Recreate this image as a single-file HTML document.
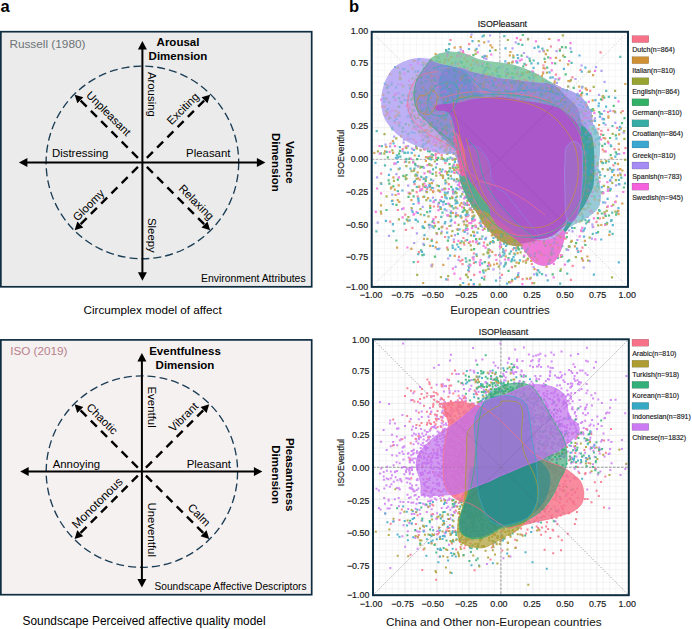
<!DOCTYPE html>
<html><head><meta charset="utf-8"><style>
html,body{margin:0;padding:0;background:#fff;}
svg{display:block;font-family:"Liberation Sans", sans-serif;}
</style></head><body>
<svg width="692" height="629" viewBox="0 0 692 629">
<text x="0.6" y="11.9" font-size="16.5" font-weight="bold">a</text>
<text x="349" y="11.8" font-size="16.5" font-weight="bold">b</text>
<rect x="0.85" y="31.7" width="310.84999999999997" height="255.10000000000002" fill="#eaebea" stroke="#0f2d40" stroke-width="1.7"/>
<circle cx="142.4" cy="162.4" r="96.3" fill="none" stroke="#1b3d55" stroke-width="1.35" stroke-dasharray="8 4"/>
<line x1="142.4" y1="48" x2="142.4" y2="273.8" stroke="#000" stroke-width="2"/>
<line x1="25.9" y1="162.4" x2="258.4" y2="162.4" stroke="#000" stroke-width="2"/>
<polygon points="142.40,41.00 146.90,49.50 137.90,49.50" fill="#000"/>
<polygon points="142.40,280.80 137.90,272.30 146.90,272.30" fill="#000"/>
<polygon points="18.90,162.40 27.40,157.90 27.40,166.90" fill="#000"/>
<polygon points="265.40,162.40 256.90,166.90 256.90,157.90" fill="#000"/>
<line x1="80.66" y1="100.66" x2="140.90" y2="160.90" stroke="#000" stroke-width="2.4" stroke-dasharray="8.5 6"/>
<polygon points="74.66,94.66 83.32,97.31 77.31,103.32" fill="#000"/>
<line x1="204.14" y1="100.66" x2="143.90" y2="160.90" stroke="#000" stroke-width="2.4" stroke-dasharray="8.5 6"/>
<polygon points="210.14,94.66 207.49,103.32 201.48,97.31" fill="#000"/>
<line x1="80.66" y1="224.14" x2="140.90" y2="163.90" stroke="#000" stroke-width="2.4" stroke-dasharray="8.5 6"/>
<polygon points="74.66,230.14 77.31,221.48 83.32,227.49" fill="#000"/>
<line x1="204.14" y1="224.14" x2="143.90" y2="163.90" stroke="#000" stroke-width="2.4" stroke-dasharray="8.5 6"/>
<polygon points="210.14,230.14 201.48,227.49 207.49,221.48" fill="#000"/>
<text x="9.4" y="48.2" font-size="11.8" font-weight="normal" fill="#6e7478" text-anchor="start">Russell (1980)</text>
<text x="178" y="45.6" font-size="11.5" font-weight="bold" fill="#000" text-anchor="middle">Arousal</text>
<text x="178" y="60.0" font-size="11.5" font-weight="bold" fill="#000" text-anchor="middle">Dimension</text>
<text x="286" y="162.3" font-size="11.5" font-weight="bold" fill="#000" text-anchor="middle" transform="rotate(90 286 162.3)">Valence</text>
<text x="272" y="162.3" font-size="11.5" font-weight="bold" fill="#000" text-anchor="middle" transform="rotate(90 272 162.3)">Dimension</text>
<text x="148.2" y="71.9" font-size="11.4" font-weight="normal" fill="#000" text-anchor="start" transform="rotate(90 148.2 71.9)">Arousing</text>
<text x="148.2" y="218" font-size="11.4" font-weight="normal" fill="#000" text-anchor="start" transform="rotate(90 148.2 218)">Sleepy</text>
<text x="52" y="157" font-size="11.4" font-weight="normal" fill="#000" text-anchor="start">Distressing</text>
<text x="186.1" y="157.3" font-size="11.4" font-weight="normal" fill="#000" text-anchor="start">Pleasant</text>
<text x="85.4" y="96" font-size="11.4" font-weight="normal" fill="#000" text-anchor="start" transform="rotate(45 85.4 96)">Unpleasant</text>
<text x="171.6" y="125.4" font-size="11.4" font-weight="normal" fill="#000" text-anchor="start" transform="rotate(-45 171.6 125.4)">Exciting</text>
<text x="77.4" y="221.8" font-size="11.4" font-weight="normal" fill="#000" text-anchor="start" transform="rotate(-45 77.4 221.8)">Gloomy</text>
<text x="178" y="189.3" font-size="11.4" font-weight="normal" fill="#000" text-anchor="start" transform="rotate(45 178 189.3)">Relaxing</text>
<text x="305.6" y="281.8" font-size="10.4" font-weight="normal" fill="#000" text-anchor="end">Environment Attributes</text>
<text x="152.6" y="313.8" font-size="11.7" font-weight="normal" fill="#000" text-anchor="middle">Circumplex model of affect</text>
<rect x="0.85" y="339.9" width="310.84999999999997" height="254.80000000000007" fill="#f6f1f1" stroke="#0f2d40" stroke-width="1.7"/>
<circle cx="141.9" cy="471.6" r="95.7" fill="none" stroke="#1b3d55" stroke-width="1.35" stroke-dasharray="8 4"/>
<line x1="141.9" y1="360.1" x2="141.9" y2="580.5" stroke="#000" stroke-width="2"/>
<line x1="27.2" y1="471.6" x2="255.39999999999998" y2="471.6" stroke="#000" stroke-width="2"/>
<polygon points="141.90,353.10 146.40,361.60 137.40,361.60" fill="#000"/>
<polygon points="141.90,587.50 137.40,579.00 146.40,579.00" fill="#000"/>
<polygon points="20.20,471.60 28.70,467.10 28.70,476.10" fill="#000"/>
<polygon points="262.40,471.60 253.90,476.10 253.90,467.10" fill="#000"/>
<line x1="80.58" y1="410.28" x2="140.40" y2="470.10" stroke="#000" stroke-width="2.4" stroke-dasharray="8.5 6"/>
<polygon points="74.58,404.28 83.25,406.94 77.24,412.95" fill="#000"/>
<line x1="203.22" y1="410.28" x2="143.40" y2="470.10" stroke="#000" stroke-width="2.4" stroke-dasharray="8.5 6"/>
<polygon points="209.22,404.28 206.56,412.95 200.55,406.94" fill="#000"/>
<line x1="80.58" y1="532.92" x2="140.40" y2="473.10" stroke="#000" stroke-width="2.4" stroke-dasharray="8.5 6"/>
<polygon points="74.58,538.92 77.24,530.25 83.25,536.26" fill="#000"/>
<line x1="203.22" y1="532.92" x2="143.40" y2="473.10" stroke="#000" stroke-width="2.4" stroke-dasharray="8.5 6"/>
<polygon points="209.22,538.92 200.55,536.26 206.56,530.25" fill="#000"/>
<text x="10.2" y="355.2" font-size="11.7" font-weight="normal" fill="#b77f8b" text-anchor="start">ISO (2019)</text>
<text x="185" y="355" font-size="11.5" font-weight="bold" fill="#000" text-anchor="middle">Eventfulness</text>
<text x="185" y="368.5" font-size="11.5" font-weight="bold" fill="#000" text-anchor="middle">Dimension</text>
<text x="286" y="474.7" font-size="11.5" font-weight="bold" fill="#000" text-anchor="middle" transform="rotate(90 286 474.7)">Pleasantness</text>
<text x="272" y="474.7" font-size="11.5" font-weight="bold" fill="#000" text-anchor="middle" transform="rotate(90 272 474.7)">Dimension</text>
<text x="147.5" y="386.5" font-size="11.4" font-weight="normal" fill="#000" text-anchor="start" transform="rotate(90 147.5 386.5)">Eventful</text>
<text x="147.5" y="502.5" font-size="11.4" font-weight="normal" fill="#000" text-anchor="start" transform="rotate(90 147.5 502.5)">Uneventful</text>
<text x="52.7" y="467.5" font-size="11.4" font-weight="normal" fill="#000" text-anchor="start">Annoying</text>
<text x="186.7" y="467.7" font-size="11.4" font-weight="normal" fill="#000" text-anchor="start">Pleasant</text>
<text x="85.7" y="408" font-size="11.4" font-weight="normal" fill="#000" text-anchor="start" transform="rotate(45 85.7 408)">Chaotic</text>
<text x="173.6" y="432.4" font-size="11.4" font-weight="normal" fill="#000" text-anchor="start" transform="rotate(-45 173.6 432.4)">Vibrant</text>
<text x="76.8" y="529.2" font-size="12" font-weight="normal" fill="#000" text-anchor="start" transform="rotate(-45 76.8 529.2)">Monotonous</text>
<text x="187" y="508.3" font-size="11.4" font-weight="normal" fill="#000" text-anchor="start" transform="rotate(45 187 508.3)">Calm</text>
<text x="306.6" y="590.4" font-size="10.2" font-weight="normal" fill="#000" text-anchor="end">Soundscape Affective Descriptors</text>
<text x="144.1" y="625.2" font-size="11.9" font-weight="normal" fill="#000" text-anchor="middle">Soundscape Perceived affective quality model</text>
<clipPath id="c1"><rect x="371.7" y="31.8" width="256.3" height="255.09999999999997"/></clipPath>
<rect x="371.7" y="31.8" width="256.3" height="255.09999999999997" fill="#fff"/>
<g><line x1="371.70" y1="31.8" x2="371.70" y2="286.9" stroke="#ececec" stroke-width="0.7"/><line x1="371.7" y1="286.90" x2="628.0" y2="286.90" stroke="#ececec" stroke-width="0.7"/><line x1="378.11" y1="31.8" x2="378.11" y2="286.9" stroke="#f4f4f4" stroke-width="0.7"/><line x1="371.7" y1="280.52" x2="628.0" y2="280.52" stroke="#f4f4f4" stroke-width="0.7"/><line x1="384.51" y1="31.8" x2="384.51" y2="286.9" stroke="#f4f4f4" stroke-width="0.7"/><line x1="371.7" y1="274.14" x2="628.0" y2="274.14" stroke="#f4f4f4" stroke-width="0.7"/><line x1="390.92" y1="31.8" x2="390.92" y2="286.9" stroke="#f4f4f4" stroke-width="0.7"/><line x1="371.7" y1="267.77" x2="628.0" y2="267.77" stroke="#f4f4f4" stroke-width="0.7"/><line x1="397.33" y1="31.8" x2="397.33" y2="286.9" stroke="#f4f4f4" stroke-width="0.7"/><line x1="371.7" y1="261.39" x2="628.0" y2="261.39" stroke="#f4f4f4" stroke-width="0.7"/><line x1="403.74" y1="31.8" x2="403.74" y2="286.9" stroke="#ececec" stroke-width="0.7"/><line x1="371.7" y1="255.01" x2="628.0" y2="255.01" stroke="#ececec" stroke-width="0.7"/><line x1="410.14" y1="31.8" x2="410.14" y2="286.9" stroke="#f4f4f4" stroke-width="0.7"/><line x1="371.7" y1="248.63" x2="628.0" y2="248.63" stroke="#f4f4f4" stroke-width="0.7"/><line x1="416.55" y1="31.8" x2="416.55" y2="286.9" stroke="#f4f4f4" stroke-width="0.7"/><line x1="371.7" y1="242.26" x2="628.0" y2="242.26" stroke="#f4f4f4" stroke-width="0.7"/><line x1="422.96" y1="31.8" x2="422.96" y2="286.9" stroke="#f4f4f4" stroke-width="0.7"/><line x1="371.7" y1="235.88" x2="628.0" y2="235.88" stroke="#f4f4f4" stroke-width="0.7"/><line x1="429.37" y1="31.8" x2="429.37" y2="286.9" stroke="#f4f4f4" stroke-width="0.7"/><line x1="371.7" y1="229.50" x2="628.0" y2="229.50" stroke="#f4f4f4" stroke-width="0.7"/><line x1="435.77" y1="31.8" x2="435.77" y2="286.9" stroke="#ececec" stroke-width="0.7"/><line x1="371.7" y1="223.12" x2="628.0" y2="223.12" stroke="#ececec" stroke-width="0.7"/><line x1="442.18" y1="31.8" x2="442.18" y2="286.9" stroke="#f4f4f4" stroke-width="0.7"/><line x1="371.7" y1="216.75" x2="628.0" y2="216.75" stroke="#f4f4f4" stroke-width="0.7"/><line x1="448.59" y1="31.8" x2="448.59" y2="286.9" stroke="#f4f4f4" stroke-width="0.7"/><line x1="371.7" y1="210.37" x2="628.0" y2="210.37" stroke="#f4f4f4" stroke-width="0.7"/><line x1="455.00" y1="31.8" x2="455.00" y2="286.9" stroke="#f4f4f4" stroke-width="0.7"/><line x1="371.7" y1="203.99" x2="628.0" y2="203.99" stroke="#f4f4f4" stroke-width="0.7"/><line x1="461.40" y1="31.8" x2="461.40" y2="286.9" stroke="#f4f4f4" stroke-width="0.7"/><line x1="371.7" y1="197.61" x2="628.0" y2="197.61" stroke="#f4f4f4" stroke-width="0.7"/><line x1="467.81" y1="31.8" x2="467.81" y2="286.9" stroke="#ececec" stroke-width="0.7"/><line x1="371.7" y1="191.24" x2="628.0" y2="191.24" stroke="#ececec" stroke-width="0.7"/><line x1="474.22" y1="31.8" x2="474.22" y2="286.9" stroke="#f4f4f4" stroke-width="0.7"/><line x1="371.7" y1="184.86" x2="628.0" y2="184.86" stroke="#f4f4f4" stroke-width="0.7"/><line x1="480.63" y1="31.8" x2="480.63" y2="286.9" stroke="#f4f4f4" stroke-width="0.7"/><line x1="371.7" y1="178.48" x2="628.0" y2="178.48" stroke="#f4f4f4" stroke-width="0.7"/><line x1="487.03" y1="31.8" x2="487.03" y2="286.9" stroke="#f4f4f4" stroke-width="0.7"/><line x1="371.7" y1="172.10" x2="628.0" y2="172.10" stroke="#f4f4f4" stroke-width="0.7"/><line x1="493.44" y1="31.8" x2="493.44" y2="286.9" stroke="#f4f4f4" stroke-width="0.7"/><line x1="371.7" y1="165.73" x2="628.0" y2="165.73" stroke="#f4f4f4" stroke-width="0.7"/><line x1="499.85" y1="31.8" x2="499.85" y2="286.9" stroke="#ececec" stroke-width="0.7"/><line x1="371.7" y1="159.35" x2="628.0" y2="159.35" stroke="#ececec" stroke-width="0.7"/><line x1="506.26" y1="31.8" x2="506.26" y2="286.9" stroke="#f4f4f4" stroke-width="0.7"/><line x1="371.7" y1="152.97" x2="628.0" y2="152.97" stroke="#f4f4f4" stroke-width="0.7"/><line x1="512.66" y1="31.8" x2="512.66" y2="286.9" stroke="#f4f4f4" stroke-width="0.7"/><line x1="371.7" y1="146.59" x2="628.0" y2="146.59" stroke="#f4f4f4" stroke-width="0.7"/><line x1="519.07" y1="31.8" x2="519.07" y2="286.9" stroke="#f4f4f4" stroke-width="0.7"/><line x1="371.7" y1="140.22" x2="628.0" y2="140.22" stroke="#f4f4f4" stroke-width="0.7"/><line x1="525.48" y1="31.8" x2="525.48" y2="286.9" stroke="#f4f4f4" stroke-width="0.7"/><line x1="371.7" y1="133.84" x2="628.0" y2="133.84" stroke="#f4f4f4" stroke-width="0.7"/><line x1="531.89" y1="31.8" x2="531.89" y2="286.9" stroke="#ececec" stroke-width="0.7"/><line x1="371.7" y1="127.46" x2="628.0" y2="127.46" stroke="#ececec" stroke-width="0.7"/><line x1="538.30" y1="31.8" x2="538.30" y2="286.9" stroke="#f4f4f4" stroke-width="0.7"/><line x1="371.7" y1="121.08" x2="628.0" y2="121.08" stroke="#f4f4f4" stroke-width="0.7"/><line x1="544.70" y1="31.8" x2="544.70" y2="286.9" stroke="#f4f4f4" stroke-width="0.7"/><line x1="371.7" y1="114.71" x2="628.0" y2="114.71" stroke="#f4f4f4" stroke-width="0.7"/><line x1="551.11" y1="31.8" x2="551.11" y2="286.9" stroke="#f4f4f4" stroke-width="0.7"/><line x1="371.7" y1="108.33" x2="628.0" y2="108.33" stroke="#f4f4f4" stroke-width="0.7"/><line x1="557.52" y1="31.8" x2="557.52" y2="286.9" stroke="#f4f4f4" stroke-width="0.7"/><line x1="371.7" y1="101.95" x2="628.0" y2="101.95" stroke="#f4f4f4" stroke-width="0.7"/><line x1="563.92" y1="31.8" x2="563.92" y2="286.9" stroke="#ececec" stroke-width="0.7"/><line x1="371.7" y1="95.57" x2="628.0" y2="95.57" stroke="#ececec" stroke-width="0.7"/><line x1="570.33" y1="31.8" x2="570.33" y2="286.9" stroke="#f4f4f4" stroke-width="0.7"/><line x1="371.7" y1="89.20" x2="628.0" y2="89.20" stroke="#f4f4f4" stroke-width="0.7"/><line x1="576.74" y1="31.8" x2="576.74" y2="286.9" stroke="#f4f4f4" stroke-width="0.7"/><line x1="371.7" y1="82.82" x2="628.0" y2="82.82" stroke="#f4f4f4" stroke-width="0.7"/><line x1="583.15" y1="31.8" x2="583.15" y2="286.9" stroke="#f4f4f4" stroke-width="0.7"/><line x1="371.7" y1="76.44" x2="628.0" y2="76.44" stroke="#f4f4f4" stroke-width="0.7"/><line x1="589.56" y1="31.8" x2="589.56" y2="286.9" stroke="#f4f4f4" stroke-width="0.7"/><line x1="371.7" y1="70.06" x2="628.0" y2="70.06" stroke="#f4f4f4" stroke-width="0.7"/><line x1="595.96" y1="31.8" x2="595.96" y2="286.9" stroke="#ececec" stroke-width="0.7"/><line x1="371.7" y1="63.69" x2="628.0" y2="63.69" stroke="#ececec" stroke-width="0.7"/><line x1="602.37" y1="31.8" x2="602.37" y2="286.9" stroke="#f4f4f4" stroke-width="0.7"/><line x1="371.7" y1="57.31" x2="628.0" y2="57.31" stroke="#f4f4f4" stroke-width="0.7"/><line x1="608.78" y1="31.8" x2="608.78" y2="286.9" stroke="#f4f4f4" stroke-width="0.7"/><line x1="371.7" y1="50.93" x2="628.0" y2="50.93" stroke="#f4f4f4" stroke-width="0.7"/><line x1="615.19" y1="31.8" x2="615.19" y2="286.9" stroke="#f4f4f4" stroke-width="0.7"/><line x1="371.7" y1="44.55" x2="628.0" y2="44.55" stroke="#f4f4f4" stroke-width="0.7"/><line x1="621.59" y1="31.8" x2="621.59" y2="286.9" stroke="#f4f4f4" stroke-width="0.7"/><line x1="371.7" y1="38.18" x2="628.0" y2="38.18" stroke="#f4f4f4" stroke-width="0.7"/><line x1="628.00" y1="31.8" x2="628.00" y2="286.9" stroke="#ececec" stroke-width="0.7"/><line x1="371.7" y1="31.80" x2="628.0" y2="31.80" stroke="#ececec" stroke-width="0.7"/></g>
<line x1="371.7" y1="31.8" x2="628.0" y2="286.9" stroke="#c2c2c2" stroke-width="0.7" stroke-dasharray="1.2 1.6"/>
<line x1="371.7" y1="286.9" x2="628.0" y2="31.8" stroke="#c2c2c2" stroke-width="0.7" stroke-dasharray="1.2 1.6"/>
<line x1="499.85" y1="31.8" x2="499.85" y2="286.9" stroke="#9a9a9a" stroke-width="0.8" stroke-dasharray="2.5 1.5"/>
<line x1="371.7" y1="159.35" x2="628.0" y2="159.35" stroke="#9a9a9a" stroke-width="0.8" stroke-dasharray="2.5 1.5"/>
<g clip-path="url(#c1)"><g id="dots1" opacity="0.8"><path d="M506.9 122.2h2.2v2.2h-2.2zM486.7 166.2h2.2v2.2h-2.2zM562.5 171.3h2.2v2.2h-2.2zM567.5 179.1h2.2v2.2h-2.2zM561.6 162.2h2.2v2.2h-2.2zM441.1 139.0h2.2v2.2h-2.2zM579.8 250.0h2.2v2.2h-2.2zM445.7 227.4h2.2v2.2h-2.2zM393.7 115.6h2.2v2.2h-2.2zM438.6 76.6h2.2v2.2h-2.2zM537.4 182.0h2.2v2.2h-2.2zM597.3 128.1h2.2v2.2h-2.2zM455.5 118.6h2.2v2.2h-2.2zM482.9 180.3h2.2v2.2h-2.2zM564.7 116.9h2.2v2.2h-2.2zM462.3 236.9h2.2v2.2h-2.2zM579.5 152.1h2.2v2.2h-2.2zM492.5 161.9h2.2v2.2h-2.2zM499.0 219.8h2.2v2.2h-2.2zM585.1 131.1h2.2v2.2h-2.2zM497.9 83.9h2.2v2.2h-2.2zM499.1 218.7h2.2v2.2h-2.2zM578.1 170.8h2.2v2.2h-2.2zM537.3 196.3h2.2v2.2h-2.2zM523.2 78.6h2.2v2.2h-2.2zM460.9 100.3h2.2v2.2h-2.2zM516.3 175.7h2.2v2.2h-2.2zM439.5 86.3h2.2v2.2h-2.2zM490.0 176.1h2.2v2.2h-2.2zM585.0 151.2h2.2v2.2h-2.2zM463.2 118.4h2.2v2.2h-2.2zM542.3 166.5h2.2v2.2h-2.2zM482.9 241.6h2.2v2.2h-2.2zM530.3 93.0h2.2v2.2h-2.2zM558.1 154.8h2.2v2.2h-2.2zM458.0 148.6h2.2v2.2h-2.2zM532.1 75.1h2.2v2.2h-2.2zM537.5 84.4h2.2v2.2h-2.2zM451.6 124.4h2.2v2.2h-2.2zM524.3 104.2h2.2v2.2h-2.2zM565.2 161.4h2.2v2.2h-2.2zM548.5 258.0h2.2v2.2h-2.2zM539.4 250.2h2.2v2.2h-2.2zM465.8 212.8h2.2v2.2h-2.2zM504.6 249.4h2.2v2.2h-2.2zM489.8 75.4h2.2v2.2h-2.2zM621.6 109.9h2.2v2.2h-2.2zM596.5 164.2h2.2v2.2h-2.2zM396.8 208.9h2.2v2.2h-2.2zM477.6 99.6h2.2v2.2h-2.2zM496.1 209.5h2.2v2.2h-2.2zM560.6 213.5h2.2v2.2h-2.2zM601.6 148.5h2.2v2.2h-2.2zM607.1 128.8h2.2v2.2h-2.2zM498.8 224.8h2.2v2.2h-2.2zM476.5 161.5h2.2v2.2h-2.2zM471.0 113.8h2.2v2.2h-2.2zM525.0 63.9h2.2v2.2h-2.2zM538.5 170.8h2.2v2.2h-2.2zM544.2 105.4h2.2v2.2h-2.2zM552.2 161.8h2.2v2.2h-2.2zM405.8 104.6h2.2v2.2h-2.2zM555.2 212.3h2.2v2.2h-2.2zM485.1 192.4h2.2v2.2h-2.2zM562.7 181.4h2.2v2.2h-2.2zM487.4 206.1h2.2v2.2h-2.2zM531.6 180.7h2.2v2.2h-2.2zM502.3 204.8h2.2v2.2h-2.2zM441.3 91.0h2.2v2.2h-2.2zM511.3 205.1h2.2v2.2h-2.2zM432.1 189.9h2.2v2.2h-2.2zM441.7 129.6h2.2v2.2h-2.2zM493.8 175.2h2.2v2.2h-2.2zM494.6 165.2h2.2v2.2h-2.2zM432.8 205.4h2.2v2.2h-2.2zM505.0 155.5h2.2v2.2h-2.2zM552.9 205.3h2.2v2.2h-2.2zM417.8 251.1h2.2v2.2h-2.2zM432.6 102.2h2.2v2.2h-2.2zM450.2 118.9h2.2v2.2h-2.2zM588.3 128.4h2.2v2.2h-2.2zM508.9 105.9h2.2v2.2h-2.2zM536.5 153.4h2.2v2.2h-2.2zM430.7 238.4h2.2v2.2h-2.2zM416.6 74.7h2.2v2.2h-2.2zM447.3 128.4h2.2v2.2h-2.2zM471.6 256.5h2.2v2.2h-2.2zM468.1 43.1h2.2v2.2h-2.2zM380.1 172.5h2.2v2.2h-2.2zM468.5 116.9h2.2v2.2h-2.2zM525.6 128.4h2.2v2.2h-2.2zM490.6 184.0h2.2v2.2h-2.2zM501.3 134.0h2.2v2.2h-2.2zM483.5 76.0h2.2v2.2h-2.2zM485.7 150.6h2.2v2.2h-2.2zM577.2 197.9h2.2v2.2h-2.2zM473.0 166.0h2.2v2.2h-2.2zM510.7 87.3h2.2v2.2h-2.2zM476.6 186.8h2.2v2.2h-2.2zM520.1 169.7h2.2v2.2h-2.2zM535.4 251.1h2.2v2.2h-2.2zM471.3 211.4h2.2v2.2h-2.2zM465.8 181.1h2.2v2.2h-2.2zM473.1 273.7h2.2v2.2h-2.2zM511.8 248.4h2.2v2.2h-2.2zM446.5 139.3h2.2v2.2h-2.2zM509.1 197.7h2.2v2.2h-2.2zM575.7 193.7h2.2v2.2h-2.2zM549.4 177.3h2.2v2.2h-2.2zM514.9 91.4h2.2v2.2h-2.2zM484.9 159.7h2.2v2.2h-2.2zM491.5 232.2h2.2v2.2h-2.2zM560.6 224.3h2.2v2.2h-2.2zM567.0 123.7h2.2v2.2h-2.2zM523.8 145.6h2.2v2.2h-2.2zM580.8 212.7h2.2v2.2h-2.2zM464.4 99.3h2.2v2.2h-2.2zM423.1 116.8h2.2v2.2h-2.2zM612.4 110.1h2.2v2.2h-2.2zM488.2 129.1h2.2v2.2h-2.2zM385.9 112.3h2.2v2.2h-2.2zM511.6 226.6h2.2v2.2h-2.2zM488.8 105.2h2.2v2.2h-2.2zM467.9 270.3h2.2v2.2h-2.2zM497.2 130.4h2.2v2.2h-2.2zM498.0 212.1h2.2v2.2h-2.2zM480.9 162.9h2.2v2.2h-2.2zM529.2 211.8h2.2v2.2h-2.2zM477.8 194.1h2.2v2.2h-2.2zM457.7 169.0h2.2v2.2h-2.2zM485.8 161.1h2.2v2.2h-2.2zM509.1 148.0h2.2v2.2h-2.2zM488.5 129.5h2.2v2.2h-2.2zM446.8 109.8h2.2v2.2h-2.2zM525.7 107.8h2.2v2.2h-2.2zM527.5 200.9h2.2v2.2h-2.2zM557.2 183.3h2.2v2.2h-2.2zM539.7 165.3h2.2v2.2h-2.2zM505.5 203.8h2.2v2.2h-2.2zM547.8 129.0h2.2v2.2h-2.2zM506.4 139.9h2.2v2.2h-2.2zM571.3 76.3h2.2v2.2h-2.2zM595.4 220.8h2.2v2.2h-2.2zM535.7 259.2h2.2v2.2h-2.2zM565.2 147.9h2.2v2.2h-2.2zM517.4 275.7h2.2v2.2h-2.2zM557.3 167.2h2.2v2.2h-2.2zM477.2 111.0h2.2v2.2h-2.2zM470.8 134.2h2.2v2.2h-2.2zM471.5 165.9h2.2v2.2h-2.2zM601.2 98.5h2.2v2.2h-2.2zM471.1 176.3h2.2v2.2h-2.2zM561.5 202.5h2.2v2.2h-2.2zM509.1 83.7h2.2v2.2h-2.2zM415.6 191.0h2.2v2.2h-2.2zM549.1 194.7h2.2v2.2h-2.2zM580.5 230.0h2.2v2.2h-2.2zM579.7 148.5h2.2v2.2h-2.2zM431.4 107.4h2.2v2.2h-2.2zM500.5 192.8h2.2v2.2h-2.2zM576.0 210.8h2.2v2.2h-2.2zM528.4 146.0h2.2v2.2h-2.2zM573.2 185.5h2.2v2.2h-2.2zM508.6 182.4h2.2v2.2h-2.2zM482.8 120.8h2.2v2.2h-2.2zM562.1 134.5h2.2v2.2h-2.2zM542.6 150.7h2.2v2.2h-2.2zM612.3 164.2h2.2v2.2h-2.2zM474.6 114.3h2.2v2.2h-2.2zM518.4 176.0h2.2v2.2h-2.2zM445.7 145.1h2.2v2.2h-2.2zM585.5 88.4h2.2v2.2h-2.2zM459.3 260.1h2.2v2.2h-2.2zM447.8 183.0h2.2v2.2h-2.2zM514.4 234.0h2.2v2.2h-2.2zM470.5 142.1h2.2v2.2h-2.2zM587.6 220.8h2.2v2.2h-2.2zM549.8 128.4h2.2v2.2h-2.2zM569.9 174.3h2.2v2.2h-2.2zM422.9 177.5h2.2v2.2h-2.2zM478.5 222.1h2.2v2.2h-2.2zM411.3 226.7h2.2v2.2h-2.2zM407.1 103.6h2.2v2.2h-2.2zM458.2 173.0h2.2v2.2h-2.2zM530.8 262.9h2.2v2.2h-2.2zM551.5 170.1h2.2v2.2h-2.2zM445.9 246.5h2.2v2.2h-2.2zM557.4 227.2h2.2v2.2h-2.2zM519.0 223.7h2.2v2.2h-2.2zM559.4 192.2h2.2v2.2h-2.2zM404.9 145.5h2.2v2.2h-2.2zM461.3 108.0h2.2v2.2h-2.2zM389.4 142.4h2.2v2.2h-2.2zM469.2 97.4h2.2v2.2h-2.2zM569.8 201.6h2.2v2.2h-2.2zM476.4 114.4h2.2v2.2h-2.2zM434.4 83.1h2.2v2.2h-2.2zM547.7 178.9h2.2v2.2h-2.2zM514.5 96.0h2.2v2.2h-2.2zM518.5 172.1h2.2v2.2h-2.2zM485.1 153.2h2.2v2.2h-2.2zM574.7 140.5h2.2v2.2h-2.2zM462.7 203.4h2.2v2.2h-2.2zM455.0 214.0h2.2v2.2h-2.2zM497.8 107.8h2.2v2.2h-2.2zM478.5 212.5h2.2v2.2h-2.2zM534.8 210.9h2.2v2.2h-2.2zM527.5 91.3h2.2v2.2h-2.2zM480.4 103.2h2.2v2.2h-2.2zM519.3 209.5h2.2v2.2h-2.2zM435.9 158.3h2.2v2.2h-2.2zM467.9 77.4h2.2v2.2h-2.2zM446.6 278.5h2.2v2.2h-2.2zM514.8 246.8h2.2v2.2h-2.2zM563.0 170.0h2.2v2.2h-2.2zM539.2 168.7h2.2v2.2h-2.2zM543.6 194.0h2.2v2.2h-2.2zM453.6 120.4h2.2v2.2h-2.2zM548.1 161.3h2.2v2.2h-2.2zM617.3 210.4h2.2v2.2h-2.2zM521.2 196.2h2.2v2.2h-2.2zM486.9 160.9h2.2v2.2h-2.2zM523.9 239.7h2.2v2.2h-2.2zM571.2 198.1h2.2v2.2h-2.2zM411.1 84.5h2.2v2.2h-2.2zM508.0 98.9h2.2v2.2h-2.2zM418.7 178.6h2.2v2.2h-2.2zM583.0 150.5h2.2v2.2h-2.2zM562.5 98.6h2.2v2.2h-2.2zM551.4 144.6h2.2v2.2h-2.2zM569.8 113.4h2.2v2.2h-2.2zM412.7 138.6h2.2v2.2h-2.2zM593.8 173.3h2.2v2.2h-2.2zM565.4 147.6h2.2v2.2h-2.2zM583.4 142.6h2.2v2.2h-2.2zM473.2 106.4h2.2v2.2h-2.2zM552.1 159.0h2.2v2.2h-2.2zM542.7 159.1h2.2v2.2h-2.2zM550.8 196.2h2.2v2.2h-2.2zM479.2 115.4h2.2v2.2h-2.2zM505.0 150.3h2.2v2.2h-2.2zM494.3 214.7h2.2v2.2h-2.2zM508.7 130.6h2.2v2.2h-2.2zM468.6 144.9h2.2v2.2h-2.2zM473.1 138.9h2.2v2.2h-2.2zM494.5 254.1h2.2v2.2h-2.2zM558.1 129.1h2.2v2.2h-2.2zM563.0 237.0h2.2v2.2h-2.2zM430.8 101.7h2.2v2.2h-2.2zM422.2 96.1h2.2v2.2h-2.2zM508.6 196.2h2.2v2.2h-2.2zM483.5 275.6h2.2v2.2h-2.2zM584.6 194.3h2.2v2.2h-2.2zM469.5 102.2h2.2v2.2h-2.2zM433.8 66.3h2.2v2.2h-2.2zM583.1 166.5h2.2v2.2h-2.2zM456.0 90.2h2.2v2.2h-2.2zM425.1 98.0h2.2v2.2h-2.2zM579.0 188.0h2.2v2.2h-2.2zM559.8 255.8h2.2v2.2h-2.2zM468.5 166.8h2.2v2.2h-2.2zM539.6 201.7h2.2v2.2h-2.2zM586.3 199.0h2.2v2.2h-2.2zM556.6 216.5h2.2v2.2h-2.2zM579.9 188.3h2.2v2.2h-2.2zM533.3 201.3h2.2v2.2h-2.2zM486.6 85.4h2.2v2.2h-2.2zM501.2 105.2h2.2v2.2h-2.2zM593.3 119.6h2.2v2.2h-2.2zM444.1 145.7h2.2v2.2h-2.2zM461.3 258.8h2.2v2.2h-2.2zM560.9 211.6h2.2v2.2h-2.2zM511.8 80.5h2.2v2.2h-2.2zM591.3 190.5h2.2v2.2h-2.2zM491.5 167.0h2.2v2.2h-2.2zM504.5 142.7h2.2v2.2h-2.2zM449.4 38.9h2.2v2.2h-2.2zM484.7 215.3h2.2v2.2h-2.2zM437.0 205.3h2.2v2.2h-2.2zM536.3 73.9h2.2v2.2h-2.2zM541.5 196.5h2.2v2.2h-2.2zM517.4 103.9h2.2v2.2h-2.2zM487.5 124.5h2.2v2.2h-2.2zM602.3 136.9h2.2v2.2h-2.2zM521.5 278.0h2.2v2.2h-2.2zM478.4 164.2h2.2v2.2h-2.2zM576.7 196.0h2.2v2.2h-2.2zM556.0 101.9h2.2v2.2h-2.2zM564.7 161.5h2.2v2.2h-2.2zM558.2 160.4h2.2v2.2h-2.2zM593.5 156.0h2.2v2.2h-2.2zM517.5 238.1h2.2v2.2h-2.2zM434.7 216.0h2.2v2.2h-2.2zM542.3 64.4h2.2v2.2h-2.2zM548.6 213.7h2.2v2.2h-2.2zM482.2 175.1h2.2v2.2h-2.2zM506.8 221.2h2.2v2.2h-2.2zM404.8 228.7h2.2v2.2h-2.2zM401.6 148.0h2.2v2.2h-2.2zM554.6 200.1h2.2v2.2h-2.2zM535.8 176.7h2.2v2.2h-2.2zM416.9 70.8h2.2v2.2h-2.2zM540.7 168.4h2.2v2.2h-2.2zM515.3 152.2h2.2v2.2h-2.2zM552.3 146.9h2.2v2.2h-2.2zM438.1 121.4h2.2v2.2h-2.2zM439.8 116.6h2.2v2.2h-2.2zM452.9 179.3h2.2v2.2h-2.2zM474.2 188.5h2.2v2.2h-2.2zM550.1 155.0h2.2v2.2h-2.2zM505.7 79.0h2.2v2.2h-2.2zM453.4 132.0h2.2v2.2h-2.2zM500.0 167.3h2.2v2.2h-2.2zM461.3 104.5h2.2v2.2h-2.2zM581.2 176.5h2.2v2.2h-2.2zM499.7 212.9h2.2v2.2h-2.2zM465.3 160.6h2.2v2.2h-2.2zM518.8 132.8h2.2v2.2h-2.2zM547.2 91.9h2.2v2.2h-2.2zM500.9 273.7h2.2v2.2h-2.2zM469.2 184.5h2.2v2.2h-2.2zM464.4 239.6h2.2v2.2h-2.2zM526.7 237.3h2.2v2.2h-2.2zM486.5 152.4h2.2v2.2h-2.2zM557.6 210.2h2.2v2.2h-2.2zM486.3 66.0h2.2v2.2h-2.2zM465.6 104.3h2.2v2.2h-2.2zM504.9 166.7h2.2v2.2h-2.2zM507.9 240.7h2.2v2.2h-2.2zM566.4 130.3h2.2v2.2h-2.2zM527.6 146.1h2.2v2.2h-2.2zM624.4 147.0h2.2v2.2h-2.2zM440.8 195.9h2.2v2.2h-2.2zM482.4 70.2h2.2v2.2h-2.2zM551.2 126.0h2.2v2.2h-2.2zM518.4 98.3h2.2v2.2h-2.2zM532.2 154.6h2.2v2.2h-2.2zM467.1 193.0h2.2v2.2h-2.2zM469.5 207.3h2.2v2.2h-2.2zM544.5 112.4h2.2v2.2h-2.2zM486.6 173.3h2.2v2.2h-2.2zM561.3 190.5h2.2v2.2h-2.2zM540.9 180.7h2.2v2.2h-2.2zM404.2 213.5h2.2v2.2h-2.2zM598.8 217.4h2.2v2.2h-2.2zM496.1 170.8h2.2v2.2h-2.2zM532.3 79.8h2.2v2.2h-2.2zM509.7 206.2h2.2v2.2h-2.2zM517.9 187.5h2.2v2.2h-2.2zM453.4 145.6h2.2v2.2h-2.2zM519.0 156.4h2.2v2.2h-2.2zM444.3 162.1h2.2v2.2h-2.2zM425.8 188.1h2.2v2.2h-2.2zM489.2 122.6h2.2v2.2h-2.2zM525.9 177.3h2.2v2.2h-2.2zM580.2 93.1h2.2v2.2h-2.2zM440.5 105.4h2.2v2.2h-2.2zM528.2 134.4h2.2v2.2h-2.2zM526.0 79.8h2.2v2.2h-2.2zM465.3 98.3h2.2v2.2h-2.2zM459.8 95.2h2.2v2.2h-2.2zM581.3 246.6h2.2v2.2h-2.2zM512.7 179.6h2.2v2.2h-2.2zM393.9 94.1h2.2v2.2h-2.2zM437.3 137.8h2.2v2.2h-2.2zM553.1 222.2h2.2v2.2h-2.2zM506.8 62.2h2.2v2.2h-2.2zM455.0 100.9h2.2v2.2h-2.2zM532.6 144.2h2.2v2.2h-2.2zM467.2 189.6h2.2v2.2h-2.2zM515.6 243.0h2.2v2.2h-2.2zM458.3 66.5h2.2v2.2h-2.2zM567.2 108.1h2.2v2.2h-2.2zM483.8 161.0h2.2v2.2h-2.2zM509.9 110.1h2.2v2.2h-2.2zM571.3 159.3h2.2v2.2h-2.2zM498.1 144.6h2.2v2.2h-2.2zM522.4 111.3h2.2v2.2h-2.2zM558.7 141.0h2.2v2.2h-2.2zM530.6 163.7h2.2v2.2h-2.2zM452.8 129.0h2.2v2.2h-2.2zM511.1 101.2h2.2v2.2h-2.2zM475.9 137.1h2.2v2.2h-2.2zM434.6 153.0h2.2v2.2h-2.2zM575.0 220.1h2.2v2.2h-2.2zM490.0 221.1h2.2v2.2h-2.2zM413.5 183.0h2.2v2.2h-2.2zM515.3 201.8h2.2v2.2h-2.2zM455.6 168.1h2.2v2.2h-2.2zM491.8 202.6h2.2v2.2h-2.2zM547.3 164.9h2.2v2.2h-2.2zM519.0 89.8h2.2v2.2h-2.2zM472.8 261.8h2.2v2.2h-2.2zM389.1 220.6h2.2v2.2h-2.2zM526.7 136.3h2.2v2.2h-2.2zM590.2 209.2h2.2v2.2h-2.2zM508.6 145.3h2.2v2.2h-2.2zM516.6 127.3h2.2v2.2h-2.2zM491.2 215.7h2.2v2.2h-2.2zM472.0 59.6h2.2v2.2h-2.2zM594.4 155.3h2.2v2.2h-2.2zM550.8 181.9h2.2v2.2h-2.2zM538.0 117.8h2.2v2.2h-2.2zM552.2 181.3h2.2v2.2h-2.2zM574.6 142.4h2.2v2.2h-2.2zM394.0 121.5h2.2v2.2h-2.2zM410.8 112.3h2.2v2.2h-2.2zM576.8 249.9h2.2v2.2h-2.2zM445.4 148.1h2.2v2.2h-2.2zM444.0 235.9h2.2v2.2h-2.2zM568.1 161.6h2.2v2.2h-2.2zM471.9 130.8h2.2v2.2h-2.2zM532.3 97.9h2.2v2.2h-2.2zM529.7 195.3h2.2v2.2h-2.2zM599.5 51.3h2.2v2.2h-2.2zM500.1 191.3h2.2v2.2h-2.2zM423.7 148.3h2.2v2.2h-2.2zM435.8 109.2h2.2v2.2h-2.2zM463.2 243.5h2.2v2.2h-2.2zM554.8 73.6h2.2v2.2h-2.2zM515.9 194.6h2.2v2.2h-2.2zM501.9 184.9h2.2v2.2h-2.2zM493.4 121.6h2.2v2.2h-2.2zM477.6 121.3h2.2v2.2h-2.2zM397.1 105.7h2.2v2.2h-2.2zM493.0 192.0h2.2v2.2h-2.2zM564.0 192.8h2.2v2.2h-2.2zM493.6 181.0h2.2v2.2h-2.2zM485.1 94.0h2.2v2.2h-2.2zM487.3 148.4h2.2v2.2h-2.2zM497.1 233.6h2.2v2.2h-2.2zM492.4 211.3h2.2v2.2h-2.2zM517.2 160.3h2.2v2.2h-2.2zM568.4 189.4h2.2v2.2h-2.2zM418.3 185.5h2.2v2.2h-2.2zM471.8 240.3h2.2v2.2h-2.2zM464.9 158.3h2.2v2.2h-2.2zM559.6 144.2h2.2v2.2h-2.2zM472.8 252.4h2.2v2.2h-2.2zM573.0 113.9h2.2v2.2h-2.2zM584.9 168.4h2.2v2.2h-2.2zM398.8 76.2h2.2v2.2h-2.2zM549.8 131.5h2.2v2.2h-2.2zM558.9 48.2h2.2v2.2h-2.2zM567.1 158.9h2.2v2.2h-2.2zM568.1 150.3h2.2v2.2h-2.2zM553.0 117.6h2.2v2.2h-2.2zM504.7 262.3h2.2v2.2h-2.2zM422.7 94.7h2.2v2.2h-2.2zM530.9 110.7h2.2v2.2h-2.2zM450.3 210.6h2.2v2.2h-2.2zM616.1 126.7h2.2v2.2h-2.2zM460.9 187.3h2.2v2.2h-2.2zM413.5 59.9h2.2v2.2h-2.2zM563.8 222.9h2.2v2.2h-2.2zM452.1 191.2h2.2v2.2h-2.2zM516.3 154.3h2.2v2.2h-2.2zM461.9 121.2h2.2v2.2h-2.2zM572.9 114.7h2.2v2.2h-2.2zM547.8 85.3h2.2v2.2h-2.2zM428.8 185.7h2.2v2.2h-2.2zM505.1 140.1h2.2v2.2h-2.2zM524.0 250.3h2.2v2.2h-2.2zM531.3 213.2h2.2v2.2h-2.2zM537.5 152.7h2.2v2.2h-2.2zM456.3 54.3h2.2v2.2h-2.2zM535.0 175.8h2.2v2.2h-2.2zM517.8 116.1h2.2v2.2h-2.2zM454.5 132.9h2.2v2.2h-2.2zM491.6 105.7h2.2v2.2h-2.2zM525.0 259.4h2.2v2.2h-2.2zM585.3 103.5h2.2v2.2h-2.2zM552.3 230.4h2.2v2.2h-2.2zM424.9 112.6h2.2v2.2h-2.2zM509.8 169.6h2.2v2.2h-2.2zM497.0 178.9h2.2v2.2h-2.2zM476.5 84.6h2.2v2.2h-2.2zM596.6 181.5h2.2v2.2h-2.2zM531.9 163.4h2.2v2.2h-2.2zM462.1 51.7h2.2v2.2h-2.2zM500.4 85.2h2.2v2.2h-2.2zM546.9 235.1h2.2v2.2h-2.2zM500.1 147.6h2.2v2.2h-2.2zM490.1 129.1h2.2v2.2h-2.2zM464.0 195.6h2.2v2.2h-2.2zM590.6 195.0h2.2v2.2h-2.2zM459.6 99.5h2.2v2.2h-2.2zM519.0 75.6h2.2v2.2h-2.2zM403.9 160.8h2.2v2.2h-2.2zM443.6 130.5h2.2v2.2h-2.2zM466.6 215.0h2.2v2.2h-2.2zM478.9 184.1h2.2v2.2h-2.2zM569.8 278.7h2.2v2.2h-2.2zM475.9 144.3h2.2v2.2h-2.2zM528.4 254.9h2.2v2.2h-2.2zM600.3 129.7h2.2v2.2h-2.2zM492.3 207.9h2.2v2.2h-2.2zM517.4 175.4h2.2v2.2h-2.2zM574.0 167.8h2.2v2.2h-2.2zM542.4 237.2h2.2v2.2h-2.2zM586.1 187.2h2.2v2.2h-2.2zM549.8 164.2h2.2v2.2h-2.2zM459.0 51.4h2.2v2.2h-2.2zM593.9 169.0h2.2v2.2h-2.2zM533.3 180.4h2.2v2.2h-2.2zM473.0 207.9h2.2v2.2h-2.2zM456.4 227.9h2.2v2.2h-2.2zM435.1 104.6h2.2v2.2h-2.2zM503.0 122.2h2.2v2.2h-2.2zM427.0 77.5h2.2v2.2h-2.2zM464.6 141.7h2.2v2.2h-2.2zM487.4 217.5h2.2v2.2h-2.2zM510.8 266.0h2.2v2.2h-2.2zM531.2 282.1h2.2v2.2h-2.2zM552.7 230.5h2.2v2.2h-2.2zM457.0 62.7h2.2v2.2h-2.2zM565.9 108.0h2.2v2.2h-2.2zM549.8 45.4h2.2v2.2h-2.2zM518.3 167.4h2.2v2.2h-2.2zM562.3 125.2h2.2v2.2h-2.2zM518.7 79.4h2.2v2.2h-2.2zM479.9 210.5h2.2v2.2h-2.2zM487.3 148.7h2.2v2.2h-2.2zM490.1 181.5h2.2v2.2h-2.2zM613.4 148.1h2.2v2.2h-2.2zM489.2 249.3h2.2v2.2h-2.2zM434.8 115.6h2.2v2.2h-2.2zM544.5 222.6h2.2v2.2h-2.2zM483.2 222.5h2.2v2.2h-2.2zM518.9 243.6h2.2v2.2h-2.2zM498.9 172.7h2.2v2.2h-2.2zM452.9 240.9h2.2v2.2h-2.2zM535.1 96.1h2.2v2.2h-2.2zM547.8 96.4h2.2v2.2h-2.2zM411.8 148.2h2.2v2.2h-2.2zM508.2 131.3h2.2v2.2h-2.2zM471.7 201.7h2.2v2.2h-2.2zM440.6 154.0h2.2v2.2h-2.2zM494.0 118.1h2.2v2.2h-2.2zM461.5 263.1h2.2v2.2h-2.2zM566.9 209.3h2.2v2.2h-2.2zM381.4 105.5h2.2v2.2h-2.2zM527.2 177.7h2.2v2.2h-2.2zM485.8 124.2h2.2v2.2h-2.2zM552.6 91.8h2.2v2.2h-2.2zM544.0 67.4h2.2v2.2h-2.2zM455.3 199.4h2.2v2.2h-2.2zM494.2 190.6h2.2v2.2h-2.2zM406.8 137.8h2.2v2.2h-2.2zM525.1 140.4h2.2v2.2h-2.2zM506.5 136.8h2.2v2.2h-2.2zM584.8 116.5h2.2v2.2h-2.2zM580.9 165.8h2.2v2.2h-2.2zM475.5 201.8h2.2v2.2h-2.2zM501.2 194.6h2.2v2.2h-2.2zM514.2 170.5h2.2v2.2h-2.2zM452.9 131.2h2.2v2.2h-2.2zM460.4 126.5h2.2v2.2h-2.2zM578.6 108.0h2.2v2.2h-2.2zM579.4 68.9h2.2v2.2h-2.2zM509.7 91.9h2.2v2.2h-2.2zM548.2 229.0h2.2v2.2h-2.2zM548.5 139.8h2.2v2.2h-2.2zM583.5 159.8h2.2v2.2h-2.2zM589.1 89.8h2.2v2.2h-2.2zM580.4 153.8h2.2v2.2h-2.2zM518.0 100.1h2.2v2.2h-2.2zM570.3 185.5h2.2v2.2h-2.2zM571.2 200.4h2.2v2.2h-2.2zM564.4 237.5h2.2v2.2h-2.2zM398.0 121.4h2.2v2.2h-2.2zM586.4 177.2h2.2v2.2h-2.2zM486.4 122.0h2.2v2.2h-2.2zM493.6 162.0h2.2v2.2h-2.2zM606.9 111.0h2.2v2.2h-2.2zM535.2 105.5h2.2v2.2h-2.2zM436.0 116.2h2.2v2.2h-2.2zM497.6 102.0h2.2v2.2h-2.2zM453.7 108.9h2.2v2.2h-2.2zM458.5 152.4h2.2v2.2h-2.2zM561.2 191.6h2.2v2.2h-2.2zM524.6 177.3h2.2v2.2h-2.2zM518.5 88.7h2.2v2.2h-2.2zM423.9 123.9h2.2v2.2h-2.2zM539.6 146.4h2.2v2.2h-2.2zM437.4 152.0h2.2v2.2h-2.2zM507.9 103.6h2.2v2.2h-2.2zM470.8 202.5h2.2v2.2h-2.2zM453.4 98.2h2.2v2.2h-2.2zM477.0 63.3h2.2v2.2h-2.2zM490.5 174.0h2.2v2.2h-2.2zM512.1 179.4h2.2v2.2h-2.2zM534.2 114.5h2.2v2.2h-2.2zM515.1 130.8h2.2v2.2h-2.2zM542.1 71.2h2.2v2.2h-2.2zM530.3 191.5h2.2v2.2h-2.2zM539.6 189.5h2.2v2.2h-2.2zM456.0 163.8h2.2v2.2h-2.2zM531.3 227.6h2.2v2.2h-2.2zM495.5 205.8h2.2v2.2h-2.2zM522.1 218.3h2.2v2.2h-2.2zM536.9 112.7h2.2v2.2h-2.2zM422.7 120.3h2.2v2.2h-2.2zM440.2 116.2h2.2v2.2h-2.2zM510.4 187.8h2.2v2.2h-2.2zM451.0 195.8h2.2v2.2h-2.2zM458.0 255.8h2.2v2.2h-2.2zM498.8 152.7h2.2v2.2h-2.2zM521.6 112.3h2.2v2.2h-2.2zM519.5 38.7h2.2v2.2h-2.2zM529.5 203.2h2.2v2.2h-2.2zM592.1 225.8h2.2v2.2h-2.2zM468.1 176.3h2.2v2.2h-2.2zM476.4 172.8h2.2v2.2h-2.2zM553.3 230.9h2.2v2.2h-2.2zM473.8 168.6h2.2v2.2h-2.2zM444.4 118.0h2.2v2.2h-2.2zM511.8 60.5h2.2v2.2h-2.2zM460.4 150.6h2.2v2.2h-2.2zM499.1 235.3h2.2v2.2h-2.2zM555.4 117.3h2.2v2.2h-2.2zM562.5 223.0h2.2v2.2h-2.2zM435.1 156.8h2.2v2.2h-2.2zM599.9 133.3h2.2v2.2h-2.2zM550.3 179.4h2.2v2.2h-2.2zM560.4 158.9h2.2v2.2h-2.2zM504.5 153.2h2.2v2.2h-2.2zM578.6 128.9h2.2v2.2h-2.2zM474.6 77.9h2.2v2.2h-2.2zM544.6 235.4h2.2v2.2h-2.2zM409.3 192.4h2.2v2.2h-2.2zM541.8 107.9h2.2v2.2h-2.2zM571.6 209.5h2.2v2.2h-2.2zM547.7 223.4h2.2v2.2h-2.2zM441.4 225.6h2.2v2.2h-2.2zM416.6 195.2h2.2v2.2h-2.2zM416.9 260.7h2.2v2.2h-2.2zM594.2 143.6h2.2v2.2h-2.2zM495.7 192.5h2.2v2.2h-2.2zM504.2 179.8h2.2v2.2h-2.2zM558.7 122.5h2.2v2.2h-2.2zM482.4 85.9h2.2v2.2h-2.2zM536.2 269.0h2.2v2.2h-2.2zM454.5 169.4h2.2v2.2h-2.2zM442.3 113.1h2.2v2.2h-2.2zM411.6 127.2h2.2v2.2h-2.2zM478.1 117.8h2.2v2.2h-2.2zM494.6 147.3h2.2v2.2h-2.2zM462.8 180.4h2.2v2.2h-2.2zM565.6 231.9h2.2v2.2h-2.2zM496.4 221.3h2.2v2.2h-2.2zM452.3 104.3h2.2v2.2h-2.2zM498.5 145.3h2.2v2.2h-2.2zM422.2 185.3h2.2v2.2h-2.2zM526.6 162.1h2.2v2.2h-2.2zM597.6 171.2h2.2v2.2h-2.2zM468.4 54.6h2.2v2.2h-2.2zM468.7 186.9h2.2v2.2h-2.2zM467.8 203.9h2.2v2.2h-2.2zM531.9 154.2h2.2v2.2h-2.2zM461.8 151.9h2.2v2.2h-2.2zM574.8 120.2h2.2v2.2h-2.2zM408.7 106.6h2.2v2.2h-2.2zM568.0 206.8h2.2v2.2h-2.2zM571.6 264.8h2.2v2.2h-2.2zM524.5 90.9h2.2v2.2h-2.2zM423.3 68.2h2.2v2.2h-2.2zM494.9 217.4h2.2v2.2h-2.2zM511.0 187.8h2.2v2.2h-2.2zM499.1 241.6h2.2v2.2h-2.2zM555.2 193.0h2.2v2.2h-2.2zM465.1 215.3h2.2v2.2h-2.2zM533.8 192.3h2.2v2.2h-2.2zM451.7 146.7h2.2v2.2h-2.2z" fill="#f77189"/><path d="M516.9 217.4h2.2v2.2h-2.2zM520.1 99.3h2.2v2.2h-2.2zM601.2 144.8h2.2v2.2h-2.2zM558.3 194.4h2.2v2.2h-2.2zM453.9 75.3h2.2v2.2h-2.2zM464.4 73.7h2.2v2.2h-2.2zM401.5 130.5h2.2v2.2h-2.2zM410.7 92.2h2.2v2.2h-2.2zM511.3 72.4h2.2v2.2h-2.2zM514.4 111.2h2.2v2.2h-2.2zM557.5 223.2h2.2v2.2h-2.2zM544.5 119.8h2.2v2.2h-2.2zM438.5 132.5h2.2v2.2h-2.2zM532.5 241.1h2.2v2.2h-2.2zM483.7 131.6h2.2v2.2h-2.2zM469.4 111.2h2.2v2.2h-2.2zM521.6 82.1h2.2v2.2h-2.2zM498.0 192.3h2.2v2.2h-2.2zM455.5 200.6h2.2v2.2h-2.2zM500.2 200.3h2.2v2.2h-2.2zM529.6 191.6h2.2v2.2h-2.2zM562.9 218.1h2.2v2.2h-2.2zM389.0 116.9h2.2v2.2h-2.2zM526.2 139.9h2.2v2.2h-2.2zM507.4 198.0h2.2v2.2h-2.2zM476.7 143.3h2.2v2.2h-2.2zM463.8 114.9h2.2v2.2h-2.2zM609.0 136.9h2.2v2.2h-2.2zM515.3 184.5h2.2v2.2h-2.2zM444.5 118.0h2.2v2.2h-2.2zM439.8 131.6h2.2v2.2h-2.2zM518.0 170.6h2.2v2.2h-2.2zM503.6 240.3h2.2v2.2h-2.2zM558.8 49.6h2.2v2.2h-2.2zM501.0 166.4h2.2v2.2h-2.2zM545.0 151.2h2.2v2.2h-2.2zM511.4 135.6h2.2v2.2h-2.2zM522.7 255.6h2.2v2.2h-2.2zM525.0 217.4h2.2v2.2h-2.2zM489.3 120.2h2.2v2.2h-2.2zM416.2 158.0h2.2v2.2h-2.2zM563.9 100.9h2.2v2.2h-2.2zM496.8 238.9h2.2v2.2h-2.2zM508.2 182.8h2.2v2.2h-2.2zM477.1 187.9h2.2v2.2h-2.2zM553.1 116.4h2.2v2.2h-2.2zM538.2 149.0h2.2v2.2h-2.2zM564.7 46.2h2.2v2.2h-2.2zM484.4 151.5h2.2v2.2h-2.2zM409.7 98.6h2.2v2.2h-2.2zM507.8 92.4h2.2v2.2h-2.2zM494.7 234.2h2.2v2.2h-2.2zM507.4 269.8h2.2v2.2h-2.2zM549.2 122.9h2.2v2.2h-2.2zM501.2 97.2h2.2v2.2h-2.2zM516.0 118.1h2.2v2.2h-2.2zM479.4 149.5h2.2v2.2h-2.2zM494.4 211.0h2.2v2.2h-2.2zM520.6 231.2h2.2v2.2h-2.2zM460.8 61.6h2.2v2.2h-2.2zM492.4 134.7h2.2v2.2h-2.2zM542.8 131.9h2.2v2.2h-2.2zM473.9 73.2h2.2v2.2h-2.2zM398.1 97.1h2.2v2.2h-2.2zM547.5 241.5h2.2v2.2h-2.2zM506.4 129.1h2.2v2.2h-2.2zM513.4 238.5h2.2v2.2h-2.2zM464.9 79.1h2.2v2.2h-2.2zM552.0 232.1h2.2v2.2h-2.2zM477.0 162.8h2.2v2.2h-2.2zM477.0 141.0h2.2v2.2h-2.2zM532.0 188.9h2.2v2.2h-2.2zM473.6 196.6h2.2v2.2h-2.2zM557.4 100.1h2.2v2.2h-2.2zM511.1 130.0h2.2v2.2h-2.2zM501.1 167.4h2.2v2.2h-2.2zM547.1 56.3h2.2v2.2h-2.2zM385.9 86.8h2.2v2.2h-2.2zM500.2 216.4h2.2v2.2h-2.2zM473.4 150.8h2.2v2.2h-2.2zM451.4 123.5h2.2v2.2h-2.2zM493.7 103.2h2.2v2.2h-2.2zM573.6 173.1h2.2v2.2h-2.2zM511.0 178.1h2.2v2.2h-2.2zM523.7 155.6h2.2v2.2h-2.2zM429.2 206.8h2.2v2.2h-2.2zM513.1 205.6h2.2v2.2h-2.2zM539.7 126.9h2.2v2.2h-2.2zM386.7 156.2h2.2v2.2h-2.2zM531.9 82.7h2.2v2.2h-2.2zM513.7 104.5h2.2v2.2h-2.2zM525.2 186.7h2.2v2.2h-2.2zM520.7 126.7h2.2v2.2h-2.2zM533.6 255.4h2.2v2.2h-2.2zM405.7 218.6h2.2v2.2h-2.2zM394.5 98.7h2.2v2.2h-2.2zM525.8 213.5h2.2v2.2h-2.2zM506.0 190.0h2.2v2.2h-2.2zM558.0 193.4h2.2v2.2h-2.2zM527.8 96.1h2.2v2.2h-2.2zM495.8 126.9h2.2v2.2h-2.2zM556.2 123.7h2.2v2.2h-2.2zM490.4 129.8h2.2v2.2h-2.2zM515.4 146.9h2.2v2.2h-2.2zM598.0 209.0h2.2v2.2h-2.2zM550.2 213.0h2.2v2.2h-2.2zM422.4 117.7h2.2v2.2h-2.2zM451.9 144.2h2.2v2.2h-2.2zM590.0 108.9h2.2v2.2h-2.2zM575.0 143.0h2.2v2.2h-2.2zM610.0 145.1h2.2v2.2h-2.2zM444.9 127.1h2.2v2.2h-2.2zM508.5 252.5h2.2v2.2h-2.2zM424.6 179.8h2.2v2.2h-2.2zM546.8 161.3h2.2v2.2h-2.2zM591.6 163.4h2.2v2.2h-2.2zM518.7 208.6h2.2v2.2h-2.2zM521.7 33.9h2.2v2.2h-2.2zM556.9 154.2h2.2v2.2h-2.2zM540.0 133.6h2.2v2.2h-2.2zM545.8 132.0h2.2v2.2h-2.2zM542.8 157.1h2.2v2.2h-2.2zM494.6 182.7h2.2v2.2h-2.2zM512.1 93.7h2.2v2.2h-2.2zM577.6 174.3h2.2v2.2h-2.2zM487.0 184.8h2.2v2.2h-2.2zM420.6 81.9h2.2v2.2h-2.2zM466.2 141.6h2.2v2.2h-2.2zM402.2 174.8h2.2v2.2h-2.2zM509.2 229.7h2.2v2.2h-2.2zM581.0 91.8h2.2v2.2h-2.2zM537.0 45.5h2.2v2.2h-2.2zM515.1 183.2h2.2v2.2h-2.2zM510.6 149.9h2.2v2.2h-2.2zM468.3 173.0h2.2v2.2h-2.2zM524.3 216.5h2.2v2.2h-2.2zM584.2 243.9h2.2v2.2h-2.2zM433.9 255.5h2.2v2.2h-2.2zM534.9 198.8h2.2v2.2h-2.2zM521.8 217.3h2.2v2.2h-2.2zM607.9 214.4h2.2v2.2h-2.2zM548.7 216.3h2.2v2.2h-2.2zM515.9 205.1h2.2v2.2h-2.2zM484.1 138.9h2.2v2.2h-2.2zM564.6 142.0h2.2v2.2h-2.2zM424.8 89.4h2.2v2.2h-2.2zM509.8 186.2h2.2v2.2h-2.2zM598.1 110.9h2.2v2.2h-2.2zM494.3 161.7h2.2v2.2h-2.2zM479.3 82.8h2.2v2.2h-2.2zM523.6 164.7h2.2v2.2h-2.2zM579.1 202.8h2.2v2.2h-2.2zM446.6 143.3h2.2v2.2h-2.2zM423.0 243.8h2.2v2.2h-2.2zM488.4 67.4h2.2v2.2h-2.2zM407.0 94.8h2.2v2.2h-2.2zM558.8 148.3h2.2v2.2h-2.2zM509.7 139.3h2.2v2.2h-2.2zM555.3 140.0h2.2v2.2h-2.2zM498.3 109.4h2.2v2.2h-2.2zM440.5 139.0h2.2v2.2h-2.2zM422.1 63.7h2.2v2.2h-2.2zM544.8 112.8h2.2v2.2h-2.2zM595.5 178.8h2.2v2.2h-2.2zM459.1 151.5h2.2v2.2h-2.2zM517.3 93.8h2.2v2.2h-2.2zM486.4 251.3h2.2v2.2h-2.2zM549.6 161.9h2.2v2.2h-2.2zM575.2 150.5h2.2v2.2h-2.2zM452.5 133.9h2.2v2.2h-2.2zM540.0 92.5h2.2v2.2h-2.2zM522.1 207.2h2.2v2.2h-2.2zM483.1 278.2h2.2v2.2h-2.2zM415.1 145.3h2.2v2.2h-2.2zM491.9 84.3h2.2v2.2h-2.2zM449.1 197.2h2.2v2.2h-2.2zM524.8 250.5h2.2v2.2h-2.2zM600.7 212.4h2.2v2.2h-2.2zM473.9 179.9h2.2v2.2h-2.2zM448.4 203.4h2.2v2.2h-2.2zM508.3 170.6h2.2v2.2h-2.2zM474.1 203.2h2.2v2.2h-2.2zM560.8 211.5h2.2v2.2h-2.2zM589.1 203.1h2.2v2.2h-2.2zM407.4 195.8h2.2v2.2h-2.2zM451.0 110.8h2.2v2.2h-2.2zM520.8 99.6h2.2v2.2h-2.2zM424.3 135.5h2.2v2.2h-2.2zM445.0 49.1h2.2v2.2h-2.2zM564.5 207.9h2.2v2.2h-2.2zM520.7 163.8h2.2v2.2h-2.2zM548.3 194.9h2.2v2.2h-2.2zM483.7 261.0h2.2v2.2h-2.2zM428.5 163.6h2.2v2.2h-2.2zM442.3 158.0h2.2v2.2h-2.2zM583.6 129.9h2.2v2.2h-2.2zM490.7 200.1h2.2v2.2h-2.2zM465.3 136.1h2.2v2.2h-2.2zM518.8 166.9h2.2v2.2h-2.2zM528.8 71.0h2.2v2.2h-2.2zM431.9 154.0h2.2v2.2h-2.2zM435.9 99.0h2.2v2.2h-2.2zM484.5 194.2h2.2v2.2h-2.2zM411.7 97.2h2.2v2.2h-2.2zM550.8 104.4h2.2v2.2h-2.2zM493.7 179.4h2.2v2.2h-2.2zM437.9 201.7h2.2v2.2h-2.2zM515.4 229.3h2.2v2.2h-2.2zM419.9 249.3h2.2v2.2h-2.2zM573.7 198.0h2.2v2.2h-2.2zM506.2 163.4h2.2v2.2h-2.2zM499.0 158.4h2.2v2.2h-2.2zM538.9 109.3h2.2v2.2h-2.2zM561.0 255.2h2.2v2.2h-2.2zM521.5 71.9h2.2v2.2h-2.2zM500.7 101.6h2.2v2.2h-2.2zM498.1 149.0h2.2v2.2h-2.2zM430.5 124.7h2.2v2.2h-2.2zM492.8 200.2h2.2v2.2h-2.2zM580.9 179.7h2.2v2.2h-2.2zM507.3 256.9h2.2v2.2h-2.2zM529.2 147.5h2.2v2.2h-2.2zM405.4 173.9h2.2v2.2h-2.2zM569.1 201.4h2.2v2.2h-2.2zM600.8 191.3h2.2v2.2h-2.2zM425.5 112.1h2.2v2.2h-2.2zM487.4 141.2h2.2v2.2h-2.2zM535.0 192.5h2.2v2.2h-2.2zM487.2 202.2h2.2v2.2h-2.2zM435.9 158.9h2.2v2.2h-2.2zM516.3 208.2h2.2v2.2h-2.2zM449.0 148.2h2.2v2.2h-2.2zM542.3 224.0h2.2v2.2h-2.2zM488.4 177.8h2.2v2.2h-2.2zM493.5 156.1h2.2v2.2h-2.2zM479.1 176.4h2.2v2.2h-2.2zM556.4 116.8h2.2v2.2h-2.2zM454.6 215.5h2.2v2.2h-2.2zM509.8 200.6h2.2v2.2h-2.2zM509.1 209.5h2.2v2.2h-2.2zM450.2 185.7h2.2v2.2h-2.2zM502.6 228.5h2.2v2.2h-2.2zM498.9 75.3h2.2v2.2h-2.2zM560.9 223.1h2.2v2.2h-2.2zM512.3 160.9h2.2v2.2h-2.2zM439.6 116.4h2.2v2.2h-2.2zM559.6 187.2h2.2v2.2h-2.2zM484.4 68.7h2.2v2.2h-2.2zM434.0 109.0h2.2v2.2h-2.2zM516.7 246.1h2.2v2.2h-2.2zM525.0 108.3h2.2v2.2h-2.2zM520.4 172.7h2.2v2.2h-2.2zM564.6 73.2h2.2v2.2h-2.2zM475.0 238.0h2.2v2.2h-2.2zM520.0 171.2h2.2v2.2h-2.2zM524.2 144.0h2.2v2.2h-2.2zM501.2 186.8h2.2v2.2h-2.2zM412.2 160.6h2.2v2.2h-2.2zM556.9 256.9h2.2v2.2h-2.2zM487.7 112.1h2.2v2.2h-2.2zM463.1 65.7h2.2v2.2h-2.2zM548.8 175.6h2.2v2.2h-2.2zM407.3 132.8h2.2v2.2h-2.2zM446.8 239.5h2.2v2.2h-2.2zM398.1 105.5h2.2v2.2h-2.2zM533.6 222.3h2.2v2.2h-2.2zM542.4 151.1h2.2v2.2h-2.2zM495.6 157.1h2.2v2.2h-2.2zM535.7 203.7h2.2v2.2h-2.2zM468.6 259.3h2.2v2.2h-2.2zM477.7 123.2h2.2v2.2h-2.2zM447.2 151.5h2.2v2.2h-2.2zM510.1 81.3h2.2v2.2h-2.2zM463.9 155.8h2.2v2.2h-2.2zM577.8 183.8h2.2v2.2h-2.2zM523.3 226.4h2.2v2.2h-2.2zM488.3 162.1h2.2v2.2h-2.2zM566.6 179.0h2.2v2.2h-2.2zM548.8 258.7h2.2v2.2h-2.2zM430.6 239.7h2.2v2.2h-2.2zM559.3 269.9h2.2v2.2h-2.2zM561.9 124.9h2.2v2.2h-2.2zM603.2 96.5h2.2v2.2h-2.2zM522.2 218.3h2.2v2.2h-2.2zM544.3 182.7h2.2v2.2h-2.2zM460.7 116.0h2.2v2.2h-2.2zM546.6 182.3h2.2v2.2h-2.2zM604.7 214.7h2.2v2.2h-2.2zM471.2 137.5h2.2v2.2h-2.2zM521.2 210.4h2.2v2.2h-2.2zM477.9 146.0h2.2v2.2h-2.2zM446.3 83.5h2.2v2.2h-2.2zM612.6 104.8h2.2v2.2h-2.2zM446.1 85.9h2.2v2.2h-2.2zM564.3 210.7h2.2v2.2h-2.2zM451.8 98.3h2.2v2.2h-2.2zM572.3 161.1h2.2v2.2h-2.2zM431.4 220.8h2.2v2.2h-2.2zM468.5 94.5h2.2v2.2h-2.2zM510.9 259.1h2.2v2.2h-2.2zM493.9 112.4h2.2v2.2h-2.2zM530.8 132.0h2.2v2.2h-2.2zM596.8 217.1h2.2v2.2h-2.2zM495.5 138.1h2.2v2.2h-2.2zM501.2 169.8h2.2v2.2h-2.2zM565.7 236.1h2.2v2.2h-2.2zM478.3 109.4h2.2v2.2h-2.2zM412.5 195.3h2.2v2.2h-2.2zM469.8 110.0h2.2v2.2h-2.2zM465.8 225.1h2.2v2.2h-2.2zM552.9 121.5h2.2v2.2h-2.2zM482.8 34.4h2.2v2.2h-2.2zM449.5 215.3h2.2v2.2h-2.2zM529.8 133.6h2.2v2.2h-2.2zM448.4 137.8h2.2v2.2h-2.2zM570.0 199.3h2.2v2.2h-2.2zM583.1 158.5h2.2v2.2h-2.2zM473.0 248.1h2.2v2.2h-2.2zM475.0 199.2h2.2v2.2h-2.2zM485.9 130.3h2.2v2.2h-2.2zM551.6 137.4h2.2v2.2h-2.2zM473.7 117.4h2.2v2.2h-2.2zM421.3 254.0h2.2v2.2h-2.2zM549.6 87.8h2.2v2.2h-2.2zM478.3 195.0h2.2v2.2h-2.2zM543.0 224.0h2.2v2.2h-2.2zM509.4 177.9h2.2v2.2h-2.2zM581.0 219.2h2.2v2.2h-2.2zM572.7 86.8h2.2v2.2h-2.2zM398.7 71.3h2.2v2.2h-2.2zM448.4 163.1h2.2v2.2h-2.2zM486.9 90.9h2.2v2.2h-2.2zM507.0 120.4h2.2v2.2h-2.2zM586.5 220.6h2.2v2.2h-2.2zM486.6 184.3h2.2v2.2h-2.2zM557.3 181.0h2.2v2.2h-2.2zM533.2 150.1h2.2v2.2h-2.2zM379.9 152.3h2.2v2.2h-2.2zM480.9 138.1h2.2v2.2h-2.2zM571.1 155.4h2.2v2.2h-2.2zM428.7 150.4h2.2v2.2h-2.2zM466.6 213.4h2.2v2.2h-2.2zM565.7 200.1h2.2v2.2h-2.2zM525.9 225.7h2.2v2.2h-2.2zM573.4 226.9h2.2v2.2h-2.2zM511.0 278.7h2.2v2.2h-2.2zM427.0 98.4h2.2v2.2h-2.2zM453.5 69.2h2.2v2.2h-2.2zM524.3 169.4h2.2v2.2h-2.2zM466.8 199.4h2.2v2.2h-2.2zM460.0 138.3h2.2v2.2h-2.2zM506.2 90.4h2.2v2.2h-2.2zM483.4 155.1h2.2v2.2h-2.2zM486.4 182.8h2.2v2.2h-2.2zM573.6 179.4h2.2v2.2h-2.2zM514.1 204.9h2.2v2.2h-2.2zM452.0 166.9h2.2v2.2h-2.2zM530.5 213.8h2.2v2.2h-2.2zM492.3 153.0h2.2v2.2h-2.2zM476.9 117.0h2.2v2.2h-2.2zM433.1 67.4h2.2v2.2h-2.2zM522.8 166.6h2.2v2.2h-2.2zM596.5 162.6h2.2v2.2h-2.2zM448.2 87.5h2.2v2.2h-2.2zM557.6 78.2h2.2v2.2h-2.2zM577.7 123.7h2.2v2.2h-2.2zM569.3 165.5h2.2v2.2h-2.2zM565.5 248.2h2.2v2.2h-2.2zM516.3 99.6h2.2v2.2h-2.2zM441.1 137.1h2.2v2.2h-2.2zM585.6 135.7h2.2v2.2h-2.2zM576.0 93.6h2.2v2.2h-2.2zM548.1 98.2h2.2v2.2h-2.2zM600.8 161.2h2.2v2.2h-2.2zM434.2 84.5h2.2v2.2h-2.2zM622.8 186.4h2.2v2.2h-2.2zM512.3 56.4h2.2v2.2h-2.2zM452.1 120.6h2.2v2.2h-2.2zM522.5 209.7h2.2v2.2h-2.2zM540.5 120.8h2.2v2.2h-2.2zM408.4 157.6h2.2v2.2h-2.2zM493.1 138.1h2.2v2.2h-2.2zM413.3 125.4h2.2v2.2h-2.2zM479.6 159.6h2.2v2.2h-2.2zM563.6 210.1h2.2v2.2h-2.2zM495.6 213.2h2.2v2.2h-2.2zM494.7 98.3h2.2v2.2h-2.2zM560.7 119.8h2.2v2.2h-2.2zM591.7 108.1h2.2v2.2h-2.2zM425.2 141.8h2.2v2.2h-2.2zM475.7 175.0h2.2v2.2h-2.2zM525.8 224.2h2.2v2.2h-2.2zM465.1 224.3h2.2v2.2h-2.2zM487.3 164.2h2.2v2.2h-2.2zM528.8 59.8h2.2v2.2h-2.2zM568.0 259.3h2.2v2.2h-2.2zM508.3 179.7h2.2v2.2h-2.2zM549.7 251.5h2.2v2.2h-2.2zM491.6 116.8h2.2v2.2h-2.2zM486.4 63.0h2.2v2.2h-2.2zM530.5 155.9h2.2v2.2h-2.2zM420.0 165.8h2.2v2.2h-2.2zM385.4 208.9h2.2v2.2h-2.2zM465.1 75.1h2.2v2.2h-2.2zM448.0 170.2h2.2v2.2h-2.2zM480.0 114.6h2.2v2.2h-2.2zM597.0 182.4h2.2v2.2h-2.2zM423.1 195.6h2.2v2.2h-2.2zM498.9 101.1h2.2v2.2h-2.2zM548.1 194.3h2.2v2.2h-2.2zM444.3 179.2h2.2v2.2h-2.2zM529.7 210.2h2.2v2.2h-2.2zM400.7 101.7h2.2v2.2h-2.2zM522.2 65.3h2.2v2.2h-2.2zM450.1 113.4h2.2v2.2h-2.2zM430.7 129.5h2.2v2.2h-2.2zM414.6 90.3h2.2v2.2h-2.2zM496.6 159.9h2.2v2.2h-2.2zM395.4 203.8h2.2v2.2h-2.2zM413.9 162.7h2.2v2.2h-2.2zM557.0 150.4h2.2v2.2h-2.2zM614.7 134.2h2.2v2.2h-2.2zM486.9 144.4h2.2v2.2h-2.2zM538.8 142.3h2.2v2.2h-2.2zM563.6 55.9h2.2v2.2h-2.2zM555.5 195.6h2.2v2.2h-2.2zM548.1 155.9h2.2v2.2h-2.2zM505.0 109.3h2.2v2.2h-2.2zM517.9 211.4h2.2v2.2h-2.2zM504.3 142.7h2.2v2.2h-2.2zM513.7 126.4h2.2v2.2h-2.2zM398.0 152.6h2.2v2.2h-2.2zM509.7 171.7h2.2v2.2h-2.2zM530.0 175.5h2.2v2.2h-2.2zM471.8 141.8h2.2v2.2h-2.2zM623.4 117.1h2.2v2.2h-2.2zM430.6 153.4h2.2v2.2h-2.2zM420.3 188.7h2.2v2.2h-2.2zM475.2 199.7h2.2v2.2h-2.2zM525.8 128.3h2.2v2.2h-2.2zM427.6 94.2h2.2v2.2h-2.2zM540.9 94.4h2.2v2.2h-2.2zM431.5 172.8h2.2v2.2h-2.2zM559.3 138.3h2.2v2.2h-2.2zM504.8 164.1h2.2v2.2h-2.2zM550.3 253.7h2.2v2.2h-2.2zM503.8 127.9h2.2v2.2h-2.2zM494.8 220.8h2.2v2.2h-2.2zM469.0 146.8h2.2v2.2h-2.2zM583.5 170.9h2.2v2.2h-2.2zM532.7 96.1h2.2v2.2h-2.2zM482.3 152.7h2.2v2.2h-2.2zM396.8 178.6h2.2v2.2h-2.2zM553.4 127.5h2.2v2.2h-2.2zM451.5 138.5h2.2v2.2h-2.2zM497.5 130.9h2.2v2.2h-2.2zM575.0 180.9h2.2v2.2h-2.2zM556.5 154.9h2.2v2.2h-2.2zM537.2 212.6h2.2v2.2h-2.2zM580.6 196.7h2.2v2.2h-2.2zM473.1 137.1h2.2v2.2h-2.2zM437.8 227.7h2.2v2.2h-2.2zM581.2 191.4h2.2v2.2h-2.2zM551.6 273.3h2.2v2.2h-2.2zM452.1 189.4h2.2v2.2h-2.2zM521.7 73.5h2.2v2.2h-2.2zM452.0 192.1h2.2v2.2h-2.2zM536.7 150.9h2.2v2.2h-2.2zM468.7 180.5h2.2v2.2h-2.2zM581.8 129.3h2.2v2.2h-2.2zM554.1 62.3h2.2v2.2h-2.2zM412.6 91.2h2.2v2.2h-2.2zM387.3 91.4h2.2v2.2h-2.2zM591.5 127.2h2.2v2.2h-2.2zM395.3 239.4h2.2v2.2h-2.2zM487.3 229.5h2.2v2.2h-2.2zM539.2 220.6h2.2v2.2h-2.2zM507.4 127.9h2.2v2.2h-2.2zM550.8 158.9h2.2v2.2h-2.2zM555.1 149.8h2.2v2.2h-2.2zM587.6 155.9h2.2v2.2h-2.2zM435.3 126.2h2.2v2.2h-2.2zM471.9 169.8h2.2v2.2h-2.2zM485.6 135.5h2.2v2.2h-2.2zM556.1 92.2h2.2v2.2h-2.2zM589.9 140.4h2.2v2.2h-2.2zM561.3 137.7h2.2v2.2h-2.2zM411.9 121.6h2.2v2.2h-2.2zM447.4 177.2h2.2v2.2h-2.2zM495.5 164.8h2.2v2.2h-2.2zM446.2 124.2h2.2v2.2h-2.2zM552.6 227.4h2.2v2.2h-2.2zM515.6 119.0h2.2v2.2h-2.2zM521.7 171.2h2.2v2.2h-2.2zM398.8 149.8h2.2v2.2h-2.2zM513.8 184.9h2.2v2.2h-2.2zM491.7 240.0h2.2v2.2h-2.2zM466.9 162.5h2.2v2.2h-2.2zM519.4 131.2h2.2v2.2h-2.2zM454.4 190.7h2.2v2.2h-2.2zM522.9 174.8h2.2v2.2h-2.2zM466.7 114.0h2.2v2.2h-2.2zM519.3 178.7h2.2v2.2h-2.2zM392.2 185.3h2.2v2.2h-2.2zM483.9 152.7h2.2v2.2h-2.2zM544.6 244.8h2.2v2.2h-2.2zM565.8 89.3h2.2v2.2h-2.2zM482.0 269.6h2.2v2.2h-2.2zM575.0 242.0h2.2v2.2h-2.2zM423.1 226.8h2.2v2.2h-2.2zM490.7 163.5h2.2v2.2h-2.2zM479.9 132.8h2.2v2.2h-2.2zM460.1 114.7h2.2v2.2h-2.2zM424.1 122.9h2.2v2.2h-2.2zM552.9 184.0h2.2v2.2h-2.2zM540.3 180.2h2.2v2.2h-2.2zM531.8 217.5h2.2v2.2h-2.2zM568.6 196.1h2.2v2.2h-2.2zM469.7 138.3h2.2v2.2h-2.2zM454.6 166.6h2.2v2.2h-2.2zM525.7 176.9h2.2v2.2h-2.2zM506.1 117.5h2.2v2.2h-2.2zM474.2 186.6h2.2v2.2h-2.2zM513.2 155.5h2.2v2.2h-2.2zM594.7 189.2h2.2v2.2h-2.2zM412.9 169.6h2.2v2.2h-2.2zM488.4 136.8h2.2v2.2h-2.2zM443.7 102.5h2.2v2.2h-2.2zM554.4 101.0h2.2v2.2h-2.2zM540.0 216.5h2.2v2.2h-2.2zM597.0 231.1h2.2v2.2h-2.2zM404.8 122.9h2.2v2.2h-2.2zM513.0 237.4h2.2v2.2h-2.2zM518.1 188.2h2.2v2.2h-2.2zM568.9 109.3h2.2v2.2h-2.2zM524.7 95.2h2.2v2.2h-2.2zM441.5 144.8h2.2v2.2h-2.2zM593.3 195.5h2.2v2.2h-2.2zM438.7 60.7h2.2v2.2h-2.2zM415.3 78.1h2.2v2.2h-2.2zM473.7 155.4h2.2v2.2h-2.2zM447.6 144.7h2.2v2.2h-2.2zM514.3 158.7h2.2v2.2h-2.2zM577.6 118.5h2.2v2.2h-2.2zM387.5 179.2h2.2v2.2h-2.2zM497.3 74.8h2.2v2.2h-2.2zM519.2 83.3h2.2v2.2h-2.2zM463.7 209.1h2.2v2.2h-2.2zM585.4 167.7h2.2v2.2h-2.2zM501.9 251.0h2.2v2.2h-2.2zM537.1 144.5h2.2v2.2h-2.2zM548.2 220.6h2.2v2.2h-2.2zM476.3 109.6h2.2v2.2h-2.2zM481.2 75.1h2.2v2.2h-2.2zM524.1 202.1h2.2v2.2h-2.2zM492.0 94.4h2.2v2.2h-2.2zM420.0 76.3h2.2v2.2h-2.2zM543.5 57.8h2.2v2.2h-2.2zM441.1 128.7h2.2v2.2h-2.2zM452.6 163.5h2.2v2.2h-2.2zM469.8 114.7h2.2v2.2h-2.2zM465.7 203.8h2.2v2.2h-2.2zM506.9 161.4h2.2v2.2h-2.2zM478.9 181.9h2.2v2.2h-2.2zM533.1 155.8h2.2v2.2h-2.2zM466.8 106.0h2.2v2.2h-2.2zM546.9 218.8h2.2v2.2h-2.2zM472.3 54.0h2.2v2.2h-2.2zM564.9 123.8h2.2v2.2h-2.2zM489.0 150.1h2.2v2.2h-2.2zM554.7 121.3h2.2v2.2h-2.2zM575.8 176.6h2.2v2.2h-2.2zM421.6 130.9h2.2v2.2h-2.2zM519.7 241.7h2.2v2.2h-2.2zM503.6 107.0h2.2v2.2h-2.2zM488.0 215.0h2.2v2.2h-2.2zM505.3 171.9h2.2v2.2h-2.2zM517.7 173.5h2.2v2.2h-2.2zM388.2 182.6h2.2v2.2h-2.2zM557.5 112.1h2.2v2.2h-2.2zM422.8 67.0h2.2v2.2h-2.2zM528.5 126.3h2.2v2.2h-2.2zM463.9 202.5h2.2v2.2h-2.2zM556.2 107.3h2.2v2.2h-2.2zM471.5 225.0h2.2v2.2h-2.2zM401.8 126.7h2.2v2.2h-2.2zM428.5 123.7h2.2v2.2h-2.2zM533.6 204.3h2.2v2.2h-2.2zM508.2 137.7h2.2v2.2h-2.2zM517.0 247.2h2.2v2.2h-2.2zM553.2 115.8h2.2v2.2h-2.2zM509.2 116.7h2.2v2.2h-2.2zM551.9 194.1h2.2v2.2h-2.2zM562.9 170.0h2.2v2.2h-2.2zM426.1 211.1h2.2v2.2h-2.2zM483.7 197.1h2.2v2.2h-2.2zM493.8 117.6h2.2v2.2h-2.2zM520.5 54.6h2.2v2.2h-2.2zM528.8 215.7h2.2v2.2h-2.2zM542.0 206.7h2.2v2.2h-2.2zM583.5 164.1h2.2v2.2h-2.2zM519.9 90.7h2.2v2.2h-2.2zM434.4 79.5h2.2v2.2h-2.2zM407.0 70.3h2.2v2.2h-2.2zM409.7 157.8h2.2v2.2h-2.2zM506.5 236.8h2.2v2.2h-2.2zM525.9 124.0h2.2v2.2h-2.2zM483.3 195.2h2.2v2.2h-2.2zM534.9 178.9h2.2v2.2h-2.2zM512.9 125.4h2.2v2.2h-2.2zM514.6 177.0h2.2v2.2h-2.2zM536.2 135.9h2.2v2.2h-2.2zM620.9 122.0h2.2v2.2h-2.2zM546.1 66.6h2.2v2.2h-2.2zM494.5 107.4h2.2v2.2h-2.2zM485.5 162.0h2.2v2.2h-2.2zM587.2 170.9h2.2v2.2h-2.2zM596.4 184.9h2.2v2.2h-2.2zM428.0 71.5h2.2v2.2h-2.2zM458.7 135.4h2.2v2.2h-2.2zM560.9 46.1h2.2v2.2h-2.2zM488.2 202.6h2.2v2.2h-2.2zM455.8 148.6h2.2v2.2h-2.2zM529.9 166.7h2.2v2.2h-2.2zM500.6 235.2h2.2v2.2h-2.2zM507.2 140.6h2.2v2.2h-2.2zM420.3 109.9h2.2v2.2h-2.2zM441.9 174.7h2.2v2.2h-2.2zM557.5 113.2h2.2v2.2h-2.2zM582.5 114.2h2.2v2.2h-2.2zM500.2 189.1h2.2v2.2h-2.2zM521.0 186.9h2.2v2.2h-2.2zM592.3 156.3h2.2v2.2h-2.2zM453.1 192.0h2.2v2.2h-2.2zM561.4 114.7h2.2v2.2h-2.2zM512.1 193.8h2.2v2.2h-2.2zM468.0 119.0h2.2v2.2h-2.2zM418.1 130.5h2.2v2.2h-2.2zM461.6 210.9h2.2v2.2h-2.2zM502.2 139.2h2.2v2.2h-2.2zM615.0 213.5h2.2v2.2h-2.2zM609.6 154.1h2.2v2.2h-2.2zM532.3 125.9h2.2v2.2h-2.2zM487.9 80.6h2.2v2.2h-2.2zM609.0 189.4h2.2v2.2h-2.2zM421.9 166.1h2.2v2.2h-2.2zM489.7 150.1h2.2v2.2h-2.2zM529.6 172.8h2.2v2.2h-2.2zM599.9 98.2h2.2v2.2h-2.2zM545.7 86.9h2.2v2.2h-2.2zM456.3 155.2h2.2v2.2h-2.2zM427.9 139.9h2.2v2.2h-2.2zM465.2 74.2h2.2v2.2h-2.2zM423.8 185.7h2.2v2.2h-2.2zM494.0 211.8h2.2v2.2h-2.2zM453.7 158.5h2.2v2.2h-2.2zM489.8 164.9h2.2v2.2h-2.2zM614.8 151.3h2.2v2.2h-2.2zM504.3 212.5h2.2v2.2h-2.2zM536.3 215.4h2.2v2.2h-2.2zM557.6 171.2h2.2v2.2h-2.2zM467.6 191.2h2.2v2.2h-2.2zM550.3 88.7h2.2v2.2h-2.2zM559.0 172.4h2.2v2.2h-2.2zM518.0 248.3h2.2v2.2h-2.2zM492.1 177.5h2.2v2.2h-2.2zM507.5 211.1h2.2v2.2h-2.2zM515.9 72.4h2.2v2.2h-2.2zM483.1 139.9h2.2v2.2h-2.2zM581.2 85.8h2.2v2.2h-2.2zM501.0 235.5h2.2v2.2h-2.2zM556.2 233.6h2.2v2.2h-2.2zM599.2 112.5h2.2v2.2h-2.2zM602.1 133.9h2.2v2.2h-2.2zM514.5 131.1h2.2v2.2h-2.2zM522.1 206.4h2.2v2.2h-2.2zM441.7 127.6h2.2v2.2h-2.2zM526.9 170.1h2.2v2.2h-2.2zM574.3 129.8h2.2v2.2h-2.2zM437.1 156.7h2.2v2.2h-2.2zM456.5 139.4h2.2v2.2h-2.2zM475.5 196.0h2.2v2.2h-2.2zM388.1 101.3h2.2v2.2h-2.2zM468.5 263.4h2.2v2.2h-2.2zM451.5 132.7h2.2v2.2h-2.2zM445.7 130.9h2.2v2.2h-2.2zM473.1 195.6h2.2v2.2h-2.2z" fill="#32b166"/><path d="M532.4 148.2h2.2v2.2h-2.2zM468.7 125.5h2.2v2.2h-2.2zM578.1 85.5h2.2v2.2h-2.2zM559.1 147.2h2.2v2.2h-2.2zM501.2 95.9h2.2v2.2h-2.2zM448.2 214.7h2.2v2.2h-2.2zM510.6 181.8h2.2v2.2h-2.2zM530.2 223.5h2.2v2.2h-2.2zM457.1 106.8h2.2v2.2h-2.2zM560.9 148.8h2.2v2.2h-2.2zM566.8 116.2h2.2v2.2h-2.2zM471.2 121.8h2.2v2.2h-2.2zM618.1 133.3h2.2v2.2h-2.2zM477.0 170.5h2.2v2.2h-2.2zM572.9 102.0h2.2v2.2h-2.2zM482.4 159.0h2.2v2.2h-2.2zM426.9 197.1h2.2v2.2h-2.2zM507.2 167.9h2.2v2.2h-2.2zM530.3 157.1h2.2v2.2h-2.2zM503.1 210.3h2.2v2.2h-2.2zM524.2 84.6h2.2v2.2h-2.2zM474.7 107.6h2.2v2.2h-2.2zM541.4 104.8h2.2v2.2h-2.2zM563.9 105.6h2.2v2.2h-2.2zM521.2 222.1h2.2v2.2h-2.2zM534.3 191.0h2.2v2.2h-2.2zM503.6 172.4h2.2v2.2h-2.2zM581.3 119.8h2.2v2.2h-2.2zM597.8 199.2h2.2v2.2h-2.2zM537.9 112.5h2.2v2.2h-2.2zM518.1 144.9h2.2v2.2h-2.2zM447.5 67.0h2.2v2.2h-2.2zM509.7 122.6h2.2v2.2h-2.2zM463.9 155.5h2.2v2.2h-2.2zM438.8 93.4h2.2v2.2h-2.2zM568.3 209.5h2.2v2.2h-2.2zM497.5 208.0h2.2v2.2h-2.2zM513.3 151.7h2.2v2.2h-2.2zM532.8 133.3h2.2v2.2h-2.2zM459.2 186.0h2.2v2.2h-2.2zM503.9 207.9h2.2v2.2h-2.2zM452.8 142.7h2.2v2.2h-2.2zM535.6 167.0h2.2v2.2h-2.2zM391.8 140.0h2.2v2.2h-2.2zM515.0 239.9h2.2v2.2h-2.2zM484.9 91.7h2.2v2.2h-2.2zM511.1 100.8h2.2v2.2h-2.2zM568.9 178.0h2.2v2.2h-2.2zM606.9 140.7h2.2v2.2h-2.2zM541.4 211.1h2.2v2.2h-2.2zM572.7 189.2h2.2v2.2h-2.2zM451.7 166.7h2.2v2.2h-2.2zM491.5 148.1h2.2v2.2h-2.2zM498.5 167.1h2.2v2.2h-2.2zM462.6 141.2h2.2v2.2h-2.2zM586.4 190.4h2.2v2.2h-2.2zM565.9 170.9h2.2v2.2h-2.2zM411.5 67.2h2.2v2.2h-2.2zM468.0 143.3h2.2v2.2h-2.2zM506.1 154.0h2.2v2.2h-2.2zM473.0 79.5h2.2v2.2h-2.2zM426.6 134.7h2.2v2.2h-2.2zM554.1 175.1h2.2v2.2h-2.2zM486.7 161.7h2.2v2.2h-2.2zM564.5 175.6h2.2v2.2h-2.2zM582.1 145.1h2.2v2.2h-2.2zM569.4 165.5h2.2v2.2h-2.2zM542.8 50.2h2.2v2.2h-2.2zM530.1 259.7h2.2v2.2h-2.2zM573.9 154.0h2.2v2.2h-2.2zM570.6 190.5h2.2v2.2h-2.2zM607.3 116.6h2.2v2.2h-2.2zM496.9 231.1h2.2v2.2h-2.2zM533.4 268.0h2.2v2.2h-2.2zM467.8 241.9h2.2v2.2h-2.2zM502.9 220.6h2.2v2.2h-2.2zM480.7 193.2h2.2v2.2h-2.2zM389.0 72.9h2.2v2.2h-2.2zM445.6 82.1h2.2v2.2h-2.2zM568.4 170.8h2.2v2.2h-2.2zM500.8 106.5h2.2v2.2h-2.2zM557.2 246.8h2.2v2.2h-2.2zM483.3 177.1h2.2v2.2h-2.2zM487.8 219.6h2.2v2.2h-2.2zM379.9 204.3h2.2v2.2h-2.2zM442.5 98.3h2.2v2.2h-2.2zM586.3 255.4h2.2v2.2h-2.2zM466.3 224.5h2.2v2.2h-2.2zM490.8 234.4h2.2v2.2h-2.2zM451.1 145.9h2.2v2.2h-2.2zM544.3 100.4h2.2v2.2h-2.2zM616.8 209.8h2.2v2.2h-2.2zM379.7 181.9h2.2v2.2h-2.2zM491.8 74.4h2.2v2.2h-2.2zM466.4 188.3h2.2v2.2h-2.2zM483.0 122.8h2.2v2.2h-2.2zM499.1 198.4h2.2v2.2h-2.2zM561.4 175.1h2.2v2.2h-2.2zM502.8 84.7h2.2v2.2h-2.2zM616.9 174.3h2.2v2.2h-2.2zM492.5 241.4h2.2v2.2h-2.2zM394.6 115.0h2.2v2.2h-2.2zM502.9 113.0h2.2v2.2h-2.2zM522.6 105.2h2.2v2.2h-2.2zM509.3 236.2h2.2v2.2h-2.2zM422.9 147.8h2.2v2.2h-2.2zM601.4 192.2h2.2v2.2h-2.2zM430.9 182.1h2.2v2.2h-2.2zM396.6 199.1h2.2v2.2h-2.2zM487.4 221.4h2.2v2.2h-2.2zM539.9 113.0h2.2v2.2h-2.2zM569.1 197.5h2.2v2.2h-2.2zM483.8 123.9h2.2v2.2h-2.2zM529.5 155.0h2.2v2.2h-2.2zM516.2 104.8h2.2v2.2h-2.2zM428.8 125.7h2.2v2.2h-2.2zM486.3 66.0h2.2v2.2h-2.2zM488.7 136.6h2.2v2.2h-2.2zM450.8 129.9h2.2v2.2h-2.2zM485.8 151.2h2.2v2.2h-2.2zM547.5 113.2h2.2v2.2h-2.2zM487.0 106.3h2.2v2.2h-2.2zM429.1 244.8h2.2v2.2h-2.2zM547.8 113.6h2.2v2.2h-2.2zM541.2 87.0h2.2v2.2h-2.2zM537.6 172.9h2.2v2.2h-2.2zM598.0 123.9h2.2v2.2h-2.2zM516.5 252.0h2.2v2.2h-2.2zM553.4 82.5h2.2v2.2h-2.2zM525.6 121.9h2.2v2.2h-2.2zM488.4 135.4h2.2v2.2h-2.2zM512.2 54.5h2.2v2.2h-2.2zM523.4 211.6h2.2v2.2h-2.2zM557.0 254.4h2.2v2.2h-2.2zM512.4 125.3h2.2v2.2h-2.2zM424.8 159.9h2.2v2.2h-2.2zM526.9 141.2h2.2v2.2h-2.2zM430.7 265.3h2.2v2.2h-2.2zM390.4 186.3h2.2v2.2h-2.2zM488.6 263.5h2.2v2.2h-2.2zM502.2 171.9h2.2v2.2h-2.2zM412.8 96.7h2.2v2.2h-2.2zM540.7 134.6h2.2v2.2h-2.2zM552.0 156.4h2.2v2.2h-2.2zM481.7 126.9h2.2v2.2h-2.2zM464.9 177.2h2.2v2.2h-2.2zM588.7 70.4h2.2v2.2h-2.2zM484.4 156.6h2.2v2.2h-2.2zM584.2 122.4h2.2v2.2h-2.2zM522.2 87.5h2.2v2.2h-2.2zM391.5 199.6h2.2v2.2h-2.2zM617.7 142.7h2.2v2.2h-2.2zM397.7 168.0h2.2v2.2h-2.2zM489.5 44.2h2.2v2.2h-2.2zM564.8 149.8h2.2v2.2h-2.2zM522.6 210.4h2.2v2.2h-2.2zM525.5 71.2h2.2v2.2h-2.2zM498.6 89.4h2.2v2.2h-2.2zM420.9 94.7h2.2v2.2h-2.2zM461.9 133.5h2.2v2.2h-2.2zM520.6 196.2h2.2v2.2h-2.2zM551.9 206.2h2.2v2.2h-2.2zM588.6 137.5h2.2v2.2h-2.2zM513.7 112.1h2.2v2.2h-2.2zM563.6 173.1h2.2v2.2h-2.2zM572.4 138.7h2.2v2.2h-2.2zM446.1 144.5h2.2v2.2h-2.2zM518.9 172.1h2.2v2.2h-2.2zM537.4 237.6h2.2v2.2h-2.2zM511.0 85.6h2.2v2.2h-2.2zM458.7 87.1h2.2v2.2h-2.2zM546.8 83.2h2.2v2.2h-2.2zM495.4 222.6h2.2v2.2h-2.2zM488.7 220.2h2.2v2.2h-2.2zM528.7 193.2h2.2v2.2h-2.2zM453.5 46.5h2.2v2.2h-2.2zM486.1 156.6h2.2v2.2h-2.2zM542.1 208.8h2.2v2.2h-2.2zM596.4 131.8h2.2v2.2h-2.2zM606.1 205.9h2.2v2.2h-2.2zM522.2 260.3h2.2v2.2h-2.2zM442.2 263.8h2.2v2.2h-2.2zM560.9 173.4h2.2v2.2h-2.2zM550.2 162.2h2.2v2.2h-2.2zM478.6 206.4h2.2v2.2h-2.2zM570.4 218.3h2.2v2.2h-2.2zM578.3 213.5h2.2v2.2h-2.2zM604.0 137.2h2.2v2.2h-2.2zM475.7 165.4h2.2v2.2h-2.2zM539.0 100.2h2.2v2.2h-2.2zM535.1 125.2h2.2v2.2h-2.2zM516.7 116.5h2.2v2.2h-2.2zM424.4 62.6h2.2v2.2h-2.2zM471.3 147.8h2.2v2.2h-2.2zM429.0 155.7h2.2v2.2h-2.2zM438.7 129.0h2.2v2.2h-2.2zM500.0 246.1h2.2v2.2h-2.2zM569.5 200.1h2.2v2.2h-2.2zM601.6 95.8h2.2v2.2h-2.2zM524.1 163.9h2.2v2.2h-2.2zM504.1 180.5h2.2v2.2h-2.2zM547.3 158.9h2.2v2.2h-2.2zM499.6 84.1h2.2v2.2h-2.2zM428.5 130.4h2.2v2.2h-2.2zM500.0 171.5h2.2v2.2h-2.2zM573.9 195.8h2.2v2.2h-2.2zM527.8 140.3h2.2v2.2h-2.2zM465.0 116.1h2.2v2.2h-2.2zM487.5 251.5h2.2v2.2h-2.2zM555.8 145.2h2.2v2.2h-2.2zM495.8 227.1h2.2v2.2h-2.2zM473.4 171.7h2.2v2.2h-2.2zM515.6 212.2h2.2v2.2h-2.2zM507.7 192.2h2.2v2.2h-2.2zM506.7 193.2h2.2v2.2h-2.2zM554.8 56.7h2.2v2.2h-2.2zM473.9 87.4h2.2v2.2h-2.2zM478.8 152.4h2.2v2.2h-2.2zM502.7 112.5h2.2v2.2h-2.2zM519.9 114.4h2.2v2.2h-2.2zM520.9 160.3h2.2v2.2h-2.2zM383.5 105.5h2.2v2.2h-2.2zM551.4 246.1h2.2v2.2h-2.2zM555.2 178.7h2.2v2.2h-2.2zM445.3 132.4h2.2v2.2h-2.2zM591.6 99.3h2.2v2.2h-2.2zM548.9 88.3h2.2v2.2h-2.2zM616.9 162.8h2.2v2.2h-2.2zM429.6 126.2h2.2v2.2h-2.2zM517.3 235.4h2.2v2.2h-2.2zM560.0 154.0h2.2v2.2h-2.2zM456.8 214.3h2.2v2.2h-2.2zM525.8 277.5h2.2v2.2h-2.2zM533.5 225.0h2.2v2.2h-2.2zM603.2 150.3h2.2v2.2h-2.2zM515.5 261.5h2.2v2.2h-2.2zM489.2 180.8h2.2v2.2h-2.2zM619.2 167.9h2.2v2.2h-2.2zM572.2 168.9h2.2v2.2h-2.2zM533.7 236.6h2.2v2.2h-2.2zM513.1 252.4h2.2v2.2h-2.2zM540.8 75.0h2.2v2.2h-2.2zM435.0 171.4h2.2v2.2h-2.2zM619.8 127.2h2.2v2.2h-2.2zM568.2 162.1h2.2v2.2h-2.2zM510.4 153.3h2.2v2.2h-2.2zM510.9 280.0h2.2v2.2h-2.2zM535.8 125.5h2.2v2.2h-2.2zM506.5 143.6h2.2v2.2h-2.2zM567.0 63.2h2.2v2.2h-2.2zM528.9 161.4h2.2v2.2h-2.2zM496.9 159.0h2.2v2.2h-2.2zM473.8 186.0h2.2v2.2h-2.2zM470.5 209.1h2.2v2.2h-2.2zM422.9 237.8h2.2v2.2h-2.2zM617.5 213.0h2.2v2.2h-2.2zM511.1 191.3h2.2v2.2h-2.2zM554.3 185.0h2.2v2.2h-2.2zM570.7 239.7h2.2v2.2h-2.2zM486.1 205.6h2.2v2.2h-2.2zM592.0 74.0h2.2v2.2h-2.2zM475.9 165.4h2.2v2.2h-2.2zM503.6 187.4h2.2v2.2h-2.2zM504.6 108.1h2.2v2.2h-2.2zM457.8 80.2h2.2v2.2h-2.2zM499.0 205.8h2.2v2.2h-2.2zM450.4 234.8h2.2v2.2h-2.2zM578.3 199.1h2.2v2.2h-2.2zM431.3 263.5h2.2v2.2h-2.2zM490.5 140.5h2.2v2.2h-2.2zM540.4 253.7h2.2v2.2h-2.2zM512.6 157.3h2.2v2.2h-2.2zM539.4 219.0h2.2v2.2h-2.2zM486.3 203.6h2.2v2.2h-2.2zM570.9 191.6h2.2v2.2h-2.2zM539.5 129.3h2.2v2.2h-2.2zM510.0 94.4h2.2v2.2h-2.2zM473.9 114.0h2.2v2.2h-2.2zM465.9 220.1h2.2v2.2h-2.2zM469.8 95.7h2.2v2.2h-2.2zM450.1 55.9h2.2v2.2h-2.2zM517.5 169.8h2.2v2.2h-2.2zM560.7 128.6h2.2v2.2h-2.2zM541.7 79.5h2.2v2.2h-2.2zM489.5 240.9h2.2v2.2h-2.2zM474.3 224.4h2.2v2.2h-2.2zM584.4 208.1h2.2v2.2h-2.2zM409.8 116.1h2.2v2.2h-2.2zM398.2 200.8h2.2v2.2h-2.2zM552.2 117.2h2.2v2.2h-2.2zM521.0 95.4h2.2v2.2h-2.2zM441.9 176.8h2.2v2.2h-2.2zM524.3 161.7h2.2v2.2h-2.2zM504.6 188.5h2.2v2.2h-2.2zM490.7 116.9h2.2v2.2h-2.2zM462.3 181.9h2.2v2.2h-2.2zM482.1 207.3h2.2v2.2h-2.2zM510.8 123.2h2.2v2.2h-2.2zM445.5 130.9h2.2v2.2h-2.2zM502.2 118.4h2.2v2.2h-2.2zM567.7 245.2h2.2v2.2h-2.2zM461.9 144.0h2.2v2.2h-2.2zM410.3 199.0h2.2v2.2h-2.2zM491.1 250.8h2.2v2.2h-2.2zM619.9 111.4h2.2v2.2h-2.2zM558.8 59.4h2.2v2.2h-2.2zM412.9 169.0h2.2v2.2h-2.2zM584.6 87.3h2.2v2.2h-2.2zM394.5 110.1h2.2v2.2h-2.2zM520.5 152.7h2.2v2.2h-2.2zM425.7 128.7h2.2v2.2h-2.2zM569.4 105.0h2.2v2.2h-2.2zM460.1 76.2h2.2v2.2h-2.2zM506.8 110.9h2.2v2.2h-2.2zM526.1 136.7h2.2v2.2h-2.2zM596.7 212.3h2.2v2.2h-2.2zM538.0 239.2h2.2v2.2h-2.2zM621.2 202.4h2.2v2.2h-2.2zM621.3 169.4h2.2v2.2h-2.2zM492.8 201.0h2.2v2.2h-2.2zM495.0 90.5h2.2v2.2h-2.2zM428.5 182.5h2.2v2.2h-2.2zM444.6 118.4h2.2v2.2h-2.2zM478.7 176.7h2.2v2.2h-2.2zM486.8 152.8h2.2v2.2h-2.2zM542.7 170.5h2.2v2.2h-2.2zM476.9 205.0h2.2v2.2h-2.2zM413.1 95.4h2.2v2.2h-2.2zM600.2 223.9h2.2v2.2h-2.2zM510.7 207.2h2.2v2.2h-2.2zM499.1 115.7h2.2v2.2h-2.2zM538.6 122.9h2.2v2.2h-2.2zM476.2 85.5h2.2v2.2h-2.2zM384.0 150.3h2.2v2.2h-2.2zM477.0 242.8h2.2v2.2h-2.2zM568.7 80.0h2.2v2.2h-2.2zM581.6 160.2h2.2v2.2h-2.2zM451.5 158.5h2.2v2.2h-2.2zM429.2 121.4h2.2v2.2h-2.2zM410.3 247.7h2.2v2.2h-2.2zM452.4 152.7h2.2v2.2h-2.2zM533.7 118.0h2.2v2.2h-2.2zM430.4 164.2h2.2v2.2h-2.2zM509.6 215.7h2.2v2.2h-2.2zM477.8 193.0h2.2v2.2h-2.2zM610.4 157.1h2.2v2.2h-2.2zM513.7 96.4h2.2v2.2h-2.2zM496.0 262.5h2.2v2.2h-2.2zM417.1 177.3h2.2v2.2h-2.2zM462.6 95.7h2.2v2.2h-2.2zM429.8 96.7h2.2v2.2h-2.2zM547.1 169.6h2.2v2.2h-2.2zM445.3 181.4h2.2v2.2h-2.2zM469.9 35.7h2.2v2.2h-2.2zM585.7 88.9h2.2v2.2h-2.2zM486.2 73.2h2.2v2.2h-2.2zM613.0 174.1h2.2v2.2h-2.2zM624.2 82.9h2.2v2.2h-2.2zM459.1 155.7h2.2v2.2h-2.2zM539.8 181.4h2.2v2.2h-2.2zM502.7 209.6h2.2v2.2h-2.2zM483.8 189.5h2.2v2.2h-2.2zM423.6 111.7h2.2v2.2h-2.2zM483.1 41.3h2.2v2.2h-2.2zM576.4 137.5h2.2v2.2h-2.2zM473.3 160.6h2.2v2.2h-2.2zM475.4 130.0h2.2v2.2h-2.2zM541.1 204.9h2.2v2.2h-2.2zM421.5 144.0h2.2v2.2h-2.2zM501.6 92.8h2.2v2.2h-2.2zM525.6 121.0h2.2v2.2h-2.2zM479.1 208.3h2.2v2.2h-2.2zM526.9 229.9h2.2v2.2h-2.2zM386.4 111.7h2.2v2.2h-2.2zM590.6 176.7h2.2v2.2h-2.2zM514.4 94.5h2.2v2.2h-2.2zM578.7 175.6h2.2v2.2h-2.2zM528.0 207.8h2.2v2.2h-2.2zM499.8 205.2h2.2v2.2h-2.2zM557.3 136.3h2.2v2.2h-2.2zM584.6 188.3h2.2v2.2h-2.2zM475.5 60.7h2.2v2.2h-2.2zM585.6 105.0h2.2v2.2h-2.2zM486.3 76.9h2.2v2.2h-2.2zM392.3 176.2h2.2v2.2h-2.2zM503.3 144.7h2.2v2.2h-2.2zM535.7 166.4h2.2v2.2h-2.2zM545.5 265.6h2.2v2.2h-2.2zM586.1 195.2h2.2v2.2h-2.2zM500.7 230.5h2.2v2.2h-2.2zM435.6 241.2h2.2v2.2h-2.2zM429.1 204.8h2.2v2.2h-2.2zM496.1 218.9h2.2v2.2h-2.2zM503.1 223.8h2.2v2.2h-2.2zM424.6 101.9h2.2v2.2h-2.2zM400.0 135.0h2.2v2.2h-2.2zM510.6 188.7h2.2v2.2h-2.2zM593.7 186.6h2.2v2.2h-2.2zM491.6 158.7h2.2v2.2h-2.2zM510.1 88.7h2.2v2.2h-2.2zM530.9 168.1h2.2v2.2h-2.2zM556.1 86.9h2.2v2.2h-2.2zM578.2 94.4h2.2v2.2h-2.2zM446.4 140.1h2.2v2.2h-2.2zM530.0 256.8h2.2v2.2h-2.2zM483.6 72.7h2.2v2.2h-2.2zM471.4 215.2h2.2v2.2h-2.2zM563.4 138.9h2.2v2.2h-2.2zM397.6 111.5h2.2v2.2h-2.2zM534.9 115.3h2.2v2.2h-2.2zM462.3 229.6h2.2v2.2h-2.2zM591.6 163.9h2.2v2.2h-2.2zM528.2 113.0h2.2v2.2h-2.2zM492.8 108.8h2.2v2.2h-2.2zM596.0 190.4h2.2v2.2h-2.2zM477.4 173.0h2.2v2.2h-2.2zM429.7 188.5h2.2v2.2h-2.2zM617.7 148.4h2.2v2.2h-2.2zM416.6 171.4h2.2v2.2h-2.2zM509.2 164.0h2.2v2.2h-2.2zM549.4 232.3h2.2v2.2h-2.2zM521.0 72.7h2.2v2.2h-2.2zM544.1 134.4h2.2v2.2h-2.2zM541.8 72.5h2.2v2.2h-2.2zM487.7 261.7h2.2v2.2h-2.2zM494.0 78.5h2.2v2.2h-2.2zM533.2 116.8h2.2v2.2h-2.2zM477.6 168.7h2.2v2.2h-2.2zM430.5 124.4h2.2v2.2h-2.2zM522.5 161.4h2.2v2.2h-2.2zM441.6 174.4h2.2v2.2h-2.2zM589.6 175.4h2.2v2.2h-2.2zM460.8 84.7h2.2v2.2h-2.2zM536.8 170.2h2.2v2.2h-2.2zM498.1 144.9h2.2v2.2h-2.2zM489.2 264.5h2.2v2.2h-2.2zM456.6 164.2h2.2v2.2h-2.2zM561.7 108.1h2.2v2.2h-2.2zM518.9 148.8h2.2v2.2h-2.2zM515.8 276.0h2.2v2.2h-2.2zM430.7 85.3h2.2v2.2h-2.2zM473.0 83.4h2.2v2.2h-2.2zM538.1 164.0h2.2v2.2h-2.2zM384.6 114.3h2.2v2.2h-2.2zM487.4 119.7h2.2v2.2h-2.2zM422.1 281.9h2.2v2.2h-2.2zM463.2 223.4h2.2v2.2h-2.2zM473.7 126.4h2.2v2.2h-2.2zM439.8 207.2h2.2v2.2h-2.2zM494.0 131.9h2.2v2.2h-2.2zM478.7 174.1h2.2v2.2h-2.2zM599.9 160.4h2.2v2.2h-2.2zM543.9 60.9h2.2v2.2h-2.2zM516.4 185.5h2.2v2.2h-2.2zM593.8 198.6h2.2v2.2h-2.2zM480.2 168.7h2.2v2.2h-2.2zM421.7 86.5h2.2v2.2h-2.2zM547.4 151.0h2.2v2.2h-2.2zM555.6 123.8h2.2v2.2h-2.2zM485.5 143.6h2.2v2.2h-2.2zM394.5 193.9h2.2v2.2h-2.2zM417.1 165.1h2.2v2.2h-2.2zM437.1 189.2h2.2v2.2h-2.2zM498.5 158.8h2.2v2.2h-2.2zM493.0 263.4h2.2v2.2h-2.2zM491.2 127.2h2.2v2.2h-2.2zM459.4 45.9h2.2v2.2h-2.2zM437.3 221.0h2.2v2.2h-2.2zM482.3 82.2h2.2v2.2h-2.2zM576.3 189.2h2.2v2.2h-2.2zM497.9 210.7h2.2v2.2h-2.2zM526.4 258.5h2.2v2.2h-2.2zM492.3 121.3h2.2v2.2h-2.2zM437.5 96.2h2.2v2.2h-2.2zM454.4 113.2h2.2v2.2h-2.2zM518.8 193.7h2.2v2.2h-2.2zM488.4 179.7h2.2v2.2h-2.2zM487.2 188.2h2.2v2.2h-2.2zM466.8 188.2h2.2v2.2h-2.2zM506.8 223.9h2.2v2.2h-2.2zM542.8 174.5h2.2v2.2h-2.2zM495.8 95.2h2.2v2.2h-2.2zM483.7 153.6h2.2v2.2h-2.2zM512.0 166.1h2.2v2.2h-2.2zM458.0 96.2h2.2v2.2h-2.2zM544.8 53.0h2.2v2.2h-2.2zM470.4 102.3h2.2v2.2h-2.2zM417.4 185.8h2.2v2.2h-2.2zM548.2 37.9h2.2v2.2h-2.2zM533.5 133.5h2.2v2.2h-2.2zM584.9 187.1h2.2v2.2h-2.2zM618.4 168.3h2.2v2.2h-2.2zM433.5 75.7h2.2v2.2h-2.2zM393.7 188.6h2.2v2.2h-2.2zM491.1 46.4h2.2v2.2h-2.2zM439.9 145.4h2.2v2.2h-2.2zM512.1 113.3h2.2v2.2h-2.2zM423.9 129.6h2.2v2.2h-2.2zM508.5 176.5h2.2v2.2h-2.2zM397.9 122.5h2.2v2.2h-2.2zM418.9 101.9h2.2v2.2h-2.2zM451.9 211.9h2.2v2.2h-2.2zM373.2 151.7h2.2v2.2h-2.2zM592.3 128.4h2.2v2.2h-2.2zM406.9 219.7h2.2v2.2h-2.2zM434.5 246.3h2.2v2.2h-2.2zM491.1 161.9h2.2v2.2h-2.2zM563.3 224.3h2.2v2.2h-2.2zM486.9 173.3h2.2v2.2h-2.2zM608.3 233.7h2.2v2.2h-2.2zM513.9 123.5h2.2v2.2h-2.2zM460.5 216.6h2.2v2.2h-2.2zM485.2 118.9h2.2v2.2h-2.2zM511.5 110.4h2.2v2.2h-2.2zM556.6 200.1h2.2v2.2h-2.2zM442.4 118.4h2.2v2.2h-2.2zM560.1 254.0h2.2v2.2h-2.2zM523.2 218.8h2.2v2.2h-2.2zM434.4 144.1h2.2v2.2h-2.2zM382.2 93.7h2.2v2.2h-2.2zM453.6 254.8h2.2v2.2h-2.2zM480.0 174.4h2.2v2.2h-2.2zM551.1 216.0h2.2v2.2h-2.2zM432.1 191.0h2.2v2.2h-2.2zM473.9 189.1h2.2v2.2h-2.2zM581.9 259.6h2.2v2.2h-2.2zM498.6 215.2h2.2v2.2h-2.2zM525.7 172.9h2.2v2.2h-2.2zM396.0 246.6h2.2v2.2h-2.2zM467.8 283.3h2.2v2.2h-2.2zM532.6 228.5h2.2v2.2h-2.2zM512.7 143.0h2.2v2.2h-2.2zM556.2 123.2h2.2v2.2h-2.2zM563.1 158.1h2.2v2.2h-2.2zM491.1 125.3h2.2v2.2h-2.2zM602.3 216.8h2.2v2.2h-2.2zM424.8 156.0h2.2v2.2h-2.2zM434.5 52.9h2.2v2.2h-2.2zM481.7 86.7h2.2v2.2h-2.2zM540.3 215.9h2.2v2.2h-2.2zM555.1 136.8h2.2v2.2h-2.2zM504.6 255.3h2.2v2.2h-2.2zM512.6 209.1h2.2v2.2h-2.2zM508.8 110.0h2.2v2.2h-2.2zM459.6 78.7h2.2v2.2h-2.2zM492.8 87.4h2.2v2.2h-2.2zM471.5 180.2h2.2v2.2h-2.2zM483.1 131.7h2.2v2.2h-2.2zM568.9 169.5h2.2v2.2h-2.2zM413.6 154.4h2.2v2.2h-2.2zM380.1 212.6h2.2v2.2h-2.2zM510.8 189.7h2.2v2.2h-2.2zM567.3 79.9h2.2v2.2h-2.2zM468.1 171.6h2.2v2.2h-2.2zM580.1 94.6h2.2v2.2h-2.2zM435.0 118.3h2.2v2.2h-2.2zM449.3 205.1h2.2v2.2h-2.2zM520.8 166.6h2.2v2.2h-2.2zM546.8 237.0h2.2v2.2h-2.2zM420.0 120.7h2.2v2.2h-2.2zM466.3 170.9h2.2v2.2h-2.2zM549.7 138.8h2.2v2.2h-2.2zM573.8 245.2h2.2v2.2h-2.2zM392.0 151.8h2.2v2.2h-2.2zM540.6 197.2h2.2v2.2h-2.2zM399.0 76.3h2.2v2.2h-2.2zM547.1 254.8h2.2v2.2h-2.2zM496.1 229.0h2.2v2.2h-2.2zM543.8 211.6h2.2v2.2h-2.2zM463.7 57.4h2.2v2.2h-2.2zM493.1 192.4h2.2v2.2h-2.2zM546.0 174.9h2.2v2.2h-2.2zM509.3 50.9h2.2v2.2h-2.2zM529.0 96.2h2.2v2.2h-2.2zM458.9 204.3h2.2v2.2h-2.2zM508.7 54.3h2.2v2.2h-2.2zM412.9 59.8h2.2v2.2h-2.2zM486.6 128.2h2.2v2.2h-2.2zM463.7 183.5h2.2v2.2h-2.2zM443.3 61.6h2.2v2.2h-2.2zM396.5 113.8h2.2v2.2h-2.2zM496.9 190.1h2.2v2.2h-2.2zM457.7 70.7h2.2v2.2h-2.2zM491.1 147.9h2.2v2.2h-2.2zM529.1 129.2h2.2v2.2h-2.2zM536.4 170.9h2.2v2.2h-2.2zM420.9 123.7h2.2v2.2h-2.2zM496.2 197.2h2.2v2.2h-2.2zM502.2 204.2h2.2v2.2h-2.2zM446.3 99.7h2.2v2.2h-2.2zM614.5 200.5h2.2v2.2h-2.2zM460.8 151.7h2.2v2.2h-2.2zM458.0 90.9h2.2v2.2h-2.2zM508.4 187.2h2.2v2.2h-2.2zM565.7 148.6h2.2v2.2h-2.2zM520.1 238.0h2.2v2.2h-2.2zM536.6 177.5h2.2v2.2h-2.2zM426.7 147.4h2.2v2.2h-2.2zM459.4 129.3h2.2v2.2h-2.2zM476.7 120.0h2.2v2.2h-2.2zM542.4 193.6h2.2v2.2h-2.2zM468.4 176.2h2.2v2.2h-2.2zM473.0 231.2h2.2v2.2h-2.2zM494.5 158.7h2.2v2.2h-2.2zM550.2 110.3h2.2v2.2h-2.2zM528.2 222.0h2.2v2.2h-2.2zM490.0 179.9h2.2v2.2h-2.2zM457.2 143.7h2.2v2.2h-2.2zM485.5 55.3h2.2v2.2h-2.2zM481.5 221.9h2.2v2.2h-2.2zM503.8 193.7h2.2v2.2h-2.2zM494.3 163.4h2.2v2.2h-2.2zM458.2 136.2h2.2v2.2h-2.2zM510.3 163.6h2.2v2.2h-2.2zM530.3 166.0h2.2v2.2h-2.2zM512.2 211.0h2.2v2.2h-2.2zM434.3 116.2h2.2v2.2h-2.2zM583.8 239.7h2.2v2.2h-2.2zM532.6 183.9h2.2v2.2h-2.2zM532.8 118.9h2.2v2.2h-2.2zM521.0 171.0h2.2v2.2h-2.2zM385.2 145.8h2.2v2.2h-2.2zM592.2 172.7h2.2v2.2h-2.2zM507.8 137.9h2.2v2.2h-2.2zM563.9 196.4h2.2v2.2h-2.2zM482.0 133.6h2.2v2.2h-2.2zM459.3 242.0h2.2v2.2h-2.2zM574.0 152.0h2.2v2.2h-2.2zM507.0 237.6h2.2v2.2h-2.2zM560.2 204.7h2.2v2.2h-2.2zM397.6 184.3h2.2v2.2h-2.2zM389.8 187.3h2.2v2.2h-2.2zM453.5 171.8h2.2v2.2h-2.2zM386.0 84.1h2.2v2.2h-2.2zM466.3 169.1h2.2v2.2h-2.2zM513.7 237.3h2.2v2.2h-2.2zM587.6 182.3h2.2v2.2h-2.2zM545.7 161.7h2.2v2.2h-2.2zM482.5 111.2h2.2v2.2h-2.2zM429.9 74.8h2.2v2.2h-2.2zM446.1 173.1h2.2v2.2h-2.2zM572.2 150.4h2.2v2.2h-2.2zM582.9 112.8h2.2v2.2h-2.2zM607.3 115.2h2.2v2.2h-2.2zM521.3 201.4h2.2v2.2h-2.2zM556.9 208.4h2.2v2.2h-2.2zM509.5 106.9h2.2v2.2h-2.2zM570.5 167.3h2.2v2.2h-2.2zM401.4 94.5h2.2v2.2h-2.2zM490.9 200.0h2.2v2.2h-2.2zM530.9 132.8h2.2v2.2h-2.2zM553.6 80.2h2.2v2.2h-2.2zM540.9 201.5h2.2v2.2h-2.2zM493.4 229.8h2.2v2.2h-2.2zM422.2 195.9h2.2v2.2h-2.2zM486.0 155.0h2.2v2.2h-2.2zM477.3 102.1h2.2v2.2h-2.2zM526.9 70.8h2.2v2.2h-2.2zM519.1 171.5h2.2v2.2h-2.2zM508.6 217.1h2.2v2.2h-2.2zM560.8 117.3h2.2v2.2h-2.2zM424.0 220.7h2.2v2.2h-2.2zM470.0 63.8h2.2v2.2h-2.2zM579.9 136.2h2.2v2.2h-2.2zM523.4 193.6h2.2v2.2h-2.2zM505.0 139.8h2.2v2.2h-2.2zM542.4 67.1h2.2v2.2h-2.2zM539.6 126.6h2.2v2.2h-2.2zM472.3 192.1h2.2v2.2h-2.2zM564.3 201.1h2.2v2.2h-2.2zM447.6 58.8h2.2v2.2h-2.2zM534.7 153.7h2.2v2.2h-2.2zM520.9 179.0h2.2v2.2h-2.2zM533.1 148.6h2.2v2.2h-2.2zM580.0 111.0h2.2v2.2h-2.2zM483.6 131.4h2.2v2.2h-2.2zM460.4 202.0h2.2v2.2h-2.2zM513.9 137.0h2.2v2.2h-2.2z" fill="#ce9032"/><path d="M467.7 163.0h2.2v2.2h-2.2zM527.2 246.2h2.2v2.2h-2.2zM616.7 168.5h2.2v2.2h-2.2zM595.9 190.2h2.2v2.2h-2.2zM528.8 128.6h2.2v2.2h-2.2zM580.2 121.5h2.2v2.2h-2.2zM570.0 139.7h2.2v2.2h-2.2zM524.0 127.6h2.2v2.2h-2.2zM471.6 218.3h2.2v2.2h-2.2zM566.0 147.9h2.2v2.2h-2.2zM410.7 209.0h2.2v2.2h-2.2zM434.3 119.4h2.2v2.2h-2.2zM481.1 198.4h2.2v2.2h-2.2zM475.2 197.5h2.2v2.2h-2.2zM503.2 137.1h2.2v2.2h-2.2zM593.8 117.3h2.2v2.2h-2.2zM485.7 191.1h2.2v2.2h-2.2zM615.7 195.1h2.2v2.2h-2.2zM614.2 121.8h2.2v2.2h-2.2zM566.1 248.7h2.2v2.2h-2.2zM474.7 84.5h2.2v2.2h-2.2zM500.0 207.5h2.2v2.2h-2.2zM509.7 163.0h2.2v2.2h-2.2zM546.8 255.3h2.2v2.2h-2.2zM549.3 158.3h2.2v2.2h-2.2zM522.1 199.9h2.2v2.2h-2.2zM395.0 162.2h2.2v2.2h-2.2zM490.9 110.8h2.2v2.2h-2.2zM598.3 194.9h2.2v2.2h-2.2zM489.5 212.4h2.2v2.2h-2.2zM484.9 236.7h2.2v2.2h-2.2zM376.0 176.3h2.2v2.2h-2.2zM542.1 199.7h2.2v2.2h-2.2zM538.3 211.7h2.2v2.2h-2.2zM534.8 167.5h2.2v2.2h-2.2zM430.4 264.3h2.2v2.2h-2.2zM527.1 214.0h2.2v2.2h-2.2zM563.2 189.9h2.2v2.2h-2.2zM473.7 63.3h2.2v2.2h-2.2zM499.6 104.3h2.2v2.2h-2.2zM448.2 115.8h2.2v2.2h-2.2zM407.0 145.1h2.2v2.2h-2.2zM404.6 130.4h2.2v2.2h-2.2zM402.5 141.5h2.2v2.2h-2.2zM478.9 120.3h2.2v2.2h-2.2zM467.4 214.1h2.2v2.2h-2.2zM430.8 155.3h2.2v2.2h-2.2zM423.0 166.8h2.2v2.2h-2.2zM514.8 135.0h2.2v2.2h-2.2zM483.5 148.0h2.2v2.2h-2.2zM584.3 123.0h2.2v2.2h-2.2zM505.7 118.8h2.2v2.2h-2.2zM515.5 204.3h2.2v2.2h-2.2zM430.5 145.2h2.2v2.2h-2.2zM562.5 187.5h2.2v2.2h-2.2zM574.8 163.3h2.2v2.2h-2.2zM408.5 138.0h2.2v2.2h-2.2zM550.3 203.9h2.2v2.2h-2.2zM487.7 256.3h2.2v2.2h-2.2zM511.4 47.3h2.2v2.2h-2.2zM471.7 109.3h2.2v2.2h-2.2zM570.4 109.5h2.2v2.2h-2.2zM432.2 187.0h2.2v2.2h-2.2zM547.8 179.8h2.2v2.2h-2.2zM553.9 114.7h2.2v2.2h-2.2zM435.9 162.9h2.2v2.2h-2.2zM603.2 109.9h2.2v2.2h-2.2zM489.7 216.1h2.2v2.2h-2.2zM552.2 154.2h2.2v2.2h-2.2zM411.3 114.1h2.2v2.2h-2.2zM454.5 265.7h2.2v2.2h-2.2zM431.9 196.5h2.2v2.2h-2.2zM541.1 222.9h2.2v2.2h-2.2zM476.6 131.3h2.2v2.2h-2.2zM534.7 139.3h2.2v2.2h-2.2zM567.7 229.4h2.2v2.2h-2.2zM567.1 85.4h2.2v2.2h-2.2zM491.5 87.2h2.2v2.2h-2.2zM544.8 109.1h2.2v2.2h-2.2zM582.1 230.0h2.2v2.2h-2.2zM456.8 172.1h2.2v2.2h-2.2zM531.8 101.2h2.2v2.2h-2.2zM446.4 214.3h2.2v2.2h-2.2zM535.5 243.1h2.2v2.2h-2.2zM576.3 238.9h2.2v2.2h-2.2zM529.7 227.7h2.2v2.2h-2.2zM569.4 47.3h2.2v2.2h-2.2zM393.5 162.5h2.2v2.2h-2.2zM460.6 68.9h2.2v2.2h-2.2zM477.9 44.4h2.2v2.2h-2.2zM424.5 143.6h2.2v2.2h-2.2zM533.1 273.3h2.2v2.2h-2.2zM558.0 112.9h2.2v2.2h-2.2zM567.2 186.0h2.2v2.2h-2.2zM555.1 209.3h2.2v2.2h-2.2zM567.0 155.2h2.2v2.2h-2.2zM529.0 194.5h2.2v2.2h-2.2zM582.9 150.9h2.2v2.2h-2.2zM545.1 90.1h2.2v2.2h-2.2zM451.4 157.3h2.2v2.2h-2.2zM520.2 200.5h2.2v2.2h-2.2zM533.5 177.7h2.2v2.2h-2.2zM490.9 183.3h2.2v2.2h-2.2zM397.4 92.0h2.2v2.2h-2.2zM581.1 138.7h2.2v2.2h-2.2zM446.8 105.6h2.2v2.2h-2.2zM416.6 60.1h2.2v2.2h-2.2zM532.5 266.1h2.2v2.2h-2.2zM519.5 152.3h2.2v2.2h-2.2zM429.3 119.1h2.2v2.2h-2.2zM505.9 140.4h2.2v2.2h-2.2zM525.0 212.9h2.2v2.2h-2.2zM464.5 155.3h2.2v2.2h-2.2zM527.7 214.7h2.2v2.2h-2.2zM550.7 220.6h2.2v2.2h-2.2zM501.6 201.0h2.2v2.2h-2.2zM465.3 134.4h2.2v2.2h-2.2zM520.8 129.5h2.2v2.2h-2.2zM564.2 113.9h2.2v2.2h-2.2zM421.6 205.8h2.2v2.2h-2.2zM477.0 131.5h2.2v2.2h-2.2zM558.1 141.6h2.2v2.2h-2.2zM606.7 188.2h2.2v2.2h-2.2zM459.6 214.8h2.2v2.2h-2.2zM428.3 226.4h2.2v2.2h-2.2zM553.6 185.9h2.2v2.2h-2.2zM401.3 150.1h2.2v2.2h-2.2zM521.7 210.8h2.2v2.2h-2.2zM507.4 151.4h2.2v2.2h-2.2zM545.1 191.1h2.2v2.2h-2.2zM523.2 125.3h2.2v2.2h-2.2zM538.4 144.0h2.2v2.2h-2.2zM622.5 131.6h2.2v2.2h-2.2zM594.4 139.6h2.2v2.2h-2.2zM470.8 83.1h2.2v2.2h-2.2zM470.0 139.7h2.2v2.2h-2.2zM576.2 151.2h2.2v2.2h-2.2zM447.0 257.4h2.2v2.2h-2.2zM534.9 211.5h2.2v2.2h-2.2zM429.2 171.5h2.2v2.2h-2.2zM539.8 84.5h2.2v2.2h-2.2zM422.3 242.7h2.2v2.2h-2.2zM494.7 158.9h2.2v2.2h-2.2zM504.4 70.1h2.2v2.2h-2.2zM492.0 170.3h2.2v2.2h-2.2zM513.3 108.0h2.2v2.2h-2.2zM568.9 182.7h2.2v2.2h-2.2zM527.3 134.3h2.2v2.2h-2.2zM483.4 120.3h2.2v2.2h-2.2zM492.5 200.6h2.2v2.2h-2.2zM558.4 185.4h2.2v2.2h-2.2zM615.0 184.2h2.2v2.2h-2.2zM554.6 193.0h2.2v2.2h-2.2zM506.3 169.4h2.2v2.2h-2.2zM584.4 113.2h2.2v2.2h-2.2zM501.1 201.8h2.2v2.2h-2.2zM571.6 158.7h2.2v2.2h-2.2zM455.2 180.5h2.2v2.2h-2.2zM484.8 116.9h2.2v2.2h-2.2zM547.3 111.4h2.2v2.2h-2.2zM545.4 188.0h2.2v2.2h-2.2zM480.7 164.2h2.2v2.2h-2.2zM527.6 169.2h2.2v2.2h-2.2zM526.3 184.2h2.2v2.2h-2.2zM517.3 271.9h2.2v2.2h-2.2zM440.6 230.6h2.2v2.2h-2.2zM591.6 226.0h2.2v2.2h-2.2zM588.6 260.1h2.2v2.2h-2.2zM492.3 204.2h2.2v2.2h-2.2zM462.2 190.7h2.2v2.2h-2.2zM458.6 85.1h2.2v2.2h-2.2zM457.6 148.4h2.2v2.2h-2.2zM558.0 158.3h2.2v2.2h-2.2zM547.6 242.0h2.2v2.2h-2.2zM511.2 162.0h2.2v2.2h-2.2zM521.1 219.0h2.2v2.2h-2.2zM614.2 111.3h2.2v2.2h-2.2zM519.1 157.8h2.2v2.2h-2.2zM593.5 140.4h2.2v2.2h-2.2zM465.8 146.8h2.2v2.2h-2.2zM391.2 193.5h2.2v2.2h-2.2zM607.1 168.7h2.2v2.2h-2.2zM432.1 179.6h2.2v2.2h-2.2zM481.4 133.7h2.2v2.2h-2.2zM561.0 155.4h2.2v2.2h-2.2zM515.7 60.5h2.2v2.2h-2.2zM573.5 118.4h2.2v2.2h-2.2zM389.1 111.1h2.2v2.2h-2.2zM457.4 188.3h2.2v2.2h-2.2zM510.4 194.2h2.2v2.2h-2.2zM489.0 34.4h2.2v2.2h-2.2zM519.4 112.6h2.2v2.2h-2.2zM547.0 262.1h2.2v2.2h-2.2zM533.3 186.5h2.2v2.2h-2.2zM384.5 143.5h2.2v2.2h-2.2zM463.2 67.9h2.2v2.2h-2.2zM515.2 145.8h2.2v2.2h-2.2zM500.6 110.9h2.2v2.2h-2.2zM579.5 180.8h2.2v2.2h-2.2zM570.0 141.4h2.2v2.2h-2.2zM482.8 154.6h2.2v2.2h-2.2zM551.6 183.0h2.2v2.2h-2.2zM584.5 208.5h2.2v2.2h-2.2zM556.4 95.9h2.2v2.2h-2.2zM581.0 86.5h2.2v2.2h-2.2zM442.2 203.5h2.2v2.2h-2.2zM460.1 176.8h2.2v2.2h-2.2zM472.7 112.3h2.2v2.2h-2.2zM539.5 231.7h2.2v2.2h-2.2zM510.9 167.6h2.2v2.2h-2.2zM479.4 121.7h2.2v2.2h-2.2zM496.3 142.3h2.2v2.2h-2.2zM504.8 149.3h2.2v2.2h-2.2zM484.3 187.1h2.2v2.2h-2.2zM591.3 223.5h2.2v2.2h-2.2zM555.9 154.7h2.2v2.2h-2.2zM571.1 181.4h2.2v2.2h-2.2zM472.0 75.7h2.2v2.2h-2.2zM546.1 160.5h2.2v2.2h-2.2zM505.4 126.9h2.2v2.2h-2.2zM567.5 220.7h2.2v2.2h-2.2zM545.6 128.5h2.2v2.2h-2.2zM593.5 160.6h2.2v2.2h-2.2zM523.8 179.4h2.2v2.2h-2.2zM557.2 243.5h2.2v2.2h-2.2zM472.0 88.2h2.2v2.2h-2.2zM563.9 232.0h2.2v2.2h-2.2zM500.1 243.6h2.2v2.2h-2.2zM451.2 129.4h2.2v2.2h-2.2zM480.5 237.9h2.2v2.2h-2.2zM490.6 226.1h2.2v2.2h-2.2zM555.2 173.3h2.2v2.2h-2.2zM559.7 103.5h2.2v2.2h-2.2zM583.0 188.1h2.2v2.2h-2.2zM520.3 170.6h2.2v2.2h-2.2zM486.7 137.6h2.2v2.2h-2.2zM536.3 206.9h2.2v2.2h-2.2zM438.0 115.5h2.2v2.2h-2.2zM483.0 57.1h2.2v2.2h-2.2zM553.3 237.0h2.2v2.2h-2.2zM499.1 276.7h2.2v2.2h-2.2zM599.0 115.9h2.2v2.2h-2.2zM583.0 171.6h2.2v2.2h-2.2zM516.4 151.7h2.2v2.2h-2.2zM464.0 107.3h2.2v2.2h-2.2zM525.5 181.2h2.2v2.2h-2.2zM483.4 95.4h2.2v2.2h-2.2zM484.7 126.9h2.2v2.2h-2.2zM452.7 238.6h2.2v2.2h-2.2zM550.0 174.4h2.2v2.2h-2.2zM503.0 143.3h2.2v2.2h-2.2zM475.7 173.4h2.2v2.2h-2.2zM455.0 211.7h2.2v2.2h-2.2zM601.3 117.7h2.2v2.2h-2.2zM504.2 181.1h2.2v2.2h-2.2zM518.8 117.3h2.2v2.2h-2.2zM498.4 168.6h2.2v2.2h-2.2zM491.4 214.8h2.2v2.2h-2.2zM464.4 203.9h2.2v2.2h-2.2zM480.0 112.7h2.2v2.2h-2.2zM484.2 148.5h2.2v2.2h-2.2zM579.6 168.2h2.2v2.2h-2.2zM588.7 140.1h2.2v2.2h-2.2zM529.8 168.9h2.2v2.2h-2.2zM545.2 206.1h2.2v2.2h-2.2zM454.4 144.1h2.2v2.2h-2.2zM487.3 175.9h2.2v2.2h-2.2zM532.7 138.6h2.2v2.2h-2.2zM399.1 121.5h2.2v2.2h-2.2zM570.7 140.2h2.2v2.2h-2.2zM487.5 40.4h2.2v2.2h-2.2zM533.5 232.5h2.2v2.2h-2.2zM514.6 41.2h2.2v2.2h-2.2zM502.1 150.7h2.2v2.2h-2.2zM579.1 107.7h2.2v2.2h-2.2zM494.7 129.6h2.2v2.2h-2.2zM546.7 134.1h2.2v2.2h-2.2zM520.4 134.9h2.2v2.2h-2.2zM459.6 48.3h2.2v2.2h-2.2zM542.3 82.8h2.2v2.2h-2.2zM425.0 190.3h2.2v2.2h-2.2zM505.3 203.1h2.2v2.2h-2.2zM552.7 153.7h2.2v2.2h-2.2zM604.2 201.6h2.2v2.2h-2.2zM445.2 59.0h2.2v2.2h-2.2zM410.8 147.5h2.2v2.2h-2.2zM462.5 133.4h2.2v2.2h-2.2zM440.9 188.5h2.2v2.2h-2.2zM457.6 161.0h2.2v2.2h-2.2zM492.4 268.3h2.2v2.2h-2.2zM459.0 68.5h2.2v2.2h-2.2zM469.4 206.9h2.2v2.2h-2.2zM456.2 117.3h2.2v2.2h-2.2zM571.4 230.3h2.2v2.2h-2.2zM479.7 223.7h2.2v2.2h-2.2zM389.0 145.2h2.2v2.2h-2.2zM514.2 113.8h2.2v2.2h-2.2zM533.2 215.8h2.2v2.2h-2.2zM574.4 77.9h2.2v2.2h-2.2zM516.2 226.5h2.2v2.2h-2.2zM542.7 216.1h2.2v2.2h-2.2zM582.0 108.9h2.2v2.2h-2.2zM477.0 64.3h2.2v2.2h-2.2zM578.5 172.4h2.2v2.2h-2.2zM490.7 139.4h2.2v2.2h-2.2zM420.5 63.9h2.2v2.2h-2.2zM532.8 166.1h2.2v2.2h-2.2zM495.0 221.3h2.2v2.2h-2.2zM480.1 91.4h2.2v2.2h-2.2zM476.0 209.9h2.2v2.2h-2.2zM586.1 140.9h2.2v2.2h-2.2zM561.4 95.5h2.2v2.2h-2.2zM527.0 37.7h2.2v2.2h-2.2zM531.2 202.4h2.2v2.2h-2.2zM527.0 141.9h2.2v2.2h-2.2zM526.1 55.7h2.2v2.2h-2.2zM406.3 115.6h2.2v2.2h-2.2zM484.2 213.6h2.2v2.2h-2.2zM460.0 106.7h2.2v2.2h-2.2zM590.8 237.6h2.2v2.2h-2.2zM499.1 204.2h2.2v2.2h-2.2zM594.9 66.1h2.2v2.2h-2.2zM502.3 203.7h2.2v2.2h-2.2zM467.9 196.0h2.2v2.2h-2.2zM465.6 141.1h2.2v2.2h-2.2zM484.4 163.3h2.2v2.2h-2.2zM504.5 173.3h2.2v2.2h-2.2zM565.6 106.6h2.2v2.2h-2.2zM409.6 137.8h2.2v2.2h-2.2zM548.6 163.3h2.2v2.2h-2.2zM570.9 156.0h2.2v2.2h-2.2zM512.4 226.9h2.2v2.2h-2.2zM496.3 184.5h2.2v2.2h-2.2zM548.3 185.1h2.2v2.2h-2.2zM401.0 207.9h2.2v2.2h-2.2zM450.1 99.5h2.2v2.2h-2.2zM433.6 116.8h2.2v2.2h-2.2zM459.3 120.3h2.2v2.2h-2.2zM415.8 232.3h2.2v2.2h-2.2zM585.6 159.8h2.2v2.2h-2.2zM406.6 134.4h2.2v2.2h-2.2zM424.2 107.4h2.2v2.2h-2.2zM595.0 167.9h2.2v2.2h-2.2zM590.1 169.6h2.2v2.2h-2.2zM464.2 108.0h2.2v2.2h-2.2zM417.0 165.4h2.2v2.2h-2.2zM584.5 133.0h2.2v2.2h-2.2zM455.7 127.6h2.2v2.2h-2.2zM576.6 139.4h2.2v2.2h-2.2zM501.7 78.2h2.2v2.2h-2.2zM497.1 86.8h2.2v2.2h-2.2zM545.6 150.5h2.2v2.2h-2.2zM472.5 255.9h2.2v2.2h-2.2zM476.2 142.9h2.2v2.2h-2.2zM454.3 63.8h2.2v2.2h-2.2zM444.7 66.1h2.2v2.2h-2.2zM486.2 108.7h2.2v2.2h-2.2zM560.9 216.1h2.2v2.2h-2.2zM618.3 183.3h2.2v2.2h-2.2zM552.1 101.5h2.2v2.2h-2.2zM529.6 175.7h2.2v2.2h-2.2zM521.4 177.9h2.2v2.2h-2.2zM490.4 107.6h2.2v2.2h-2.2zM569.4 97.8h2.2v2.2h-2.2zM500.2 167.9h2.2v2.2h-2.2zM542.3 144.3h2.2v2.2h-2.2zM481.0 225.6h2.2v2.2h-2.2zM528.8 187.7h2.2v2.2h-2.2zM446.8 191.1h2.2v2.2h-2.2zM419.7 87.2h2.2v2.2h-2.2zM554.4 78.0h2.2v2.2h-2.2zM462.4 104.9h2.2v2.2h-2.2zM424.9 83.5h2.2v2.2h-2.2zM416.1 174.6h2.2v2.2h-2.2zM511.9 108.9h2.2v2.2h-2.2zM475.0 99.7h2.2v2.2h-2.2zM582.1 174.4h2.2v2.2h-2.2zM524.3 204.7h2.2v2.2h-2.2zM457.2 143.6h2.2v2.2h-2.2zM458.8 60.3h2.2v2.2h-2.2zM469.6 93.7h2.2v2.2h-2.2zM574.2 100.1h2.2v2.2h-2.2zM537.6 234.6h2.2v2.2h-2.2zM578.0 154.5h2.2v2.2h-2.2zM437.3 202.7h2.2v2.2h-2.2zM424.2 135.4h2.2v2.2h-2.2zM543.7 96.7h2.2v2.2h-2.2zM430.8 114.7h2.2v2.2h-2.2zM486.5 219.1h2.2v2.2h-2.2zM584.9 125.2h2.2v2.2h-2.2zM521.4 215.2h2.2v2.2h-2.2zM560.9 187.9h2.2v2.2h-2.2zM489.6 64.5h2.2v2.2h-2.2zM500.3 90.0h2.2v2.2h-2.2zM479.0 161.7h2.2v2.2h-2.2zM467.4 264.9h2.2v2.2h-2.2zM509.3 196.6h2.2v2.2h-2.2zM498.0 140.2h2.2v2.2h-2.2zM485.3 57.9h2.2v2.2h-2.2zM447.2 116.7h2.2v2.2h-2.2zM478.1 138.3h2.2v2.2h-2.2zM517.3 196.3h2.2v2.2h-2.2zM604.4 123.5h2.2v2.2h-2.2zM560.5 176.6h2.2v2.2h-2.2zM517.7 75.3h2.2v2.2h-2.2zM439.3 207.5h2.2v2.2h-2.2zM554.1 207.7h2.2v2.2h-2.2zM482.0 99.7h2.2v2.2h-2.2zM571.5 98.1h2.2v2.2h-2.2zM543.7 220.7h2.2v2.2h-2.2zM423.3 79.3h2.2v2.2h-2.2zM549.8 161.8h2.2v2.2h-2.2zM513.2 209.3h2.2v2.2h-2.2zM474.8 128.9h2.2v2.2h-2.2zM576.0 170.4h2.2v2.2h-2.2zM469.7 102.8h2.2v2.2h-2.2zM580.2 182.0h2.2v2.2h-2.2zM529.2 80.2h2.2v2.2h-2.2zM539.3 151.1h2.2v2.2h-2.2zM518.8 143.0h2.2v2.2h-2.2zM460.4 117.2h2.2v2.2h-2.2zM494.4 196.5h2.2v2.2h-2.2zM530.7 79.6h2.2v2.2h-2.2zM548.5 220.0h2.2v2.2h-2.2zM551.4 123.4h2.2v2.2h-2.2zM567.7 181.4h2.2v2.2h-2.2zM576.5 92.8h2.2v2.2h-2.2zM393.1 135.5h2.2v2.2h-2.2zM484.7 84.1h2.2v2.2h-2.2zM492.7 227.5h2.2v2.2h-2.2zM522.3 140.2h2.2v2.2h-2.2zM530.9 198.6h2.2v2.2h-2.2zM447.7 102.9h2.2v2.2h-2.2zM519.0 168.7h2.2v2.2h-2.2zM435.3 115.7h2.2v2.2h-2.2zM520.1 198.9h2.2v2.2h-2.2zM482.8 133.7h2.2v2.2h-2.2zM559.2 188.9h2.2v2.2h-2.2zM494.2 140.4h2.2v2.2h-2.2zM443.0 144.2h2.2v2.2h-2.2zM520.5 176.9h2.2v2.2h-2.2zM496.4 204.6h2.2v2.2h-2.2zM438.4 124.6h2.2v2.2h-2.2zM552.7 157.5h2.2v2.2h-2.2zM474.9 226.0h2.2v2.2h-2.2zM527.3 141.5h2.2v2.2h-2.2zM461.3 122.9h2.2v2.2h-2.2zM499.7 262.3h2.2v2.2h-2.2zM500.4 183.6h2.2v2.2h-2.2zM492.0 223.8h2.2v2.2h-2.2zM532.6 202.9h2.2v2.2h-2.2zM500.1 174.3h2.2v2.2h-2.2zM520.4 178.5h2.2v2.2h-2.2zM561.8 93.7h2.2v2.2h-2.2zM484.0 217.9h2.2v2.2h-2.2zM505.7 124.1h2.2v2.2h-2.2zM554.4 213.7h2.2v2.2h-2.2zM452.5 192.4h2.2v2.2h-2.2zM466.0 228.9h2.2v2.2h-2.2zM522.6 234.5h2.2v2.2h-2.2zM562.8 162.3h2.2v2.2h-2.2zM420.9 250.8h2.2v2.2h-2.2zM582.6 266.4h2.2v2.2h-2.2zM433.2 139.3h2.2v2.2h-2.2zM408.8 107.8h2.2v2.2h-2.2zM524.9 143.3h2.2v2.2h-2.2zM450.6 107.1h2.2v2.2h-2.2zM470.8 144.6h2.2v2.2h-2.2zM588.5 182.5h2.2v2.2h-2.2zM486.1 94.8h2.2v2.2h-2.2zM395.3 173.0h2.2v2.2h-2.2zM584.5 153.1h2.2v2.2h-2.2zM397.1 83.3h2.2v2.2h-2.2zM541.1 208.6h2.2v2.2h-2.2zM538.5 50.4h2.2v2.2h-2.2zM603.5 80.8h2.2v2.2h-2.2zM460.0 186.3h2.2v2.2h-2.2zM567.1 248.9h2.2v2.2h-2.2zM557.5 122.1h2.2v2.2h-2.2zM513.9 178.6h2.2v2.2h-2.2zM479.5 168.1h2.2v2.2h-2.2zM548.9 152.0h2.2v2.2h-2.2zM513.1 168.3h2.2v2.2h-2.2zM407.1 184.5h2.2v2.2h-2.2zM486.4 134.4h2.2v2.2h-2.2zM403.0 138.6h2.2v2.2h-2.2zM528.2 207.3h2.2v2.2h-2.2zM570.1 210.5h2.2v2.2h-2.2zM525.5 138.7h2.2v2.2h-2.2zM416.8 82.8h2.2v2.2h-2.2zM538.8 185.3h2.2v2.2h-2.2zM514.9 199.1h2.2v2.2h-2.2zM511.7 216.8h2.2v2.2h-2.2zM530.8 195.2h2.2v2.2h-2.2zM555.4 50.0h2.2v2.2h-2.2zM580.4 64.4h2.2v2.2h-2.2zM539.4 95.2h2.2v2.2h-2.2zM487.1 216.6h2.2v2.2h-2.2zM549.9 246.3h2.2v2.2h-2.2zM486.2 97.7h2.2v2.2h-2.2zM519.3 238.0h2.2v2.2h-2.2zM548.5 105.9h2.2v2.2h-2.2zM445.3 209.2h2.2v2.2h-2.2zM477.1 204.8h2.2v2.2h-2.2zM609.1 109.8h2.2v2.2h-2.2zM487.8 267.8h2.2v2.2h-2.2zM416.0 82.5h2.2v2.2h-2.2zM497.7 112.1h2.2v2.2h-2.2zM535.9 195.7h2.2v2.2h-2.2zM512.2 223.4h2.2v2.2h-2.2zM527.2 138.7h2.2v2.2h-2.2zM470.4 33.4h2.2v2.2h-2.2zM572.3 162.8h2.2v2.2h-2.2zM534.0 142.9h2.2v2.2h-2.2zM428.1 184.5h2.2v2.2h-2.2zM490.8 190.1h2.2v2.2h-2.2zM588.4 135.9h2.2v2.2h-2.2zM487.5 178.6h2.2v2.2h-2.2zM434.2 82.7h2.2v2.2h-2.2zM421.7 133.5h2.2v2.2h-2.2zM468.6 166.7h2.2v2.2h-2.2zM457.6 104.9h2.2v2.2h-2.2zM511.7 243.0h2.2v2.2h-2.2zM498.0 185.6h2.2v2.2h-2.2zM493.4 226.9h2.2v2.2h-2.2zM426.6 84.5h2.2v2.2h-2.2zM554.2 148.6h2.2v2.2h-2.2zM535.0 206.7h2.2v2.2h-2.2zM563.8 154.0h2.2v2.2h-2.2zM492.3 165.0h2.2v2.2h-2.2zM498.4 178.8h2.2v2.2h-2.2zM432.3 70.1h2.2v2.2h-2.2zM445.6 91.8h2.2v2.2h-2.2zM385.7 97.1h2.2v2.2h-2.2zM512.7 88.9h2.2v2.2h-2.2zM453.9 234.1h2.2v2.2h-2.2zM487.2 189.5h2.2v2.2h-2.2zM427.1 86.8h2.2v2.2h-2.2zM450.5 151.0h2.2v2.2h-2.2zM619.0 172.5h2.2v2.2h-2.2zM540.6 189.2h2.2v2.2h-2.2zM406.9 109.2h2.2v2.2h-2.2zM516.8 155.1h2.2v2.2h-2.2zM477.2 144.6h2.2v2.2h-2.2zM598.0 93.8h2.2v2.2h-2.2zM457.0 99.0h2.2v2.2h-2.2zM485.6 119.2h2.2v2.2h-2.2zM504.6 145.9h2.2v2.2h-2.2zM537.5 231.7h2.2v2.2h-2.2zM432.0 98.7h2.2v2.2h-2.2zM472.0 117.9h2.2v2.2h-2.2zM528.6 235.9h2.2v2.2h-2.2zM462.2 220.4h2.2v2.2h-2.2zM549.4 157.5h2.2v2.2h-2.2zM540.9 167.5h2.2v2.2h-2.2zM564.3 184.9h2.2v2.2h-2.2zM390.5 80.9h2.2v2.2h-2.2zM501.4 65.4h2.2v2.2h-2.2zM545.0 274.3h2.2v2.2h-2.2zM515.6 242.6h2.2v2.2h-2.2zM465.9 145.1h2.2v2.2h-2.2zM568.5 138.7h2.2v2.2h-2.2zM454.7 134.4h2.2v2.2h-2.2zM497.0 70.7h2.2v2.2h-2.2zM558.8 142.9h2.2v2.2h-2.2zM492.6 74.8h2.2v2.2h-2.2zM458.1 188.2h2.2v2.2h-2.2zM520.4 225.1h2.2v2.2h-2.2zM450.0 224.5h2.2v2.2h-2.2zM531.4 189.2h2.2v2.2h-2.2zM558.7 182.5h2.2v2.2h-2.2zM438.4 247.4h2.2v2.2h-2.2zM376.6 221.5h2.2v2.2h-2.2zM481.3 121.2h2.2v2.2h-2.2zM436.0 247.9h2.2v2.2h-2.2zM555.9 81.7h2.2v2.2h-2.2zM456.8 183.8h2.2v2.2h-2.2zM555.8 166.4h2.2v2.2h-2.2zM490.0 78.0h2.2v2.2h-2.2zM505.0 72.5h2.2v2.2h-2.2zM522.8 131.9h2.2v2.2h-2.2zM449.6 210.4h2.2v2.2h-2.2zM387.9 234.8h2.2v2.2h-2.2zM497.2 216.2h2.2v2.2h-2.2zM547.4 202.8h2.2v2.2h-2.2zM579.2 150.2h2.2v2.2h-2.2zM551.8 243.1h2.2v2.2h-2.2zM522.8 51.9h2.2v2.2h-2.2zM576.9 183.4h2.2v2.2h-2.2zM444.2 187.7h2.2v2.2h-2.2zM506.5 182.1h2.2v2.2h-2.2zM499.4 136.9h2.2v2.2h-2.2zM521.4 101.9h2.2v2.2h-2.2zM523.9 133.1h2.2v2.2h-2.2zM600.4 69.7h2.2v2.2h-2.2zM532.0 107.0h2.2v2.2h-2.2zM539.2 168.6h2.2v2.2h-2.2zM487.0 78.5h2.2v2.2h-2.2zM523.0 240.0h2.2v2.2h-2.2zM504.7 167.0h2.2v2.2h-2.2zM413.0 241.9h2.2v2.2h-2.2zM459.0 104.9h2.2v2.2h-2.2zM567.0 124.1h2.2v2.2h-2.2zM457.4 258.8h2.2v2.2h-2.2zM517.4 67.5h2.2v2.2h-2.2zM593.0 167.7h2.2v2.2h-2.2zM446.5 134.7h2.2v2.2h-2.2zM501.0 110.9h2.2v2.2h-2.2zM517.1 228.9h2.2v2.2h-2.2zM495.0 236.1h2.2v2.2h-2.2zM475.5 239.9h2.2v2.2h-2.2zM540.3 167.8h2.2v2.2h-2.2zM532.2 169.7h2.2v2.2h-2.2zM563.8 210.3h2.2v2.2h-2.2zM586.5 215.9h2.2v2.2h-2.2zM462.8 201.6h2.2v2.2h-2.2zM550.8 197.1h2.2v2.2h-2.2zM454.2 128.6h2.2v2.2h-2.2zM618.0 152.9h2.2v2.2h-2.2zM432.4 201.0h2.2v2.2h-2.2zM556.1 98.7h2.2v2.2h-2.2zM484.8 167.1h2.2v2.2h-2.2zM561.0 233.0h2.2v2.2h-2.2zM459.1 137.7h2.2v2.2h-2.2zM477.2 181.0h2.2v2.2h-2.2zM546.1 209.5h2.2v2.2h-2.2zM418.2 111.9h2.2v2.2h-2.2zM466.5 232.4h2.2v2.2h-2.2zM542.0 49.4h2.2v2.2h-2.2zM494.5 222.9h2.2v2.2h-2.2zM524.6 142.8h2.2v2.2h-2.2z" fill="#a48cf4"/><path d="M548.1 124.8h2.2v2.2h-2.2zM412.3 93.4h2.2v2.2h-2.2zM523.7 154.3h2.2v2.2h-2.2zM582.3 138.2h2.2v2.2h-2.2zM403.4 222.6h2.2v2.2h-2.2zM549.6 200.7h2.2v2.2h-2.2zM431.6 91.9h2.2v2.2h-2.2zM428.0 116.5h2.2v2.2h-2.2zM454.2 84.3h2.2v2.2h-2.2zM545.1 212.6h2.2v2.2h-2.2zM502.6 82.0h2.2v2.2h-2.2zM473.8 172.4h2.2v2.2h-2.2zM511.4 92.1h2.2v2.2h-2.2zM500.4 154.7h2.2v2.2h-2.2zM558.4 148.2h2.2v2.2h-2.2zM530.1 115.2h2.2v2.2h-2.2zM519.2 191.2h2.2v2.2h-2.2zM514.6 172.5h2.2v2.2h-2.2zM402.1 94.1h2.2v2.2h-2.2zM465.8 211.9h2.2v2.2h-2.2zM498.3 175.2h2.2v2.2h-2.2zM449.1 133.8h2.2v2.2h-2.2zM579.4 123.4h2.2v2.2h-2.2zM545.8 149.6h2.2v2.2h-2.2zM411.6 189.3h2.2v2.2h-2.2zM559.9 169.9h2.2v2.2h-2.2zM532.0 71.2h2.2v2.2h-2.2zM539.2 95.1h2.2v2.2h-2.2zM610.0 219.7h2.2v2.2h-2.2zM516.5 217.7h2.2v2.2h-2.2zM520.4 116.8h2.2v2.2h-2.2zM519.6 215.7h2.2v2.2h-2.2zM447.1 173.9h2.2v2.2h-2.2zM593.7 169.5h2.2v2.2h-2.2zM461.8 79.6h2.2v2.2h-2.2zM562.1 171.1h2.2v2.2h-2.2zM567.7 160.2h2.2v2.2h-2.2zM516.3 152.3h2.2v2.2h-2.2zM562.5 208.2h2.2v2.2h-2.2zM472.4 216.3h2.2v2.2h-2.2zM467.0 79.4h2.2v2.2h-2.2zM498.7 174.9h2.2v2.2h-2.2zM531.1 135.2h2.2v2.2h-2.2zM430.0 178.5h2.2v2.2h-2.2zM491.4 72.5h2.2v2.2h-2.2zM512.6 180.7h2.2v2.2h-2.2zM527.8 240.4h2.2v2.2h-2.2zM415.7 185.9h2.2v2.2h-2.2zM566.1 122.6h2.2v2.2h-2.2zM488.4 74.6h2.2v2.2h-2.2zM431.1 186.7h2.2v2.2h-2.2zM481.0 214.9h2.2v2.2h-2.2zM558.4 164.6h2.2v2.2h-2.2zM503.1 170.0h2.2v2.2h-2.2zM504.8 163.7h2.2v2.2h-2.2zM529.3 229.4h2.2v2.2h-2.2zM536.2 109.3h2.2v2.2h-2.2zM468.0 266.6h2.2v2.2h-2.2zM602.9 117.9h2.2v2.2h-2.2zM549.1 90.3h2.2v2.2h-2.2zM465.5 135.5h2.2v2.2h-2.2zM498.5 79.2h2.2v2.2h-2.2zM441.4 211.6h2.2v2.2h-2.2zM508.2 218.0h2.2v2.2h-2.2zM556.2 178.9h2.2v2.2h-2.2zM453.2 178.5h2.2v2.2h-2.2zM445.7 111.5h2.2v2.2h-2.2zM486.7 264.9h2.2v2.2h-2.2zM470.8 120.7h2.2v2.2h-2.2zM541.3 47.6h2.2v2.2h-2.2zM623.9 182.2h2.2v2.2h-2.2zM570.5 61.7h2.2v2.2h-2.2zM563.3 220.5h2.2v2.2h-2.2zM446.2 192.0h2.2v2.2h-2.2zM448.4 125.2h2.2v2.2h-2.2zM445.3 50.1h2.2v2.2h-2.2zM519.2 198.5h2.2v2.2h-2.2zM421.9 144.5h2.2v2.2h-2.2zM588.4 119.7h2.2v2.2h-2.2zM574.5 192.7h2.2v2.2h-2.2zM390.4 83.2h2.2v2.2h-2.2zM513.4 210.8h2.2v2.2h-2.2zM451.2 125.6h2.2v2.2h-2.2zM498.7 127.5h2.2v2.2h-2.2zM532.6 59.4h2.2v2.2h-2.2zM452.5 207.3h2.2v2.2h-2.2zM586.4 172.1h2.2v2.2h-2.2zM603.7 175.1h2.2v2.2h-2.2zM526.5 248.2h2.2v2.2h-2.2zM550.7 166.7h2.2v2.2h-2.2zM591.7 232.8h2.2v2.2h-2.2zM558.3 163.4h2.2v2.2h-2.2zM534.0 154.2h2.2v2.2h-2.2zM515.6 127.1h2.2v2.2h-2.2zM565.5 145.2h2.2v2.2h-2.2zM529.8 202.5h2.2v2.2h-2.2zM551.9 97.2h2.2v2.2h-2.2zM467.8 174.2h2.2v2.2h-2.2zM508.7 200.0h2.2v2.2h-2.2zM545.3 199.0h2.2v2.2h-2.2zM493.5 170.3h2.2v2.2h-2.2zM593.8 132.5h2.2v2.2h-2.2zM459.3 130.3h2.2v2.2h-2.2zM555.9 255.7h2.2v2.2h-2.2zM471.6 157.3h2.2v2.2h-2.2zM445.7 159.6h2.2v2.2h-2.2zM396.7 189.9h2.2v2.2h-2.2zM593.6 146.0h2.2v2.2h-2.2zM481.3 65.0h2.2v2.2h-2.2zM498.2 253.9h2.2v2.2h-2.2zM511.4 146.2h2.2v2.2h-2.2zM489.0 90.9h2.2v2.2h-2.2zM440.5 69.1h2.2v2.2h-2.2zM541.0 135.0h2.2v2.2h-2.2zM487.9 124.5h2.2v2.2h-2.2zM521.9 207.3h2.2v2.2h-2.2zM510.9 76.5h2.2v2.2h-2.2zM414.4 117.1h2.2v2.2h-2.2zM493.8 161.5h2.2v2.2h-2.2zM586.7 138.5h2.2v2.2h-2.2zM569.5 152.8h2.2v2.2h-2.2zM463.8 170.7h2.2v2.2h-2.2zM542.3 145.9h2.2v2.2h-2.2zM493.9 177.6h2.2v2.2h-2.2zM511.7 150.7h2.2v2.2h-2.2zM576.7 142.7h2.2v2.2h-2.2zM462.3 163.9h2.2v2.2h-2.2zM603.8 142.7h2.2v2.2h-2.2zM452.2 119.5h2.2v2.2h-2.2zM485.9 194.5h2.2v2.2h-2.2zM490.9 190.7h2.2v2.2h-2.2zM405.1 160.4h2.2v2.2h-2.2zM458.5 122.2h2.2v2.2h-2.2zM551.8 104.0h2.2v2.2h-2.2zM496.0 127.5h2.2v2.2h-2.2zM439.4 122.4h2.2v2.2h-2.2zM483.1 215.6h2.2v2.2h-2.2zM506.0 243.2h2.2v2.2h-2.2zM390.9 126.6h2.2v2.2h-2.2zM611.1 211.5h2.2v2.2h-2.2zM524.3 203.6h2.2v2.2h-2.2zM456.0 187.7h2.2v2.2h-2.2zM513.1 81.8h2.2v2.2h-2.2zM586.5 149.9h2.2v2.2h-2.2zM485.2 176.9h2.2v2.2h-2.2zM504.9 158.5h2.2v2.2h-2.2zM404.2 151.8h2.2v2.2h-2.2zM475.3 121.8h2.2v2.2h-2.2zM404.8 178.0h2.2v2.2h-2.2zM544.0 126.2h2.2v2.2h-2.2zM551.3 173.7h2.2v2.2h-2.2zM548.0 144.2h2.2v2.2h-2.2zM538.1 209.7h2.2v2.2h-2.2zM607.7 95.8h2.2v2.2h-2.2zM486.0 66.7h2.2v2.2h-2.2zM513.6 231.1h2.2v2.2h-2.2zM414.7 173.6h2.2v2.2h-2.2zM456.2 94.8h2.2v2.2h-2.2zM474.0 129.1h2.2v2.2h-2.2zM566.9 153.3h2.2v2.2h-2.2zM437.6 56.6h2.2v2.2h-2.2zM597.0 185.7h2.2v2.2h-2.2zM463.5 74.6h2.2v2.2h-2.2zM549.9 149.4h2.2v2.2h-2.2zM531.9 154.1h2.2v2.2h-2.2zM429.0 185.0h2.2v2.2h-2.2zM476.0 174.1h2.2v2.2h-2.2zM440.6 123.6h2.2v2.2h-2.2zM519.4 214.8h2.2v2.2h-2.2zM488.9 242.2h2.2v2.2h-2.2zM584.7 155.9h2.2v2.2h-2.2zM489.9 162.1h2.2v2.2h-2.2zM531.0 124.5h2.2v2.2h-2.2zM536.3 160.2h2.2v2.2h-2.2zM481.3 235.4h2.2v2.2h-2.2zM567.2 202.1h2.2v2.2h-2.2zM449.3 156.5h2.2v2.2h-2.2zM488.5 217.6h2.2v2.2h-2.2zM444.9 116.1h2.2v2.2h-2.2zM523.3 89.9h2.2v2.2h-2.2zM604.5 222.9h2.2v2.2h-2.2zM453.5 109.6h2.2v2.2h-2.2zM468.7 81.1h2.2v2.2h-2.2zM456.8 232.8h2.2v2.2h-2.2zM570.2 50.7h2.2v2.2h-2.2zM496.1 105.3h2.2v2.2h-2.2zM459.4 248.0h2.2v2.2h-2.2zM464.3 82.3h2.2v2.2h-2.2zM468.9 79.1h2.2v2.2h-2.2zM480.2 104.2h2.2v2.2h-2.2zM499.8 123.2h2.2v2.2h-2.2zM456.1 243.4h2.2v2.2h-2.2zM479.7 224.8h2.2v2.2h-2.2zM469.1 150.2h2.2v2.2h-2.2zM577.6 142.0h2.2v2.2h-2.2zM484.9 102.2h2.2v2.2h-2.2zM507.4 95.7h2.2v2.2h-2.2zM492.3 208.6h2.2v2.2h-2.2zM497.1 139.8h2.2v2.2h-2.2zM570.5 115.9h2.2v2.2h-2.2zM480.2 148.6h2.2v2.2h-2.2zM579.5 206.5h2.2v2.2h-2.2zM466.1 117.9h2.2v2.2h-2.2zM479.3 215.3h2.2v2.2h-2.2zM500.0 156.0h2.2v2.2h-2.2zM537.1 137.0h2.2v2.2h-2.2zM414.6 164.3h2.2v2.2h-2.2zM429.9 158.4h2.2v2.2h-2.2zM492.0 168.1h2.2v2.2h-2.2zM491.3 229.3h2.2v2.2h-2.2zM512.5 80.1h2.2v2.2h-2.2zM499.8 109.1h2.2v2.2h-2.2zM414.3 70.6h2.2v2.2h-2.2zM526.5 177.1h2.2v2.2h-2.2zM465.3 227.5h2.2v2.2h-2.2zM565.4 192.7h2.2v2.2h-2.2zM482.4 165.3h2.2v2.2h-2.2zM423.5 122.4h2.2v2.2h-2.2zM515.0 171.9h2.2v2.2h-2.2zM573.7 140.8h2.2v2.2h-2.2zM560.8 137.1h2.2v2.2h-2.2zM459.7 60.9h2.2v2.2h-2.2zM561.2 99.0h2.2v2.2h-2.2zM573.7 119.3h2.2v2.2h-2.2zM500.3 117.7h2.2v2.2h-2.2zM432.6 226.6h2.2v2.2h-2.2zM598.2 143.0h2.2v2.2h-2.2zM435.2 59.7h2.2v2.2h-2.2zM412.6 261.0h2.2v2.2h-2.2zM561.8 147.6h2.2v2.2h-2.2zM552.5 200.1h2.2v2.2h-2.2zM544.3 134.5h2.2v2.2h-2.2zM482.1 152.2h2.2v2.2h-2.2zM513.0 92.1h2.2v2.2h-2.2zM561.5 199.2h2.2v2.2h-2.2zM536.7 194.4h2.2v2.2h-2.2zM383.9 164.2h2.2v2.2h-2.2zM546.5 101.3h2.2v2.2h-2.2zM458.5 153.2h2.2v2.2h-2.2zM471.7 174.8h2.2v2.2h-2.2zM503.5 252.4h2.2v2.2h-2.2zM477.0 195.3h2.2v2.2h-2.2zM440.2 215.7h2.2v2.2h-2.2zM451.4 244.6h2.2v2.2h-2.2zM598.5 209.9h2.2v2.2h-2.2zM444.0 106.9h2.2v2.2h-2.2zM510.6 106.8h2.2v2.2h-2.2zM399.2 100.4h2.2v2.2h-2.2zM425.0 69.4h2.2v2.2h-2.2zM524.1 145.7h2.2v2.2h-2.2zM542.2 183.8h2.2v2.2h-2.2zM525.0 177.3h2.2v2.2h-2.2zM543.0 239.8h2.2v2.2h-2.2zM606.0 221.8h2.2v2.2h-2.2zM556.1 141.2h2.2v2.2h-2.2zM514.8 232.3h2.2v2.2h-2.2zM459.6 195.3h2.2v2.2h-2.2zM554.9 197.3h2.2v2.2h-2.2zM478.5 181.7h2.2v2.2h-2.2zM523.3 220.4h2.2v2.2h-2.2zM480.5 106.5h2.2v2.2h-2.2zM488.4 254.8h2.2v2.2h-2.2zM462.5 209.4h2.2v2.2h-2.2zM584.3 219.1h2.2v2.2h-2.2zM551.3 132.0h2.2v2.2h-2.2zM449.2 167.6h2.2v2.2h-2.2zM481.3 144.4h2.2v2.2h-2.2zM533.8 252.5h2.2v2.2h-2.2zM587.7 178.5h2.2v2.2h-2.2zM426.9 150.0h2.2v2.2h-2.2zM466.3 180.8h2.2v2.2h-2.2zM492.4 100.6h2.2v2.2h-2.2zM607.6 160.4h2.2v2.2h-2.2zM563.7 213.3h2.2v2.2h-2.2zM450.3 90.6h2.2v2.2h-2.2zM474.6 261.1h2.2v2.2h-2.2zM449.8 212.1h2.2v2.2h-2.2zM478.6 96.2h2.2v2.2h-2.2zM550.2 121.9h2.2v2.2h-2.2zM505.6 192.8h2.2v2.2h-2.2zM403.5 68.0h2.2v2.2h-2.2zM586.1 147.7h2.2v2.2h-2.2zM562.3 186.6h2.2v2.2h-2.2zM421.6 225.2h2.2v2.2h-2.2zM495.8 70.7h2.2v2.2h-2.2zM550.2 206.7h2.2v2.2h-2.2zM590.3 152.7h2.2v2.2h-2.2zM519.4 176.3h2.2v2.2h-2.2zM550.8 235.6h2.2v2.2h-2.2zM568.2 245.5h2.2v2.2h-2.2zM575.5 175.4h2.2v2.2h-2.2zM500.2 84.5h2.2v2.2h-2.2zM534.4 148.7h2.2v2.2h-2.2zM403.2 151.6h2.2v2.2h-2.2zM464.6 257.3h2.2v2.2h-2.2zM513.9 239.5h2.2v2.2h-2.2zM516.6 135.6h2.2v2.2h-2.2zM526.9 194.4h2.2v2.2h-2.2zM496.5 183.1h2.2v2.2h-2.2zM534.2 180.3h2.2v2.2h-2.2zM532.1 197.0h2.2v2.2h-2.2zM538.5 271.3h2.2v2.2h-2.2zM488.9 49.8h2.2v2.2h-2.2zM564.6 228.4h2.2v2.2h-2.2zM561.1 245.1h2.2v2.2h-2.2zM585.0 128.5h2.2v2.2h-2.2zM413.4 167.4h2.2v2.2h-2.2zM495.1 208.0h2.2v2.2h-2.2zM598.5 171.1h2.2v2.2h-2.2zM524.8 91.1h2.2v2.2h-2.2zM471.0 121.6h2.2v2.2h-2.2zM426.6 136.5h2.2v2.2h-2.2zM469.3 89.5h2.2v2.2h-2.2zM456.6 146.5h2.2v2.2h-2.2zM541.0 273.0h2.2v2.2h-2.2zM504.4 149.0h2.2v2.2h-2.2zM566.1 272.6h2.2v2.2h-2.2zM457.6 119.3h2.2v2.2h-2.2zM476.8 208.0h2.2v2.2h-2.2zM502.2 233.2h2.2v2.2h-2.2zM603.6 213.2h2.2v2.2h-2.2zM456.0 171.3h2.2v2.2h-2.2zM490.7 123.0h2.2v2.2h-2.2zM485.1 185.8h2.2v2.2h-2.2zM481.3 138.4h2.2v2.2h-2.2zM514.6 66.8h2.2v2.2h-2.2zM513.4 259.3h2.2v2.2h-2.2zM540.0 156.3h2.2v2.2h-2.2zM434.8 166.4h2.2v2.2h-2.2zM429.8 102.1h2.2v2.2h-2.2zM494.9 130.8h2.2v2.2h-2.2zM563.2 179.5h2.2v2.2h-2.2zM509.2 117.6h2.2v2.2h-2.2zM562.5 179.1h2.2v2.2h-2.2zM447.0 65.4h2.2v2.2h-2.2zM445.4 115.1h2.2v2.2h-2.2zM406.5 99.3h2.2v2.2h-2.2zM487.5 248.2h2.2v2.2h-2.2zM461.0 128.9h2.2v2.2h-2.2zM488.5 97.3h2.2v2.2h-2.2zM464.8 227.5h2.2v2.2h-2.2zM478.1 176.4h2.2v2.2h-2.2zM466.2 210.7h2.2v2.2h-2.2zM440.4 170.4h2.2v2.2h-2.2zM435.2 149.7h2.2v2.2h-2.2zM450.8 205.1h2.2v2.2h-2.2zM393.3 119.7h2.2v2.2h-2.2zM585.8 164.8h2.2v2.2h-2.2zM542.3 195.6h2.2v2.2h-2.2zM478.4 190.1h2.2v2.2h-2.2zM559.1 282.5h2.2v2.2h-2.2zM479.6 217.3h2.2v2.2h-2.2zM512.7 152.7h2.2v2.2h-2.2zM547.5 178.5h2.2v2.2h-2.2zM493.8 162.9h2.2v2.2h-2.2zM525.7 169.1h2.2v2.2h-2.2zM578.8 168.1h2.2v2.2h-2.2zM423.2 214.0h2.2v2.2h-2.2zM446.5 109.9h2.2v2.2h-2.2zM459.7 169.2h2.2v2.2h-2.2zM482.8 117.0h2.2v2.2h-2.2zM557.5 208.7h2.2v2.2h-2.2zM568.7 120.9h2.2v2.2h-2.2zM580.5 100.7h2.2v2.2h-2.2zM585.1 222.3h2.2v2.2h-2.2zM537.0 193.9h2.2v2.2h-2.2zM617.8 178.9h2.2v2.2h-2.2zM538.4 251.3h2.2v2.2h-2.2zM421.5 145.7h2.2v2.2h-2.2zM490.8 205.0h2.2v2.2h-2.2zM556.4 165.0h2.2v2.2h-2.2zM482.0 183.6h2.2v2.2h-2.2zM533.2 110.0h2.2v2.2h-2.2zM524.0 239.8h2.2v2.2h-2.2zM588.4 152.6h2.2v2.2h-2.2zM495.4 155.3h2.2v2.2h-2.2zM519.9 87.9h2.2v2.2h-2.2zM552.3 252.2h2.2v2.2h-2.2zM464.7 137.7h2.2v2.2h-2.2zM538.6 172.4h2.2v2.2h-2.2zM506.0 168.7h2.2v2.2h-2.2zM571.1 215.7h2.2v2.2h-2.2zM536.3 202.8h2.2v2.2h-2.2zM461.5 131.6h2.2v2.2h-2.2zM460.5 240.2h2.2v2.2h-2.2zM451.8 165.5h2.2v2.2h-2.2zM480.0 212.5h2.2v2.2h-2.2zM574.9 183.8h2.2v2.2h-2.2zM513.7 231.4h2.2v2.2h-2.2zM611.5 232.8h2.2v2.2h-2.2zM415.5 173.9h2.2v2.2h-2.2zM499.3 126.5h2.2v2.2h-2.2zM559.1 176.8h2.2v2.2h-2.2zM583.7 142.2h2.2v2.2h-2.2zM469.8 278.9h2.2v2.2h-2.2zM566.9 189.4h2.2v2.2h-2.2zM535.9 135.8h2.2v2.2h-2.2zM574.0 124.4h2.2v2.2h-2.2zM521.1 164.1h2.2v2.2h-2.2zM392.4 96.0h2.2v2.2h-2.2zM491.1 189.9h2.2v2.2h-2.2zM483.6 187.7h2.2v2.2h-2.2zM515.6 161.9h2.2v2.2h-2.2zM498.0 176.2h2.2v2.2h-2.2zM506.9 155.1h2.2v2.2h-2.2zM446.5 157.4h2.2v2.2h-2.2zM488.5 136.8h2.2v2.2h-2.2zM515.1 249.3h2.2v2.2h-2.2zM545.1 156.4h2.2v2.2h-2.2zM472.7 127.2h2.2v2.2h-2.2zM575.9 141.6h2.2v2.2h-2.2zM447.1 71.2h2.2v2.2h-2.2zM444.4 194.6h2.2v2.2h-2.2zM512.5 95.0h2.2v2.2h-2.2zM608.7 230.5h2.2v2.2h-2.2zM553.3 117.9h2.2v2.2h-2.2zM500.2 255.5h2.2v2.2h-2.2zM473.4 93.3h2.2v2.2h-2.2zM486.5 202.7h2.2v2.2h-2.2zM498.6 114.4h2.2v2.2h-2.2zM571.3 124.7h2.2v2.2h-2.2zM585.9 162.5h2.2v2.2h-2.2zM474.0 181.2h2.2v2.2h-2.2zM392.4 230.1h2.2v2.2h-2.2zM530.3 140.7h2.2v2.2h-2.2zM454.2 199.3h2.2v2.2h-2.2zM444.9 202.9h2.2v2.2h-2.2zM615.7 153.0h2.2v2.2h-2.2zM581.8 124.7h2.2v2.2h-2.2zM503.4 120.9h2.2v2.2h-2.2zM525.8 223.0h2.2v2.2h-2.2zM504.9 244.9h2.2v2.2h-2.2zM476.2 107.8h2.2v2.2h-2.2zM536.6 160.7h2.2v2.2h-2.2zM575.2 146.3h2.2v2.2h-2.2zM522.3 93.6h2.2v2.2h-2.2zM506.7 152.0h2.2v2.2h-2.2zM466.0 238.9h2.2v2.2h-2.2zM548.6 147.4h2.2v2.2h-2.2zM448.3 43.0h2.2v2.2h-2.2zM455.6 70.9h2.2v2.2h-2.2zM535.6 272.4h2.2v2.2h-2.2zM436.7 120.1h2.2v2.2h-2.2zM577.8 94.8h2.2v2.2h-2.2zM512.1 138.5h2.2v2.2h-2.2zM432.1 101.6h2.2v2.2h-2.2zM426.9 76.2h2.2v2.2h-2.2zM510.8 164.9h2.2v2.2h-2.2zM598.6 136.3h2.2v2.2h-2.2zM542.7 213.1h2.2v2.2h-2.2zM556.6 140.0h2.2v2.2h-2.2zM458.5 112.7h2.2v2.2h-2.2zM488.0 120.5h2.2v2.2h-2.2zM539.3 131.9h2.2v2.2h-2.2zM488.9 158.9h2.2v2.2h-2.2zM615.6 211.6h2.2v2.2h-2.2zM408.9 87.2h2.2v2.2h-2.2zM535.2 141.5h2.2v2.2h-2.2zM527.7 113.7h2.2v2.2h-2.2zM420.3 102.3h2.2v2.2h-2.2zM556.0 186.2h2.2v2.2h-2.2zM417.2 198.0h2.2v2.2h-2.2zM420.2 175.7h2.2v2.2h-2.2zM456.1 171.4h2.2v2.2h-2.2zM521.9 139.0h2.2v2.2h-2.2zM505.8 154.8h2.2v2.2h-2.2zM510.2 260.2h2.2v2.2h-2.2zM568.8 122.0h2.2v2.2h-2.2zM581.0 123.3h2.2v2.2h-2.2zM550.1 137.7h2.2v2.2h-2.2zM395.8 154.2h2.2v2.2h-2.2zM509.1 201.9h2.2v2.2h-2.2zM520.1 166.4h2.2v2.2h-2.2zM601.8 191.6h2.2v2.2h-2.2zM453.1 123.1h2.2v2.2h-2.2zM486.8 123.0h2.2v2.2h-2.2zM398.2 114.7h2.2v2.2h-2.2zM491.7 199.2h2.2v2.2h-2.2zM461.1 74.1h2.2v2.2h-2.2zM505.5 234.0h2.2v2.2h-2.2zM527.7 75.9h2.2v2.2h-2.2zM466.3 111.7h2.2v2.2h-2.2zM533.6 184.1h2.2v2.2h-2.2zM589.7 153.1h2.2v2.2h-2.2zM546.0 209.8h2.2v2.2h-2.2zM474.9 199.3h2.2v2.2h-2.2zM531.6 91.1h2.2v2.2h-2.2zM495.6 107.0h2.2v2.2h-2.2zM566.3 155.4h2.2v2.2h-2.2zM563.4 150.3h2.2v2.2h-2.2zM432.1 219.4h2.2v2.2h-2.2zM450.1 87.3h2.2v2.2h-2.2zM423.5 94.4h2.2v2.2h-2.2zM581.7 179.6h2.2v2.2h-2.2zM483.9 186.5h2.2v2.2h-2.2zM471.4 67.3h2.2v2.2h-2.2zM583.6 122.0h2.2v2.2h-2.2zM457.4 179.7h2.2v2.2h-2.2zM431.0 121.7h2.2v2.2h-2.2zM503.2 35.0h2.2v2.2h-2.2zM475.6 190.5h2.2v2.2h-2.2zM577.5 128.6h2.2v2.2h-2.2zM511.0 230.9h2.2v2.2h-2.2zM487.6 134.2h2.2v2.2h-2.2zM524.5 179.0h2.2v2.2h-2.2zM584.2 193.5h2.2v2.2h-2.2zM497.0 156.7h2.2v2.2h-2.2zM535.2 204.4h2.2v2.2h-2.2zM583.2 142.1h2.2v2.2h-2.2zM519.0 119.3h2.2v2.2h-2.2zM509.5 230.2h2.2v2.2h-2.2zM538.4 217.3h2.2v2.2h-2.2zM500.2 192.4h2.2v2.2h-2.2zM481.5 55.7h2.2v2.2h-2.2zM479.0 168.7h2.2v2.2h-2.2zM515.1 95.0h2.2v2.2h-2.2zM543.3 253.9h2.2v2.2h-2.2zM507.3 232.7h2.2v2.2h-2.2zM571.0 144.7h2.2v2.2h-2.2zM528.8 77.4h2.2v2.2h-2.2zM589.9 190.7h2.2v2.2h-2.2zM620.2 176.6h2.2v2.2h-2.2zM581.7 216.9h2.2v2.2h-2.2zM501.8 198.0h2.2v2.2h-2.2zM534.1 116.3h2.2v2.2h-2.2zM486.0 168.0h2.2v2.2h-2.2zM528.4 57.5h2.2v2.2h-2.2zM504.1 263.6h2.2v2.2h-2.2zM375.6 130.1h2.2v2.2h-2.2zM495.7 67.7h2.2v2.2h-2.2zM539.8 86.3h2.2v2.2h-2.2zM551.1 248.6h2.2v2.2h-2.2zM459.4 215.2h2.2v2.2h-2.2zM583.3 144.3h2.2v2.2h-2.2zM605.1 89.8h2.2v2.2h-2.2zM552.9 146.4h2.2v2.2h-2.2zM497.2 198.4h2.2v2.2h-2.2zM604.7 161.5h2.2v2.2h-2.2zM443.4 149.7h2.2v2.2h-2.2zM491.4 107.2h2.2v2.2h-2.2zM563.6 184.4h2.2v2.2h-2.2zM446.2 94.1h2.2v2.2h-2.2zM560.9 205.4h2.2v2.2h-2.2zM391.5 128.4h2.2v2.2h-2.2zM517.4 42.7h2.2v2.2h-2.2zM465.2 260.5h2.2v2.2h-2.2zM508.8 137.3h2.2v2.2h-2.2zM587.9 173.9h2.2v2.2h-2.2zM563.2 133.1h2.2v2.2h-2.2zM493.5 142.4h2.2v2.2h-2.2zM611.4 124.9h2.2v2.2h-2.2zM422.0 139.1h2.2v2.2h-2.2zM535.8 165.4h2.2v2.2h-2.2zM375.3 230.2h2.2v2.2h-2.2zM557.1 104.9h2.2v2.2h-2.2zM560.9 208.3h2.2v2.2h-2.2zM501.4 229.2h2.2v2.2h-2.2zM555.7 147.0h2.2v2.2h-2.2zM601.8 162.0h2.2v2.2h-2.2zM399.3 155.5h2.2v2.2h-2.2zM455.7 86.1h2.2v2.2h-2.2zM520.8 247.0h2.2v2.2h-2.2zM504.8 179.9h2.2v2.2h-2.2zM556.4 183.3h2.2v2.2h-2.2zM424.7 80.2h2.2v2.2h-2.2zM531.2 153.7h2.2v2.2h-2.2zM567.1 138.4h2.2v2.2h-2.2zM533.6 167.6h2.2v2.2h-2.2zM521.2 43.7h2.2v2.2h-2.2zM619.2 55.8h2.2v2.2h-2.2zM498.2 150.5h2.2v2.2h-2.2zM440.7 74.6h2.2v2.2h-2.2zM516.9 201.8h2.2v2.2h-2.2zM483.2 172.2h2.2v2.2h-2.2zM513.8 67.2h2.2v2.2h-2.2zM442.8 200.5h2.2v2.2h-2.2zM437.8 185.0h2.2v2.2h-2.2zM559.6 206.4h2.2v2.2h-2.2zM485.3 88.0h2.2v2.2h-2.2zM517.0 274.0h2.2v2.2h-2.2zM535.5 237.7h2.2v2.2h-2.2zM488.6 131.8h2.2v2.2h-2.2zM417.2 253.1h2.2v2.2h-2.2zM521.9 136.3h2.2v2.2h-2.2zM586.0 202.4h2.2v2.2h-2.2zM439.6 94.1h2.2v2.2h-2.2zM567.9 205.1h2.2v2.2h-2.2zM546.6 109.2h2.2v2.2h-2.2zM614.0 162.1h2.2v2.2h-2.2zM398.3 124.6h2.2v2.2h-2.2zM493.0 220.6h2.2v2.2h-2.2zM469.6 138.9h2.2v2.2h-2.2zM405.3 157.8h2.2v2.2h-2.2zM553.5 146.8h2.2v2.2h-2.2zM474.9 171.0h2.2v2.2h-2.2zM498.6 100.9h2.2v2.2h-2.2zM448.4 144.9h2.2v2.2h-2.2zM494.3 168.8h2.2v2.2h-2.2zM579.4 143.8h2.2v2.2h-2.2zM530.5 157.6h2.2v2.2h-2.2zM589.2 160.7h2.2v2.2h-2.2zM572.7 138.1h2.2v2.2h-2.2zM533.5 211.7h2.2v2.2h-2.2zM504.6 261.7h2.2v2.2h-2.2zM566.7 198.5h2.2v2.2h-2.2zM470.4 117.1h2.2v2.2h-2.2zM380.7 145.1h2.2v2.2h-2.2zM541.4 118.5h2.2v2.2h-2.2zM409.6 113.5h2.2v2.2h-2.2zM508.4 195.8h2.2v2.2h-2.2zM519.8 95.7h2.2v2.2h-2.2zM513.9 253.4h2.2v2.2h-2.2zM431.9 168.3h2.2v2.2h-2.2zM596.1 185.6h2.2v2.2h-2.2zM502.0 248.3h2.2v2.2h-2.2zM523.4 62.8h2.2v2.2h-2.2zM515.1 130.3h2.2v2.2h-2.2zM499.5 166.3h2.2v2.2h-2.2zM421.9 124.6h2.2v2.2h-2.2zM416.8 220.4h2.2v2.2h-2.2zM524.0 192.6h2.2v2.2h-2.2zM556.1 195.2h2.2v2.2h-2.2zM545.7 149.8h2.2v2.2h-2.2zM584.4 178.4h2.2v2.2h-2.2zM561.6 162.8h2.2v2.2h-2.2zM573.3 203.7h2.2v2.2h-2.2zM464.3 134.2h2.2v2.2h-2.2zM584.5 101.5h2.2v2.2h-2.2zM491.0 181.2h2.2v2.2h-2.2zM422.7 253.6h2.2v2.2h-2.2zM505.1 75.0h2.2v2.2h-2.2zM385.6 150.7h2.2v2.2h-2.2z" fill="#36ada4"/><path d="M485.2 199.1h2.2v2.2h-2.2zM406.3 246.4h2.2v2.2h-2.2zM521.4 192.4h2.2v2.2h-2.2zM481.9 84.3h2.2v2.2h-2.2zM484.9 145.4h2.2v2.2h-2.2zM498.5 201.3h2.2v2.2h-2.2zM429.2 224.1h2.2v2.2h-2.2zM471.0 175.6h2.2v2.2h-2.2zM583.4 113.1h2.2v2.2h-2.2zM520.3 94.9h2.2v2.2h-2.2zM522.7 229.1h2.2v2.2h-2.2zM515.8 37.1h2.2v2.2h-2.2zM459.1 180.7h2.2v2.2h-2.2zM572.7 206.6h2.2v2.2h-2.2zM438.7 129.1h2.2v2.2h-2.2zM557.6 39.1h2.2v2.2h-2.2zM438.6 139.0h2.2v2.2h-2.2zM551.3 173.3h2.2v2.2h-2.2zM565.8 206.0h2.2v2.2h-2.2zM552.7 262.7h2.2v2.2h-2.2zM544.5 180.3h2.2v2.2h-2.2zM401.5 216.3h2.2v2.2h-2.2zM423.5 148.4h2.2v2.2h-2.2zM558.6 201.4h2.2v2.2h-2.2zM554.4 211.1h2.2v2.2h-2.2zM421.1 188.0h2.2v2.2h-2.2zM559.7 108.1h2.2v2.2h-2.2zM419.6 126.1h2.2v2.2h-2.2zM430.8 76.4h2.2v2.2h-2.2zM459.3 157.7h2.2v2.2h-2.2zM542.1 196.7h2.2v2.2h-2.2zM555.6 216.7h2.2v2.2h-2.2zM560.7 153.3h2.2v2.2h-2.2zM432.9 200.3h2.2v2.2h-2.2zM439.2 199.0h2.2v2.2h-2.2zM404.6 146.2h2.2v2.2h-2.2zM573.1 150.1h2.2v2.2h-2.2zM444.8 129.9h2.2v2.2h-2.2zM494.8 233.8h2.2v2.2h-2.2zM426.4 164.0h2.2v2.2h-2.2zM437.4 209.1h2.2v2.2h-2.2zM499.5 144.8h2.2v2.2h-2.2zM410.7 93.3h2.2v2.2h-2.2zM472.5 283.5h2.2v2.2h-2.2zM528.4 236.3h2.2v2.2h-2.2zM569.7 179.4h2.2v2.2h-2.2zM488.0 171.2h2.2v2.2h-2.2zM484.2 111.6h2.2v2.2h-2.2zM578.1 179.7h2.2v2.2h-2.2zM432.3 218.0h2.2v2.2h-2.2zM554.8 143.8h2.2v2.2h-2.2zM609.4 179.6h2.2v2.2h-2.2zM525.1 158.0h2.2v2.2h-2.2zM536.4 184.0h2.2v2.2h-2.2zM546.5 214.3h2.2v2.2h-2.2zM536.5 190.2h2.2v2.2h-2.2zM468.8 240.7h2.2v2.2h-2.2zM421.8 107.7h2.2v2.2h-2.2zM470.0 155.9h2.2v2.2h-2.2zM453.9 221.6h2.2v2.2h-2.2zM500.6 190.9h2.2v2.2h-2.2zM478.5 146.4h2.2v2.2h-2.2zM589.9 110.6h2.2v2.2h-2.2zM521.6 152.1h2.2v2.2h-2.2zM549.5 181.3h2.2v2.2h-2.2zM526.3 192.1h2.2v2.2h-2.2zM544.4 144.7h2.2v2.2h-2.2zM510.7 234.0h2.2v2.2h-2.2zM574.3 205.4h2.2v2.2h-2.2zM376.0 187.4h2.2v2.2h-2.2zM499.0 164.6h2.2v2.2h-2.2zM523.4 195.2h2.2v2.2h-2.2zM464.0 229.5h2.2v2.2h-2.2zM551.1 62.1h2.2v2.2h-2.2zM506.3 73.2h2.2v2.2h-2.2zM518.8 59.4h2.2v2.2h-2.2zM449.6 103.4h2.2v2.2h-2.2zM520.8 158.3h2.2v2.2h-2.2zM552.1 168.8h2.2v2.2h-2.2zM575.9 188.8h2.2v2.2h-2.2zM587.7 100.8h2.2v2.2h-2.2zM521.6 179.0h2.2v2.2h-2.2zM511.4 129.8h2.2v2.2h-2.2zM490.1 53.4h2.2v2.2h-2.2zM530.8 97.1h2.2v2.2h-2.2zM502.6 148.8h2.2v2.2h-2.2zM509.7 197.2h2.2v2.2h-2.2zM588.7 210.6h2.2v2.2h-2.2zM469.0 120.2h2.2v2.2h-2.2zM465.1 110.4h2.2v2.2h-2.2zM425.7 110.2h2.2v2.2h-2.2zM460.9 174.2h2.2v2.2h-2.2zM529.2 187.9h2.2v2.2h-2.2zM577.3 174.9h2.2v2.2h-2.2zM451.8 267.6h2.2v2.2h-2.2zM554.3 129.8h2.2v2.2h-2.2zM493.2 147.6h2.2v2.2h-2.2zM515.0 125.5h2.2v2.2h-2.2zM458.1 140.6h2.2v2.2h-2.2zM582.7 117.1h2.2v2.2h-2.2zM514.0 180.6h2.2v2.2h-2.2zM424.8 184.7h2.2v2.2h-2.2zM483.1 144.8h2.2v2.2h-2.2zM508.5 139.2h2.2v2.2h-2.2zM415.5 211.0h2.2v2.2h-2.2zM550.2 170.4h2.2v2.2h-2.2zM474.2 202.1h2.2v2.2h-2.2zM563.8 263.5h2.2v2.2h-2.2zM481.4 162.6h2.2v2.2h-2.2zM482.1 148.6h2.2v2.2h-2.2zM393.9 145.0h2.2v2.2h-2.2zM546.2 206.9h2.2v2.2h-2.2zM470.9 226.7h2.2v2.2h-2.2zM506.7 237.0h2.2v2.2h-2.2zM549.3 228.3h2.2v2.2h-2.2zM488.2 218.5h2.2v2.2h-2.2zM433.9 82.4h2.2v2.2h-2.2zM417.0 113.8h2.2v2.2h-2.2zM579.1 144.7h2.2v2.2h-2.2zM558.0 133.7h2.2v2.2h-2.2zM503.0 223.7h2.2v2.2h-2.2zM433.5 111.6h2.2v2.2h-2.2zM593.9 69.7h2.2v2.2h-2.2zM456.8 124.2h2.2v2.2h-2.2zM586.9 200.3h2.2v2.2h-2.2zM493.8 176.4h2.2v2.2h-2.2zM560.2 253.9h2.2v2.2h-2.2zM502.9 250.6h2.2v2.2h-2.2zM446.2 52.3h2.2v2.2h-2.2zM518.2 140.2h2.2v2.2h-2.2zM550.6 69.3h2.2v2.2h-2.2zM388.0 114.2h2.2v2.2h-2.2zM461.3 186.7h2.2v2.2h-2.2zM509.4 76.3h2.2v2.2h-2.2zM516.7 98.3h2.2v2.2h-2.2zM528.8 277.9h2.2v2.2h-2.2zM545.1 144.6h2.2v2.2h-2.2zM402.4 207.2h2.2v2.2h-2.2zM409.6 64.1h2.2v2.2h-2.2zM506.6 210.9h2.2v2.2h-2.2zM482.0 159.9h2.2v2.2h-2.2zM445.4 72.3h2.2v2.2h-2.2zM531.9 112.6h2.2v2.2h-2.2zM511.3 172.9h2.2v2.2h-2.2zM472.7 150.9h2.2v2.2h-2.2zM469.3 264.3h2.2v2.2h-2.2zM432.4 90.8h2.2v2.2h-2.2zM500.2 224.8h2.2v2.2h-2.2zM545.7 209.2h2.2v2.2h-2.2zM538.0 213.9h2.2v2.2h-2.2zM488.0 174.1h2.2v2.2h-2.2zM475.9 210.6h2.2v2.2h-2.2zM509.3 187.1h2.2v2.2h-2.2zM509.8 107.7h2.2v2.2h-2.2zM591.6 190.9h2.2v2.2h-2.2zM599.8 138.4h2.2v2.2h-2.2zM531.4 138.9h2.2v2.2h-2.2zM493.0 158.4h2.2v2.2h-2.2zM501.4 199.8h2.2v2.2h-2.2zM464.7 86.2h2.2v2.2h-2.2zM495.0 185.4h2.2v2.2h-2.2zM478.6 261.6h2.2v2.2h-2.2zM526.6 225.3h2.2v2.2h-2.2zM497.8 172.1h2.2v2.2h-2.2zM576.9 131.4h2.2v2.2h-2.2zM487.2 143.2h2.2v2.2h-2.2zM604.7 150.3h2.2v2.2h-2.2zM419.9 139.4h2.2v2.2h-2.2zM447.8 187.9h2.2v2.2h-2.2zM532.7 107.9h2.2v2.2h-2.2zM473.8 112.1h2.2v2.2h-2.2zM493.9 140.9h2.2v2.2h-2.2zM568.0 59.9h2.2v2.2h-2.2zM486.5 185.5h2.2v2.2h-2.2zM418.6 97.6h2.2v2.2h-2.2zM497.0 183.9h2.2v2.2h-2.2zM468.9 182.6h2.2v2.2h-2.2zM481.8 228.8h2.2v2.2h-2.2zM528.4 224.2h2.2v2.2h-2.2zM470.6 182.1h2.2v2.2h-2.2zM503.8 258.4h2.2v2.2h-2.2zM560.9 170.7h2.2v2.2h-2.2zM553.3 193.4h2.2v2.2h-2.2zM547.0 81.9h2.2v2.2h-2.2zM446.4 214.1h2.2v2.2h-2.2zM463.3 135.6h2.2v2.2h-2.2zM614.1 201.0h2.2v2.2h-2.2zM469.1 194.8h2.2v2.2h-2.2zM450.5 64.2h2.2v2.2h-2.2zM463.7 155.3h2.2v2.2h-2.2zM594.2 165.2h2.2v2.2h-2.2zM538.5 173.4h2.2v2.2h-2.2zM521.3 283.1h2.2v2.2h-2.2zM446.1 54.7h2.2v2.2h-2.2zM536.0 205.5h2.2v2.2h-2.2zM456.3 207.4h2.2v2.2h-2.2zM583.0 112.2h2.2v2.2h-2.2zM569.2 197.7h2.2v2.2h-2.2zM500.3 186.0h2.2v2.2h-2.2zM436.2 85.7h2.2v2.2h-2.2zM525.0 134.6h2.2v2.2h-2.2zM405.1 104.9h2.2v2.2h-2.2zM431.7 109.8h2.2v2.2h-2.2zM543.0 253.1h2.2v2.2h-2.2zM518.3 226.3h2.2v2.2h-2.2zM519.4 128.7h2.2v2.2h-2.2zM432.9 221.7h2.2v2.2h-2.2zM579.4 165.4h2.2v2.2h-2.2zM440.9 91.0h2.2v2.2h-2.2zM463.9 163.3h2.2v2.2h-2.2zM541.3 139.4h2.2v2.2h-2.2zM508.1 223.0h2.2v2.2h-2.2zM514.4 123.7h2.2v2.2h-2.2zM520.9 143.0h2.2v2.2h-2.2zM413.1 213.0h2.2v2.2h-2.2zM560.7 224.0h2.2v2.2h-2.2zM533.1 98.1h2.2v2.2h-2.2zM498.9 254.6h2.2v2.2h-2.2zM427.4 141.8h2.2v2.2h-2.2zM460.8 152.6h2.2v2.2h-2.2zM494.7 172.1h2.2v2.2h-2.2zM606.7 205.2h2.2v2.2h-2.2zM581.3 136.1h2.2v2.2h-2.2zM509.2 127.1h2.2v2.2h-2.2zM437.2 75.8h2.2v2.2h-2.2zM472.4 258.3h2.2v2.2h-2.2zM466.1 188.1h2.2v2.2h-2.2zM602.3 191.7h2.2v2.2h-2.2zM473.6 234.6h2.2v2.2h-2.2zM558.4 214.1h2.2v2.2h-2.2zM461.9 158.6h2.2v2.2h-2.2zM457.9 84.4h2.2v2.2h-2.2zM466.1 202.0h2.2v2.2h-2.2zM566.2 129.1h2.2v2.2h-2.2zM453.1 164.2h2.2v2.2h-2.2zM495.3 258.7h2.2v2.2h-2.2zM566.6 200.1h2.2v2.2h-2.2zM504.2 234.5h2.2v2.2h-2.2zM518.5 122.0h2.2v2.2h-2.2zM501.2 146.5h2.2v2.2h-2.2zM515.8 210.6h2.2v2.2h-2.2zM581.2 258.0h2.2v2.2h-2.2zM403.6 98.4h2.2v2.2h-2.2zM558.3 77.2h2.2v2.2h-2.2zM409.4 84.1h2.2v2.2h-2.2zM570.7 186.6h2.2v2.2h-2.2zM407.6 191.7h2.2v2.2h-2.2zM452.9 171.4h2.2v2.2h-2.2zM569.8 183.1h2.2v2.2h-2.2zM484.5 246.5h2.2v2.2h-2.2zM481.1 168.4h2.2v2.2h-2.2zM509.9 88.4h2.2v2.2h-2.2zM479.5 259.1h2.2v2.2h-2.2zM578.6 235.3h2.2v2.2h-2.2zM459.7 68.9h2.2v2.2h-2.2zM568.9 116.1h2.2v2.2h-2.2zM559.0 193.0h2.2v2.2h-2.2zM521.8 109.7h2.2v2.2h-2.2zM588.4 184.1h2.2v2.2h-2.2zM536.3 249.3h2.2v2.2h-2.2zM520.8 176.5h2.2v2.2h-2.2zM525.2 199.4h2.2v2.2h-2.2zM394.9 92.7h2.2v2.2h-2.2zM520.9 142.5h2.2v2.2h-2.2zM485.3 188.0h2.2v2.2h-2.2zM428.6 170.3h2.2v2.2h-2.2zM528.0 138.3h2.2v2.2h-2.2zM421.6 103.9h2.2v2.2h-2.2zM565.1 93.7h2.2v2.2h-2.2zM538.2 144.3h2.2v2.2h-2.2zM505.6 129.1h2.2v2.2h-2.2zM623.8 174.1h2.2v2.2h-2.2zM426.6 156.1h2.2v2.2h-2.2zM528.8 191.8h2.2v2.2h-2.2zM530.9 70.5h2.2v2.2h-2.2zM543.8 102.4h2.2v2.2h-2.2zM502.1 185.5h2.2v2.2h-2.2zM499.6 207.9h2.2v2.2h-2.2zM522.9 201.6h2.2v2.2h-2.2zM468.1 222.0h2.2v2.2h-2.2zM569.7 190.2h2.2v2.2h-2.2zM511.3 169.7h2.2v2.2h-2.2zM388.5 150.8h2.2v2.2h-2.2zM534.9 87.5h2.2v2.2h-2.2zM505.6 86.5h2.2v2.2h-2.2zM489.6 139.7h2.2v2.2h-2.2zM461.8 49.9h2.2v2.2h-2.2zM592.8 217.3h2.2v2.2h-2.2zM509.2 281.3h2.2v2.2h-2.2zM532.9 142.7h2.2v2.2h-2.2zM571.7 204.4h2.2v2.2h-2.2zM487.0 194.1h2.2v2.2h-2.2zM471.5 110.1h2.2v2.2h-2.2zM575.7 109.6h2.2v2.2h-2.2zM451.7 148.3h2.2v2.2h-2.2zM471.2 164.8h2.2v2.2h-2.2zM470.7 116.8h2.2v2.2h-2.2zM408.0 79.5h2.2v2.2h-2.2zM581.6 124.2h2.2v2.2h-2.2zM541.0 207.1h2.2v2.2h-2.2zM567.5 194.7h2.2v2.2h-2.2zM594.2 238.2h2.2v2.2h-2.2zM483.5 54.7h2.2v2.2h-2.2zM475.1 82.6h2.2v2.2h-2.2zM469.4 108.8h2.2v2.2h-2.2zM549.2 187.8h2.2v2.2h-2.2zM500.9 170.1h2.2v2.2h-2.2zM491.4 185.9h2.2v2.2h-2.2zM489.1 80.2h2.2v2.2h-2.2zM481.0 166.3h2.2v2.2h-2.2zM559.1 120.2h2.2v2.2h-2.2zM409.8 157.8h2.2v2.2h-2.2zM466.9 161.4h2.2v2.2h-2.2zM610.5 204.9h2.2v2.2h-2.2zM537.4 226.3h2.2v2.2h-2.2zM457.3 125.4h2.2v2.2h-2.2zM415.0 141.1h2.2v2.2h-2.2zM474.4 225.2h2.2v2.2h-2.2zM487.1 100.7h2.2v2.2h-2.2zM473.8 159.9h2.2v2.2h-2.2zM498.2 79.0h2.2v2.2h-2.2zM578.8 130.3h2.2v2.2h-2.2zM598.4 180.5h2.2v2.2h-2.2zM457.4 170.8h2.2v2.2h-2.2zM514.5 117.9h2.2v2.2h-2.2zM459.2 277.6h2.2v2.2h-2.2zM509.7 192.5h2.2v2.2h-2.2zM557.4 102.3h2.2v2.2h-2.2zM484.7 186.0h2.2v2.2h-2.2zM473.3 198.5h2.2v2.2h-2.2zM515.7 164.3h2.2v2.2h-2.2zM468.1 193.9h2.2v2.2h-2.2zM548.5 152.6h2.2v2.2h-2.2zM530.5 138.3h2.2v2.2h-2.2zM508.3 159.3h2.2v2.2h-2.2zM472.9 219.5h2.2v2.2h-2.2zM492.0 193.9h2.2v2.2h-2.2zM443.3 131.1h2.2v2.2h-2.2zM562.4 189.1h2.2v2.2h-2.2zM419.5 188.3h2.2v2.2h-2.2zM531.7 70.4h2.2v2.2h-2.2zM530.0 156.9h2.2v2.2h-2.2zM378.4 144.9h2.2v2.2h-2.2zM536.9 136.6h2.2v2.2h-2.2zM519.7 151.9h2.2v2.2h-2.2zM430.7 103.1h2.2v2.2h-2.2zM438.3 129.9h2.2v2.2h-2.2zM487.6 134.4h2.2v2.2h-2.2zM515.9 183.5h2.2v2.2h-2.2zM622.2 190.9h2.2v2.2h-2.2zM586.0 168.7h2.2v2.2h-2.2zM471.5 86.8h2.2v2.2h-2.2zM424.1 67.9h2.2v2.2h-2.2zM403.4 72.5h2.2v2.2h-2.2zM458.4 182.1h2.2v2.2h-2.2zM541.4 105.5h2.2v2.2h-2.2zM474.1 129.0h2.2v2.2h-2.2zM432.6 148.8h2.2v2.2h-2.2zM508.6 156.5h2.2v2.2h-2.2zM540.6 124.8h2.2v2.2h-2.2zM474.9 125.2h2.2v2.2h-2.2zM419.6 119.0h2.2v2.2h-2.2zM558.8 231.7h2.2v2.2h-2.2zM581.2 226.7h2.2v2.2h-2.2zM515.6 114.6h2.2v2.2h-2.2zM479.0 264.0h2.2v2.2h-2.2zM518.6 167.2h2.2v2.2h-2.2zM506.4 195.2h2.2v2.2h-2.2zM549.3 57.0h2.2v2.2h-2.2zM531.0 181.3h2.2v2.2h-2.2zM623.0 152.0h2.2v2.2h-2.2zM503.3 176.9h2.2v2.2h-2.2zM500.5 83.5h2.2v2.2h-2.2zM515.7 212.6h2.2v2.2h-2.2zM508.6 205.7h2.2v2.2h-2.2zM508.9 143.5h2.2v2.2h-2.2zM549.9 245.9h2.2v2.2h-2.2zM494.4 164.4h2.2v2.2h-2.2zM429.0 135.0h2.2v2.2h-2.2zM516.2 71.2h2.2v2.2h-2.2zM466.7 67.5h2.2v2.2h-2.2zM540.1 211.4h2.2v2.2h-2.2zM549.1 207.1h2.2v2.2h-2.2zM442.9 188.3h2.2v2.2h-2.2zM497.1 226.4h2.2v2.2h-2.2zM529.8 131.0h2.2v2.2h-2.2zM456.0 178.1h2.2v2.2h-2.2zM521.7 92.4h2.2v2.2h-2.2zM448.3 111.0h2.2v2.2h-2.2zM419.0 189.5h2.2v2.2h-2.2zM562.2 99.0h2.2v2.2h-2.2zM519.9 219.7h2.2v2.2h-2.2zM548.1 84.8h2.2v2.2h-2.2zM508.5 128.1h2.2v2.2h-2.2zM563.3 97.5h2.2v2.2h-2.2zM490.1 136.5h2.2v2.2h-2.2zM494.5 82.4h2.2v2.2h-2.2zM500.9 184.6h2.2v2.2h-2.2zM587.4 111.6h2.2v2.2h-2.2zM520.5 58.5h2.2v2.2h-2.2zM478.2 126.0h2.2v2.2h-2.2zM529.4 178.0h2.2v2.2h-2.2zM560.9 116.2h2.2v2.2h-2.2zM480.5 161.6h2.2v2.2h-2.2zM473.0 199.8h2.2v2.2h-2.2zM459.6 55.1h2.2v2.2h-2.2zM492.3 227.1h2.2v2.2h-2.2zM523.8 209.0h2.2v2.2h-2.2zM529.5 110.6h2.2v2.2h-2.2zM606.9 189.9h2.2v2.2h-2.2zM434.0 101.3h2.2v2.2h-2.2zM529.3 166.1h2.2v2.2h-2.2zM519.8 90.8h2.2v2.2h-2.2zM505.3 179.6h2.2v2.2h-2.2zM538.8 203.4h2.2v2.2h-2.2zM595.5 173.2h2.2v2.2h-2.2zM380.0 192.2h2.2v2.2h-2.2zM536.7 185.3h2.2v2.2h-2.2zM464.7 218.6h2.2v2.2h-2.2zM498.9 135.6h2.2v2.2h-2.2zM557.1 205.9h2.2v2.2h-2.2zM527.5 154.8h2.2v2.2h-2.2zM494.9 88.9h2.2v2.2h-2.2zM519.8 101.4h2.2v2.2h-2.2zM506.2 184.7h2.2v2.2h-2.2zM505.6 194.5h2.2v2.2h-2.2zM540.2 151.5h2.2v2.2h-2.2zM520.0 190.2h2.2v2.2h-2.2zM548.1 116.0h2.2v2.2h-2.2zM539.6 234.2h2.2v2.2h-2.2zM515.2 201.1h2.2v2.2h-2.2zM534.5 162.2h2.2v2.2h-2.2zM469.2 208.4h2.2v2.2h-2.2zM559.2 134.2h2.2v2.2h-2.2zM466.6 228.1h2.2v2.2h-2.2zM447.3 202.5h2.2v2.2h-2.2zM465.6 54.6h2.2v2.2h-2.2zM574.6 181.6h2.2v2.2h-2.2zM541.4 111.7h2.2v2.2h-2.2zM515.0 181.6h2.2v2.2h-2.2zM524.9 197.4h2.2v2.2h-2.2zM552.8 208.2h2.2v2.2h-2.2zM568.2 130.0h2.2v2.2h-2.2zM617.4 100.2h2.2v2.2h-2.2zM559.0 86.7h2.2v2.2h-2.2zM509.2 148.7h2.2v2.2h-2.2zM483.1 91.2h2.2v2.2h-2.2zM504.7 173.9h2.2v2.2h-2.2zM580.1 160.9h2.2v2.2h-2.2zM593.3 111.7h2.2v2.2h-2.2zM414.9 146.7h2.2v2.2h-2.2zM453.6 107.3h2.2v2.2h-2.2zM603.9 212.6h2.2v2.2h-2.2zM540.0 121.9h2.2v2.2h-2.2zM477.2 120.8h2.2v2.2h-2.2zM557.9 169.1h2.2v2.2h-2.2zM416.9 62.3h2.2v2.2h-2.2zM515.9 121.5h2.2v2.2h-2.2zM527.4 209.8h2.2v2.2h-2.2zM493.6 203.7h2.2v2.2h-2.2zM545.0 159.2h2.2v2.2h-2.2zM556.2 96.8h2.2v2.2h-2.2zM397.8 176.2h2.2v2.2h-2.2zM488.4 212.6h2.2v2.2h-2.2zM562.4 149.0h2.2v2.2h-2.2zM502.2 171.2h2.2v2.2h-2.2zM419.3 148.8h2.2v2.2h-2.2zM432.8 140.5h2.2v2.2h-2.2zM481.5 62.7h2.2v2.2h-2.2zM412.4 213.5h2.2v2.2h-2.2zM521.1 175.8h2.2v2.2h-2.2zM572.3 193.0h2.2v2.2h-2.2zM577.2 140.5h2.2v2.2h-2.2zM565.1 145.5h2.2v2.2h-2.2zM483.6 221.0h2.2v2.2h-2.2zM470.2 222.0h2.2v2.2h-2.2zM533.5 192.1h2.2v2.2h-2.2zM488.3 90.7h2.2v2.2h-2.2zM458.7 79.5h2.2v2.2h-2.2zM493.9 136.1h2.2v2.2h-2.2zM503.1 200.5h2.2v2.2h-2.2zM394.3 99.1h2.2v2.2h-2.2zM517.5 124.9h2.2v2.2h-2.2zM575.7 118.1h2.2v2.2h-2.2zM440.1 73.8h2.2v2.2h-2.2zM578.8 89.8h2.2v2.2h-2.2zM479.4 211.4h2.2v2.2h-2.2zM552.6 276.2h2.2v2.2h-2.2zM508.8 167.7h2.2v2.2h-2.2zM400.4 83.6h2.2v2.2h-2.2zM569.4 42.0h2.2v2.2h-2.2zM423.4 172.3h2.2v2.2h-2.2zM542.6 166.5h2.2v2.2h-2.2zM476.5 51.3h2.2v2.2h-2.2zM506.6 123.5h2.2v2.2h-2.2zM397.4 192.7h2.2v2.2h-2.2zM477.4 205.9h2.2v2.2h-2.2zM499.5 95.0h2.2v2.2h-2.2zM521.7 152.0h2.2v2.2h-2.2zM485.6 199.6h2.2v2.2h-2.2zM380.1 98.5h2.2v2.2h-2.2zM478.8 271.0h2.2v2.2h-2.2zM394.8 117.8h2.2v2.2h-2.2zM590.6 194.7h2.2v2.2h-2.2zM423.4 182.4h2.2v2.2h-2.2zM434.4 154.4h2.2v2.2h-2.2zM607.4 142.1h2.2v2.2h-2.2zM452.9 121.8h2.2v2.2h-2.2zM474.0 218.8h2.2v2.2h-2.2zM461.3 114.4h2.2v2.2h-2.2zM465.1 180.8h2.2v2.2h-2.2zM536.8 209.6h2.2v2.2h-2.2zM590.4 170.8h2.2v2.2h-2.2zM438.9 190.7h2.2v2.2h-2.2zM475.1 241.3h2.2v2.2h-2.2zM483.9 225.5h2.2v2.2h-2.2zM481.3 104.4h2.2v2.2h-2.2zM462.9 197.4h2.2v2.2h-2.2zM461.0 206.1h2.2v2.2h-2.2zM457.9 184.3h2.2v2.2h-2.2zM523.2 254.6h2.2v2.2h-2.2zM560.5 224.0h2.2v2.2h-2.2zM482.7 184.1h2.2v2.2h-2.2zM439.3 112.0h2.2v2.2h-2.2zM550.0 169.7h2.2v2.2h-2.2zM530.9 118.6h2.2v2.2h-2.2zM608.6 187.7h2.2v2.2h-2.2zM577.8 143.4h2.2v2.2h-2.2zM487.8 263.7h2.2v2.2h-2.2zM480.9 180.0h2.2v2.2h-2.2zM481.6 103.4h2.2v2.2h-2.2zM378.7 152.5h2.2v2.2h-2.2zM498.8 245.6h2.2v2.2h-2.2zM523.1 153.2h2.2v2.2h-2.2zM489.5 227.2h2.2v2.2h-2.2zM570.8 112.7h2.2v2.2h-2.2zM542.3 169.3h2.2v2.2h-2.2zM507.4 258.5h2.2v2.2h-2.2zM507.3 190.3h2.2v2.2h-2.2zM488.1 123.2h2.2v2.2h-2.2zM444.3 170.2h2.2v2.2h-2.2zM580.0 229.2h2.2v2.2h-2.2zM464.2 196.2h2.2v2.2h-2.2zM512.2 102.7h2.2v2.2h-2.2zM591.2 211.3h2.2v2.2h-2.2zM525.7 203.3h2.2v2.2h-2.2zM451.9 190.3h2.2v2.2h-2.2zM555.2 179.3h2.2v2.2h-2.2zM437.1 84.9h2.2v2.2h-2.2zM484.5 154.4h2.2v2.2h-2.2zM438.6 171.8h2.2v2.2h-2.2zM547.5 240.7h2.2v2.2h-2.2zM485.6 90.5h2.2v2.2h-2.2zM549.0 101.1h2.2v2.2h-2.2zM517.7 220.3h2.2v2.2h-2.2zM484.8 189.6h2.2v2.2h-2.2zM456.8 114.0h2.2v2.2h-2.2zM522.1 217.6h2.2v2.2h-2.2zM516.7 118.7h2.2v2.2h-2.2zM502.2 93.1h2.2v2.2h-2.2zM435.5 141.5h2.2v2.2h-2.2zM556.3 255.5h2.2v2.2h-2.2zM426.5 105.1h2.2v2.2h-2.2zM524.4 146.5h2.2v2.2h-2.2zM545.1 101.1h2.2v2.2h-2.2zM527.4 140.3h2.2v2.2h-2.2zM497.5 142.6h2.2v2.2h-2.2zM513.5 232.5h2.2v2.2h-2.2zM391.0 109.4h2.2v2.2h-2.2zM537.9 242.0h2.2v2.2h-2.2zM571.1 178.8h2.2v2.2h-2.2zM459.4 120.3h2.2v2.2h-2.2zM475.7 190.6h2.2v2.2h-2.2zM589.7 132.3h2.2v2.2h-2.2zM519.6 165.6h2.2v2.2h-2.2zM534.8 40.3h2.2v2.2h-2.2zM528.4 190.5h2.2v2.2h-2.2zM464.4 110.9h2.2v2.2h-2.2zM462.1 166.5h2.2v2.2h-2.2zM532.9 210.1h2.2v2.2h-2.2zM393.3 162.6h2.2v2.2h-2.2zM564.8 216.1h2.2v2.2h-2.2zM489.0 196.1h2.2v2.2h-2.2zM544.8 160.6h2.2v2.2h-2.2zM534.5 136.9h2.2v2.2h-2.2zM604.1 223.9h2.2v2.2h-2.2zM435.9 232.9h2.2v2.2h-2.2zM457.2 135.3h2.2v2.2h-2.2zM522.7 131.2h2.2v2.2h-2.2zM456.1 55.3h2.2v2.2h-2.2zM442.6 144.4h2.2v2.2h-2.2zM517.0 192.2h2.2v2.2h-2.2zM476.3 100.2h2.2v2.2h-2.2zM574.4 135.0h2.2v2.2h-2.2zM527.4 184.3h2.2v2.2h-2.2zM491.0 165.8h2.2v2.2h-2.2zM526.0 110.3h2.2v2.2h-2.2zM574.9 212.4h2.2v2.2h-2.2zM475.7 130.0h2.2v2.2h-2.2zM546.9 161.5h2.2v2.2h-2.2zM412.0 161.2h2.2v2.2h-2.2zM444.3 90.1h2.2v2.2h-2.2zM374.7 210.8h2.2v2.2h-2.2zM542.5 166.2h2.2v2.2h-2.2zM471.9 185.5h2.2v2.2h-2.2zM482.5 244.7h2.2v2.2h-2.2zM525.9 132.5h2.2v2.2h-2.2zM483.0 191.3h2.2v2.2h-2.2zM554.0 233.9h2.2v2.2h-2.2zM587.4 117.0h2.2v2.2h-2.2zM519.5 105.3h2.2v2.2h-2.2zM504.1 158.4h2.2v2.2h-2.2zM471.1 219.9h2.2v2.2h-2.2zM511.8 156.2h2.2v2.2h-2.2zM587.9 189.3h2.2v2.2h-2.2zM480.5 157.3h2.2v2.2h-2.2zM532.2 92.0h2.2v2.2h-2.2zM549.3 99.6h2.2v2.2h-2.2zM515.1 60.2h2.2v2.2h-2.2zM457.3 239.8h2.2v2.2h-2.2zM511.8 142.6h2.2v2.2h-2.2zM414.4 127.8h2.2v2.2h-2.2zM417.6 202.0h2.2v2.2h-2.2zM453.3 272.5h2.2v2.2h-2.2zM606.3 181.1h2.2v2.2h-2.2zM448.7 85.9h2.2v2.2h-2.2z" fill="#f561dd"/><path d="M507.4 225.6h2.2v2.2h-2.2zM545.8 71.5h2.2v2.2h-2.2zM574.0 151.8h2.2v2.2h-2.2zM561.1 149.0h2.2v2.2h-2.2zM558.5 192.5h2.2v2.2h-2.2zM568.5 141.3h2.2v2.2h-2.2zM561.9 206.3h2.2v2.2h-2.2zM484.2 80.8h2.2v2.2h-2.2zM419.5 149.3h2.2v2.2h-2.2zM560.7 156.4h2.2v2.2h-2.2zM561.3 183.8h2.2v2.2h-2.2zM544.3 110.4h2.2v2.2h-2.2zM495.3 182.8h2.2v2.2h-2.2zM421.9 183.2h2.2v2.2h-2.2zM476.2 129.4h2.2v2.2h-2.2zM546.3 128.1h2.2v2.2h-2.2zM440.5 226.3h2.2v2.2h-2.2zM572.6 197.8h2.2v2.2h-2.2zM562.8 213.6h2.2v2.2h-2.2zM576.4 127.8h2.2v2.2h-2.2zM519.7 146.4h2.2v2.2h-2.2zM529.5 232.6h2.2v2.2h-2.2zM557.1 87.4h2.2v2.2h-2.2zM538.8 157.8h2.2v2.2h-2.2zM613.8 110.6h2.2v2.2h-2.2zM465.8 92.3h2.2v2.2h-2.2zM562.0 54.6h2.2v2.2h-2.2zM610.7 169.1h2.2v2.2h-2.2zM405.3 165.0h2.2v2.2h-2.2zM530.3 143.8h2.2v2.2h-2.2zM450.8 62.0h2.2v2.2h-2.2zM607.1 186.0h2.2v2.2h-2.2zM522.4 206.9h2.2v2.2h-2.2zM532.1 106.5h2.2v2.2h-2.2zM557.2 163.7h2.2v2.2h-2.2zM450.5 92.8h2.2v2.2h-2.2zM435.5 232.0h2.2v2.2h-2.2zM525.6 181.5h2.2v2.2h-2.2zM533.7 91.2h2.2v2.2h-2.2zM614.0 89.7h2.2v2.2h-2.2zM520.8 154.2h2.2v2.2h-2.2zM563.9 122.0h2.2v2.2h-2.2zM478.2 101.4h2.2v2.2h-2.2zM563.3 132.5h2.2v2.2h-2.2zM542.8 200.9h2.2v2.2h-2.2zM581.9 173.2h2.2v2.2h-2.2zM521.5 141.7h2.2v2.2h-2.2zM537.0 220.6h2.2v2.2h-2.2zM497.7 265.5h2.2v2.2h-2.2zM551.5 196.0h2.2v2.2h-2.2zM501.2 177.8h2.2v2.2h-2.2zM486.4 243.8h2.2v2.2h-2.2zM544.1 144.6h2.2v2.2h-2.2zM466.0 196.4h2.2v2.2h-2.2zM471.9 210.9h2.2v2.2h-2.2zM476.5 194.4h2.2v2.2h-2.2zM474.5 118.0h2.2v2.2h-2.2zM597.1 224.2h2.2v2.2h-2.2zM430.5 79.4h2.2v2.2h-2.2zM501.4 179.1h2.2v2.2h-2.2zM454.3 157.8h2.2v2.2h-2.2zM611.6 132.7h2.2v2.2h-2.2zM518.9 81.1h2.2v2.2h-2.2zM483.0 190.7h2.2v2.2h-2.2zM528.7 200.6h2.2v2.2h-2.2zM513.0 201.6h2.2v2.2h-2.2zM527.8 199.1h2.2v2.2h-2.2zM614.3 210.5h2.2v2.2h-2.2zM449.7 174.8h2.2v2.2h-2.2zM549.3 196.7h2.2v2.2h-2.2zM499.3 213.6h2.2v2.2h-2.2zM530.8 161.7h2.2v2.2h-2.2zM538.9 228.1h2.2v2.2h-2.2zM557.1 131.3h2.2v2.2h-2.2zM530.3 187.1h2.2v2.2h-2.2zM513.9 141.7h2.2v2.2h-2.2zM581.0 208.0h2.2v2.2h-2.2zM538.9 192.6h2.2v2.2h-2.2zM507.4 167.4h2.2v2.2h-2.2zM433.9 224.7h2.2v2.2h-2.2zM555.3 188.9h2.2v2.2h-2.2zM537.6 221.0h2.2v2.2h-2.2zM546.4 186.0h2.2v2.2h-2.2zM383.4 133.0h2.2v2.2h-2.2zM534.3 74.6h2.2v2.2h-2.2zM517.0 154.5h2.2v2.2h-2.2zM513.8 135.1h2.2v2.2h-2.2zM589.1 179.4h2.2v2.2h-2.2zM494.1 171.0h2.2v2.2h-2.2zM384.9 109.8h2.2v2.2h-2.2zM505.4 167.7h2.2v2.2h-2.2zM547.9 153.1h2.2v2.2h-2.2zM486.8 252.0h2.2v2.2h-2.2zM560.1 229.1h2.2v2.2h-2.2zM445.9 170.9h2.2v2.2h-2.2zM558.1 234.9h2.2v2.2h-2.2zM500.1 231.0h2.2v2.2h-2.2zM518.6 112.0h2.2v2.2h-2.2zM424.8 92.1h2.2v2.2h-2.2zM439.8 207.9h2.2v2.2h-2.2zM506.1 162.8h2.2v2.2h-2.2zM570.9 133.4h2.2v2.2h-2.2zM408.5 84.4h2.2v2.2h-2.2zM398.9 78.0h2.2v2.2h-2.2zM546.4 109.5h2.2v2.2h-2.2zM481.1 192.4h2.2v2.2h-2.2zM571.1 118.2h2.2v2.2h-2.2zM465.0 103.4h2.2v2.2h-2.2zM469.7 177.1h2.2v2.2h-2.2zM464.1 96.3h2.2v2.2h-2.2zM463.0 220.4h2.2v2.2h-2.2zM545.4 122.7h2.2v2.2h-2.2zM440.1 232.3h2.2v2.2h-2.2zM524.7 179.5h2.2v2.2h-2.2zM559.5 180.8h2.2v2.2h-2.2zM514.8 123.3h2.2v2.2h-2.2zM442.0 114.8h2.2v2.2h-2.2zM591.7 142.0h2.2v2.2h-2.2zM476.0 205.5h2.2v2.2h-2.2zM454.6 206.6h2.2v2.2h-2.2zM623.1 130.0h2.2v2.2h-2.2zM551.5 120.2h2.2v2.2h-2.2zM487.2 267.8h2.2v2.2h-2.2zM447.1 275.0h2.2v2.2h-2.2zM503.9 158.6h2.2v2.2h-2.2zM463.9 164.8h2.2v2.2h-2.2zM523.1 175.0h2.2v2.2h-2.2zM559.7 268.3h2.2v2.2h-2.2zM425.6 109.8h2.2v2.2h-2.2zM528.0 144.9h2.2v2.2h-2.2zM483.0 98.9h2.2v2.2h-2.2zM483.3 227.9h2.2v2.2h-2.2zM548.2 221.4h2.2v2.2h-2.2zM399.0 72.8h2.2v2.2h-2.2zM579.0 171.4h2.2v2.2h-2.2zM527.3 253.0h2.2v2.2h-2.2zM415.4 177.8h2.2v2.2h-2.2zM462.9 206.8h2.2v2.2h-2.2zM535.8 128.5h2.2v2.2h-2.2zM580.3 110.4h2.2v2.2h-2.2zM596.1 162.1h2.2v2.2h-2.2zM500.8 128.2h2.2v2.2h-2.2zM515.5 228.6h2.2v2.2h-2.2zM430.8 110.5h2.2v2.2h-2.2zM528.1 193.4h2.2v2.2h-2.2zM514.2 265.1h2.2v2.2h-2.2zM565.9 181.3h2.2v2.2h-2.2zM535.6 139.2h2.2v2.2h-2.2zM474.8 117.4h2.2v2.2h-2.2zM606.5 168.6h2.2v2.2h-2.2zM427.6 224.0h2.2v2.2h-2.2zM562.3 141.5h2.2v2.2h-2.2zM500.7 119.3h2.2v2.2h-2.2zM466.9 118.0h2.2v2.2h-2.2zM517.9 211.3h2.2v2.2h-2.2zM570.2 124.5h2.2v2.2h-2.2zM569.1 130.7h2.2v2.2h-2.2zM502.1 225.9h2.2v2.2h-2.2zM501.1 120.1h2.2v2.2h-2.2zM508.0 281.1h2.2v2.2h-2.2zM402.1 85.3h2.2v2.2h-2.2zM467.8 142.4h2.2v2.2h-2.2zM491.9 104.6h2.2v2.2h-2.2zM592.6 85.8h2.2v2.2h-2.2zM543.1 145.6h2.2v2.2h-2.2zM410.5 206.9h2.2v2.2h-2.2zM524.9 236.9h2.2v2.2h-2.2zM587.3 206.2h2.2v2.2h-2.2zM493.4 230.8h2.2v2.2h-2.2zM485.9 215.1h2.2v2.2h-2.2zM474.4 49.3h2.2v2.2h-2.2zM561.2 119.4h2.2v2.2h-2.2zM546.4 49.2h2.2v2.2h-2.2zM589.2 176.0h2.2v2.2h-2.2zM497.8 216.9h2.2v2.2h-2.2zM468.6 106.5h2.2v2.2h-2.2zM605.1 159.9h2.2v2.2h-2.2zM546.9 223.4h2.2v2.2h-2.2zM558.5 177.1h2.2v2.2h-2.2zM509.9 105.0h2.2v2.2h-2.2zM455.9 195.4h2.2v2.2h-2.2zM559.3 100.1h2.2v2.2h-2.2zM477.5 115.6h2.2v2.2h-2.2zM476.0 130.7h2.2v2.2h-2.2zM522.0 208.3h2.2v2.2h-2.2zM497.2 210.8h2.2v2.2h-2.2zM587.8 202.7h2.2v2.2h-2.2zM551.1 219.2h2.2v2.2h-2.2zM603.4 211.3h2.2v2.2h-2.2zM574.7 256.1h2.2v2.2h-2.2zM458.9 130.6h2.2v2.2h-2.2zM523.2 146.3h2.2v2.2h-2.2zM471.7 149.5h2.2v2.2h-2.2zM443.9 137.2h2.2v2.2h-2.2zM508.0 203.3h2.2v2.2h-2.2zM552.5 180.1h2.2v2.2h-2.2zM468.2 105.9h2.2v2.2h-2.2zM448.5 224.9h2.2v2.2h-2.2zM492.3 121.4h2.2v2.2h-2.2zM573.6 155.5h2.2v2.2h-2.2zM471.2 218.4h2.2v2.2h-2.2zM552.7 175.9h2.2v2.2h-2.2zM410.5 170.1h2.2v2.2h-2.2zM465.7 210.3h2.2v2.2h-2.2zM490.3 176.5h2.2v2.2h-2.2zM570.8 208.2h2.2v2.2h-2.2zM577.1 137.8h2.2v2.2h-2.2zM486.1 212.1h2.2v2.2h-2.2zM465.0 118.8h2.2v2.2h-2.2zM567.3 224.0h2.2v2.2h-2.2zM449.7 142.7h2.2v2.2h-2.2zM466.4 199.7h2.2v2.2h-2.2zM435.4 56.0h2.2v2.2h-2.2zM521.9 227.8h2.2v2.2h-2.2zM439.8 276.0h2.2v2.2h-2.2zM548.8 220.3h2.2v2.2h-2.2zM491.8 96.5h2.2v2.2h-2.2zM416.9 116.9h2.2v2.2h-2.2zM465.4 273.6h2.2v2.2h-2.2zM516.7 145.3h2.2v2.2h-2.2zM528.8 130.9h2.2v2.2h-2.2zM584.6 109.7h2.2v2.2h-2.2zM415.5 74.4h2.2v2.2h-2.2zM466.7 276.0h2.2v2.2h-2.2zM454.0 148.5h2.2v2.2h-2.2zM494.5 49.0h2.2v2.2h-2.2zM554.8 233.5h2.2v2.2h-2.2zM498.2 92.6h2.2v2.2h-2.2zM456.4 130.6h2.2v2.2h-2.2zM464.4 128.4h2.2v2.2h-2.2zM432.5 89.3h2.2v2.2h-2.2zM500.1 100.9h2.2v2.2h-2.2zM475.8 163.0h2.2v2.2h-2.2zM499.3 122.7h2.2v2.2h-2.2zM520.1 216.3h2.2v2.2h-2.2zM551.1 164.5h2.2v2.2h-2.2zM555.6 241.8h2.2v2.2h-2.2zM553.6 179.2h2.2v2.2h-2.2zM581.6 137.0h2.2v2.2h-2.2zM479.3 148.6h2.2v2.2h-2.2zM485.4 186.6h2.2v2.2h-2.2zM430.2 59.1h2.2v2.2h-2.2zM517.4 123.3h2.2v2.2h-2.2zM426.9 156.7h2.2v2.2h-2.2zM597.9 187.4h2.2v2.2h-2.2zM504.2 80.6h2.2v2.2h-2.2zM478.8 187.2h2.2v2.2h-2.2zM459.8 179.0h2.2v2.2h-2.2zM549.3 148.3h2.2v2.2h-2.2zM440.6 133.2h2.2v2.2h-2.2zM543.0 220.7h2.2v2.2h-2.2zM385.0 97.9h2.2v2.2h-2.2zM548.5 209.4h2.2v2.2h-2.2zM448.7 166.9h2.2v2.2h-2.2zM455.7 80.3h2.2v2.2h-2.2zM419.0 130.6h2.2v2.2h-2.2zM535.7 148.4h2.2v2.2h-2.2zM569.7 122.4h2.2v2.2h-2.2zM418.4 94.3h2.2v2.2h-2.2zM546.2 100.6h2.2v2.2h-2.2zM559.7 236.0h2.2v2.2h-2.2zM525.8 181.7h2.2v2.2h-2.2zM492.2 222.7h2.2v2.2h-2.2zM408.0 124.1h2.2v2.2h-2.2zM549.3 183.7h2.2v2.2h-2.2zM623.3 137.8h2.2v2.2h-2.2zM542.8 215.8h2.2v2.2h-2.2zM567.7 109.8h2.2v2.2h-2.2zM439.6 174.1h2.2v2.2h-2.2zM425.3 199.0h2.2v2.2h-2.2zM539.4 218.1h2.2v2.2h-2.2zM504.7 128.1h2.2v2.2h-2.2zM585.6 180.9h2.2v2.2h-2.2zM592.6 109.4h2.2v2.2h-2.2zM544.7 92.2h2.2v2.2h-2.2zM511.0 61.4h2.2v2.2h-2.2zM427.8 140.3h2.2v2.2h-2.2zM488.5 168.3h2.2v2.2h-2.2zM564.5 138.6h2.2v2.2h-2.2zM519.9 225.4h2.2v2.2h-2.2zM546.3 185.0h2.2v2.2h-2.2zM436.2 184.4h2.2v2.2h-2.2zM477.2 227.4h2.2v2.2h-2.2zM543.3 98.3h2.2v2.2h-2.2zM472.0 230.7h2.2v2.2h-2.2zM510.8 186.8h2.2v2.2h-2.2zM579.0 220.3h2.2v2.2h-2.2zM397.8 218.2h2.2v2.2h-2.2zM464.9 186.5h2.2v2.2h-2.2zM457.5 223.7h2.2v2.2h-2.2zM556.7 115.7h2.2v2.2h-2.2zM495.1 223.9h2.2v2.2h-2.2zM523.0 98.1h2.2v2.2h-2.2zM569.9 240.8h2.2v2.2h-2.2zM532.4 122.8h2.2v2.2h-2.2zM440.6 156.5h2.2v2.2h-2.2zM487.5 248.7h2.2v2.2h-2.2zM461.5 74.6h2.2v2.2h-2.2zM528.8 210.8h2.2v2.2h-2.2zM583.3 144.6h2.2v2.2h-2.2zM383.2 152.6h2.2v2.2h-2.2zM482.5 201.6h2.2v2.2h-2.2zM518.9 180.3h2.2v2.2h-2.2zM376.8 150.2h2.2v2.2h-2.2zM564.3 182.2h2.2v2.2h-2.2zM456.7 100.5h2.2v2.2h-2.2zM507.7 194.9h2.2v2.2h-2.2zM462.7 241.6h2.2v2.2h-2.2zM471.2 218.1h2.2v2.2h-2.2zM522.0 129.6h2.2v2.2h-2.2zM506.8 38.9h2.2v2.2h-2.2zM478.6 283.5h2.2v2.2h-2.2zM482.4 253.2h2.2v2.2h-2.2zM526.9 257.4h2.2v2.2h-2.2zM507.0 195.0h2.2v2.2h-2.2zM497.8 172.6h2.2v2.2h-2.2zM522.3 223.6h2.2v2.2h-2.2zM539.7 128.6h2.2v2.2h-2.2zM547.6 260.4h2.2v2.2h-2.2zM588.5 236.6h2.2v2.2h-2.2zM569.8 79.1h2.2v2.2h-2.2zM538.3 136.5h2.2v2.2h-2.2zM461.1 193.0h2.2v2.2h-2.2zM508.9 154.3h2.2v2.2h-2.2zM500.5 112.8h2.2v2.2h-2.2zM517.8 262.0h2.2v2.2h-2.2zM479.2 199.3h2.2v2.2h-2.2zM426.3 237.7h2.2v2.2h-2.2zM503.4 149.0h2.2v2.2h-2.2zM416.8 97.4h2.2v2.2h-2.2zM540.7 114.2h2.2v2.2h-2.2zM554.9 128.0h2.2v2.2h-2.2zM387.9 117.5h2.2v2.2h-2.2zM587.0 259.4h2.2v2.2h-2.2zM469.6 244.3h2.2v2.2h-2.2zM524.7 196.8h2.2v2.2h-2.2zM475.2 136.4h2.2v2.2h-2.2zM552.1 231.8h2.2v2.2h-2.2zM456.3 142.1h2.2v2.2h-2.2zM531.7 157.9h2.2v2.2h-2.2zM560.3 198.6h2.2v2.2h-2.2zM515.1 80.0h2.2v2.2h-2.2zM508.1 143.3h2.2v2.2h-2.2zM544.3 181.8h2.2v2.2h-2.2zM590.6 119.7h2.2v2.2h-2.2zM561.0 147.3h2.2v2.2h-2.2zM511.0 173.0h2.2v2.2h-2.2zM459.4 169.8h2.2v2.2h-2.2zM531.5 234.7h2.2v2.2h-2.2zM601.6 168.1h2.2v2.2h-2.2zM502.7 129.4h2.2v2.2h-2.2zM487.2 199.0h2.2v2.2h-2.2zM438.5 60.7h2.2v2.2h-2.2zM478.3 206.9h2.2v2.2h-2.2zM468.4 208.4h2.2v2.2h-2.2zM454.9 128.6h2.2v2.2h-2.2zM472.9 170.8h2.2v2.2h-2.2zM451.6 111.1h2.2v2.2h-2.2zM480.9 119.3h2.2v2.2h-2.2zM583.0 173.5h2.2v2.2h-2.2zM557.5 140.9h2.2v2.2h-2.2zM582.9 207.7h2.2v2.2h-2.2zM488.2 163.2h2.2v2.2h-2.2zM519.0 137.3h2.2v2.2h-2.2zM408.5 192.5h2.2v2.2h-2.2zM535.6 115.1h2.2v2.2h-2.2zM567.0 136.0h2.2v2.2h-2.2zM558.2 88.7h2.2v2.2h-2.2zM486.4 131.9h2.2v2.2h-2.2zM510.9 228.9h2.2v2.2h-2.2zM484.5 269.3h2.2v2.2h-2.2zM590.9 144.2h2.2v2.2h-2.2zM469.8 164.8h2.2v2.2h-2.2zM552.6 189.8h2.2v2.2h-2.2zM455.4 192.1h2.2v2.2h-2.2zM483.4 227.6h2.2v2.2h-2.2zM417.9 113.7h2.2v2.2h-2.2zM419.6 213.4h2.2v2.2h-2.2zM422.1 61.6h2.2v2.2h-2.2zM535.8 258.7h2.2v2.2h-2.2zM574.3 142.4h2.2v2.2h-2.2zM466.0 183.5h2.2v2.2h-2.2zM614.8 179.1h2.2v2.2h-2.2zM500.0 187.7h2.2v2.2h-2.2zM564.7 166.9h2.2v2.2h-2.2zM490.1 125.0h2.2v2.2h-2.2zM561.0 172.0h2.2v2.2h-2.2zM524.3 130.1h2.2v2.2h-2.2zM591.7 144.8h2.2v2.2h-2.2zM462.7 168.1h2.2v2.2h-2.2zM469.1 115.4h2.2v2.2h-2.2zM470.3 248.8h2.2v2.2h-2.2zM561.7 34.3h2.2v2.2h-2.2zM477.6 40.1h2.2v2.2h-2.2zM428.1 163.2h2.2v2.2h-2.2zM522.7 193.5h2.2v2.2h-2.2zM445.6 147.7h2.2v2.2h-2.2zM443.6 187.5h2.2v2.2h-2.2zM521.1 114.0h2.2v2.2h-2.2zM505.7 71.8h2.2v2.2h-2.2zM553.5 223.3h2.2v2.2h-2.2zM518.1 85.4h2.2v2.2h-2.2zM413.4 104.3h2.2v2.2h-2.2zM516.8 135.1h2.2v2.2h-2.2zM509.5 180.7h2.2v2.2h-2.2zM405.3 146.8h2.2v2.2h-2.2zM548.9 222.0h2.2v2.2h-2.2zM575.8 135.6h2.2v2.2h-2.2zM478.7 163.9h2.2v2.2h-2.2zM560.9 98.3h2.2v2.2h-2.2zM526.9 38.4h2.2v2.2h-2.2zM487.2 158.2h2.2v2.2h-2.2zM419.3 166.6h2.2v2.2h-2.2zM519.6 251.2h2.2v2.2h-2.2zM548.3 193.1h2.2v2.2h-2.2zM549.0 156.6h2.2v2.2h-2.2zM435.9 135.3h2.2v2.2h-2.2zM530.7 159.0h2.2v2.2h-2.2zM470.5 91.2h2.2v2.2h-2.2zM505.6 177.9h2.2v2.2h-2.2zM556.2 141.1h2.2v2.2h-2.2zM605.7 223.1h2.2v2.2h-2.2zM407.3 216.1h2.2v2.2h-2.2zM481.0 144.0h2.2v2.2h-2.2zM541.9 163.7h2.2v2.2h-2.2zM469.9 234.2h2.2v2.2h-2.2zM446.2 152.7h2.2v2.2h-2.2zM459.8 126.6h2.2v2.2h-2.2zM456.6 228.9h2.2v2.2h-2.2zM584.7 167.2h2.2v2.2h-2.2zM469.7 69.5h2.2v2.2h-2.2zM540.7 173.9h2.2v2.2h-2.2zM610.9 276.3h2.2v2.2h-2.2zM451.3 230.0h2.2v2.2h-2.2zM435.2 174.6h2.2v2.2h-2.2zM447.2 97.5h2.2v2.2h-2.2zM396.8 66.8h2.2v2.2h-2.2zM576.2 97.7h2.2v2.2h-2.2zM391.3 149.2h2.2v2.2h-2.2zM502.5 193.7h2.2v2.2h-2.2zM540.0 179.3h2.2v2.2h-2.2zM529.4 145.2h2.2v2.2h-2.2zM484.1 177.1h2.2v2.2h-2.2zM492.4 240.9h2.2v2.2h-2.2zM489.3 178.5h2.2v2.2h-2.2zM579.8 168.0h2.2v2.2h-2.2zM473.2 166.4h2.2v2.2h-2.2zM480.4 101.6h2.2v2.2h-2.2zM521.5 193.9h2.2v2.2h-2.2zM455.8 109.3h2.2v2.2h-2.2zM565.1 203.0h2.2v2.2h-2.2zM379.8 210.5h2.2v2.2h-2.2zM575.9 189.6h2.2v2.2h-2.2zM535.6 168.5h2.2v2.2h-2.2zM441.5 157.6h2.2v2.2h-2.2zM466.6 155.2h2.2v2.2h-2.2zM624.1 158.8h2.2v2.2h-2.2zM495.7 86.3h2.2v2.2h-2.2zM489.5 158.8h2.2v2.2h-2.2zM444.9 129.3h2.2v2.2h-2.2zM534.1 200.6h2.2v2.2h-2.2zM525.5 229.1h2.2v2.2h-2.2zM605.6 209.8h2.2v2.2h-2.2zM439.2 141.5h2.2v2.2h-2.2zM494.8 224.8h2.2v2.2h-2.2zM471.2 205.3h2.2v2.2h-2.2zM598.4 176.6h2.2v2.2h-2.2zM419.3 207.9h2.2v2.2h-2.2zM475.7 102.8h2.2v2.2h-2.2zM480.9 203.7h2.2v2.2h-2.2zM525.1 137.7h2.2v2.2h-2.2zM612.1 203.7h2.2v2.2h-2.2zM473.1 214.6h2.2v2.2h-2.2zM552.1 90.8h2.2v2.2h-2.2zM526.5 124.8h2.2v2.2h-2.2zM543.5 112.4h2.2v2.2h-2.2zM467.3 182.1h2.2v2.2h-2.2zM446.7 248.5h2.2v2.2h-2.2zM573.4 124.6h2.2v2.2h-2.2zM532.1 217.0h2.2v2.2h-2.2zM474.9 177.7h2.2v2.2h-2.2zM566.9 160.9h2.2v2.2h-2.2zM601.9 94.9h2.2v2.2h-2.2zM444.1 125.8h2.2v2.2h-2.2zM500.5 106.4h2.2v2.2h-2.2zM507.4 163.4h2.2v2.2h-2.2zM525.5 222.3h2.2v2.2h-2.2zM478.7 167.1h2.2v2.2h-2.2zM456.0 178.1h2.2v2.2h-2.2zM536.4 220.5h2.2v2.2h-2.2zM497.1 187.2h2.2v2.2h-2.2zM469.4 95.3h2.2v2.2h-2.2zM528.5 229.8h2.2v2.2h-2.2zM587.7 70.8h2.2v2.2h-2.2zM538.0 211.9h2.2v2.2h-2.2zM486.5 153.5h2.2v2.2h-2.2zM444.3 58.5h2.2v2.2h-2.2zM429.8 122.6h2.2v2.2h-2.2zM507.1 72.9h2.2v2.2h-2.2zM405.4 177.5h2.2v2.2h-2.2zM529.7 176.5h2.2v2.2h-2.2zM427.4 215.2h2.2v2.2h-2.2zM518.9 201.4h2.2v2.2h-2.2zM425.7 107.6h2.2v2.2h-2.2zM429.4 87.5h2.2v2.2h-2.2zM564.4 172.2h2.2v2.2h-2.2zM502.7 172.8h2.2v2.2h-2.2zM518.6 89.6h2.2v2.2h-2.2zM411.6 189.4h2.2v2.2h-2.2zM411.4 109.3h2.2v2.2h-2.2zM482.7 124.5h2.2v2.2h-2.2zM593.9 172.3h2.2v2.2h-2.2zM414.2 174.6h2.2v2.2h-2.2zM453.0 168.7h2.2v2.2h-2.2zM438.9 168.2h2.2v2.2h-2.2zM479.2 198.2h2.2v2.2h-2.2zM539.1 102.9h2.2v2.2h-2.2zM506.4 198.2h2.2v2.2h-2.2zM563.2 96.1h2.2v2.2h-2.2zM433.0 105.5h2.2v2.2h-2.2zM567.0 85.4h2.2v2.2h-2.2zM547.7 192.7h2.2v2.2h-2.2zM533.0 282.0h2.2v2.2h-2.2zM494.1 190.6h2.2v2.2h-2.2zM524.3 221.7h2.2v2.2h-2.2zM511.8 217.4h2.2v2.2h-2.2zM542.9 242.1h2.2v2.2h-2.2zM602.8 184.8h2.2v2.2h-2.2zM495.1 69.5h2.2v2.2h-2.2zM534.2 182.7h2.2v2.2h-2.2zM524.1 94.9h2.2v2.2h-2.2zM527.3 134.1h2.2v2.2h-2.2zM590.7 137.8h2.2v2.2h-2.2zM461.0 77.3h2.2v2.2h-2.2zM487.7 185.7h2.2v2.2h-2.2zM470.6 173.4h2.2v2.2h-2.2zM557.7 162.0h2.2v2.2h-2.2zM466.2 60.3h2.2v2.2h-2.2zM541.5 112.7h2.2v2.2h-2.2zM524.9 140.8h2.2v2.2h-2.2zM508.0 61.9h2.2v2.2h-2.2zM553.9 130.9h2.2v2.2h-2.2zM524.9 261.6h2.2v2.2h-2.2zM411.4 77.2h2.2v2.2h-2.2zM531.3 169.8h2.2v2.2h-2.2zM474.5 52.7h2.2v2.2h-2.2zM538.7 113.4h2.2v2.2h-2.2zM416.1 273.8h2.2v2.2h-2.2zM469.7 195.5h2.2v2.2h-2.2zM413.4 115.1h2.2v2.2h-2.2zM459.2 284.0h2.2v2.2h-2.2zM408.2 161.2h2.2v2.2h-2.2zM546.7 208.3h2.2v2.2h-2.2zM529.5 276.7h2.2v2.2h-2.2zM561.8 114.9h2.2v2.2h-2.2zM590.7 115.0h2.2v2.2h-2.2zM577.6 167.7h2.2v2.2h-2.2zM471.8 94.5h2.2v2.2h-2.2zM511.9 182.8h2.2v2.2h-2.2zM497.2 111.8h2.2v2.2h-2.2zM444.4 150.1h2.2v2.2h-2.2zM499.1 224.6h2.2v2.2h-2.2zM496.9 114.7h2.2v2.2h-2.2zM507.6 183.3h2.2v2.2h-2.2zM595.2 189.6h2.2v2.2h-2.2zM484.4 134.3h2.2v2.2h-2.2zM568.0 214.2h2.2v2.2h-2.2zM482.7 110.0h2.2v2.2h-2.2zM426.9 170.4h2.2v2.2h-2.2zM461.0 94.3h2.2v2.2h-2.2zM547.9 132.2h2.2v2.2h-2.2zM619.6 173.7h2.2v2.2h-2.2zM438.4 189.7h2.2v2.2h-2.2zM509.8 131.2h2.2v2.2h-2.2zM580.7 212.2h2.2v2.2h-2.2zM467.2 112.4h2.2v2.2h-2.2zM488.4 210.3h2.2v2.2h-2.2zM527.4 163.1h2.2v2.2h-2.2zM528.5 138.3h2.2v2.2h-2.2zM493.1 197.2h2.2v2.2h-2.2zM476.4 181.2h2.2v2.2h-2.2zM499.5 215.9h2.2v2.2h-2.2zM473.5 189.6h2.2v2.2h-2.2zM490.7 151.2h2.2v2.2h-2.2zM471.9 128.0h2.2v2.2h-2.2zM524.6 225.0h2.2v2.2h-2.2zM433.7 160.4h2.2v2.2h-2.2zM431.0 156.4h2.2v2.2h-2.2zM457.0 166.2h2.2v2.2h-2.2zM450.7 110.9h2.2v2.2h-2.2zM528.8 243.3h2.2v2.2h-2.2zM575.4 181.1h2.2v2.2h-2.2zM489.9 175.1h2.2v2.2h-2.2zM425.8 191.0h2.2v2.2h-2.2zM464.9 273.8h2.2v2.2h-2.2zM567.1 169.8h2.2v2.2h-2.2zM538.9 122.0h2.2v2.2h-2.2zM491.9 215.1h2.2v2.2h-2.2zM520.9 169.8h2.2v2.2h-2.2zM505.3 100.4h2.2v2.2h-2.2zM462.3 161.5h2.2v2.2h-2.2zM395.1 137.2h2.2v2.2h-2.2zM468.0 187.5h2.2v2.2h-2.2zM560.2 133.4h2.2v2.2h-2.2zM443.8 193.7h2.2v2.2h-2.2zM455.0 152.0h2.2v2.2h-2.2zM483.5 142.7h2.2v2.2h-2.2zM451.4 197.1h2.2v2.2h-2.2zM424.6 177.8h2.2v2.2h-2.2zM445.2 126.7h2.2v2.2h-2.2zM536.7 123.7h2.2v2.2h-2.2zM591.6 109.3h2.2v2.2h-2.2zM459.0 118.1h2.2v2.2h-2.2zM472.2 132.4h2.2v2.2h-2.2zM515.4 73.4h2.2v2.2h-2.2zM577.2 181.3h2.2v2.2h-2.2zM478.5 237.8h2.2v2.2h-2.2zM512.8 214.8h2.2v2.2h-2.2zM392.8 179.7h2.2v2.2h-2.2zM549.2 100.2h2.2v2.2h-2.2zM475.7 254.9h2.2v2.2h-2.2zM480.3 167.6h2.2v2.2h-2.2zM504.0 89.4h2.2v2.2h-2.2zM527.5 146.0h2.2v2.2h-2.2zM501.2 197.8h2.2v2.2h-2.2zM464.5 101.8h2.2v2.2h-2.2zM482.4 84.3h2.2v2.2h-2.2zM549.3 243.7h2.2v2.2h-2.2zM580.8 257.2h2.2v2.2h-2.2zM481.8 194.4h2.2v2.2h-2.2zM466.1 211.1h2.2v2.2h-2.2zM611.2 181.8h2.2v2.2h-2.2zM404.2 175.5h2.2v2.2h-2.2zM544.2 125.1h2.2v2.2h-2.2zM496.2 99.8h2.2v2.2h-2.2zM385.5 195.3h2.2v2.2h-2.2zM588.3 146.0h2.2v2.2h-2.2zM558.3 122.1h2.2v2.2h-2.2zM579.7 199.2h2.2v2.2h-2.2zM568.2 245.6h2.2v2.2h-2.2zM493.5 166.9h2.2v2.2h-2.2zM484.3 212.8h2.2v2.2h-2.2zM465.0 129.1h2.2v2.2h-2.2zM521.8 130.7h2.2v2.2h-2.2zM507.9 156.5h2.2v2.2h-2.2zM575.9 183.1h2.2v2.2h-2.2zM459.1 179.4h2.2v2.2h-2.2zM465.9 132.4h2.2v2.2h-2.2zM462.7 149.3h2.2v2.2h-2.2zM511.9 144.5h2.2v2.2h-2.2zM530.5 193.2h2.2v2.2h-2.2zM399.7 77.4h2.2v2.2h-2.2zM415.8 147.3h2.2v2.2h-2.2zM554.2 167.2h2.2v2.2h-2.2zM558.6 180.2h2.2v2.2h-2.2zM472.1 122.7h2.2v2.2h-2.2z" fill="#97a431"/><path d="M452.1 145.6h2.2v2.2h-2.2zM534.9 160.5h2.2v2.2h-2.2zM458.4 228.3h2.2v2.2h-2.2zM547.0 122.4h2.2v2.2h-2.2zM536.9 62.3h2.2v2.2h-2.2zM467.7 173.3h2.2v2.2h-2.2zM551.3 247.5h2.2v2.2h-2.2zM428.3 223.8h2.2v2.2h-2.2zM476.2 142.6h2.2v2.2h-2.2zM439.8 77.2h2.2v2.2h-2.2zM582.6 229.2h2.2v2.2h-2.2zM555.2 161.5h2.2v2.2h-2.2zM450.1 145.9h2.2v2.2h-2.2zM475.3 253.2h2.2v2.2h-2.2zM578.8 178.1h2.2v2.2h-2.2zM477.4 187.4h2.2v2.2h-2.2zM437.1 68.5h2.2v2.2h-2.2zM540.3 198.5h2.2v2.2h-2.2zM600.6 112.9h2.2v2.2h-2.2zM562.6 116.8h2.2v2.2h-2.2zM559.7 192.9h2.2v2.2h-2.2zM443.6 159.5h2.2v2.2h-2.2zM595.4 231.9h2.2v2.2h-2.2zM516.4 53.9h2.2v2.2h-2.2zM434.4 198.9h2.2v2.2h-2.2zM520.1 171.8h2.2v2.2h-2.2zM431.8 244.9h2.2v2.2h-2.2zM517.8 195.8h2.2v2.2h-2.2zM617.4 207.0h2.2v2.2h-2.2zM489.1 121.9h2.2v2.2h-2.2zM561.2 183.9h2.2v2.2h-2.2zM556.0 113.8h2.2v2.2h-2.2zM464.7 122.9h2.2v2.2h-2.2zM527.0 240.0h2.2v2.2h-2.2zM480.1 100.2h2.2v2.2h-2.2zM408.5 219.2h2.2v2.2h-2.2zM442.7 117.2h2.2v2.2h-2.2zM486.2 152.8h2.2v2.2h-2.2zM602.5 118.3h2.2v2.2h-2.2zM387.1 85.6h2.2v2.2h-2.2zM558.8 158.2h2.2v2.2h-2.2zM583.7 227.2h2.2v2.2h-2.2zM470.0 197.9h2.2v2.2h-2.2zM609.7 144.3h2.2v2.2h-2.2zM505.7 181.3h2.2v2.2h-2.2zM539.9 157.7h2.2v2.2h-2.2zM599.2 173.8h2.2v2.2h-2.2zM492.7 158.4h2.2v2.2h-2.2zM481.1 262.3h2.2v2.2h-2.2zM394.0 66.1h2.2v2.2h-2.2zM508.3 215.6h2.2v2.2h-2.2zM466.9 95.2h2.2v2.2h-2.2zM570.0 155.7h2.2v2.2h-2.2zM581.9 105.7h2.2v2.2h-2.2zM566.6 126.0h2.2v2.2h-2.2zM562.6 97.0h2.2v2.2h-2.2zM481.1 181.0h2.2v2.2h-2.2zM592.8 273.6h2.2v2.2h-2.2zM547.2 142.0h2.2v2.2h-2.2zM584.3 187.6h2.2v2.2h-2.2zM411.5 210.7h2.2v2.2h-2.2zM455.3 187.3h2.2v2.2h-2.2zM510.6 216.2h2.2v2.2h-2.2zM467.5 177.8h2.2v2.2h-2.2zM454.5 61.3h2.2v2.2h-2.2zM466.2 180.6h2.2v2.2h-2.2zM472.8 282.9h2.2v2.2h-2.2zM481.3 113.1h2.2v2.2h-2.2zM463.0 179.9h2.2v2.2h-2.2zM514.1 277.6h2.2v2.2h-2.2zM480.9 276.8h2.2v2.2h-2.2zM548.4 71.3h2.2v2.2h-2.2zM541.5 112.0h2.2v2.2h-2.2zM527.4 219.2h2.2v2.2h-2.2zM501.1 138.3h2.2v2.2h-2.2zM439.4 75.5h2.2v2.2h-2.2zM476.2 146.2h2.2v2.2h-2.2zM548.9 207.0h2.2v2.2h-2.2zM467.3 169.2h2.2v2.2h-2.2zM504.4 240.9h2.2v2.2h-2.2zM414.3 218.4h2.2v2.2h-2.2zM374.4 161.7h2.2v2.2h-2.2zM542.8 161.6h2.2v2.2h-2.2zM519.3 84.5h2.2v2.2h-2.2zM456.3 201.8h2.2v2.2h-2.2zM541.8 111.0h2.2v2.2h-2.2zM515.5 224.7h2.2v2.2h-2.2zM449.0 254.5h2.2v2.2h-2.2zM443.8 191.6h2.2v2.2h-2.2zM515.6 156.9h2.2v2.2h-2.2zM420.1 120.6h2.2v2.2h-2.2zM415.0 218.7h2.2v2.2h-2.2zM529.1 209.4h2.2v2.2h-2.2zM488.8 118.9h2.2v2.2h-2.2zM514.7 201.0h2.2v2.2h-2.2zM438.9 109.3h2.2v2.2h-2.2zM394.7 156.7h2.2v2.2h-2.2zM430.0 103.5h2.2v2.2h-2.2zM524.4 139.1h2.2v2.2h-2.2zM586.8 145.4h2.2v2.2h-2.2zM477.8 168.7h2.2v2.2h-2.2zM530.5 103.2h2.2v2.2h-2.2zM542.7 161.2h2.2v2.2h-2.2zM433.3 77.0h2.2v2.2h-2.2zM561.9 88.5h2.2v2.2h-2.2zM466.7 127.6h2.2v2.2h-2.2zM502.8 131.4h2.2v2.2h-2.2zM511.4 173.2h2.2v2.2h-2.2zM403.4 99.1h2.2v2.2h-2.2zM578.4 54.4h2.2v2.2h-2.2zM459.7 178.8h2.2v2.2h-2.2zM457.5 51.4h2.2v2.2h-2.2zM477.5 112.2h2.2v2.2h-2.2zM542.5 190.0h2.2v2.2h-2.2zM507.8 94.3h2.2v2.2h-2.2zM496.5 154.0h2.2v2.2h-2.2zM523.5 143.6h2.2v2.2h-2.2zM542.6 169.3h2.2v2.2h-2.2zM448.7 135.7h2.2v2.2h-2.2zM564.2 170.8h2.2v2.2h-2.2zM537.4 174.3h2.2v2.2h-2.2zM542.5 223.9h2.2v2.2h-2.2zM567.5 214.5h2.2v2.2h-2.2zM544.8 199.6h2.2v2.2h-2.2zM502.8 215.0h2.2v2.2h-2.2zM480.4 142.5h2.2v2.2h-2.2zM497.2 227.7h2.2v2.2h-2.2zM462.6 166.6h2.2v2.2h-2.2zM578.9 156.8h2.2v2.2h-2.2zM504.7 170.1h2.2v2.2h-2.2zM391.8 223.0h2.2v2.2h-2.2zM564.6 188.5h2.2v2.2h-2.2zM518.8 259.3h2.2v2.2h-2.2zM477.7 185.6h2.2v2.2h-2.2zM507.3 163.8h2.2v2.2h-2.2zM525.3 249.8h2.2v2.2h-2.2zM389.7 168.4h2.2v2.2h-2.2zM492.1 241.1h2.2v2.2h-2.2zM490.9 80.1h2.2v2.2h-2.2zM456.5 109.8h2.2v2.2h-2.2zM442.5 137.5h2.2v2.2h-2.2zM574.9 178.4h2.2v2.2h-2.2zM530.3 134.4h2.2v2.2h-2.2zM598.7 115.4h2.2v2.2h-2.2zM528.1 197.1h2.2v2.2h-2.2zM540.9 143.1h2.2v2.2h-2.2zM507.4 71.4h2.2v2.2h-2.2zM512.4 256.0h2.2v2.2h-2.2zM501.4 129.4h2.2v2.2h-2.2zM510.8 102.8h2.2v2.2h-2.2zM406.9 151.5h2.2v2.2h-2.2zM420.9 250.7h2.2v2.2h-2.2zM536.6 194.6h2.2v2.2h-2.2zM429.3 199.5h2.2v2.2h-2.2zM531.7 226.7h2.2v2.2h-2.2zM547.3 209.0h2.2v2.2h-2.2zM441.6 200.9h2.2v2.2h-2.2zM475.5 47.8h2.2v2.2h-2.2zM497.9 193.0h2.2v2.2h-2.2zM524.4 108.4h2.2v2.2h-2.2zM518.0 107.4h2.2v2.2h-2.2zM513.3 201.3h2.2v2.2h-2.2zM494.7 133.9h2.2v2.2h-2.2zM562.1 155.7h2.2v2.2h-2.2zM530.4 182.4h2.2v2.2h-2.2zM476.2 191.0h2.2v2.2h-2.2zM547.7 227.2h2.2v2.2h-2.2zM588.0 219.3h2.2v2.2h-2.2zM429.0 210.2h2.2v2.2h-2.2zM513.5 105.5h2.2v2.2h-2.2zM519.8 200.4h2.2v2.2h-2.2zM553.0 241.1h2.2v2.2h-2.2zM527.7 110.0h2.2v2.2h-2.2zM428.4 184.3h2.2v2.2h-2.2zM595.4 137.9h2.2v2.2h-2.2zM586.8 168.7h2.2v2.2h-2.2zM554.9 146.0h2.2v2.2h-2.2zM453.5 141.6h2.2v2.2h-2.2zM529.7 126.8h2.2v2.2h-2.2zM558.5 198.1h2.2v2.2h-2.2zM424.1 131.4h2.2v2.2h-2.2zM395.5 117.7h2.2v2.2h-2.2zM535.3 182.0h2.2v2.2h-2.2zM433.1 109.6h2.2v2.2h-2.2zM538.5 198.1h2.2v2.2h-2.2zM618.9 125.8h2.2v2.2h-2.2zM387.8 173.7h2.2v2.2h-2.2zM463.5 230.9h2.2v2.2h-2.2zM493.7 159.9h2.2v2.2h-2.2zM475.4 130.1h2.2v2.2h-2.2zM417.8 154.7h2.2v2.2h-2.2zM585.8 93.1h2.2v2.2h-2.2zM464.6 214.1h2.2v2.2h-2.2zM479.0 168.2h2.2v2.2h-2.2zM548.9 122.8h2.2v2.2h-2.2zM488.8 174.6h2.2v2.2h-2.2zM617.7 261.2h2.2v2.2h-2.2zM577.2 250.8h2.2v2.2h-2.2zM524.4 164.4h2.2v2.2h-2.2zM481.5 180.8h2.2v2.2h-2.2zM590.7 109.9h2.2v2.2h-2.2zM458.0 141.9h2.2v2.2h-2.2zM593.8 119.7h2.2v2.2h-2.2zM398.7 146.0h2.2v2.2h-2.2zM426.9 76.6h2.2v2.2h-2.2zM531.5 152.5h2.2v2.2h-2.2zM480.2 182.4h2.2v2.2h-2.2zM582.9 235.5h2.2v2.2h-2.2zM410.6 151.7h2.2v2.2h-2.2zM533.4 46.8h2.2v2.2h-2.2zM502.5 254.3h2.2v2.2h-2.2zM472.7 91.2h2.2v2.2h-2.2zM475.5 178.0h2.2v2.2h-2.2zM413.4 131.9h2.2v2.2h-2.2zM570.6 214.3h2.2v2.2h-2.2zM480.9 110.1h2.2v2.2h-2.2zM535.8 207.8h2.2v2.2h-2.2zM468.5 128.8h2.2v2.2h-2.2zM464.7 196.4h2.2v2.2h-2.2zM417.0 197.2h2.2v2.2h-2.2zM451.7 246.8h2.2v2.2h-2.2zM525.7 213.6h2.2v2.2h-2.2zM522.1 96.0h2.2v2.2h-2.2zM575.6 147.0h2.2v2.2h-2.2zM556.6 186.4h2.2v2.2h-2.2zM554.1 132.4h2.2v2.2h-2.2zM503.3 179.3h2.2v2.2h-2.2zM502.9 265.2h2.2v2.2h-2.2zM587.1 172.1h2.2v2.2h-2.2zM571.9 147.1h2.2v2.2h-2.2zM473.9 74.8h2.2v2.2h-2.2zM487.0 228.1h2.2v2.2h-2.2zM524.6 100.1h2.2v2.2h-2.2zM529.3 146.5h2.2v2.2h-2.2zM397.3 155.5h2.2v2.2h-2.2zM478.9 120.4h2.2v2.2h-2.2zM594.9 131.3h2.2v2.2h-2.2zM443.7 222.4h2.2v2.2h-2.2zM615.3 137.4h2.2v2.2h-2.2zM544.6 124.2h2.2v2.2h-2.2zM536.4 117.9h2.2v2.2h-2.2zM444.2 196.4h2.2v2.2h-2.2zM538.9 238.0h2.2v2.2h-2.2zM555.1 185.4h2.2v2.2h-2.2zM383.0 97.3h2.2v2.2h-2.2zM610.5 219.1h2.2v2.2h-2.2zM560.1 196.2h2.2v2.2h-2.2zM457.8 160.4h2.2v2.2h-2.2zM575.7 193.4h2.2v2.2h-2.2zM532.5 66.8h2.2v2.2h-2.2zM454.3 248.4h2.2v2.2h-2.2zM524.1 161.1h2.2v2.2h-2.2zM481.6 208.1h2.2v2.2h-2.2zM499.9 233.2h2.2v2.2h-2.2zM580.1 146.4h2.2v2.2h-2.2zM529.5 254.3h2.2v2.2h-2.2zM592.7 125.2h2.2v2.2h-2.2zM441.4 87.3h2.2v2.2h-2.2zM537.7 153.6h2.2v2.2h-2.2zM450.6 170.5h2.2v2.2h-2.2zM610.7 176.3h2.2v2.2h-2.2zM531.6 215.0h2.2v2.2h-2.2zM574.9 180.4h2.2v2.2h-2.2zM454.5 136.1h2.2v2.2h-2.2zM572.4 182.5h2.2v2.2h-2.2zM409.7 116.0h2.2v2.2h-2.2zM584.3 66.6h2.2v2.2h-2.2zM480.9 131.9h2.2v2.2h-2.2zM562.4 165.5h2.2v2.2h-2.2zM497.8 107.6h2.2v2.2h-2.2zM441.6 105.9h2.2v2.2h-2.2zM459.1 174.3h2.2v2.2h-2.2zM578.4 103.9h2.2v2.2h-2.2zM518.7 203.3h2.2v2.2h-2.2zM545.7 177.3h2.2v2.2h-2.2zM553.5 237.5h2.2v2.2h-2.2zM506.3 209.3h2.2v2.2h-2.2zM531.7 74.3h2.2v2.2h-2.2zM482.5 271.5h2.2v2.2h-2.2zM498.7 216.6h2.2v2.2h-2.2zM538.6 109.3h2.2v2.2h-2.2zM517.4 89.1h2.2v2.2h-2.2zM560.6 103.8h2.2v2.2h-2.2zM497.2 133.7h2.2v2.2h-2.2zM614.2 96.8h2.2v2.2h-2.2zM586.5 151.4h2.2v2.2h-2.2zM537.1 269.3h2.2v2.2h-2.2zM588.3 184.6h2.2v2.2h-2.2zM546.6 279.2h2.2v2.2h-2.2zM480.5 137.0h2.2v2.2h-2.2zM482.4 197.4h2.2v2.2h-2.2zM479.6 183.5h2.2v2.2h-2.2zM424.6 106.9h2.2v2.2h-2.2zM474.1 117.7h2.2v2.2h-2.2zM490.1 165.1h2.2v2.2h-2.2zM497.5 150.7h2.2v2.2h-2.2zM554.0 183.7h2.2v2.2h-2.2zM401.3 189.4h2.2v2.2h-2.2zM487.8 203.6h2.2v2.2h-2.2zM551.6 232.5h2.2v2.2h-2.2zM447.5 236.2h2.2v2.2h-2.2zM473.7 103.4h2.2v2.2h-2.2zM441.4 168.4h2.2v2.2h-2.2zM457.1 80.2h2.2v2.2h-2.2zM536.3 150.2h2.2v2.2h-2.2zM512.0 170.1h2.2v2.2h-2.2zM594.3 99.0h2.2v2.2h-2.2zM549.2 76.5h2.2v2.2h-2.2zM467.9 47.9h2.2v2.2h-2.2zM445.7 142.3h2.2v2.2h-2.2zM538.8 153.8h2.2v2.2h-2.2zM386.8 108.1h2.2v2.2h-2.2zM454.6 202.4h2.2v2.2h-2.2zM530.1 210.1h2.2v2.2h-2.2zM396.8 156.6h2.2v2.2h-2.2zM492.3 132.3h2.2v2.2h-2.2zM585.2 175.0h2.2v2.2h-2.2zM523.2 138.5h2.2v2.2h-2.2zM492.6 82.7h2.2v2.2h-2.2zM550.9 86.3h2.2v2.2h-2.2zM609.6 187.8h2.2v2.2h-2.2zM484.5 66.7h2.2v2.2h-2.2zM510.9 258.3h2.2v2.2h-2.2zM509.3 110.4h2.2v2.2h-2.2zM614.2 155.5h2.2v2.2h-2.2zM443.6 208.3h2.2v2.2h-2.2zM537.2 87.0h2.2v2.2h-2.2zM530.3 62.2h2.2v2.2h-2.2zM384.8 219.8h2.2v2.2h-2.2zM512.4 76.2h2.2v2.2h-2.2zM557.3 162.6h2.2v2.2h-2.2zM464.9 214.0h2.2v2.2h-2.2zM413.0 109.5h2.2v2.2h-2.2zM577.9 151.0h2.2v2.2h-2.2zM548.1 231.4h2.2v2.2h-2.2zM495.5 198.6h2.2v2.2h-2.2zM391.7 203.0h2.2v2.2h-2.2zM605.0 105.5h2.2v2.2h-2.2zM587.5 171.1h2.2v2.2h-2.2zM566.8 169.9h2.2v2.2h-2.2zM465.2 126.3h2.2v2.2h-2.2zM572.5 191.2h2.2v2.2h-2.2zM485.1 79.0h2.2v2.2h-2.2zM511.1 164.6h2.2v2.2h-2.2zM497.3 128.5h2.2v2.2h-2.2zM505.2 165.4h2.2v2.2h-2.2zM517.4 104.5h2.2v2.2h-2.2zM525.7 86.3h2.2v2.2h-2.2zM445.7 197.3h2.2v2.2h-2.2zM597.8 137.2h2.2v2.2h-2.2zM439.8 199.9h2.2v2.2h-2.2zM422.6 177.8h2.2v2.2h-2.2zM555.1 194.0h2.2v2.2h-2.2zM518.6 174.7h2.2v2.2h-2.2zM380.2 182.7h2.2v2.2h-2.2zM413.0 148.9h2.2v2.2h-2.2zM473.2 112.3h2.2v2.2h-2.2zM431.3 225.3h2.2v2.2h-2.2zM454.9 124.2h2.2v2.2h-2.2zM547.9 262.2h2.2v2.2h-2.2zM531.8 225.0h2.2v2.2h-2.2zM444.3 182.2h2.2v2.2h-2.2zM489.2 152.5h2.2v2.2h-2.2zM562.2 210.1h2.2v2.2h-2.2zM422.6 142.9h2.2v2.2h-2.2zM500.9 130.6h2.2v2.2h-2.2zM555.1 151.7h2.2v2.2h-2.2zM561.5 93.7h2.2v2.2h-2.2zM494.2 158.9h2.2v2.2h-2.2zM503.9 154.1h2.2v2.2h-2.2zM501.5 184.0h2.2v2.2h-2.2zM490.3 198.3h2.2v2.2h-2.2zM530.7 204.6h2.2v2.2h-2.2zM597.2 169.3h2.2v2.2h-2.2zM528.3 203.2h2.2v2.2h-2.2zM466.3 123.7h2.2v2.2h-2.2zM566.7 185.3h2.2v2.2h-2.2zM484.6 164.2h2.2v2.2h-2.2zM506.7 114.9h2.2v2.2h-2.2zM496.3 151.4h2.2v2.2h-2.2zM537.3 183.4h2.2v2.2h-2.2zM472.2 138.5h2.2v2.2h-2.2zM573.2 151.6h2.2v2.2h-2.2zM566.3 209.8h2.2v2.2h-2.2zM451.6 188.2h2.2v2.2h-2.2zM487.1 126.4h2.2v2.2h-2.2zM423.4 234.0h2.2v2.2h-2.2zM609.0 167.2h2.2v2.2h-2.2zM534.6 197.6h2.2v2.2h-2.2zM486.5 186.9h2.2v2.2h-2.2zM525.6 219.3h2.2v2.2h-2.2zM611.7 224.0h2.2v2.2h-2.2zM454.8 196.4h2.2v2.2h-2.2zM412.6 95.0h2.2v2.2h-2.2zM506.0 282.5h2.2v2.2h-2.2zM498.0 66.5h2.2v2.2h-2.2zM544.0 102.7h2.2v2.2h-2.2zM523.2 104.9h2.2v2.2h-2.2zM494.9 279.5h2.2v2.2h-2.2zM557.4 217.7h2.2v2.2h-2.2zM528.9 155.1h2.2v2.2h-2.2zM571.0 226.8h2.2v2.2h-2.2zM524.3 159.7h2.2v2.2h-2.2zM450.4 218.8h2.2v2.2h-2.2zM481.8 183.3h2.2v2.2h-2.2zM584.9 185.6h2.2v2.2h-2.2zM517.3 157.6h2.2v2.2h-2.2zM520.6 92.8h2.2v2.2h-2.2zM411.3 103.2h2.2v2.2h-2.2zM568.8 171.8h2.2v2.2h-2.2zM563.9 187.3h2.2v2.2h-2.2zM562.1 215.4h2.2v2.2h-2.2zM483.5 174.1h2.2v2.2h-2.2zM552.9 124.0h2.2v2.2h-2.2zM535.9 131.3h2.2v2.2h-2.2zM530.8 229.2h2.2v2.2h-2.2zM413.8 180.1h2.2v2.2h-2.2zM563.7 123.3h2.2v2.2h-2.2zM492.8 161.5h2.2v2.2h-2.2zM551.6 138.5h2.2v2.2h-2.2zM444.1 221.0h2.2v2.2h-2.2zM454.1 147.1h2.2v2.2h-2.2zM396.8 160.9h2.2v2.2h-2.2zM522.8 182.5h2.2v2.2h-2.2zM546.5 184.4h2.2v2.2h-2.2zM453.8 160.9h2.2v2.2h-2.2zM580.7 70.6h2.2v2.2h-2.2zM513.0 247.0h2.2v2.2h-2.2zM528.5 219.4h2.2v2.2h-2.2zM434.0 126.7h2.2v2.2h-2.2zM383.3 100.3h2.2v2.2h-2.2zM446.5 129.0h2.2v2.2h-2.2zM494.5 194.9h2.2v2.2h-2.2zM528.8 76.8h2.2v2.2h-2.2zM492.4 236.9h2.2v2.2h-2.2zM529.6 102.0h2.2v2.2h-2.2zM503.2 212.3h2.2v2.2h-2.2zM516.1 185.5h2.2v2.2h-2.2zM508.8 185.6h2.2v2.2h-2.2zM390.9 199.9h2.2v2.2h-2.2zM473.1 190.4h2.2v2.2h-2.2zM509.9 250.2h2.2v2.2h-2.2zM611.2 170.8h2.2v2.2h-2.2zM540.9 138.9h2.2v2.2h-2.2zM500.1 101.2h2.2v2.2h-2.2zM551.6 76.2h2.2v2.2h-2.2zM559.8 112.4h2.2v2.2h-2.2zM580.5 200.2h2.2v2.2h-2.2zM467.2 269.0h2.2v2.2h-2.2zM383.8 82.7h2.2v2.2h-2.2zM460.4 111.8h2.2v2.2h-2.2zM532.2 76.9h2.2v2.2h-2.2zM472.3 128.6h2.2v2.2h-2.2zM483.9 55.1h2.2v2.2h-2.2zM418.8 99.6h2.2v2.2h-2.2zM544.9 80.6h2.2v2.2h-2.2zM419.8 88.5h2.2v2.2h-2.2zM528.1 229.9h2.2v2.2h-2.2zM520.0 73.8h2.2v2.2h-2.2zM560.7 143.8h2.2v2.2h-2.2zM496.8 118.9h2.2v2.2h-2.2zM398.7 167.3h2.2v2.2h-2.2zM498.8 202.5h2.2v2.2h-2.2zM506.7 115.2h2.2v2.2h-2.2zM395.0 86.4h2.2v2.2h-2.2zM545.8 212.8h2.2v2.2h-2.2zM557.4 100.0h2.2v2.2h-2.2zM546.3 108.8h2.2v2.2h-2.2zM540.0 168.2h2.2v2.2h-2.2zM445.1 278.3h2.2v2.2h-2.2zM567.6 185.9h2.2v2.2h-2.2zM421.7 226.2h2.2v2.2h-2.2zM452.5 152.0h2.2v2.2h-2.2zM463.4 184.6h2.2v2.2h-2.2zM439.3 206.1h2.2v2.2h-2.2zM485.0 106.0h2.2v2.2h-2.2zM538.2 138.8h2.2v2.2h-2.2zM483.8 127.4h2.2v2.2h-2.2zM407.0 115.4h2.2v2.2h-2.2zM597.8 102.4h2.2v2.2h-2.2zM496.5 101.6h2.2v2.2h-2.2zM494.3 175.3h2.2v2.2h-2.2zM516.9 57.1h2.2v2.2h-2.2zM458.8 155.6h2.2v2.2h-2.2zM477.1 143.4h2.2v2.2h-2.2zM562.8 67.8h2.2v2.2h-2.2zM465.8 186.8h2.2v2.2h-2.2zM491.8 125.2h2.2v2.2h-2.2zM447.8 48.1h2.2v2.2h-2.2zM494.8 91.8h2.2v2.2h-2.2zM554.4 138.4h2.2v2.2h-2.2zM504.2 60.3h2.2v2.2h-2.2zM505.6 218.8h2.2v2.2h-2.2zM503.0 242.5h2.2v2.2h-2.2zM471.2 217.7h2.2v2.2h-2.2zM531.9 128.1h2.2v2.2h-2.2zM470.4 120.9h2.2v2.2h-2.2zM489.3 117.4h2.2v2.2h-2.2zM567.3 129.8h2.2v2.2h-2.2zM494.6 86.9h2.2v2.2h-2.2zM536.1 274.0h2.2v2.2h-2.2zM496.2 74.2h2.2v2.2h-2.2zM471.3 161.2h2.2v2.2h-2.2zM514.2 117.0h2.2v2.2h-2.2zM565.3 138.0h2.2v2.2h-2.2zM479.7 125.7h2.2v2.2h-2.2zM555.8 207.8h2.2v2.2h-2.2zM478.6 98.7h2.2v2.2h-2.2zM524.6 209.5h2.2v2.2h-2.2zM409.4 167.5h2.2v2.2h-2.2zM545.9 170.5h2.2v2.2h-2.2zM593.7 129.3h2.2v2.2h-2.2zM455.2 100.5h2.2v2.2h-2.2zM540.6 179.5h2.2v2.2h-2.2zM469.8 136.2h2.2v2.2h-2.2zM466.6 161.2h2.2v2.2h-2.2zM438.2 114.9h2.2v2.2h-2.2zM561.5 119.5h2.2v2.2h-2.2zM449.7 220.1h2.2v2.2h-2.2zM526.0 224.8h2.2v2.2h-2.2zM401.6 67.9h2.2v2.2h-2.2zM565.8 204.7h2.2v2.2h-2.2zM491.4 123.0h2.2v2.2h-2.2zM542.9 167.4h2.2v2.2h-2.2zM506.6 160.5h2.2v2.2h-2.2zM478.9 150.8h2.2v2.2h-2.2zM416.6 125.4h2.2v2.2h-2.2zM500.3 235.8h2.2v2.2h-2.2zM617.9 183.0h2.2v2.2h-2.2zM478.7 104.3h2.2v2.2h-2.2zM439.1 147.3h2.2v2.2h-2.2zM482.5 72.3h2.2v2.2h-2.2zM462.1 281.9h2.2v2.2h-2.2zM489.4 184.1h2.2v2.2h-2.2zM501.3 221.1h2.2v2.2h-2.2zM457.0 134.1h2.2v2.2h-2.2zM509.4 171.9h2.2v2.2h-2.2zM416.7 211.9h2.2v2.2h-2.2zM528.9 175.2h2.2v2.2h-2.2zM487.3 168.7h2.2v2.2h-2.2zM483.3 69.7h2.2v2.2h-2.2zM559.8 144.6h2.2v2.2h-2.2zM471.4 40.0h2.2v2.2h-2.2zM481.9 184.0h2.2v2.2h-2.2zM548.4 133.2h2.2v2.2h-2.2zM429.0 157.2h2.2v2.2h-2.2zM444.4 104.2h2.2v2.2h-2.2zM502.6 250.5h2.2v2.2h-2.2zM602.2 201.2h2.2v2.2h-2.2zM426.4 186.4h2.2v2.2h-2.2zM581.3 166.0h2.2v2.2h-2.2zM527.3 181.5h2.2v2.2h-2.2zM496.8 191.0h2.2v2.2h-2.2zM589.8 155.3h2.2v2.2h-2.2zM476.4 100.0h2.2v2.2h-2.2zM532.4 165.1h2.2v2.2h-2.2zM447.1 89.3h2.2v2.2h-2.2zM520.1 84.9h2.2v2.2h-2.2zM489.8 223.6h2.2v2.2h-2.2zM457.4 245.9h2.2v2.2h-2.2zM478.2 242.2h2.2v2.2h-2.2zM494.4 144.3h2.2v2.2h-2.2zM421.7 108.4h2.2v2.2h-2.2zM484.3 238.0h2.2v2.2h-2.2zM412.9 181.1h2.2v2.2h-2.2zM501.7 170.0h2.2v2.2h-2.2zM528.8 218.2h2.2v2.2h-2.2zM537.3 46.1h2.2v2.2h-2.2zM464.8 139.3h2.2v2.2h-2.2zM470.5 78.4h2.2v2.2h-2.2zM504.4 47.3h2.2v2.2h-2.2zM581.7 214.7h2.2v2.2h-2.2zM456.1 154.8h2.2v2.2h-2.2zM532.9 123.2h2.2v2.2h-2.2zM518.7 95.2h2.2v2.2h-2.2zM534.6 160.9h2.2v2.2h-2.2zM544.6 173.2h2.2v2.2h-2.2zM530.2 216.4h2.2v2.2h-2.2zM597.5 105.1h2.2v2.2h-2.2zM576.0 94.1h2.2v2.2h-2.2zM618.2 128.7h2.2v2.2h-2.2zM526.2 135.4h2.2v2.2h-2.2zM527.2 222.4h2.2v2.2h-2.2zM391.8 223.3h2.2v2.2h-2.2zM540.6 180.9h2.2v2.2h-2.2zM612.4 168.7h2.2v2.2h-2.2zM566.7 260.3h2.2v2.2h-2.2zM600.7 186.0h2.2v2.2h-2.2zM492.2 91.7h2.2v2.2h-2.2zM579.3 111.4h2.2v2.2h-2.2zM495.9 143.7h2.2v2.2h-2.2zM550.6 154.1h2.2v2.2h-2.2zM546.1 131.5h2.2v2.2h-2.2zM534.1 215.9h2.2v2.2h-2.2zM502.8 146.8h2.2v2.2h-2.2zM567.7 199.9h2.2v2.2h-2.2zM460.3 144.2h2.2v2.2h-2.2zM475.5 136.3h2.2v2.2h-2.2zM512.1 171.9h2.2v2.2h-2.2zM472.9 234.7h2.2v2.2h-2.2zM410.6 131.0h2.2v2.2h-2.2zM562.2 150.9h2.2v2.2h-2.2zM417.4 200.1h2.2v2.2h-2.2zM459.7 144.0h2.2v2.2h-2.2zM484.6 180.1h2.2v2.2h-2.2zM453.7 148.9h2.2v2.2h-2.2zM588.8 165.7h2.2v2.2h-2.2zM446.0 231.6h2.2v2.2h-2.2zM515.8 237.4h2.2v2.2h-2.2zM392.5 142.3h2.2v2.2h-2.2zM519.6 195.5h2.2v2.2h-2.2zM567.8 174.5h2.2v2.2h-2.2zM509.0 122.5h2.2v2.2h-2.2zM570.2 178.0h2.2v2.2h-2.2zM476.3 231.5h2.2v2.2h-2.2zM447.3 51.1h2.2v2.2h-2.2zM479.6 220.2h2.2v2.2h-2.2zM602.5 122.0h2.2v2.2h-2.2zM517.4 87.0h2.2v2.2h-2.2zM503.8 120.3h2.2v2.2h-2.2zM418.1 58.1h2.2v2.2h-2.2zM606.5 197.7h2.2v2.2h-2.2zM530.7 182.4h2.2v2.2h-2.2zM493.0 202.7h2.2v2.2h-2.2zM553.4 135.7h2.2v2.2h-2.2zM526.3 164.8h2.2v2.2h-2.2zM557.9 173.8h2.2v2.2h-2.2zM609.0 179.3h2.2v2.2h-2.2zM500.1 235.1h2.2v2.2h-2.2zM556.9 195.3h2.2v2.2h-2.2zM468.5 192.1h2.2v2.2h-2.2zM577.7 180.3h2.2v2.2h-2.2zM530.9 150.2h2.2v2.2h-2.2zM425.2 176.0h2.2v2.2h-2.2zM481.5 35.3h2.2v2.2h-2.2zM600.1 238.4h2.2v2.2h-2.2zM523.7 175.5h2.2v2.2h-2.2zM443.7 137.7h2.2v2.2h-2.2zM516.2 61.6h2.2v2.2h-2.2zM554.2 206.1h2.2v2.2h-2.2zM503.8 81.5h2.2v2.2h-2.2zM526.6 191.5h2.2v2.2h-2.2zM517.4 233.3h2.2v2.2h-2.2zM537.1 198.0h2.2v2.2h-2.2zM576.0 247.6h2.2v2.2h-2.2zM450.5 177.6h2.2v2.2h-2.2zM410.7 120.1h2.2v2.2h-2.2zM571.6 164.7h2.2v2.2h-2.2zM585.9 149.5h2.2v2.2h-2.2zM586.8 106.5h2.2v2.2h-2.2zM450.4 117.7h2.2v2.2h-2.2zM560.2 131.1h2.2v2.2h-2.2zM412.4 202.9h2.2v2.2h-2.2zM437.3 248.0h2.2v2.2h-2.2zM547.8 181.9h2.2v2.2h-2.2zM417.0 70.1h2.2v2.2h-2.2zM505.9 170.1h2.2v2.2h-2.2zM547.7 82.0h2.2v2.2h-2.2zM478.3 190.3h2.2v2.2h-2.2zM506.2 68.1h2.2v2.2h-2.2zM448.7 151.5h2.2v2.2h-2.2z" fill="#39a7d0"/></g><path d="M431.0,58.5 C434.0,57.9 434.3,55.5 437.0,54.4 C439.7,53.3 443.6,52.4 447.3,52.0 C451.1,51.6 455.8,51.7 459.5,52.3 C463.2,52.9 466.3,54.2 469.7,55.4 C473.1,56.6 476.5,58.5 479.9,59.5 C483.3,60.5 486.6,61.0 490.0,61.5 C493.4,62.0 496.3,62.0 500.0,62.5 C503.7,63.0 508.1,63.6 512.2,64.6 C516.3,65.6 520.3,67.1 524.4,68.6 C528.5,70.1 532.9,71.8 536.6,73.7 C540.3,75.6 543.7,77.9 546.8,79.8 C549.9,81.7 552.3,83.5 555.0,84.9 C557.7,86.4 560.3,87.5 563.0,88.5 C565.7,89.5 568.1,89.6 571.2,91.0 C574.3,92.4 578.7,94.7 581.4,97.1 C584.1,99.5 585.8,102.6 587.5,105.3 C589.2,108.0 590.8,110.7 591.6,113.4 C592.5,116.1 592.1,119.3 592.6,121.5 C593.1,123.7 593.6,124.8 594.5,126.5 C595.4,128.2 596.8,129.1 597.7,131.7 C598.6,134.3 599.4,138.2 599.7,141.9 C600.0,145.6 599.9,150.2 599.7,154.1 C599.5,157.9 598.8,161.5 598.5,165.0 C598.2,168.5 598.0,171.8 598.2,175.0 C598.4,178.2 599.3,181.1 599.7,184.4 C600.1,187.7 600.7,191.2 600.7,194.6 C600.7,198.0 600.6,202.1 599.7,204.8 C598.9,207.5 597.3,209.0 595.6,210.9 C593.9,212.8 591.9,214.3 589.5,216.0 C587.1,217.7 584.1,219.5 581.4,221.0 C578.7,222.5 575.7,223.7 573.3,225.1 C570.9,226.5 568.7,227.7 567.2,229.2 C565.7,230.7 565.2,231.6 564.5,234.0 C563.8,236.4 563.8,240.6 563.2,243.4 C562.6,246.2 561.8,248.4 560.7,251.0 C559.7,253.6 558.4,256.6 556.9,258.7 C555.4,260.8 553.7,262.6 551.8,263.8 C549.9,265.0 547.5,265.5 545.4,265.7 C543.3,265.9 541.2,265.8 539.1,265.0 C537.0,264.2 534.6,262.9 532.7,261.2 C530.8,259.5 529.1,256.8 527.6,254.9 C526.1,253.0 525.1,251.4 523.8,249.8 C522.5,248.2 521.9,246.3 520.0,245.5 C518.1,244.7 514.9,245.5 512.2,245.0 C509.6,244.5 506.4,243.6 504.1,242.5 C501.8,241.4 500.2,239.9 498.2,238.3 C496.1,236.8 493.7,235.1 491.8,233.2 C489.9,231.3 488.4,229.2 486.7,226.9 C485.0,224.6 483.1,221.9 481.6,219.3 C480.1,216.8 479.3,213.9 477.8,211.6 C476.3,209.3 474.4,207.6 472.7,205.3 C471.0,203.0 468.9,200.2 467.6,197.6 C466.3,195.0 465.8,192.3 465.0,190.0 C464.2,187.7 463.6,186.2 462.9,183.6 C462.2,181.0 461.6,177.7 461.0,174.7 C460.4,171.7 459.9,168.6 459.1,165.8 C458.4,163.1 457.6,160.2 456.5,158.2 C455.4,156.2 454.6,154.4 452.7,153.7 C450.8,153.0 448.6,154.4 445.3,154.1 C442.0,153.8 437.4,153.2 433.0,152.0 C428.6,150.8 423.5,149.0 418.8,147.0 C414.1,145.0 408.7,142.5 404.6,139.9 C400.5,137.3 397.5,134.8 394.4,131.7 C391.3,128.6 388.2,124.9 386.2,121.5 C384.2,118.1 383.0,115.1 382.2,111.4 C381.4,107.7 381.0,103.3 381.2,99.2 C381.4,95.1 382.0,91.1 383.2,87.0 C384.4,82.9 386.1,78.3 388.3,74.7 C390.5,71.1 393.3,68.0 396.4,65.6 C399.4,63.2 402.9,61.8 406.6,60.5 C410.3,59.2 414.7,58.3 418.8,58.0 C422.9,57.7 428.0,59.1 431.0,58.5 Z" fill="#bdb0f5"/><path d="M443.0,71.0 C437.7,70.1 440.7,71.3 438.2,71.6 C435.7,71.9 431.2,72.1 428.0,72.9 C424.8,73.8 421.7,74.8 419.1,76.7 C416.6,78.6 414.4,81.3 412.7,84.3 C411.0,87.3 409.8,91.1 408.9,94.5 C408.0,97.9 407.6,101.3 407.6,104.7 C407.6,108.1 408.1,111.6 409.0,115.0 C409.9,118.4 411.2,121.8 412.7,125.0 C414.2,128.2 415.8,131.2 418.0,134.0 C420.2,136.8 422.5,139.6 426.0,142.0 C429.5,144.4 434.8,146.8 439.0,148.5 C443.2,150.2 448.1,150.9 451.0,152.5 C453.9,154.1 455.1,155.4 456.5,158.0 C457.9,160.6 458.6,164.3 459.5,168.0 C460.4,171.7 460.9,176.0 462.0,180.0 C463.1,184.0 464.3,188.3 466.0,192.0 C467.7,195.7 469.7,198.7 472.0,202.0 C474.3,205.3 476.7,208.7 480.0,212.0 C483.3,215.3 487.8,219.0 492.0,222.0 C496.2,225.0 500.3,228.0 505.0,230.0 C509.7,232.0 514.2,233.7 520.0,234.0 C525.8,234.3 533.3,234.0 540.0,232.0 C546.7,230.0 554.2,227.3 560.0,222.0 C565.8,216.7 571.7,210.3 575.0,200.0 C578.3,189.7 580.0,173.3 580.0,160.0 C580.0,146.7 578.3,130.0 575.0,120.0 C571.7,110.0 567.5,105.0 560.0,100.0 C552.5,95.0 540.0,92.5 530.0,90.0 C520.0,87.5 510.0,87.2 500.0,85.0 C490.0,82.8 479.5,79.3 470.0,77.0 C460.5,74.7 448.3,71.9 443.0,71.0 Z" fill="#c2a6e6"/><path d="M431.0,59.5 C432.3,58.6 431.2,60.2 433.0,61.0 C434.8,61.8 438.6,63.1 442.0,64.0 C445.4,64.9 449.8,65.8 453.4,66.5 C457.0,67.2 460.6,67.6 463.6,68.4 C466.6,69.2 468.5,70.8 471.2,71.6 C473.9,72.4 475.2,72.4 480.0,73.5 C484.8,74.6 493.9,77.0 500.0,78.0 C506.1,79.0 510.9,79.1 516.3,79.8 C521.7,80.5 527.5,81.4 532.6,81.9 C537.7,82.4 542.7,82.3 546.8,82.9 C550.9,83.5 553.6,83.6 557.0,85.3 C560.4,87.0 563.7,89.7 567.0,93.0 C570.3,96.3 573.9,100.9 577.0,105.0 C580.1,109.1 583.2,113.7 585.5,117.5 C587.8,121.3 589.2,124.2 590.6,127.6 C592.0,131.0 593.0,132.4 593.6,137.8 C594.2,143.2 594.1,151.3 594.0,160.0 C593.9,168.7 594.5,181.7 593.0,190.0 C591.5,198.3 588.8,204.7 585.0,210.0 C581.2,215.3 575.0,218.3 570.0,222.0 C565.0,225.7 561.7,229.7 555.0,232.0 C548.3,234.3 538.3,236.0 530.0,236.0 C521.7,236.0 511.7,234.3 505.0,232.0 C498.3,229.7 494.5,226.5 490.0,222.0 C485.5,217.5 481.3,210.7 478.0,205.0 C474.7,199.3 472.3,194.2 470.0,188.0 C467.7,181.8 466.0,174.0 464.0,168.0 C462.0,162.0 460.8,156.3 458.0,152.0 C455.2,147.7 451.2,146.0 447.0,142.0 C442.8,138.0 436.6,131.7 433.0,128.0 C429.4,124.3 427.7,122.4 425.4,120.0 C423.1,117.6 420.8,116.1 419.1,113.6 C417.4,111.0 416.2,107.9 415.3,104.7 C414.4,101.5 414.0,97.9 414.0,94.5 C414.0,91.1 414.4,87.5 415.3,84.3 C416.2,81.1 417.4,78.4 419.1,75.4 C420.8,72.4 423.4,69.2 425.4,66.5 C427.4,63.9 429.7,60.4 431.0,59.5 Z" fill="#8e8ed0"/><path d="M431.0,58.5 C431.5,57.3 434.3,55.5 437.0,54.4 C439.7,53.3 443.6,52.4 447.3,52.0 C451.1,51.6 455.8,51.7 459.5,52.3 C463.2,52.9 466.3,54.2 469.7,55.4 C473.1,56.6 476.5,58.5 479.9,59.5 C483.3,60.5 486.6,61.0 490.0,61.5 C493.4,62.0 496.3,62.0 500.0,62.5 C503.7,63.0 508.1,63.6 512.2,64.6 C516.3,65.6 520.3,67.1 524.4,68.6 C528.5,70.1 532.9,71.8 536.6,73.7 C540.3,75.6 543.6,77.9 546.8,79.8 C550.0,81.7 556.0,84.5 556.0,85.0 C556.0,85.5 550.7,83.4 546.8,82.9 C542.9,82.4 537.7,82.4 532.6,81.9 C527.5,81.4 521.7,80.5 516.3,79.8 C510.9,79.1 506.1,79.0 500.0,78.0 C493.9,77.0 484.8,74.6 480.0,73.5 C475.2,72.4 473.9,72.4 471.2,71.6 C468.5,70.8 466.6,69.2 463.6,68.4 C460.6,67.6 457.0,67.2 453.4,66.5 C449.8,65.8 445.2,64.8 442.0,64.0 C438.8,63.2 435.8,62.4 434.0,61.5 C432.2,60.6 430.5,59.7 431.0,58.5 Z" fill="#8acca8"/><path d="M552.0,83.6 C551.3,82.8 554.2,84.1 556.0,84.9 C557.8,85.7 560.5,87.5 563.0,88.5 C565.5,89.5 568.1,89.6 571.2,91.0 C574.3,92.4 578.7,94.7 581.4,97.1 C584.1,99.5 585.8,102.6 587.5,105.3 C589.2,108.0 590.8,110.7 591.6,113.4 C592.5,116.1 592.3,118.7 592.6,121.5 C592.9,124.3 594.3,128.1 593.5,130.0 C592.7,131.9 589.9,134.0 588.0,133.0 C586.1,132.0 583.8,128.2 582.0,124.0 C580.2,119.8 580.0,112.5 577.5,108.0 C575.0,103.5 570.0,100.0 567.1,97.0 C564.2,94.0 562.5,92.2 560.0,90.0 C557.5,87.8 552.7,84.4 552.0,83.6 Z" fill="#aea6ec"/><path d="M439.3,77.1 C440.2,74.1 441.9,70.8 444.5,69.3 C447.1,67.8 451.6,67.6 454.9,68.0 C458.1,68.4 461.2,69.7 464.0,71.9 C466.8,74.1 469.4,77.8 471.8,81.0 C474.2,84.2 476.4,88.8 478.3,91.4 C480.2,94.0 484.9,95.3 483.5,96.6 C482.1,97.9 474.8,98.1 470.0,99.0 C465.2,99.9 459.2,101.1 455.0,102.0 C450.8,102.9 446.9,105.1 444.5,104.4 C442.1,103.7 441.5,100.7 440.6,97.9 C439.7,95.1 439.5,91.0 439.3,87.5 C439.1,84.0 438.4,80.1 439.3,77.1 Z" fill="#7a8ad0"/><path d="M589.0,127.0 C589.2,124.8 593.0,125.7 594.5,126.5 C596.0,127.3 596.8,129.1 597.7,131.7 C598.6,134.3 599.4,138.2 599.7,141.9 C600.0,145.6 599.9,150.2 599.7,154.1 C599.5,157.9 598.8,161.5 598.5,165.0 C598.2,168.5 598.0,171.8 598.2,175.0 C598.4,178.2 599.3,181.1 599.7,184.4 C600.1,187.7 600.7,191.2 600.7,194.6 C600.7,198.0 600.6,202.1 599.7,204.8 C598.9,207.5 597.3,209.0 595.6,210.9 C593.9,212.8 591.9,214.3 589.5,216.0 C587.1,217.7 584.1,219.5 581.4,221.0 C578.7,222.5 575.7,223.7 573.3,225.1 C570.9,226.5 568.4,229.0 567.2,229.2 C566.0,229.3 564.0,228.7 566.0,226.0 C568.0,223.3 575.2,218.2 579.0,213.0 C582.8,207.8 586.8,203.0 589.0,195.0 C591.2,187.0 591.3,174.2 592.0,165.0 C592.7,155.8 593.5,146.3 593.0,140.0 C592.5,133.7 588.8,129.2 589.0,127.0 Z" fill="#98cad8"/><path d="M581.0,126.0 C582.2,122.8 586.2,129.0 588.0,131.0 C589.8,133.0 591.0,134.8 592.0,138.0 C593.0,141.2 593.6,144.7 594.0,150.0 C594.4,155.3 594.5,164.1 594.4,170.0 C594.3,175.9 594.3,181.2 593.4,185.5 C592.5,189.8 590.8,192.4 589.2,195.8 C587.6,199.2 586.0,202.7 584.0,206.1 C582.0,209.5 579.1,213.4 576.9,216.5 C574.7,219.6 572.6,222.1 570.7,224.7 C568.8,227.3 566.8,231.1 565.5,232.0 C564.2,232.9 562.8,231.2 563.0,230.0 C563.2,228.8 565.2,227.8 566.5,224.7 C567.8,221.6 569.2,216.1 570.7,211.3 C572.2,206.5 574.4,202.7 575.8,195.8 C577.2,188.9 578.1,177.6 579.0,170.0 C579.9,162.4 580.7,157.3 581.0,150.0 C581.3,142.7 579.8,129.2 581.0,126.0 Z" fill="#42a0a2"/><path d="M498.0,219.0 C498.3,218.7 503.3,223.8 506.0,226.0 C508.7,228.2 511.3,230.3 514.0,232.0 C516.7,233.7 519.3,235.0 522.0,236.0 C524.7,237.0 529.7,237.0 530.0,238.0 C530.3,239.0 526.0,241.4 524.0,242.0 C522.0,242.6 520.2,242.7 518.0,241.5 C515.8,240.3 513.3,237.2 511.0,235.0 C508.7,232.8 506.2,230.7 504.0,228.0 C501.8,225.3 497.7,219.3 498.0,219.0 Z" fill="#d96aa6"/><path d="M516.0,238.5 C516.8,237.8 520.8,239.8 524.0,240.0 C527.2,240.2 531.0,240.1 535.0,240.0 C539.0,239.9 544.3,240.2 548.0,239.5 C551.7,238.8 554.4,237.6 557.0,236.0 C559.6,234.4 562.2,230.0 563.5,230.0 C564.8,230.0 565.0,233.8 565.0,236.0 C565.0,238.2 563.9,240.9 563.2,243.4 C562.5,245.9 561.8,248.4 560.7,251.0 C559.7,253.6 558.4,256.6 556.9,258.7 C555.4,260.8 553.7,262.6 551.8,263.8 C549.9,265.0 547.5,265.5 545.4,265.7 C543.3,265.9 541.2,265.8 539.1,265.0 C537.0,264.2 534.6,262.9 532.7,261.2 C530.8,259.5 529.1,256.8 527.6,254.9 C526.1,253.0 525.1,251.5 523.8,249.8 C522.4,248.1 520.8,246.4 519.5,244.5 C518.2,242.6 515.2,239.2 516.0,238.5 Z" fill="#ee7ad8"/><path d="M434.3,107.6 C434.4,106.6 435.4,105.4 438.2,104.7 C441.0,104.0 447.1,103.8 450.9,103.4 C454.7,103.0 457.6,102.7 461.0,102.1 C464.4,101.5 468.0,100.2 471.2,99.6 C474.4,99.0 475.2,98.7 480.0,98.3 C484.8,97.9 493.3,96.8 500.0,97.1 C506.7,97.4 513.6,99.2 520.4,100.2 C527.2,101.2 534.6,102.0 540.7,103.2 C546.8,104.4 552.6,105.6 557.0,107.3 C561.4,109.0 564.2,111.0 567.2,113.4 C570.2,115.8 573.1,118.5 575.3,121.5 C577.5,124.5 579.3,127.8 580.4,131.7 C581.5,135.6 581.6,140.3 581.8,145.0 C582.0,149.7 581.8,155.0 581.5,160.0 C581.2,165.0 580.8,170.0 580.0,175.0 C579.2,180.0 578.3,185.0 577.0,190.0 C575.7,195.0 573.7,200.3 572.0,205.0 C570.3,209.7 569.0,213.8 567.0,218.0 C565.0,222.2 563.2,226.8 560.0,230.0 C556.8,233.2 552.2,236.0 548.0,237.5 C543.8,239.0 539.3,239.2 535.0,239.0 C530.7,238.8 526.2,237.7 522.0,236.0 C517.8,234.3 513.8,231.7 510.0,229.0 C506.2,226.3 502.7,223.2 499.0,220.0 C495.3,216.8 491.5,213.7 488.0,210.0 C484.5,206.3 481.0,202.3 478.0,198.0 C475.0,193.7 472.2,189.0 470.0,184.0 C467.8,179.0 466.5,173.7 465.0,168.0 C463.5,162.3 462.5,155.5 461.0,150.0 C459.5,144.5 457.3,139.7 456.0,135.0 C454.7,130.3 454.1,125.5 453.0,122.0 C451.9,118.5 451.0,115.8 449.6,114.0 C448.2,112.2 446.5,111.6 444.5,111.0 C442.5,110.4 439.2,111.1 437.5,110.5 C435.8,109.9 434.2,108.6 434.3,107.6 Z" fill="#a957c9"/><path d="M490.0,205.0 C491.2,204.6 494.5,209.7 497.0,212.0 C499.5,214.3 502.3,216.7 505.0,219.0 C507.7,221.3 510.2,223.7 513.0,226.0 C515.8,228.3 518.8,230.9 522.0,233.0 C525.2,235.1 529.3,237.3 532.0,238.5 C534.7,239.7 538.7,239.3 538.0,240.0 C537.3,240.7 531.0,241.9 528.0,242.5 C525.0,243.1 522.4,244.0 520.3,243.4 C518.1,242.8 517.0,240.4 515.1,239.0 C513.2,237.6 511.0,236.3 509.0,234.7 C507.0,233.1 505.0,231.1 503.0,229.5 C501.0,227.9 498.5,226.8 496.9,225.2 C495.3,223.6 494.5,221.8 493.4,220.0 C492.2,218.2 490.6,217.2 490.0,214.7 C489.4,212.2 488.8,205.4 490.0,205.0 Z" fill="#c460b4"/><path d="M464.5,150.5 C464.9,148.2 464.4,147.4 466.2,147.0 C467.9,146.6 472.1,146.7 475.0,147.9 C477.9,149.1 481.4,150.9 483.7,154.0 C486.0,157.1 487.8,161.8 489.0,166.2 C490.2,170.6 490.1,175.8 490.7,180.2 C491.3,184.6 491.3,188.6 492.4,192.4 C493.4,196.2 494.9,199.7 497.0,203.0 C499.1,206.3 502.0,208.8 505.0,212.0 C508.0,215.2 511.7,219.0 515.0,222.0 C518.3,225.0 521.8,227.5 525.0,230.0 C528.2,232.5 534.8,236.0 534.0,237.0 C533.2,238.0 524.6,237.8 520.0,236.0 C515.4,234.2 510.1,228.7 506.4,226.0 C502.7,223.3 500.6,221.8 497.7,220.0 C494.8,218.2 491.9,217.2 489.0,215.2 C486.1,213.2 482.8,211.1 480.2,208.2 C477.6,205.3 475.2,201.2 473.2,197.7 C471.2,194.2 469.4,191.0 468.0,187.2 C466.6,183.4 465.2,179.4 464.5,175.0 C463.8,170.6 463.6,165.1 463.6,161.0 C463.6,156.9 464.1,152.8 464.5,150.5 Z" fill="#ac62c0"/><path d="M566.0,148.0 C567.2,145.0 570.0,142.8 572.0,142.0 C574.0,141.2 576.3,141.7 578.0,143.0 C579.7,144.3 581.2,146.3 582.0,150.0 C582.8,153.7 582.5,159.2 582.5,165.0 C582.5,170.8 582.4,178.3 582.0,185.0 C581.6,191.7 581.0,199.5 580.0,205.0 C579.0,210.5 577.7,215.2 576.0,218.0 C574.3,220.8 571.7,222.5 570.0,222.0 C568.3,221.5 566.8,219.5 566.0,215.0 C565.2,210.5 565.2,201.7 565.0,195.0 C564.8,188.3 564.5,180.8 564.5,175.0 C564.5,169.2 564.8,164.5 565.0,160.0 C565.2,155.5 564.8,151.0 566.0,148.0 Z" fill="#a26ac6"/><path d="M453.0,140.0 C453.0,143.0 455.2,146.7 456.0,150.0 C456.8,153.3 457.3,156.3 458.0,160.0 C458.7,163.7 459.3,168.3 460.0,172.0 C460.7,175.7 461.3,179.0 462.0,182.0 C462.7,185.0 462.8,188.3 464.0,190.0 C465.2,191.7 468.5,193.7 469.0,192.0 C469.5,190.3 467.5,184.5 467.0,180.0 C466.5,175.5 466.3,169.7 466.0,165.0 C465.7,160.3 465.8,156.2 465.0,152.0 C464.2,147.8 462.5,143.3 461.0,140.0 C459.5,136.7 457.3,132.0 456.0,132.0 C454.7,132.0 453.0,137.0 453.0,140.0 Z" fill="#e264aa"/><path d="M459.5,176.0 C458.8,177.3 460.8,182.6 461.5,185.0 C462.2,187.4 462.3,187.8 463.5,190.5 C464.7,193.2 466.6,197.7 468.5,201.0 C470.4,204.3 473.4,209.0 475.0,210.5 C476.6,212.0 476.5,209.8 478.0,210.0 C479.5,210.2 482.0,210.8 484.0,211.5 C486.0,212.2 489.2,215.1 490.0,214.5 C490.8,213.9 490.0,210.4 489.0,208.0 C488.0,205.6 485.8,202.7 484.0,200.0 C482.2,197.3 480.0,194.7 478.0,192.0 C476.0,189.3 474.0,186.5 472.0,184.0 C470.0,181.5 468.1,178.3 466.0,177.0 C463.9,175.7 460.2,174.7 459.5,176.0 Z" fill="#5ba88c"/><path d="M474.0,206.0 C474.2,205.7 475.4,208.1 477.0,209.0 C478.6,209.9 481.7,210.4 483.9,211.3 C486.1,212.2 488.4,213.2 490.0,214.7 C491.6,216.1 492.2,218.2 493.4,220.0 C494.5,221.8 495.3,223.6 496.9,225.2 C498.5,226.8 501.0,227.9 503.0,229.5 C505.0,231.1 507.0,233.1 509.0,234.7 C511.0,236.3 513.2,237.6 515.1,239.0 C517.0,240.4 518.9,242.2 520.3,243.4 C521.7,244.6 524.2,245.5 523.5,246.0 C522.8,246.5 518.4,246.4 516.0,246.2 C513.6,246.0 511.2,245.6 509.0,244.9 C506.8,244.2 504.7,243.5 502.5,242.3 C500.3,241.2 498.1,239.7 496.0,238.0 C493.9,236.3 491.9,234.1 490.0,232.0 C488.1,229.9 486.2,227.8 484.5,225.5 C482.8,223.2 481.5,220.9 480.0,218.5 C478.5,216.1 476.5,213.1 475.5,211.0 C474.5,208.9 473.8,206.3 474.0,206.0 Z" fill="#ac9f50"/><mask id="env1" maskUnits="userSpaceOnUse" x="0" y="0" width="692" height="629"><path d="M431.0,58.5 C434.0,57.9 434.3,55.5 437.0,54.4 C439.7,53.3 443.6,52.4 447.3,52.0 C451.1,51.6 455.8,51.7 459.5,52.3 C463.2,52.9 466.3,54.2 469.7,55.4 C473.1,56.6 476.5,58.5 479.9,59.5 C483.3,60.5 486.6,61.0 490.0,61.5 C493.4,62.0 496.3,62.0 500.0,62.5 C503.7,63.0 508.1,63.6 512.2,64.6 C516.3,65.6 520.3,67.1 524.4,68.6 C528.5,70.1 532.9,71.8 536.6,73.7 C540.3,75.6 543.7,77.9 546.8,79.8 C549.9,81.7 552.3,83.5 555.0,84.9 C557.7,86.4 560.3,87.5 563.0,88.5 C565.7,89.5 568.1,89.6 571.2,91.0 C574.3,92.4 578.7,94.7 581.4,97.1 C584.1,99.5 585.8,102.6 587.5,105.3 C589.2,108.0 590.8,110.7 591.6,113.4 C592.5,116.1 592.1,119.3 592.6,121.5 C593.1,123.7 593.6,124.8 594.5,126.5 C595.4,128.2 596.8,129.1 597.7,131.7 C598.6,134.3 599.4,138.2 599.7,141.9 C600.0,145.6 599.9,150.2 599.7,154.1 C599.5,157.9 598.8,161.5 598.5,165.0 C598.2,168.5 598.0,171.8 598.2,175.0 C598.4,178.2 599.3,181.1 599.7,184.4 C600.1,187.7 600.7,191.2 600.7,194.6 C600.7,198.0 600.6,202.1 599.7,204.8 C598.9,207.5 597.3,209.0 595.6,210.9 C593.9,212.8 591.9,214.3 589.5,216.0 C587.1,217.7 584.1,219.5 581.4,221.0 C578.7,222.5 575.7,223.7 573.3,225.1 C570.9,226.5 568.7,227.7 567.2,229.2 C565.7,230.7 565.2,231.6 564.5,234.0 C563.8,236.4 563.8,240.6 563.2,243.4 C562.6,246.2 561.8,248.4 560.7,251.0 C559.7,253.6 558.4,256.6 556.9,258.7 C555.4,260.8 553.7,262.6 551.8,263.8 C549.9,265.0 547.5,265.5 545.4,265.7 C543.3,265.9 541.2,265.8 539.1,265.0 C537.0,264.2 534.6,262.9 532.7,261.2 C530.8,259.5 529.1,256.8 527.6,254.9 C526.1,253.0 525.1,251.4 523.8,249.8 C522.5,248.2 521.9,246.3 520.0,245.5 C518.1,244.7 514.9,245.5 512.2,245.0 C509.6,244.5 506.4,243.6 504.1,242.5 C501.8,241.4 500.2,239.9 498.2,238.3 C496.1,236.8 493.7,235.1 491.8,233.2 C489.9,231.3 488.4,229.2 486.7,226.9 C485.0,224.6 483.1,221.9 481.6,219.3 C480.1,216.8 479.3,213.9 477.8,211.6 C476.3,209.3 474.4,207.6 472.7,205.3 C471.0,203.0 468.9,200.2 467.6,197.6 C466.3,195.0 465.8,192.3 465.0,190.0 C464.2,187.7 463.6,186.2 462.9,183.6 C462.2,181.0 461.6,177.7 461.0,174.7 C460.4,171.7 459.9,168.6 459.1,165.8 C458.4,163.1 457.6,160.2 456.5,158.2 C455.4,156.2 454.6,154.4 452.7,153.7 C450.8,153.0 448.6,154.4 445.3,154.1 C442.0,153.8 437.4,153.2 433.0,152.0 C428.6,150.8 423.5,149.0 418.8,147.0 C414.1,145.0 408.7,142.5 404.6,139.9 C400.5,137.3 397.5,134.8 394.4,131.7 C391.3,128.6 388.2,124.9 386.2,121.5 C384.2,118.1 383.0,115.1 382.2,111.4 C381.4,107.7 381.0,103.3 381.2,99.2 C381.4,95.1 382.0,91.1 383.2,87.0 C384.4,82.9 386.1,78.3 388.3,74.7 C390.5,71.1 393.3,68.0 396.4,65.6 C399.4,63.2 402.9,61.8 406.6,60.5 C410.3,59.2 414.7,58.3 418.8,58.0 C422.9,57.7 428.0,59.1 431.0,58.5 Z" fill="#fff"/><path d="M434.3,107.6 C434.4,106.6 435.4,105.4 438.2,104.7 C441.0,104.0 447.1,103.8 450.9,103.4 C454.7,103.0 457.6,102.7 461.0,102.1 C464.4,101.5 468.0,100.2 471.2,99.6 C474.4,99.0 475.2,98.7 480.0,98.3 C484.8,97.9 493.3,96.8 500.0,97.1 C506.7,97.4 513.6,99.2 520.4,100.2 C527.2,101.2 534.6,102.0 540.7,103.2 C546.8,104.4 552.6,105.6 557.0,107.3 C561.4,109.0 564.2,111.0 567.2,113.4 C570.2,115.8 573.1,118.5 575.3,121.5 C577.5,124.5 579.3,127.8 580.4,131.7 C581.5,135.6 581.6,140.3 581.8,145.0 C582.0,149.7 581.8,155.0 581.5,160.0 C581.2,165.0 580.8,170.0 580.0,175.0 C579.2,180.0 578.3,185.0 577.0,190.0 C575.7,195.0 573.7,200.3 572.0,205.0 C570.3,209.7 569.0,213.8 567.0,218.0 C565.0,222.2 563.2,226.8 560.0,230.0 C556.8,233.2 552.2,236.0 548.0,237.5 C543.8,239.0 539.3,239.2 535.0,239.0 C530.7,238.8 526.2,237.7 522.0,236.0 C517.8,234.3 513.8,231.7 510.0,229.0 C506.2,226.3 502.7,223.2 499.0,220.0 C495.3,216.8 491.5,213.7 488.0,210.0 C484.5,206.3 481.0,202.3 478.0,198.0 C475.0,193.7 472.2,189.0 470.0,184.0 C467.8,179.0 466.5,173.7 465.0,168.0 C463.5,162.3 462.5,155.5 461.0,150.0 C459.5,144.5 457.3,139.7 456.0,135.0 C454.7,130.3 454.1,125.5 453.0,122.0 C451.9,118.5 451.0,115.8 449.6,114.0 C448.2,112.2 446.5,111.6 444.5,111.0 C442.5,110.4 439.2,111.1 437.5,110.5 C435.8,109.9 434.2,108.6 434.3,107.6 Z" fill="#000"/><path d="M490.0,205.0 C491.2,204.6 494.5,209.7 497.0,212.0 C499.5,214.3 502.3,216.7 505.0,219.0 C507.7,221.3 510.2,223.7 513.0,226.0 C515.8,228.3 518.8,230.9 522.0,233.0 C525.2,235.1 529.3,237.3 532.0,238.5 C534.7,239.7 538.7,239.3 538.0,240.0 C537.3,240.7 531.0,241.9 528.0,242.5 C525.0,243.1 522.4,244.0 520.3,243.4 C518.1,242.8 517.0,240.4 515.1,239.0 C513.2,237.6 511.0,236.3 509.0,234.7 C507.0,233.1 505.0,231.1 503.0,229.5 C501.0,227.9 498.5,226.8 496.9,225.2 C495.3,223.6 494.5,221.8 493.4,220.0 C492.2,218.2 490.6,217.2 490.0,214.7 C489.4,212.2 488.8,205.4 490.0,205.0 Z" fill="#000"/><path d="M464.5,150.5 C464.9,148.2 464.4,147.4 466.2,147.0 C467.9,146.6 472.1,146.7 475.0,147.9 C477.9,149.1 481.4,150.9 483.7,154.0 C486.0,157.1 487.8,161.8 489.0,166.2 C490.2,170.6 490.1,175.8 490.7,180.2 C491.3,184.6 491.3,188.6 492.4,192.4 C493.4,196.2 494.9,199.7 497.0,203.0 C499.1,206.3 502.0,208.8 505.0,212.0 C508.0,215.2 511.7,219.0 515.0,222.0 C518.3,225.0 521.8,227.5 525.0,230.0 C528.2,232.5 534.8,236.0 534.0,237.0 C533.2,238.0 524.6,237.8 520.0,236.0 C515.4,234.2 510.1,228.7 506.4,226.0 C502.7,223.3 500.6,221.8 497.7,220.0 C494.8,218.2 491.9,217.2 489.0,215.2 C486.1,213.2 482.8,211.1 480.2,208.2 C477.6,205.3 475.2,201.2 473.2,197.7 C471.2,194.2 469.4,191.0 468.0,187.2 C466.6,183.4 465.2,179.4 464.5,175.0 C463.8,170.6 463.6,165.1 463.6,161.0 C463.6,156.9 464.1,152.8 464.5,150.5 Z" fill="#000"/><path d="M566.0,148.0 C567.2,145.0 570.0,142.8 572.0,142.0 C574.0,141.2 576.3,141.7 578.0,143.0 C579.7,144.3 581.2,146.3 582.0,150.0 C582.8,153.7 582.5,159.2 582.5,165.0 C582.5,170.8 582.4,178.3 582.0,185.0 C581.6,191.7 581.0,199.5 580.0,205.0 C579.0,210.5 577.7,215.2 576.0,218.0 C574.3,220.8 571.7,222.5 570.0,222.0 C568.3,221.5 566.8,219.5 566.0,215.0 C565.2,210.5 565.2,201.7 565.0,195.0 C564.8,188.3 564.5,180.8 564.5,175.0 C564.5,169.2 564.8,164.5 565.0,160.0 C565.2,155.5 564.8,151.0 566.0,148.0 Z" fill="#000"/></mask><g opacity="0.42" mask="url(#env1)"><use href="#dots1"/></g><path d="M455.0,100.0 C460.0,95.5 476.2,97.2 488.0,97.7 C499.8,98.2 515.4,99.8 526.0,102.8 C536.6,105.8 544.5,110.0 551.8,115.5 C559.1,121.0 565.4,129.1 569.6,135.9 C573.9,142.7 576.0,148.7 577.3,156.3 C578.6,163.9 578.6,173.6 577.3,181.7 C576.0,189.8 573.0,198.2 569.6,204.6 C566.2,211.0 562.1,216.1 557.0,219.9 C551.9,223.7 546.0,226.7 539.0,227.5 C532.0,228.3 522.3,227.6 515.0,225.0 C507.7,222.4 500.8,217.0 495.0,212.0 C489.2,207.0 484.2,201.2 480.0,195.0 C475.8,188.8 472.8,182.5 470.0,175.0 C467.2,167.5 465.0,158.3 463.0,150.0 C461.0,141.7 459.3,133.3 458.0,125.0 C456.7,116.7 450.0,104.5 455.0,100.0 Z" fill="none" stroke="#ce9032" stroke-width="0.9" stroke-opacity="0.75"/><path d="M440.0,98.0 C445.0,97.0 459.2,92.8 470.0,92.0 C480.8,91.2 493.3,92.0 505.0,93.0 C516.7,94.0 530.0,94.8 540.0,98.0 C550.0,101.2 558.3,105.8 565.0,112.0 C571.7,118.2 576.5,126.2 580.0,135.0 C583.5,143.8 585.5,155.0 586.0,165.0 C586.5,175.0 585.3,186.7 583.0,195.0 C580.7,203.3 576.7,209.2 572.0,215.0 C567.3,220.8 562.0,226.5 555.0,230.0 C548.0,233.5 538.3,235.7 530.0,236.0 C521.7,236.3 512.0,234.7 505.0,232.0 C498.0,229.3 493.0,225.3 488.0,220.0 C483.0,214.7 478.8,207.5 475.0,200.0 C471.2,192.5 467.8,184.2 465.0,175.0 C462.2,165.8 460.5,154.2 458.0,145.0 C455.5,135.8 451.3,124.2 450.0,120.0" fill="none" stroke="#f77189" stroke-width="0.9" stroke-opacity="0.75"/><path d="M445.0,103.0 C450.8,101.7 467.5,96.2 480.0,95.0 C492.5,93.8 507.5,94.3 520.0,96.0 C532.5,97.7 545.8,100.2 555.0,105.0 C564.2,109.8 570.0,117.5 575.0,125.0 C580.0,132.5 583.2,140.8 585.0,150.0 C586.8,159.2 587.2,170.8 586.0,180.0 C584.8,189.2 582.0,197.5 578.0,205.0 C574.0,212.5 568.3,219.8 562.0,225.0 C555.7,230.2 547.8,234.2 540.0,236.0 C532.2,237.8 522.5,237.8 515.0,236.0 C507.5,234.2 500.8,229.7 495.0,225.0 C489.2,220.3 484.2,214.7 480.0,208.0 C475.8,201.3 473.0,193.0 470.0,185.0 C467.0,177.0 464.5,169.2 462.0,160.0 C459.5,150.8 456.2,135.0 455.0,130.0" fill="none" stroke="#36ada4" stroke-width="0.9" stroke-opacity="0.75"/><path d="M466.0,146.0 C467.7,146.2 473.5,146.3 476.0,147.0 C478.5,147.7 479.4,148.2 481.2,150.0 C483.0,151.8 485.3,155.3 486.8,158.0 C488.3,160.7 489.3,163.3 490.0,165.9 C490.7,168.5 490.4,171.2 490.8,173.8 C491.2,176.5 491.3,179.4 492.4,181.8 C493.4,184.2 495.0,186.3 497.1,188.2 C499.2,190.1 502.0,190.2 505.0,193.0 C508.0,195.8 511.2,200.2 515.0,205.0 C518.8,209.8 523.8,216.8 528.0,222.0 C532.2,227.2 538.0,233.7 540.0,236.0" fill="none" stroke="#8a86e6" stroke-width="0.9" stroke-opacity="0.75"/><path d="M468.0,140.0 C469.4,141.7 474.3,145.0 476.5,150.0 C478.7,155.0 479.8,164.6 481.2,169.9 C482.6,175.2 483.9,178.5 485.2,181.8 C486.5,185.1 487.6,187.0 489.2,189.7 C490.8,192.3 492.1,194.3 494.7,197.7 C497.3,201.1 500.8,205.3 505.0,210.0 C509.2,214.7 515.0,221.3 520.0,226.0 C525.0,230.7 532.5,236.0 535.0,238.0" fill="none" stroke="#36ada4" stroke-width="0.9" stroke-opacity="0.75"/><path d="M466.0,138.0 C466.6,140.0 468.1,145.3 469.3,150.0 C470.5,154.7 472.0,161.3 473.3,165.9 C474.6,170.5 476.0,173.8 477.3,177.8 C478.6,181.8 479.6,186.0 481.2,189.7 C482.8,193.4 484.7,196.6 487.0,200.0 C489.3,203.4 493.7,208.3 495.0,210.0" fill="none" stroke="#ce9032" stroke-width="0.9" stroke-opacity="0.75"/><path d="M462.0,165.0 C462.8,165.8 464.1,167.4 466.9,169.9 C469.7,172.4 474.8,177.8 478.8,180.2 C482.8,182.6 486.4,182.7 490.8,184.2 C495.2,185.7 499.3,186.4 505.0,189.0 C510.7,191.6 518.3,195.7 525.0,200.0 C531.7,204.3 541.7,212.5 545.0,215.0" fill="none" stroke="#f77189" stroke-width="0.9" stroke-opacity="0.75"/><path d="M566.0,148.0 C567.2,145.0 570.0,142.8 572.0,142.0 C574.0,141.2 576.3,141.7 578.0,143.0 C579.7,144.3 581.2,146.3 582.0,150.0 C582.8,153.7 582.5,159.2 582.5,165.0 C582.5,170.8 582.4,178.3 582.0,185.0 C581.6,191.7 581.0,199.5 580.0,205.0 C579.0,210.5 577.7,215.2 576.0,218.0 C574.3,220.8 571.7,222.5 570.0,222.0 C568.3,221.5 566.8,219.5 566.0,215.0 C565.2,210.5 565.2,201.7 565.0,195.0 C564.8,188.3 564.5,180.8 564.5,175.0 C564.5,169.2 564.8,164.5 565.0,160.0 C565.2,155.5 564.8,151.0 566.0,148.0 Z" fill="none" stroke="#a48cf4" stroke-width="0.9" stroke-opacity="0.75"/><path d="M438.2,71.6 C436.5,71.8 431.2,72.1 428.0,72.9 C424.8,73.8 421.7,74.8 419.1,76.7 C416.6,78.6 414.4,81.3 412.7,84.3 C411.0,87.3 409.8,91.1 408.9,94.5 C408.0,97.9 407.5,101.5 407.6,104.7 C407.7,107.9 408.4,110.8 409.5,113.6 C410.6,116.3 412.4,119.1 414.0,121.2 C415.6,123.3 416.3,124.0 419.0,126.3 C421.7,128.6 425.7,132.2 430.0,135.0 C434.3,137.8 440.8,140.5 445.0,143.0 C449.2,145.5 453.3,148.8 455.0,150.0" fill="none" stroke="#f77189" stroke-width="0.9" stroke-opacity="0.75"/><path d="M431.0,58.5 C430.1,59.8 427.4,63.7 425.4,66.5 C423.4,69.3 420.8,72.4 419.1,75.4 C417.4,78.4 416.2,81.1 415.3,84.3 C414.4,87.5 414.0,91.1 414.0,94.5 C414.0,97.9 414.4,101.5 415.3,104.7 C416.2,107.9 417.4,111.0 419.1,113.6 C420.8,116.1 423.1,117.8 425.4,120.0 C427.7,122.2 429.7,124.3 433.0,127.0 C436.3,129.7 441.3,133.0 445.0,136.0 C448.7,139.0 453.3,143.5 455.0,145.0" fill="none" stroke="#32b166" stroke-width="0.9" stroke-opacity="0.75"/><path d="M426.0,95.0 C427.8,94.2 429.3,91.3 431.0,91.0 C432.7,90.7 435.0,91.5 436.0,93.0 C437.0,94.5 437.2,97.5 437.0,100.0 C436.8,102.5 436.2,105.7 435.0,108.0 C433.8,110.3 431.8,113.0 430.0,114.0 C428.2,115.0 426.0,114.8 424.0,114.0 C422.0,113.2 419.2,111.2 418.0,109.0 C416.8,106.8 416.7,103.2 417.0,101.0 C417.3,98.8 418.5,97.0 420.0,96.0 C421.5,95.0 424.2,95.8 426.0,95.0 Z" fill="none" stroke="#ce9032" stroke-width="0.9" stroke-opacity="0.75"/><path d="M440.0,84.0 C443.0,82.7 447.2,81.7 450.0,82.0 C452.8,82.3 455.7,83.7 457.0,86.0 C458.3,88.3 458.3,92.7 458.0,96.0 C457.7,99.3 456.7,103.0 455.0,106.0 C453.3,109.0 450.8,112.3 448.0,114.0 C445.2,115.7 441.0,116.3 438.0,116.0 C435.0,115.7 431.7,114.3 430.0,112.0 C428.3,109.7 427.7,105.7 428.0,102.0 C428.3,98.3 430.0,93.0 432.0,90.0 C434.0,87.0 437.0,85.3 440.0,84.0 Z" fill="none" stroke="#36ada4" stroke-width="0.9" stroke-opacity="0.75"/><path d="M433.0,68.0 C435.3,67.7 441.7,65.3 447.0,66.0 C452.3,66.7 459.8,68.8 465.0,72.0 C470.2,75.2 474.2,81.8 478.0,85.0 C481.8,88.2 483.5,89.8 488.0,91.0 C492.5,92.2 500.2,92.0 505.0,92.0 C509.8,92.0 511.2,91.3 517.0,91.0 C522.8,90.7 532.8,89.3 540.0,90.0 C547.2,90.7 556.7,94.2 560.0,95.0" fill="none" stroke="#39a7d0" stroke-width="0.9" stroke-opacity="0.75"/><clipPath id="mag1"><path d="M434.3,107.6 C434.4,106.6 435.4,105.4 438.2,104.7 C441.0,104.0 447.1,103.8 450.9,103.4 C454.7,103.0 457.6,102.7 461.0,102.1 C464.4,101.5 468.0,100.2 471.2,99.6 C474.4,99.0 475.2,98.7 480.0,98.3 C484.8,97.9 493.3,96.8 500.0,97.1 C506.7,97.4 513.6,99.2 520.4,100.2 C527.2,101.2 534.6,102.0 540.7,103.2 C546.8,104.4 552.6,105.6 557.0,107.3 C561.4,109.0 564.2,111.0 567.2,113.4 C570.2,115.8 573.1,118.5 575.3,121.5 C577.5,124.5 579.3,127.8 580.4,131.7 C581.5,135.6 581.6,140.3 581.8,145.0 C582.0,149.7 581.8,155.0 581.5,160.0 C581.2,165.0 580.8,170.0 580.0,175.0 C579.2,180.0 578.3,185.0 577.0,190.0 C575.7,195.0 573.7,200.3 572.0,205.0 C570.3,209.7 569.0,213.8 567.0,218.0 C565.0,222.2 563.2,226.8 560.0,230.0 C556.8,233.2 552.2,236.0 548.0,237.5 C543.8,239.0 539.3,239.2 535.0,239.0 C530.7,238.8 526.2,237.7 522.0,236.0 C517.8,234.3 513.8,231.7 510.0,229.0 C506.2,226.3 502.7,223.2 499.0,220.0 C495.3,216.8 491.5,213.7 488.0,210.0 C484.5,206.3 481.0,202.3 478.0,198.0 C475.0,193.7 472.2,189.0 470.0,184.0 C467.8,179.0 466.5,173.7 465.0,168.0 C463.5,162.3 462.5,155.5 461.0,150.0 C459.5,144.5 457.3,139.7 456.0,135.0 C454.7,130.3 454.1,125.5 453.0,122.0 C451.9,118.5 451.0,115.8 449.6,114.0 C448.2,112.2 446.5,111.6 444.5,111.0 C442.5,110.4 439.2,111.1 437.5,110.5 C435.8,109.9 434.2,108.6 434.3,107.6 Z"/></clipPath><g clip-path="url(#mag1)"><line x1="371.7" y1="31.8" x2="628.0" y2="286.9" stroke="#5a3a6a" stroke-opacity="0.45" stroke-width="0.7" stroke-dasharray="1.2 1.6"/><line x1="371.7" y1="286.9" x2="628.0" y2="31.8" stroke="#5a3a6a" stroke-opacity="0.45" stroke-width="0.7" stroke-dasharray="1.2 1.6"/></g></g>
<rect x="371.7" y="31.8" width="256.3" height="255.09999999999997" fill="none" stroke="#0f2d40" stroke-width="2"/>
<g font-size="8.9" fill="#1a1a1a" stroke="#1a1a1a" stroke-width="0.18"><text x="371.10" y="297.70" text-anchor="middle">−1.00</text><text x="368.10" y="290.30" text-anchor="end">−1.00</text><text x="402.60" y="297.70" text-anchor="middle">−0.75</text><text x="368.10" y="260.10" text-anchor="end">−0.75</text><text x="432.70" y="297.70" text-anchor="middle">−0.50</text><text x="368.10" y="227.70" text-anchor="end">−0.50</text><text x="466.20" y="297.70" text-anchor="middle">−0.25</text><text x="368.10" y="195.30" text-anchor="end">−0.25</text><text x="498.90" y="297.70" text-anchor="middle">0.00</text><text x="368.10" y="161.90" text-anchor="end">0.00</text><text x="532.00" y="297.70" text-anchor="middle">0.25</text><text x="368.10" y="129.30" text-anchor="end">0.25</text><text x="565.00" y="297.70" text-anchor="middle">0.50</text><text x="368.10" y="97.50" text-anchor="end">0.50</text><text x="597.60" y="297.70" text-anchor="middle">0.75</text><text x="368.10" y="65.70" text-anchor="end">0.75</text><text x="627.20" y="297.70" text-anchor="middle">1.00</text><text x="368.10" y="33.80" text-anchor="end">1.00</text></g>
<text x="502.35" y="27" font-size="8.8" text-anchor="middle" fill="#1a1a1a" stroke="#1a1a1a" stroke-width="0.18">ISOPleasant</text>
<text x="344.2" y="153.5" font-size="8.9" text-anchor="middle" fill="#1a1a1a" stroke="#1a1a1a" stroke-width="0.18" transform="rotate(-90 344.2 153.5)">ISOEventful</text>
<text x="500" y="313.7" font-size="11.5" text-anchor="middle" fill="#111">European countries</text>
<g font-size="7" fill="#1a1a1a" stroke="#1a1a1a" stroke-width="0.15"><rect x="632" y="35.60" width="16.8" height="7" fill="#f77189"/><text x="632.2" y="52.20">Dutch(n=864)</text><rect x="632" y="56.67" width="16.8" height="7" fill="#ce9032"/><text x="632.2" y="73.27">Italian(n=810)</text><rect x="632" y="77.74" width="16.8" height="7" fill="#97a431"/><text x="632.2" y="94.34">English(n=864)</text><rect x="632" y="98.81" width="16.8" height="7" fill="#32b166"/><text x="632.2" y="115.41">German(n=810)</text><rect x="632" y="119.88" width="16.8" height="7" fill="#36ada4"/><text x="632.2" y="136.48">Croatian(n=864)</text><rect x="632" y="140.95" width="16.8" height="7" fill="#39a7d0"/><text x="632.2" y="157.55">Greek(n=810)</text><rect x="632" y="162.02" width="16.8" height="7" fill="#a48cf4"/><text x="632.2" y="178.62">Spanish(n=783)</text><rect x="632" y="183.09" width="16.8" height="7" fill="#f561dd"/><text x="632.2" y="199.69">Swedish(n=945)</text></g>
<clipPath id="c2"><rect x="373.0" y="339.3" width="255.79999999999995" height="255.90000000000003"/></clipPath>
<rect x="373.0" y="339.3" width="255.79999999999995" height="255.90000000000003" fill="#fff"/>
<g><line x1="373.00" y1="339.3" x2="373.00" y2="595.2" stroke="#e2e2e2" stroke-width="0.7"/><line x1="373.0" y1="595.20" x2="628.8" y2="595.20" stroke="#e2e2e2" stroke-width="0.7"/><line x1="379.39" y1="339.3" x2="379.39" y2="595.2" stroke="#efefef" stroke-width="0.7"/><line x1="373.0" y1="588.80" x2="628.8" y2="588.80" stroke="#efefef" stroke-width="0.7"/><line x1="385.79" y1="339.3" x2="385.79" y2="595.2" stroke="#efefef" stroke-width="0.7"/><line x1="373.0" y1="582.40" x2="628.8" y2="582.40" stroke="#efefef" stroke-width="0.7"/><line x1="392.19" y1="339.3" x2="392.19" y2="595.2" stroke="#efefef" stroke-width="0.7"/><line x1="373.0" y1="576.01" x2="628.8" y2="576.01" stroke="#efefef" stroke-width="0.7"/><line x1="398.58" y1="339.3" x2="398.58" y2="595.2" stroke="#efefef" stroke-width="0.7"/><line x1="373.0" y1="569.61" x2="628.8" y2="569.61" stroke="#efefef" stroke-width="0.7"/><line x1="404.98" y1="339.3" x2="404.98" y2="595.2" stroke="#e2e2e2" stroke-width="0.7"/><line x1="373.0" y1="563.21" x2="628.8" y2="563.21" stroke="#e2e2e2" stroke-width="0.7"/><line x1="411.37" y1="339.3" x2="411.37" y2="595.2" stroke="#efefef" stroke-width="0.7"/><line x1="373.0" y1="556.82" x2="628.8" y2="556.82" stroke="#efefef" stroke-width="0.7"/><line x1="417.76" y1="339.3" x2="417.76" y2="595.2" stroke="#efefef" stroke-width="0.7"/><line x1="373.0" y1="550.42" x2="628.8" y2="550.42" stroke="#efefef" stroke-width="0.7"/><line x1="424.16" y1="339.3" x2="424.16" y2="595.2" stroke="#efefef" stroke-width="0.7"/><line x1="373.0" y1="544.02" x2="628.8" y2="544.02" stroke="#efefef" stroke-width="0.7"/><line x1="430.56" y1="339.3" x2="430.56" y2="595.2" stroke="#efefef" stroke-width="0.7"/><line x1="373.0" y1="537.62" x2="628.8" y2="537.62" stroke="#efefef" stroke-width="0.7"/><line x1="436.95" y1="339.3" x2="436.95" y2="595.2" stroke="#e2e2e2" stroke-width="0.7"/><line x1="373.0" y1="531.23" x2="628.8" y2="531.23" stroke="#e2e2e2" stroke-width="0.7"/><line x1="443.35" y1="339.3" x2="443.35" y2="595.2" stroke="#efefef" stroke-width="0.7"/><line x1="373.0" y1="524.83" x2="628.8" y2="524.83" stroke="#efefef" stroke-width="0.7"/><line x1="449.74" y1="339.3" x2="449.74" y2="595.2" stroke="#efefef" stroke-width="0.7"/><line x1="373.0" y1="518.43" x2="628.8" y2="518.43" stroke="#efefef" stroke-width="0.7"/><line x1="456.13" y1="339.3" x2="456.13" y2="595.2" stroke="#efefef" stroke-width="0.7"/><line x1="373.0" y1="512.03" x2="628.8" y2="512.03" stroke="#efefef" stroke-width="0.7"/><line x1="462.53" y1="339.3" x2="462.53" y2="595.2" stroke="#efefef" stroke-width="0.7"/><line x1="373.0" y1="505.63" x2="628.8" y2="505.63" stroke="#efefef" stroke-width="0.7"/><line x1="468.92" y1="339.3" x2="468.92" y2="595.2" stroke="#e2e2e2" stroke-width="0.7"/><line x1="373.0" y1="499.24" x2="628.8" y2="499.24" stroke="#e2e2e2" stroke-width="0.7"/><line x1="475.32" y1="339.3" x2="475.32" y2="595.2" stroke="#efefef" stroke-width="0.7"/><line x1="373.0" y1="492.84" x2="628.8" y2="492.84" stroke="#efefef" stroke-width="0.7"/><line x1="481.71" y1="339.3" x2="481.71" y2="595.2" stroke="#efefef" stroke-width="0.7"/><line x1="373.0" y1="486.44" x2="628.8" y2="486.44" stroke="#efefef" stroke-width="0.7"/><line x1="488.11" y1="339.3" x2="488.11" y2="595.2" stroke="#efefef" stroke-width="0.7"/><line x1="373.0" y1="480.05" x2="628.8" y2="480.05" stroke="#efefef" stroke-width="0.7"/><line x1="494.50" y1="339.3" x2="494.50" y2="595.2" stroke="#efefef" stroke-width="0.7"/><line x1="373.0" y1="473.65" x2="628.8" y2="473.65" stroke="#efefef" stroke-width="0.7"/><line x1="500.90" y1="339.3" x2="500.90" y2="595.2" stroke="#e2e2e2" stroke-width="0.7"/><line x1="373.0" y1="467.25" x2="628.8" y2="467.25" stroke="#e2e2e2" stroke-width="0.7"/><line x1="507.29" y1="339.3" x2="507.29" y2="595.2" stroke="#efefef" stroke-width="0.7"/><line x1="373.0" y1="460.85" x2="628.8" y2="460.85" stroke="#efefef" stroke-width="0.7"/><line x1="513.69" y1="339.3" x2="513.69" y2="595.2" stroke="#efefef" stroke-width="0.7"/><line x1="373.0" y1="454.46" x2="628.8" y2="454.46" stroke="#efefef" stroke-width="0.7"/><line x1="520.09" y1="339.3" x2="520.09" y2="595.2" stroke="#efefef" stroke-width="0.7"/><line x1="373.0" y1="448.06" x2="628.8" y2="448.06" stroke="#efefef" stroke-width="0.7"/><line x1="526.48" y1="339.3" x2="526.48" y2="595.2" stroke="#efefef" stroke-width="0.7"/><line x1="373.0" y1="441.66" x2="628.8" y2="441.66" stroke="#efefef" stroke-width="0.7"/><line x1="532.88" y1="339.3" x2="532.88" y2="595.2" stroke="#e2e2e2" stroke-width="0.7"/><line x1="373.0" y1="435.26" x2="628.8" y2="435.26" stroke="#e2e2e2" stroke-width="0.7"/><line x1="539.27" y1="339.3" x2="539.27" y2="595.2" stroke="#efefef" stroke-width="0.7"/><line x1="373.0" y1="428.87" x2="628.8" y2="428.87" stroke="#efefef" stroke-width="0.7"/><line x1="545.66" y1="339.3" x2="545.66" y2="595.2" stroke="#efefef" stroke-width="0.7"/><line x1="373.0" y1="422.47" x2="628.8" y2="422.47" stroke="#efefef" stroke-width="0.7"/><line x1="552.06" y1="339.3" x2="552.06" y2="595.2" stroke="#efefef" stroke-width="0.7"/><line x1="373.0" y1="416.07" x2="628.8" y2="416.07" stroke="#efefef" stroke-width="0.7"/><line x1="558.45" y1="339.3" x2="558.45" y2="595.2" stroke="#efefef" stroke-width="0.7"/><line x1="373.0" y1="409.67" x2="628.8" y2="409.67" stroke="#efefef" stroke-width="0.7"/><line x1="564.85" y1="339.3" x2="564.85" y2="595.2" stroke="#e2e2e2" stroke-width="0.7"/><line x1="373.0" y1="403.28" x2="628.8" y2="403.28" stroke="#e2e2e2" stroke-width="0.7"/><line x1="571.25" y1="339.3" x2="571.25" y2="595.2" stroke="#efefef" stroke-width="0.7"/><line x1="373.0" y1="396.88" x2="628.8" y2="396.88" stroke="#efefef" stroke-width="0.7"/><line x1="577.64" y1="339.3" x2="577.64" y2="595.2" stroke="#efefef" stroke-width="0.7"/><line x1="373.0" y1="390.48" x2="628.8" y2="390.48" stroke="#efefef" stroke-width="0.7"/><line x1="584.03" y1="339.3" x2="584.03" y2="595.2" stroke="#efefef" stroke-width="0.7"/><line x1="373.0" y1="384.08" x2="628.8" y2="384.08" stroke="#efefef" stroke-width="0.7"/><line x1="590.43" y1="339.3" x2="590.43" y2="595.2" stroke="#efefef" stroke-width="0.7"/><line x1="373.0" y1="377.69" x2="628.8" y2="377.69" stroke="#efefef" stroke-width="0.7"/><line x1="596.82" y1="339.3" x2="596.82" y2="595.2" stroke="#e2e2e2" stroke-width="0.7"/><line x1="373.0" y1="371.29" x2="628.8" y2="371.29" stroke="#e2e2e2" stroke-width="0.7"/><line x1="603.22" y1="339.3" x2="603.22" y2="595.2" stroke="#efefef" stroke-width="0.7"/><line x1="373.0" y1="364.89" x2="628.8" y2="364.89" stroke="#efefef" stroke-width="0.7"/><line x1="609.62" y1="339.3" x2="609.62" y2="595.2" stroke="#efefef" stroke-width="0.7"/><line x1="373.0" y1="358.49" x2="628.8" y2="358.49" stroke="#efefef" stroke-width="0.7"/><line x1="616.01" y1="339.3" x2="616.01" y2="595.2" stroke="#efefef" stroke-width="0.7"/><line x1="373.0" y1="352.09" x2="628.8" y2="352.09" stroke="#efefef" stroke-width="0.7"/><line x1="622.40" y1="339.3" x2="622.40" y2="595.2" stroke="#efefef" stroke-width="0.7"/><line x1="373.0" y1="345.70" x2="628.8" y2="345.70" stroke="#efefef" stroke-width="0.7"/><line x1="628.80" y1="339.3" x2="628.80" y2="595.2" stroke="#e2e2e2" stroke-width="0.7"/><line x1="373.0" y1="339.30" x2="628.8" y2="339.30" stroke="#e2e2e2" stroke-width="0.7"/></g>
<line x1="373.0" y1="339.3" x2="628.8" y2="595.2" stroke="#c2c2c2" stroke-width="0.7" stroke-dasharray="1.2 1.6"/>
<line x1="373.0" y1="595.2" x2="628.8" y2="339.3" stroke="#c2c2c2" stroke-width="0.7" stroke-dasharray="1.2 1.6"/>
<line x1="500.90" y1="339.3" x2="500.90" y2="595.2" stroke="#9a9a9a" stroke-width="0.8" stroke-dasharray="2.5 1.5"/>
<line x1="373.0" y1="467.25" x2="628.8" y2="467.25" stroke="#9a9a9a" stroke-width="0.8" stroke-dasharray="2.5 1.5"/>
<g clip-path="url(#c2)"><g opacity="0.85"><path d="M565.2 444.7h2.0v2.0h-2.0zM528.0 459.7h2.0v2.0h-2.0zM569.4 457.4h2.0v2.0h-2.0zM566.0 426.4h2.0v2.0h-2.0zM505.9 434.0h2.0v2.0h-2.0zM528.7 412.6h2.0v2.0h-2.0zM438.1 526.9h2.0v2.0h-2.0zM490.5 466.2h2.0v2.0h-2.0zM530.7 424.6h2.0v2.0h-2.0zM431.6 456.8h2.0v2.0h-2.0zM514.8 514.7h2.0v2.0h-2.0zM478.0 444.2h2.0v2.0h-2.0zM475.6 426.8h2.0v2.0h-2.0zM547.2 499.6h2.0v2.0h-2.0zM481.8 415.7h2.0v2.0h-2.0zM382.7 470.9h2.0v2.0h-2.0zM453.6 446.9h2.0v2.0h-2.0zM410.9 428.7h2.0v2.0h-2.0zM501.6 447.4h2.0v2.0h-2.0zM573.9 491.8h2.0v2.0h-2.0zM549.9 430.9h2.0v2.0h-2.0zM402.7 466.1h2.0v2.0h-2.0zM512.5 478.3h2.0v2.0h-2.0zM426.9 438.7h2.0v2.0h-2.0zM482.3 414.3h2.0v2.0h-2.0zM487.9 372.8h2.0v2.0h-2.0zM506.8 430.9h2.0v2.0h-2.0zM526.7 421.1h2.0v2.0h-2.0zM445.9 466.5h2.0v2.0h-2.0zM479.5 408.3h2.0v2.0h-2.0zM493.0 397.2h2.0v2.0h-2.0zM473.1 439.9h2.0v2.0h-2.0zM477.3 458.9h2.0v2.0h-2.0zM412.3 457.5h2.0v2.0h-2.0zM503.0 374.8h2.0v2.0h-2.0zM551.9 425.6h2.0v2.0h-2.0zM422.6 529.5h2.0v2.0h-2.0zM463.4 447.9h2.0v2.0h-2.0zM440.4 451.5h2.0v2.0h-2.0zM566.8 438.9h2.0v2.0h-2.0zM493.0 423.8h2.0v2.0h-2.0zM475.4 489.2h2.0v2.0h-2.0zM497.7 459.8h2.0v2.0h-2.0zM568.0 417.5h2.0v2.0h-2.0zM427.0 506.3h2.0v2.0h-2.0zM447.7 453.9h2.0v2.0h-2.0zM586.0 428.3h2.0v2.0h-2.0zM451.7 444.9h2.0v2.0h-2.0zM462.8 461.0h2.0v2.0h-2.0zM556.8 394.6h2.0v2.0h-2.0zM475.7 411.1h2.0v2.0h-2.0zM547.9 457.4h2.0v2.0h-2.0zM410.2 458.7h2.0v2.0h-2.0zM495.6 413.6h2.0v2.0h-2.0zM417.8 418.3h2.0v2.0h-2.0zM600.6 424.9h2.0v2.0h-2.0zM490.8 400.1h2.0v2.0h-2.0zM530.2 414.9h2.0v2.0h-2.0zM546.0 459.1h2.0v2.0h-2.0zM436.0 436.1h2.0v2.0h-2.0zM459.5 444.6h2.0v2.0h-2.0zM549.7 482.8h2.0v2.0h-2.0zM562.4 439.8h2.0v2.0h-2.0zM470.4 384.7h2.0v2.0h-2.0zM603.3 417.3h2.0v2.0h-2.0zM522.9 346.5h2.0v2.0h-2.0zM462.2 432.0h2.0v2.0h-2.0zM450.8 431.5h2.0v2.0h-2.0zM492.4 435.3h2.0v2.0h-2.0zM545.9 423.1h2.0v2.0h-2.0zM453.3 506.0h2.0v2.0h-2.0zM456.0 470.6h2.0v2.0h-2.0zM537.9 396.2h2.0v2.0h-2.0zM388.7 507.6h2.0v2.0h-2.0zM422.0 472.5h2.0v2.0h-2.0zM485.1 441.5h2.0v2.0h-2.0zM529.6 461.0h2.0v2.0h-2.0zM491.3 485.5h2.0v2.0h-2.0zM492.7 413.7h2.0v2.0h-2.0zM560.9 422.7h2.0v2.0h-2.0zM539.4 420.7h2.0v2.0h-2.0zM585.4 428.0h2.0v2.0h-2.0zM444.3 478.5h2.0v2.0h-2.0zM518.1 441.9h2.0v2.0h-2.0zM551.2 402.9h2.0v2.0h-2.0zM488.5 428.2h2.0v2.0h-2.0zM537.4 441.4h2.0v2.0h-2.0zM565.2 475.3h2.0v2.0h-2.0zM515.1 427.9h2.0v2.0h-2.0zM382.6 428.9h2.0v2.0h-2.0zM414.9 433.6h2.0v2.0h-2.0zM509.8 389.4h2.0v2.0h-2.0zM379.5 508.5h2.0v2.0h-2.0zM553.5 395.8h2.0v2.0h-2.0zM594.2 392.2h2.0v2.0h-2.0zM597.1 422.9h2.0v2.0h-2.0zM460.0 449.4h2.0v2.0h-2.0zM581.5 369.4h2.0v2.0h-2.0zM504.6 455.8h2.0v2.0h-2.0zM509.8 524.2h2.0v2.0h-2.0zM382.9 478.7h2.0v2.0h-2.0zM514.3 422.6h2.0v2.0h-2.0zM556.7 409.8h2.0v2.0h-2.0zM432.2 434.7h2.0v2.0h-2.0zM542.8 451.1h2.0v2.0h-2.0zM402.3 500.9h2.0v2.0h-2.0zM460.6 431.7h2.0v2.0h-2.0zM545.6 454.7h2.0v2.0h-2.0zM498.3 426.0h2.0v2.0h-2.0zM477.4 441.2h2.0v2.0h-2.0zM501.4 452.3h2.0v2.0h-2.0zM504.5 422.2h2.0v2.0h-2.0zM505.2 419.7h2.0v2.0h-2.0zM456.8 497.3h2.0v2.0h-2.0zM532.0 407.7h2.0v2.0h-2.0zM462.4 446.2h2.0v2.0h-2.0zM453.0 469.5h2.0v2.0h-2.0zM454.6 435.5h2.0v2.0h-2.0zM466.7 429.4h2.0v2.0h-2.0zM571.3 382.7h2.0v2.0h-2.0zM515.2 391.9h2.0v2.0h-2.0zM521.2 410.1h2.0v2.0h-2.0zM503.9 468.4h2.0v2.0h-2.0zM559.4 371.3h2.0v2.0h-2.0zM530.0 437.8h2.0v2.0h-2.0zM447.4 452.6h2.0v2.0h-2.0zM533.3 396.4h2.0v2.0h-2.0zM432.2 481.7h2.0v2.0h-2.0zM528.2 494.5h2.0v2.0h-2.0zM567.7 414.9h2.0v2.0h-2.0zM473.8 465.8h2.0v2.0h-2.0zM515.5 391.7h2.0v2.0h-2.0zM532.1 453.2h2.0v2.0h-2.0zM464.2 478.0h2.0v2.0h-2.0zM434.1 452.8h2.0v2.0h-2.0zM473.0 413.8h2.0v2.0h-2.0zM561.4 431.0h2.0v2.0h-2.0zM427.4 486.4h2.0v2.0h-2.0zM416.0 450.2h2.0v2.0h-2.0zM572.3 461.3h2.0v2.0h-2.0zM451.9 484.2h2.0v2.0h-2.0zM515.3 370.9h2.0v2.0h-2.0zM438.3 484.7h2.0v2.0h-2.0zM593.8 447.0h2.0v2.0h-2.0zM532.3 396.7h2.0v2.0h-2.0zM490.7 412.5h2.0v2.0h-2.0zM489.3 370.4h2.0v2.0h-2.0zM489.9 406.6h2.0v2.0h-2.0zM429.5 490.8h2.0v2.0h-2.0zM476.3 418.8h2.0v2.0h-2.0zM491.5 424.8h2.0v2.0h-2.0zM453.3 493.9h2.0v2.0h-2.0zM505.1 419.6h2.0v2.0h-2.0zM441.5 416.1h2.0v2.0h-2.0zM517.3 429.6h2.0v2.0h-2.0zM539.1 457.9h2.0v2.0h-2.0zM484.4 430.4h2.0v2.0h-2.0zM510.9 437.8h2.0v2.0h-2.0zM422.2 451.8h2.0v2.0h-2.0zM506.9 407.9h2.0v2.0h-2.0zM492.8 460.2h2.0v2.0h-2.0zM549.5 366.8h2.0v2.0h-2.0zM530.4 507.1h2.0v2.0h-2.0zM537.5 427.9h2.0v2.0h-2.0zM484.3 481.9h2.0v2.0h-2.0zM509.2 498.7h2.0v2.0h-2.0zM503.6 456.1h2.0v2.0h-2.0zM484.0 429.0h2.0v2.0h-2.0zM506.6 474.0h2.0v2.0h-2.0zM471.2 496.7h2.0v2.0h-2.0zM549.0 398.0h2.0v2.0h-2.0zM431.3 526.2h2.0v2.0h-2.0zM474.3 511.6h2.0v2.0h-2.0zM386.2 465.8h2.0v2.0h-2.0zM468.5 406.5h2.0v2.0h-2.0zM499.0 456.4h2.0v2.0h-2.0zM492.3 453.9h2.0v2.0h-2.0zM484.1 422.6h2.0v2.0h-2.0zM442.9 390.6h2.0v2.0h-2.0zM521.2 382.2h2.0v2.0h-2.0zM478.3 445.5h2.0v2.0h-2.0zM498.1 414.6h2.0v2.0h-2.0zM546.4 406.5h2.0v2.0h-2.0zM467.6 463.6h2.0v2.0h-2.0zM523.7 416.8h2.0v2.0h-2.0zM491.7 440.9h2.0v2.0h-2.0zM495.7 382.3h2.0v2.0h-2.0zM414.6 507.8h2.0v2.0h-2.0zM435.7 383.8h2.0v2.0h-2.0zM518.6 428.3h2.0v2.0h-2.0zM500.9 473.9h2.0v2.0h-2.0zM550.4 411.3h2.0v2.0h-2.0zM531.4 437.7h2.0v2.0h-2.0zM476.6 437.7h2.0v2.0h-2.0zM467.8 445.8h2.0v2.0h-2.0zM489.5 388.5h2.0v2.0h-2.0zM514.8 397.3h2.0v2.0h-2.0zM505.0 466.3h2.0v2.0h-2.0zM438.8 470.9h2.0v2.0h-2.0zM516.7 404.6h2.0v2.0h-2.0zM403.3 445.6h2.0v2.0h-2.0zM441.3 433.7h2.0v2.0h-2.0zM569.2 386.4h2.0v2.0h-2.0zM557.8 421.2h2.0v2.0h-2.0zM512.7 399.6h2.0v2.0h-2.0zM470.9 422.2h2.0v2.0h-2.0zM388.1 403.0h2.0v2.0h-2.0zM461.7 449.4h2.0v2.0h-2.0zM560.9 437.3h2.0v2.0h-2.0zM401.4 414.0h2.0v2.0h-2.0zM599.4 448.8h2.0v2.0h-2.0zM439.0 468.0h2.0v2.0h-2.0zM571.0 432.4h2.0v2.0h-2.0zM536.5 453.0h2.0v2.0h-2.0zM525.3 493.1h2.0v2.0h-2.0zM486.0 424.9h2.0v2.0h-2.0zM488.5 518.1h2.0v2.0h-2.0zM558.0 441.5h2.0v2.0h-2.0zM412.0 473.2h2.0v2.0h-2.0zM389.3 567.1h2.0v2.0h-2.0zM502.6 423.1h2.0v2.0h-2.0zM546.8 440.4h2.0v2.0h-2.0zM516.0 432.8h2.0v2.0h-2.0zM495.0 410.8h2.0v2.0h-2.0zM462.4 480.9h2.0v2.0h-2.0zM550.9 412.1h2.0v2.0h-2.0zM484.4 381.4h2.0v2.0h-2.0zM574.1 411.0h2.0v2.0h-2.0zM514.6 392.6h2.0v2.0h-2.0zM472.6 460.9h2.0v2.0h-2.0zM383.2 497.0h2.0v2.0h-2.0zM488.9 464.9h2.0v2.0h-2.0zM466.4 447.8h2.0v2.0h-2.0zM480.3 414.8h2.0v2.0h-2.0zM408.6 459.4h2.0v2.0h-2.0zM577.8 431.4h2.0v2.0h-2.0zM454.2 439.5h2.0v2.0h-2.0zM425.2 449.0h2.0v2.0h-2.0zM536.1 468.8h2.0v2.0h-2.0zM481.8 495.4h2.0v2.0h-2.0zM436.1 517.6h2.0v2.0h-2.0zM499.9 473.6h2.0v2.0h-2.0zM540.1 365.9h2.0v2.0h-2.0zM508.8 470.9h2.0v2.0h-2.0zM560.5 350.6h2.0v2.0h-2.0zM507.9 434.5h2.0v2.0h-2.0zM624.2 412.2h2.0v2.0h-2.0zM489.9 475.5h2.0v2.0h-2.0zM502.9 450.6h2.0v2.0h-2.0zM538.3 446.6h2.0v2.0h-2.0zM463.3 430.2h2.0v2.0h-2.0zM504.2 423.6h2.0v2.0h-2.0zM495.2 463.7h2.0v2.0h-2.0zM593.0 366.8h2.0v2.0h-2.0zM407.7 456.4h2.0v2.0h-2.0zM502.6 411.4h2.0v2.0h-2.0zM480.0 498.0h2.0v2.0h-2.0zM481.1 424.3h2.0v2.0h-2.0zM503.1 415.3h2.0v2.0h-2.0zM520.2 417.2h2.0v2.0h-2.0zM408.2 466.9h2.0v2.0h-2.0zM460.6 418.3h2.0v2.0h-2.0zM508.0 424.0h2.0v2.0h-2.0zM505.0 486.7h2.0v2.0h-2.0zM535.3 417.1h2.0v2.0h-2.0zM425.4 486.5h2.0v2.0h-2.0zM404.0 424.9h2.0v2.0h-2.0zM608.6 452.5h2.0v2.0h-2.0zM584.1 451.8h2.0v2.0h-2.0zM501.5 439.1h2.0v2.0h-2.0zM499.6 492.6h2.0v2.0h-2.0zM535.5 377.5h2.0v2.0h-2.0zM423.5 489.2h2.0v2.0h-2.0zM567.3 416.0h2.0v2.0h-2.0zM421.9 441.9h2.0v2.0h-2.0zM464.6 477.4h2.0v2.0h-2.0zM586.3 488.5h2.0v2.0h-2.0zM464.5 505.2h2.0v2.0h-2.0zM507.3 429.0h2.0v2.0h-2.0zM449.0 359.6h2.0v2.0h-2.0zM496.8 391.1h2.0v2.0h-2.0zM509.8 453.7h2.0v2.0h-2.0zM445.0 385.2h2.0v2.0h-2.0zM527.5 495.9h2.0v2.0h-2.0zM499.4 342.5h2.0v2.0h-2.0zM579.8 433.0h2.0v2.0h-2.0zM517.5 442.3h2.0v2.0h-2.0zM436.1 512.2h2.0v2.0h-2.0zM507.7 426.6h2.0v2.0h-2.0zM556.7 450.4h2.0v2.0h-2.0zM455.7 477.5h2.0v2.0h-2.0zM534.5 452.0h2.0v2.0h-2.0zM536.4 417.4h2.0v2.0h-2.0zM514.4 371.0h2.0v2.0h-2.0zM536.9 431.6h2.0v2.0h-2.0zM444.4 402.2h2.0v2.0h-2.0zM499.6 491.5h2.0v2.0h-2.0zM531.7 433.7h2.0v2.0h-2.0zM463.5 461.9h2.0v2.0h-2.0zM552.5 489.3h2.0v2.0h-2.0zM455.7 408.5h2.0v2.0h-2.0zM506.0 462.8h2.0v2.0h-2.0zM459.7 479.5h2.0v2.0h-2.0zM495.0 468.0h2.0v2.0h-2.0zM450.1 487.1h2.0v2.0h-2.0zM387.4 478.3h2.0v2.0h-2.0zM404.2 545.7h2.0v2.0h-2.0zM504.2 451.1h2.0v2.0h-2.0zM514.2 428.9h2.0v2.0h-2.0zM455.5 485.5h2.0v2.0h-2.0zM428.8 429.7h2.0v2.0h-2.0zM411.0 469.0h2.0v2.0h-2.0zM469.4 369.2h2.0v2.0h-2.0zM454.8 400.8h2.0v2.0h-2.0zM575.2 414.9h2.0v2.0h-2.0zM435.2 498.7h2.0v2.0h-2.0zM564.0 430.2h2.0v2.0h-2.0zM518.7 426.5h2.0v2.0h-2.0zM536.8 398.7h2.0v2.0h-2.0zM443.8 483.6h2.0v2.0h-2.0zM506.1 423.1h2.0v2.0h-2.0zM461.8 441.2h2.0v2.0h-2.0zM440.9 411.6h2.0v2.0h-2.0zM458.0 467.0h2.0v2.0h-2.0zM501.6 406.9h2.0v2.0h-2.0zM505.4 456.0h2.0v2.0h-2.0zM444.7 458.3h2.0v2.0h-2.0zM468.5 447.8h2.0v2.0h-2.0zM464.4 434.1h2.0v2.0h-2.0zM481.9 525.3h2.0v2.0h-2.0zM512.1 467.0h2.0v2.0h-2.0zM540.1 436.8h2.0v2.0h-2.0zM503.1 501.6h2.0v2.0h-2.0zM496.4 473.3h2.0v2.0h-2.0zM477.6 402.8h2.0v2.0h-2.0zM458.8 457.2h2.0v2.0h-2.0zM499.9 486.8h2.0v2.0h-2.0zM436.1 478.6h2.0v2.0h-2.0zM498.1 467.6h2.0v2.0h-2.0zM491.0 489.3h2.0v2.0h-2.0zM478.6 450.0h2.0v2.0h-2.0zM442.9 463.5h2.0v2.0h-2.0zM493.8 449.1h2.0v2.0h-2.0zM459.3 453.4h2.0v2.0h-2.0zM539.6 453.4h2.0v2.0h-2.0zM538.2 447.8h2.0v2.0h-2.0zM464.9 448.5h2.0v2.0h-2.0zM420.7 494.3h2.0v2.0h-2.0zM546.3 390.2h2.0v2.0h-2.0zM503.6 430.5h2.0v2.0h-2.0zM470.1 512.3h2.0v2.0h-2.0zM529.7 400.9h2.0v2.0h-2.0zM572.8 420.7h2.0v2.0h-2.0zM544.9 485.0h2.0v2.0h-2.0zM524.1 425.8h2.0v2.0h-2.0zM550.4 451.9h2.0v2.0h-2.0zM491.5 433.1h2.0v2.0h-2.0zM533.7 431.4h2.0v2.0h-2.0zM442.0 428.6h2.0v2.0h-2.0zM496.8 421.2h2.0v2.0h-2.0zM459.2 469.5h2.0v2.0h-2.0zM557.3 425.9h2.0v2.0h-2.0zM480.9 439.0h2.0v2.0h-2.0zM501.1 389.4h2.0v2.0h-2.0zM445.4 452.9h2.0v2.0h-2.0zM498.0 492.9h2.0v2.0h-2.0zM585.5 392.3h2.0v2.0h-2.0zM484.9 411.8h2.0v2.0h-2.0zM422.6 438.6h2.0v2.0h-2.0zM504.5 443.1h2.0v2.0h-2.0zM542.8 382.8h2.0v2.0h-2.0zM501.3 457.7h2.0v2.0h-2.0zM532.2 463.4h2.0v2.0h-2.0zM500.8 453.8h2.0v2.0h-2.0zM475.7 448.8h2.0v2.0h-2.0zM562.1 401.1h2.0v2.0h-2.0zM428.8 505.0h2.0v2.0h-2.0zM446.0 481.1h2.0v2.0h-2.0zM423.5 457.1h2.0v2.0h-2.0zM419.7 447.0h2.0v2.0h-2.0zM422.1 502.7h2.0v2.0h-2.0zM523.0 415.5h2.0v2.0h-2.0zM537.0 441.9h2.0v2.0h-2.0zM460.0 476.9h2.0v2.0h-2.0zM556.4 393.7h2.0v2.0h-2.0zM571.1 407.9h2.0v2.0h-2.0zM582.7 426.9h2.0v2.0h-2.0zM574.1 392.0h2.0v2.0h-2.0zM439.5 475.4h2.0v2.0h-2.0zM496.5 440.6h2.0v2.0h-2.0zM562.1 438.8h2.0v2.0h-2.0zM475.6 438.3h2.0v2.0h-2.0zM566.9 382.9h2.0v2.0h-2.0zM415.8 488.9h2.0v2.0h-2.0zM496.4 497.1h2.0v2.0h-2.0zM441.6 416.9h2.0v2.0h-2.0zM443.1 428.3h2.0v2.0h-2.0zM437.1 483.3h2.0v2.0h-2.0zM566.3 389.6h2.0v2.0h-2.0zM475.3 391.4h2.0v2.0h-2.0zM438.8 536.6h2.0v2.0h-2.0zM519.0 414.5h2.0v2.0h-2.0zM458.6 462.7h2.0v2.0h-2.0zM512.6 466.4h2.0v2.0h-2.0zM492.6 361.5h2.0v2.0h-2.0zM593.7 455.8h2.0v2.0h-2.0zM523.9 430.0h2.0v2.0h-2.0zM541.5 432.1h2.0v2.0h-2.0zM534.8 426.1h2.0v2.0h-2.0zM585.1 359.8h2.0v2.0h-2.0zM517.9 383.1h2.0v2.0h-2.0zM437.2 475.0h2.0v2.0h-2.0zM532.6 395.6h2.0v2.0h-2.0zM480.3 401.4h2.0v2.0h-2.0zM432.8 451.7h2.0v2.0h-2.0zM414.6 529.4h2.0v2.0h-2.0zM517.7 382.0h2.0v2.0h-2.0zM468.7 404.9h2.0v2.0h-2.0zM525.0 469.1h2.0v2.0h-2.0zM455.4 492.7h2.0v2.0h-2.0zM458.0 459.5h2.0v2.0h-2.0zM542.2 411.9h2.0v2.0h-2.0zM453.6 485.6h2.0v2.0h-2.0zM429.0 407.0h2.0v2.0h-2.0zM408.3 522.1h2.0v2.0h-2.0zM428.4 472.1h2.0v2.0h-2.0zM514.4 399.1h2.0v2.0h-2.0zM568.7 402.5h2.0v2.0h-2.0zM504.0 446.5h2.0v2.0h-2.0zM409.4 487.6h2.0v2.0h-2.0zM555.9 457.9h2.0v2.0h-2.0zM499.8 452.3h2.0v2.0h-2.0zM427.1 487.1h2.0v2.0h-2.0zM521.8 399.9h2.0v2.0h-2.0zM400.6 480.4h2.0v2.0h-2.0zM476.0 486.3h2.0v2.0h-2.0zM421.2 432.6h2.0v2.0h-2.0zM521.6 416.0h2.0v2.0h-2.0zM496.1 432.4h2.0v2.0h-2.0zM517.6 438.7h2.0v2.0h-2.0zM506.4 396.6h2.0v2.0h-2.0zM505.3 449.6h2.0v2.0h-2.0zM459.0 416.3h2.0v2.0h-2.0zM502.1 432.0h2.0v2.0h-2.0zM596.3 415.4h2.0v2.0h-2.0zM586.0 458.3h2.0v2.0h-2.0zM520.7 370.4h2.0v2.0h-2.0zM541.9 415.5h2.0v2.0h-2.0zM534.2 443.7h2.0v2.0h-2.0zM520.3 486.0h2.0v2.0h-2.0zM418.6 530.8h2.0v2.0h-2.0zM524.1 440.1h2.0v2.0h-2.0zM430.4 464.3h2.0v2.0h-2.0zM452.3 450.7h2.0v2.0h-2.0zM580.1 421.9h2.0v2.0h-2.0zM488.8 460.8h2.0v2.0h-2.0zM461.3 450.3h2.0v2.0h-2.0zM579.5 462.2h2.0v2.0h-2.0zM441.1 455.4h2.0v2.0h-2.0zM487.7 475.7h2.0v2.0h-2.0zM492.5 401.1h2.0v2.0h-2.0zM541.6 419.3h2.0v2.0h-2.0zM440.8 459.3h2.0v2.0h-2.0zM439.6 425.0h2.0v2.0h-2.0zM448.6 437.8h2.0v2.0h-2.0zM499.0 412.1h2.0v2.0h-2.0zM478.0 485.4h2.0v2.0h-2.0zM415.0 427.0h2.0v2.0h-2.0zM530.2 453.0h2.0v2.0h-2.0zM506.1 433.6h2.0v2.0h-2.0zM444.3 467.1h2.0v2.0h-2.0zM584.9 439.7h2.0v2.0h-2.0zM413.3 513.0h2.0v2.0h-2.0zM570.9 385.1h2.0v2.0h-2.0zM526.4 410.2h2.0v2.0h-2.0zM480.9 403.4h2.0v2.0h-2.0zM509.4 479.0h2.0v2.0h-2.0zM544.7 454.1h2.0v2.0h-2.0zM530.4 452.7h2.0v2.0h-2.0zM484.8 424.3h2.0v2.0h-2.0zM379.9 440.8h2.0v2.0h-2.0zM449.9 414.4h2.0v2.0h-2.0zM489.4 430.4h2.0v2.0h-2.0zM546.1 436.6h2.0v2.0h-2.0zM498.0 441.8h2.0v2.0h-2.0zM480.1 440.5h2.0v2.0h-2.0zM513.3 419.2h2.0v2.0h-2.0zM507.2 454.5h2.0v2.0h-2.0zM460.4 451.4h2.0v2.0h-2.0zM483.0 428.4h2.0v2.0h-2.0zM468.1 472.8h2.0v2.0h-2.0zM532.0 366.0h2.0v2.0h-2.0zM603.6 455.4h2.0v2.0h-2.0zM608.3 507.2h2.0v2.0h-2.0zM466.8 411.0h2.0v2.0h-2.0zM396.4 479.2h2.0v2.0h-2.0zM460.2 464.6h2.0v2.0h-2.0zM454.4 461.0h2.0v2.0h-2.0zM472.7 369.7h2.0v2.0h-2.0zM570.0 489.3h2.0v2.0h-2.0zM543.9 458.1h2.0v2.0h-2.0zM561.4 425.5h2.0v2.0h-2.0zM390.4 483.3h2.0v2.0h-2.0zM539.7 425.7h2.0v2.0h-2.0zM438.0 494.9h2.0v2.0h-2.0zM516.6 455.6h2.0v2.0h-2.0zM523.9 399.2h2.0v2.0h-2.0zM518.3 422.0h2.0v2.0h-2.0zM474.8 435.3h2.0v2.0h-2.0zM452.3 477.1h2.0v2.0h-2.0zM439.4 438.1h2.0v2.0h-2.0zM400.7 466.7h2.0v2.0h-2.0zM480.0 463.0h2.0v2.0h-2.0zM507.8 446.6h2.0v2.0h-2.0zM464.7 459.0h2.0v2.0h-2.0zM535.9 427.5h2.0v2.0h-2.0zM455.7 455.7h2.0v2.0h-2.0zM385.4 484.3h2.0v2.0h-2.0zM448.5 389.8h2.0v2.0h-2.0zM509.4 555.5h2.0v2.0h-2.0zM402.6 524.2h2.0v2.0h-2.0zM462.3 431.3h2.0v2.0h-2.0zM485.8 382.1h2.0v2.0h-2.0zM530.7 402.5h2.0v2.0h-2.0zM389.8 470.4h2.0v2.0h-2.0zM541.0 437.0h2.0v2.0h-2.0zM422.9 444.7h2.0v2.0h-2.0zM447.8 420.7h2.0v2.0h-2.0zM536.7 396.7h2.0v2.0h-2.0zM574.5 438.0h2.0v2.0h-2.0zM475.0 359.5h2.0v2.0h-2.0zM538.0 434.7h2.0v2.0h-2.0zM609.1 406.8h2.0v2.0h-2.0zM545.1 407.0h2.0v2.0h-2.0zM565.2 405.6h2.0v2.0h-2.0zM463.6 485.8h2.0v2.0h-2.0zM548.2 378.5h2.0v2.0h-2.0zM510.3 392.0h2.0v2.0h-2.0zM481.2 479.6h2.0v2.0h-2.0zM443.3 413.9h2.0v2.0h-2.0zM511.4 446.1h2.0v2.0h-2.0zM513.9 423.5h2.0v2.0h-2.0zM532.1 419.1h2.0v2.0h-2.0zM458.2 451.9h2.0v2.0h-2.0zM451.9 481.6h2.0v2.0h-2.0zM488.2 454.5h2.0v2.0h-2.0zM501.0 495.5h2.0v2.0h-2.0zM473.5 487.7h2.0v2.0h-2.0zM518.6 434.4h2.0v2.0h-2.0zM515.6 409.6h2.0v2.0h-2.0zM573.6 375.1h2.0v2.0h-2.0zM563.9 373.3h2.0v2.0h-2.0zM432.3 513.2h2.0v2.0h-2.0zM545.0 401.2h2.0v2.0h-2.0zM490.9 486.0h2.0v2.0h-2.0zM444.1 385.1h2.0v2.0h-2.0zM479.8 406.4h2.0v2.0h-2.0zM578.6 399.0h2.0v2.0h-2.0zM498.6 389.8h2.0v2.0h-2.0zM454.3 504.9h2.0v2.0h-2.0zM486.4 439.7h2.0v2.0h-2.0zM532.3 502.0h2.0v2.0h-2.0zM424.7 452.2h2.0v2.0h-2.0zM564.9 395.4h2.0v2.0h-2.0zM480.6 448.5h2.0v2.0h-2.0zM473.6 464.8h2.0v2.0h-2.0zM425.2 462.9h2.0v2.0h-2.0zM513.9 462.7h2.0v2.0h-2.0zM479.3 482.9h2.0v2.0h-2.0zM507.6 483.0h2.0v2.0h-2.0zM444.7 413.1h2.0v2.0h-2.0zM503.8 459.1h2.0v2.0h-2.0zM537.3 446.5h2.0v2.0h-2.0zM568.8 417.0h2.0v2.0h-2.0zM571.4 406.3h2.0v2.0h-2.0zM514.9 445.6h2.0v2.0h-2.0zM545.7 395.4h2.0v2.0h-2.0zM470.4 466.2h2.0v2.0h-2.0zM513.9 390.2h2.0v2.0h-2.0zM440.8 422.3h2.0v2.0h-2.0zM520.5 514.6h2.0v2.0h-2.0zM527.1 470.4h2.0v2.0h-2.0zM484.7 466.0h2.0v2.0h-2.0zM497.2 366.7h2.0v2.0h-2.0zM552.0 402.2h2.0v2.0h-2.0zM503.5 422.1h2.0v2.0h-2.0zM517.2 447.6h2.0v2.0h-2.0zM494.8 406.2h2.0v2.0h-2.0zM428.9 500.1h2.0v2.0h-2.0zM433.1 366.7h2.0v2.0h-2.0zM560.8 395.3h2.0v2.0h-2.0zM443.9 427.7h2.0v2.0h-2.0zM569.8 354.5h2.0v2.0h-2.0zM412.7 452.0h2.0v2.0h-2.0zM465.9 422.0h2.0v2.0h-2.0zM460.9 471.1h2.0v2.0h-2.0zM512.1 371.9h2.0v2.0h-2.0zM551.5 443.9h2.0v2.0h-2.0zM458.7 442.6h2.0v2.0h-2.0zM441.6 440.3h2.0v2.0h-2.0zM482.7 480.9h2.0v2.0h-2.0zM521.2 438.2h2.0v2.0h-2.0zM522.9 374.1h2.0v2.0h-2.0zM506.0 432.1h2.0v2.0h-2.0zM434.8 452.6h2.0v2.0h-2.0zM430.7 508.2h2.0v2.0h-2.0zM418.2 502.0h2.0v2.0h-2.0zM490.1 419.9h2.0v2.0h-2.0zM446.7 465.7h2.0v2.0h-2.0zM441.6 430.6h2.0v2.0h-2.0zM498.6 390.3h2.0v2.0h-2.0zM423.2 529.7h2.0v2.0h-2.0zM620.9 439.1h2.0v2.0h-2.0zM501.0 467.2h2.0v2.0h-2.0zM438.2 475.4h2.0v2.0h-2.0zM451.0 428.6h2.0v2.0h-2.0zM462.7 416.6h2.0v2.0h-2.0zM481.0 434.2h2.0v2.0h-2.0zM448.4 497.6h2.0v2.0h-2.0zM519.8 499.4h2.0v2.0h-2.0zM460.6 438.9h2.0v2.0h-2.0zM537.9 417.9h2.0v2.0h-2.0zM559.3 498.5h2.0v2.0h-2.0zM532.6 405.9h2.0v2.0h-2.0zM488.4 444.2h2.0v2.0h-2.0zM490.7 448.4h2.0v2.0h-2.0zM486.1 422.9h2.0v2.0h-2.0zM508.6 439.0h2.0v2.0h-2.0zM560.1 376.2h2.0v2.0h-2.0zM491.6 448.8h2.0v2.0h-2.0zM418.6 508.8h2.0v2.0h-2.0zM450.5 445.7h2.0v2.0h-2.0zM471.7 447.4h2.0v2.0h-2.0zM531.9 382.8h2.0v2.0h-2.0zM480.9 400.1h2.0v2.0h-2.0zM418.3 435.0h2.0v2.0h-2.0zM538.4 358.2h2.0v2.0h-2.0zM409.3 457.5h2.0v2.0h-2.0zM500.7 433.3h2.0v2.0h-2.0zM508.1 456.6h2.0v2.0h-2.0zM479.2 422.2h2.0v2.0h-2.0zM566.1 474.6h2.0v2.0h-2.0zM543.2 430.6h2.0v2.0h-2.0zM472.8 518.1h2.0v2.0h-2.0zM385.8 477.5h2.0v2.0h-2.0zM558.6 419.3h2.0v2.0h-2.0zM443.8 402.1h2.0v2.0h-2.0zM553.5 435.7h2.0v2.0h-2.0zM540.1 405.9h2.0v2.0h-2.0zM484.0 490.9h2.0v2.0h-2.0zM561.5 466.8h2.0v2.0h-2.0zM456.2 478.2h2.0v2.0h-2.0zM569.2 415.8h2.0v2.0h-2.0zM539.9 418.8h2.0v2.0h-2.0zM545.3 426.6h2.0v2.0h-2.0zM403.3 473.2h2.0v2.0h-2.0zM448.9 524.1h2.0v2.0h-2.0zM473.8 469.7h2.0v2.0h-2.0zM431.6 455.2h2.0v2.0h-2.0zM440.8 465.3h2.0v2.0h-2.0zM542.0 485.7h2.0v2.0h-2.0zM574.8 418.3h2.0v2.0h-2.0zM437.9 431.4h2.0v2.0h-2.0zM593.4 443.6h2.0v2.0h-2.0zM483.9 436.2h2.0v2.0h-2.0zM517.6 447.8h2.0v2.0h-2.0zM604.0 417.0h2.0v2.0h-2.0zM557.2 464.7h2.0v2.0h-2.0zM524.7 411.3h2.0v2.0h-2.0zM441.2 449.6h2.0v2.0h-2.0zM470.2 430.2h2.0v2.0h-2.0zM514.9 403.3h2.0v2.0h-2.0zM534.3 398.5h2.0v2.0h-2.0zM477.2 411.4h2.0v2.0h-2.0zM455.5 456.1h2.0v2.0h-2.0zM474.4 432.4h2.0v2.0h-2.0zM518.5 380.1h2.0v2.0h-2.0zM554.4 388.8h2.0v2.0h-2.0zM395.8 435.6h2.0v2.0h-2.0zM463.6 420.6h2.0v2.0h-2.0zM508.5 438.3h2.0v2.0h-2.0zM461.5 464.7h2.0v2.0h-2.0zM581.2 421.0h2.0v2.0h-2.0zM498.8 490.8h2.0v2.0h-2.0zM562.3 379.3h2.0v2.0h-2.0zM546.4 479.0h2.0v2.0h-2.0zM472.1 347.0h2.0v2.0h-2.0zM457.9 453.5h2.0v2.0h-2.0zM592.4 449.8h2.0v2.0h-2.0zM512.6 479.9h2.0v2.0h-2.0zM564.0 426.2h2.0v2.0h-2.0zM465.5 464.4h2.0v2.0h-2.0zM504.5 436.2h2.0v2.0h-2.0zM504.4 446.0h2.0v2.0h-2.0zM492.8 431.1h2.0v2.0h-2.0zM442.9 470.1h2.0v2.0h-2.0zM550.9 467.8h2.0v2.0h-2.0zM533.3 448.0h2.0v2.0h-2.0zM457.8 479.4h2.0v2.0h-2.0zM512.7 372.7h2.0v2.0h-2.0zM468.1 458.9h2.0v2.0h-2.0zM492.4 486.0h2.0v2.0h-2.0zM445.7 507.0h2.0v2.0h-2.0zM514.1 457.3h2.0v2.0h-2.0zM522.9 387.7h2.0v2.0h-2.0zM558.2 377.0h2.0v2.0h-2.0zM393.8 498.3h2.0v2.0h-2.0zM534.0 436.2h2.0v2.0h-2.0zM484.7 410.8h2.0v2.0h-2.0zM522.0 407.2h2.0v2.0h-2.0zM482.8 390.7h2.0v2.0h-2.0zM551.7 471.3h2.0v2.0h-2.0zM554.7 404.7h2.0v2.0h-2.0zM417.8 463.8h2.0v2.0h-2.0zM448.5 470.2h2.0v2.0h-2.0zM500.0 447.8h2.0v2.0h-2.0zM417.0 455.5h2.0v2.0h-2.0zM503.0 449.4h2.0v2.0h-2.0zM452.4 424.1h2.0v2.0h-2.0zM553.9 438.0h2.0v2.0h-2.0zM485.8 501.2h2.0v2.0h-2.0zM501.9 419.0h2.0v2.0h-2.0zM415.2 409.8h2.0v2.0h-2.0zM436.5 441.0h2.0v2.0h-2.0zM442.9 483.1h2.0v2.0h-2.0zM448.0 543.8h2.0v2.0h-2.0zM476.5 463.9h2.0v2.0h-2.0zM539.3 457.2h2.0v2.0h-2.0zM550.4 433.3h2.0v2.0h-2.0zM445.3 471.0h2.0v2.0h-2.0zM574.3 477.6h2.0v2.0h-2.0zM537.7 360.2h2.0v2.0h-2.0zM444.6 531.4h2.0v2.0h-2.0zM410.9 488.1h2.0v2.0h-2.0zM624.3 468.1h2.0v2.0h-2.0zM494.7 425.5h2.0v2.0h-2.0zM461.2 469.3h2.0v2.0h-2.0zM489.7 415.0h2.0v2.0h-2.0zM487.9 484.5h2.0v2.0h-2.0zM499.2 414.0h2.0v2.0h-2.0zM485.3 438.3h2.0v2.0h-2.0zM399.4 500.8h2.0v2.0h-2.0zM561.3 446.0h2.0v2.0h-2.0zM534.4 442.0h2.0v2.0h-2.0zM450.2 454.4h2.0v2.0h-2.0zM482.0 450.8h2.0v2.0h-2.0zM592.0 463.3h2.0v2.0h-2.0zM457.7 409.2h2.0v2.0h-2.0zM429.4 461.0h2.0v2.0h-2.0zM513.6 484.8h2.0v2.0h-2.0zM450.4 513.8h2.0v2.0h-2.0zM550.1 446.1h2.0v2.0h-2.0zM380.2 467.5h2.0v2.0h-2.0zM483.9 441.3h2.0v2.0h-2.0zM524.4 442.1h2.0v2.0h-2.0zM399.5 479.2h2.0v2.0h-2.0zM532.1 440.4h2.0v2.0h-2.0zM551.0 441.1h2.0v2.0h-2.0zM418.1 438.2h2.0v2.0h-2.0zM571.3 372.1h2.0v2.0h-2.0zM548.6 413.6h2.0v2.0h-2.0zM582.1 431.4h2.0v2.0h-2.0zM573.9 366.1h2.0v2.0h-2.0zM445.4 435.6h2.0v2.0h-2.0zM549.1 464.6h2.0v2.0h-2.0zM502.1 453.4h2.0v2.0h-2.0zM486.7 477.2h2.0v2.0h-2.0zM442.7 488.6h2.0v2.0h-2.0zM439.5 446.8h2.0v2.0h-2.0zM508.9 444.8h2.0v2.0h-2.0zM549.2 370.2h2.0v2.0h-2.0zM548.2 416.5h2.0v2.0h-2.0zM478.8 477.2h2.0v2.0h-2.0zM549.8 429.1h2.0v2.0h-2.0zM489.7 430.4h2.0v2.0h-2.0zM441.9 383.2h2.0v2.0h-2.0zM496.4 458.5h2.0v2.0h-2.0zM452.1 421.3h2.0v2.0h-2.0zM517.1 503.6h2.0v2.0h-2.0zM440.7 506.9h2.0v2.0h-2.0zM446.7 484.4h2.0v2.0h-2.0zM428.8 470.6h2.0v2.0h-2.0zM474.0 511.7h2.0v2.0h-2.0zM572.5 363.3h2.0v2.0h-2.0zM537.2 400.1h2.0v2.0h-2.0zM504.7 460.6h2.0v2.0h-2.0zM400.1 438.2h2.0v2.0h-2.0zM578.0 432.7h2.0v2.0h-2.0zM459.0 475.0h2.0v2.0h-2.0zM421.4 474.0h2.0v2.0h-2.0zM478.9 442.9h2.0v2.0h-2.0zM542.4 495.7h2.0v2.0h-2.0zM499.7 446.7h2.0v2.0h-2.0zM507.6 434.1h2.0v2.0h-2.0zM458.8 479.9h2.0v2.0h-2.0zM494.8 447.4h2.0v2.0h-2.0zM467.3 431.0h2.0v2.0h-2.0zM425.9 431.0h2.0v2.0h-2.0zM561.4 418.9h2.0v2.0h-2.0zM431.1 395.2h2.0v2.0h-2.0zM430.6 499.4h2.0v2.0h-2.0zM461.8 468.4h2.0v2.0h-2.0zM599.4 470.5h2.0v2.0h-2.0zM526.3 443.3h2.0v2.0h-2.0zM419.0 386.1h2.0v2.0h-2.0zM506.5 426.7h2.0v2.0h-2.0zM479.6 413.2h2.0v2.0h-2.0zM545.6 403.8h2.0v2.0h-2.0zM457.4 390.2h2.0v2.0h-2.0zM524.0 449.1h2.0v2.0h-2.0zM509.0 444.6h2.0v2.0h-2.0zM472.6 406.8h2.0v2.0h-2.0zM446.0 465.0h2.0v2.0h-2.0zM481.8 460.1h2.0v2.0h-2.0zM533.2 431.4h2.0v2.0h-2.0zM416.1 498.3h2.0v2.0h-2.0zM455.7 436.0h2.0v2.0h-2.0zM455.2 462.1h2.0v2.0h-2.0zM501.9 413.5h2.0v2.0h-2.0zM572.7 423.3h2.0v2.0h-2.0zM541.2 461.4h2.0v2.0h-2.0zM560.5 387.5h2.0v2.0h-2.0zM556.9 376.4h2.0v2.0h-2.0zM541.2 431.2h2.0v2.0h-2.0zM529.0 489.7h2.0v2.0h-2.0zM564.3 441.9h2.0v2.0h-2.0zM460.2 450.7h2.0v2.0h-2.0zM441.7 409.8h2.0v2.0h-2.0zM513.4 432.4h2.0v2.0h-2.0zM495.1 391.5h2.0v2.0h-2.0zM504.4 412.1h2.0v2.0h-2.0zM496.3 473.0h2.0v2.0h-2.0zM466.6 440.4h2.0v2.0h-2.0zM452.0 474.5h2.0v2.0h-2.0zM424.4 461.8h2.0v2.0h-2.0zM423.9 484.3h2.0v2.0h-2.0zM538.1 363.8h2.0v2.0h-2.0zM497.0 468.6h2.0v2.0h-2.0zM539.1 442.9h2.0v2.0h-2.0zM415.4 440.6h2.0v2.0h-2.0zM412.9 432.6h2.0v2.0h-2.0zM483.5 412.2h2.0v2.0h-2.0zM514.2 436.9h2.0v2.0h-2.0zM520.2 454.6h2.0v2.0h-2.0zM455.4 447.3h2.0v2.0h-2.0zM516.4 429.3h2.0v2.0h-2.0zM609.3 468.9h2.0v2.0h-2.0zM443.7 488.2h2.0v2.0h-2.0zM488.2 444.9h2.0v2.0h-2.0zM490.3 398.7h2.0v2.0h-2.0zM539.8 398.2h2.0v2.0h-2.0zM480.6 423.0h2.0v2.0h-2.0zM473.1 422.2h2.0v2.0h-2.0zM546.5 445.1h2.0v2.0h-2.0zM480.6 451.0h2.0v2.0h-2.0zM546.5 404.5h2.0v2.0h-2.0zM497.2 445.2h2.0v2.0h-2.0zM493.2 442.4h2.0v2.0h-2.0zM557.6 509.3h2.0v2.0h-2.0zM397.4 427.4h2.0v2.0h-2.0zM566.3 403.9h2.0v2.0h-2.0zM601.0 439.1h2.0v2.0h-2.0zM550.6 481.6h2.0v2.0h-2.0zM555.9 376.4h2.0v2.0h-2.0zM541.7 453.5h2.0v2.0h-2.0zM494.4 364.7h2.0v2.0h-2.0zM458.1 406.1h2.0v2.0h-2.0zM460.0 482.6h2.0v2.0h-2.0zM437.1 489.0h2.0v2.0h-2.0zM478.8 415.5h2.0v2.0h-2.0zM473.4 463.3h2.0v2.0h-2.0zM427.0 436.1h2.0v2.0h-2.0zM549.9 447.1h2.0v2.0h-2.0zM572.6 432.0h2.0v2.0h-2.0zM471.5 442.8h2.0v2.0h-2.0zM520.1 406.7h2.0v2.0h-2.0zM462.4 451.3h2.0v2.0h-2.0zM486.6 425.3h2.0v2.0h-2.0zM418.2 451.4h2.0v2.0h-2.0zM558.9 384.2h2.0v2.0h-2.0zM562.1 452.8h2.0v2.0h-2.0zM473.9 431.2h2.0v2.0h-2.0zM416.7 468.7h2.0v2.0h-2.0zM498.7 491.0h2.0v2.0h-2.0zM454.5 479.1h2.0v2.0h-2.0zM502.4 557.2h2.0v2.0h-2.0zM532.8 472.1h2.0v2.0h-2.0zM392.8 480.7h2.0v2.0h-2.0zM419.2 513.0h2.0v2.0h-2.0zM502.4 384.2h2.0v2.0h-2.0zM377.8 489.4h2.0v2.0h-2.0zM419.9 474.1h2.0v2.0h-2.0zM473.3 441.5h2.0v2.0h-2.0zM490.6 404.8h2.0v2.0h-2.0zM558.9 444.6h2.0v2.0h-2.0zM474.2 423.2h2.0v2.0h-2.0zM436.2 457.1h2.0v2.0h-2.0zM494.7 378.3h2.0v2.0h-2.0zM521.0 408.0h2.0v2.0h-2.0zM471.8 417.0h2.0v2.0h-2.0zM565.7 429.8h2.0v2.0h-2.0zM523.3 522.3h2.0v2.0h-2.0zM511.4 440.1h2.0v2.0h-2.0zM478.3 513.4h2.0v2.0h-2.0zM447.0 518.0h2.0v2.0h-2.0zM566.5 423.9h2.0v2.0h-2.0zM493.6 432.6h2.0v2.0h-2.0zM550.3 351.6h2.0v2.0h-2.0zM558.9 438.6h2.0v2.0h-2.0zM485.7 408.1h2.0v2.0h-2.0zM584.3 407.0h2.0v2.0h-2.0zM474.0 460.9h2.0v2.0h-2.0zM532.7 425.3h2.0v2.0h-2.0zM393.9 470.9h2.0v2.0h-2.0zM463.0 388.1h2.0v2.0h-2.0zM461.1 401.1h2.0v2.0h-2.0zM396.0 427.7h2.0v2.0h-2.0zM448.1 498.8h2.0v2.0h-2.0zM573.2 377.8h2.0v2.0h-2.0zM531.1 438.2h2.0v2.0h-2.0zM563.9 452.5h2.0v2.0h-2.0zM518.8 384.9h2.0v2.0h-2.0zM483.5 413.3h2.0v2.0h-2.0zM420.2 450.2h2.0v2.0h-2.0zM485.1 510.5h2.0v2.0h-2.0zM549.1 478.5h2.0v2.0h-2.0zM454.7 472.7h2.0v2.0h-2.0zM503.9 440.4h2.0v2.0h-2.0zM559.2 488.7h2.0v2.0h-2.0zM577.2 433.4h2.0v2.0h-2.0zM395.7 454.7h2.0v2.0h-2.0zM487.0 438.5h2.0v2.0h-2.0zM536.6 468.6h2.0v2.0h-2.0zM511.9 439.5h2.0v2.0h-2.0zM466.6 504.8h2.0v2.0h-2.0zM549.5 419.1h2.0v2.0h-2.0zM481.7 481.0h2.0v2.0h-2.0zM533.4 449.3h2.0v2.0h-2.0zM542.7 448.1h2.0v2.0h-2.0zM578.3 389.2h2.0v2.0h-2.0zM553.9 408.3h2.0v2.0h-2.0zM478.6 406.8h2.0v2.0h-2.0zM407.3 477.5h2.0v2.0h-2.0zM460.4 483.0h2.0v2.0h-2.0zM452.5 457.4h2.0v2.0h-2.0zM586.4 428.9h2.0v2.0h-2.0zM456.8 454.7h2.0v2.0h-2.0zM563.4 424.8h2.0v2.0h-2.0zM515.1 426.9h2.0v2.0h-2.0zM511.5 447.7h2.0v2.0h-2.0zM490.8 450.2h2.0v2.0h-2.0zM436.9 444.0h2.0v2.0h-2.0zM563.6 380.9h2.0v2.0h-2.0zM520.7 395.9h2.0v2.0h-2.0zM550.1 455.2h2.0v2.0h-2.0zM444.9 422.6h2.0v2.0h-2.0zM488.3 435.2h2.0v2.0h-2.0zM470.3 457.2h2.0v2.0h-2.0zM458.3 413.0h2.0v2.0h-2.0zM522.6 445.8h2.0v2.0h-2.0zM544.5 435.1h2.0v2.0h-2.0zM488.6 466.0h2.0v2.0h-2.0zM481.6 481.6h2.0v2.0h-2.0zM440.4 516.5h2.0v2.0h-2.0zM446.5 477.2h2.0v2.0h-2.0zM493.4 525.2h2.0v2.0h-2.0zM518.8 424.6h2.0v2.0h-2.0zM566.8 450.4h2.0v2.0h-2.0zM465.1 494.2h2.0v2.0h-2.0zM433.9 439.3h2.0v2.0h-2.0zM467.0 436.6h2.0v2.0h-2.0zM429.3 435.9h2.0v2.0h-2.0zM410.3 467.1h2.0v2.0h-2.0zM517.7 398.5h2.0v2.0h-2.0zM573.7 467.8h2.0v2.0h-2.0zM462.3 383.5h2.0v2.0h-2.0zM529.9 455.3h2.0v2.0h-2.0zM540.8 444.1h2.0v2.0h-2.0zM544.4 354.7h2.0v2.0h-2.0zM426.8 456.3h2.0v2.0h-2.0zM497.9 470.2h2.0v2.0h-2.0zM491.7 379.0h2.0v2.0h-2.0zM473.5 415.0h2.0v2.0h-2.0zM538.7 428.1h2.0v2.0h-2.0zM454.2 486.8h2.0v2.0h-2.0zM457.5 442.1h2.0v2.0h-2.0zM570.0 386.0h2.0v2.0h-2.0zM495.5 414.5h2.0v2.0h-2.0zM569.6 421.6h2.0v2.0h-2.0zM458.9 483.0h2.0v2.0h-2.0zM532.6 443.8h2.0v2.0h-2.0zM494.5 510.2h2.0v2.0h-2.0zM625.4 375.1h2.0v2.0h-2.0zM484.7 391.9h2.0v2.0h-2.0zM519.7 448.9h2.0v2.0h-2.0zM557.5 470.1h2.0v2.0h-2.0zM489.4 486.9h2.0v2.0h-2.0zM569.1 427.8h2.0v2.0h-2.0zM483.9 419.4h2.0v2.0h-2.0zM454.2 390.3h2.0v2.0h-2.0zM422.9 455.3h2.0v2.0h-2.0zM406.9 452.7h2.0v2.0h-2.0zM465.2 439.7h2.0v2.0h-2.0zM410.6 450.0h2.0v2.0h-2.0zM523.9 404.8h2.0v2.0h-2.0zM598.7 452.6h2.0v2.0h-2.0zM521.0 410.0h2.0v2.0h-2.0zM526.8 430.1h2.0v2.0h-2.0zM443.7 401.0h2.0v2.0h-2.0zM557.4 419.9h2.0v2.0h-2.0zM589.4 436.8h2.0v2.0h-2.0zM389.2 419.4h2.0v2.0h-2.0zM534.7 395.2h2.0v2.0h-2.0zM523.4 444.0h2.0v2.0h-2.0zM592.7 424.4h2.0v2.0h-2.0zM464.5 429.0h2.0v2.0h-2.0zM415.4 438.2h2.0v2.0h-2.0zM529.5 445.4h2.0v2.0h-2.0zM525.5 425.9h2.0v2.0h-2.0zM536.2 437.8h2.0v2.0h-2.0zM523.7 484.2h2.0v2.0h-2.0zM446.5 378.5h2.0v2.0h-2.0zM456.5 443.1h2.0v2.0h-2.0zM541.7 408.3h2.0v2.0h-2.0zM403.8 436.4h2.0v2.0h-2.0zM591.1 419.1h2.0v2.0h-2.0zM469.3 388.0h2.0v2.0h-2.0zM485.2 452.4h2.0v2.0h-2.0zM448.2 442.0h2.0v2.0h-2.0zM548.4 437.4h2.0v2.0h-2.0zM446.4 465.0h2.0v2.0h-2.0zM547.6 475.5h2.0v2.0h-2.0zM505.1 454.7h2.0v2.0h-2.0zM535.7 487.6h2.0v2.0h-2.0zM575.6 429.1h2.0v2.0h-2.0zM432.6 493.5h2.0v2.0h-2.0zM532.2 462.6h2.0v2.0h-2.0zM489.6 419.1h2.0v2.0h-2.0zM501.2 453.8h2.0v2.0h-2.0zM507.4 422.7h2.0v2.0h-2.0zM448.0 441.4h2.0v2.0h-2.0zM471.7 477.8h2.0v2.0h-2.0zM417.5 442.4h2.0v2.0h-2.0zM506.5 388.0h2.0v2.0h-2.0zM445.5 424.0h2.0v2.0h-2.0zM440.2 468.1h2.0v2.0h-2.0zM448.0 462.3h2.0v2.0h-2.0zM408.3 467.5h2.0v2.0h-2.0zM600.2 440.6h2.0v2.0h-2.0zM515.4 510.2h2.0v2.0h-2.0zM597.3 398.4h2.0v2.0h-2.0zM425.6 440.1h2.0v2.0h-2.0zM524.7 438.6h2.0v2.0h-2.0zM506.1 459.4h2.0v2.0h-2.0zM516.1 359.9h2.0v2.0h-2.0zM556.8 432.6h2.0v2.0h-2.0zM491.2 418.3h2.0v2.0h-2.0zM406.8 530.3h2.0v2.0h-2.0zM567.2 413.6h2.0v2.0h-2.0zM500.3 400.0h2.0v2.0h-2.0zM499.8 381.0h2.0v2.0h-2.0zM517.1 440.4h2.0v2.0h-2.0zM496.6 396.9h2.0v2.0h-2.0zM541.8 467.5h2.0v2.0h-2.0zM441.7 490.3h2.0v2.0h-2.0zM541.2 434.8h2.0v2.0h-2.0zM474.7 456.7h2.0v2.0h-2.0zM392.9 444.1h2.0v2.0h-2.0zM399.4 512.3h2.0v2.0h-2.0zM466.5 464.7h2.0v2.0h-2.0zM564.5 443.5h2.0v2.0h-2.0zM492.5 410.4h2.0v2.0h-2.0zM500.4 508.2h2.0v2.0h-2.0zM477.7 471.7h2.0v2.0h-2.0zM522.5 376.0h2.0v2.0h-2.0zM434.7 471.3h2.0v2.0h-2.0zM552.9 353.7h2.0v2.0h-2.0zM521.2 450.7h2.0v2.0h-2.0zM450.0 353.8h2.0v2.0h-2.0zM510.0 464.0h2.0v2.0h-2.0zM519.0 464.3h2.0v2.0h-2.0zM516.7 406.0h2.0v2.0h-2.0zM478.1 484.6h2.0v2.0h-2.0zM499.1 475.9h2.0v2.0h-2.0zM437.5 467.0h2.0v2.0h-2.0zM503.2 379.3h2.0v2.0h-2.0zM539.0 436.0h2.0v2.0h-2.0zM466.9 447.8h2.0v2.0h-2.0zM435.7 454.3h2.0v2.0h-2.0zM530.8 391.4h2.0v2.0h-2.0zM473.5 450.6h2.0v2.0h-2.0zM486.2 441.7h2.0v2.0h-2.0zM545.2 439.6h2.0v2.0h-2.0zM431.6 454.3h2.0v2.0h-2.0zM447.8 483.3h2.0v2.0h-2.0zM567.5 412.7h2.0v2.0h-2.0zM522.5 452.3h2.0v2.0h-2.0zM542.4 413.4h2.0v2.0h-2.0zM533.3 434.4h2.0v2.0h-2.0zM467.1 485.9h2.0v2.0h-2.0zM532.9 401.4h2.0v2.0h-2.0zM548.9 374.3h2.0v2.0h-2.0zM378.9 400.9h2.0v2.0h-2.0zM489.8 391.2h2.0v2.0h-2.0zM470.3 516.7h2.0v2.0h-2.0zM457.6 475.1h2.0v2.0h-2.0zM379.1 472.5h2.0v2.0h-2.0zM559.0 488.2h2.0v2.0h-2.0zM411.0 466.7h2.0v2.0h-2.0zM539.4 352.7h2.0v2.0h-2.0zM574.6 427.0h2.0v2.0h-2.0zM506.6 426.1h2.0v2.0h-2.0zM428.9 477.1h2.0v2.0h-2.0zM512.0 444.8h2.0v2.0h-2.0zM538.0 427.8h2.0v2.0h-2.0zM481.7 504.4h2.0v2.0h-2.0zM457.8 442.8h2.0v2.0h-2.0zM466.5 454.9h2.0v2.0h-2.0zM409.1 482.4h2.0v2.0h-2.0zM519.7 391.2h2.0v2.0h-2.0zM453.4 424.1h2.0v2.0h-2.0zM585.9 403.8h2.0v2.0h-2.0zM534.1 414.4h2.0v2.0h-2.0zM484.8 417.2h2.0v2.0h-2.0zM469.5 508.9h2.0v2.0h-2.0zM430.9 495.5h2.0v2.0h-2.0zM394.5 470.4h2.0v2.0h-2.0zM470.2 407.9h2.0v2.0h-2.0zM491.0 456.0h2.0v2.0h-2.0zM509.8 371.4h2.0v2.0h-2.0zM540.2 467.9h2.0v2.0h-2.0zM461.2 454.7h2.0v2.0h-2.0zM490.6 471.5h2.0v2.0h-2.0zM507.0 457.1h2.0v2.0h-2.0zM572.9 445.6h2.0v2.0h-2.0zM475.1 408.5h2.0v2.0h-2.0zM556.7 420.1h2.0v2.0h-2.0zM446.9 477.6h2.0v2.0h-2.0zM439.9 425.7h2.0v2.0h-2.0zM416.6 479.0h2.0v2.0h-2.0zM535.3 379.0h2.0v2.0h-2.0zM497.3 461.5h2.0v2.0h-2.0zM594.7 468.1h2.0v2.0h-2.0zM500.0 453.6h2.0v2.0h-2.0zM502.8 444.8h2.0v2.0h-2.0zM511.4 486.8h2.0v2.0h-2.0zM395.6 461.3h2.0v2.0h-2.0zM496.8 473.9h2.0v2.0h-2.0zM536.8 448.5h2.0v2.0h-2.0zM481.4 435.5h2.0v2.0h-2.0zM570.1 370.2h2.0v2.0h-2.0zM510.2 399.7h2.0v2.0h-2.0zM402.5 458.5h2.0v2.0h-2.0zM498.1 480.7h2.0v2.0h-2.0zM544.8 379.9h2.0v2.0h-2.0zM528.7 406.9h2.0v2.0h-2.0zM531.8 464.8h2.0v2.0h-2.0zM527.6 445.2h2.0v2.0h-2.0zM558.3 423.1h2.0v2.0h-2.0zM483.3 451.7h2.0v2.0h-2.0zM455.9 443.6h2.0v2.0h-2.0zM503.9 416.0h2.0v2.0h-2.0zM552.3 400.3h2.0v2.0h-2.0zM463.2 461.4h2.0v2.0h-2.0zM519.1 391.6h2.0v2.0h-2.0zM484.7 424.4h2.0v2.0h-2.0zM509.2 487.7h2.0v2.0h-2.0zM471.3 450.6h2.0v2.0h-2.0zM511.2 370.1h2.0v2.0h-2.0zM536.0 365.5h2.0v2.0h-2.0zM532.9 405.2h2.0v2.0h-2.0zM516.4 409.0h2.0v2.0h-2.0zM390.4 504.0h2.0v2.0h-2.0zM486.4 425.5h2.0v2.0h-2.0zM416.1 466.8h2.0v2.0h-2.0zM463.3 457.4h2.0v2.0h-2.0zM484.3 430.8h2.0v2.0h-2.0zM529.4 395.8h2.0v2.0h-2.0zM598.3 447.6h2.0v2.0h-2.0zM501.5 427.2h2.0v2.0h-2.0zM395.8 487.0h2.0v2.0h-2.0zM535.4 477.6h2.0v2.0h-2.0zM481.2 461.7h2.0v2.0h-2.0zM503.5 464.1h2.0v2.0h-2.0zM484.8 406.7h2.0v2.0h-2.0zM478.8 465.4h2.0v2.0h-2.0zM457.5 472.4h2.0v2.0h-2.0zM507.8 441.3h2.0v2.0h-2.0zM433.0 426.6h2.0v2.0h-2.0zM419.9 428.0h2.0v2.0h-2.0zM487.6 512.3h2.0v2.0h-2.0zM498.2 423.3h2.0v2.0h-2.0zM498.8 481.0h2.0v2.0h-2.0zM528.7 436.4h2.0v2.0h-2.0zM535.2 393.4h2.0v2.0h-2.0zM484.2 411.9h2.0v2.0h-2.0zM478.5 435.4h2.0v2.0h-2.0zM574.4 449.3h2.0v2.0h-2.0zM507.5 391.9h2.0v2.0h-2.0zM440.4 425.8h2.0v2.0h-2.0zM515.3 487.3h2.0v2.0h-2.0zM507.4 428.8h2.0v2.0h-2.0zM476.8 448.0h2.0v2.0h-2.0zM527.5 400.1h2.0v2.0h-2.0zM398.5 451.9h2.0v2.0h-2.0zM542.6 436.2h2.0v2.0h-2.0zM495.7 426.7h2.0v2.0h-2.0zM574.0 447.2h2.0v2.0h-2.0zM495.2 487.7h2.0v2.0h-2.0zM528.9 405.9h2.0v2.0h-2.0zM477.8 417.0h2.0v2.0h-2.0zM406.2 481.6h2.0v2.0h-2.0zM574.5 436.8h2.0v2.0h-2.0zM537.5 520.9h2.0v2.0h-2.0zM530.6 473.5h2.0v2.0h-2.0zM470.2 472.1h2.0v2.0h-2.0zM449.3 431.7h2.0v2.0h-2.0zM409.8 417.9h2.0v2.0h-2.0zM530.6 408.9h2.0v2.0h-2.0zM485.2 472.1h2.0v2.0h-2.0zM576.5 379.3h2.0v2.0h-2.0zM472.0 460.3h2.0v2.0h-2.0zM482.5 533.7h2.0v2.0h-2.0zM510.6 493.7h2.0v2.0h-2.0zM511.3 439.5h2.0v2.0h-2.0zM464.1 504.2h2.0v2.0h-2.0zM505.2 406.2h2.0v2.0h-2.0zM438.1 482.1h2.0v2.0h-2.0zM423.8 429.6h2.0v2.0h-2.0zM425.1 433.6h2.0v2.0h-2.0zM453.1 462.6h2.0v2.0h-2.0zM550.3 418.1h2.0v2.0h-2.0zM412.4 490.3h2.0v2.0h-2.0zM475.3 506.9h2.0v2.0h-2.0zM485.3 452.1h2.0v2.0h-2.0zM570.0 423.6h2.0v2.0h-2.0zM484.1 430.0h2.0v2.0h-2.0zM411.3 434.8h2.0v2.0h-2.0zM526.6 435.7h2.0v2.0h-2.0zM491.8 497.5h2.0v2.0h-2.0zM462.6 479.9h2.0v2.0h-2.0zM560.6 455.0h2.0v2.0h-2.0zM521.3 409.6h2.0v2.0h-2.0zM526.9 406.9h2.0v2.0h-2.0zM501.5 453.9h2.0v2.0h-2.0zM506.4 407.1h2.0v2.0h-2.0zM441.3 449.4h2.0v2.0h-2.0zM434.4 439.5h2.0v2.0h-2.0zM552.8 418.4h2.0v2.0h-2.0zM416.6 547.8h2.0v2.0h-2.0zM487.3 432.4h2.0v2.0h-2.0zM560.9 374.6h2.0v2.0h-2.0zM513.3 381.5h2.0v2.0h-2.0zM462.7 412.2h2.0v2.0h-2.0zM436.5 450.9h2.0v2.0h-2.0zM550.6 360.6h2.0v2.0h-2.0zM423.0 493.3h2.0v2.0h-2.0zM441.2 450.2h2.0v2.0h-2.0zM565.4 493.6h2.0v2.0h-2.0zM529.2 364.8h2.0v2.0h-2.0zM449.8 487.4h2.0v2.0h-2.0zM479.1 454.0h2.0v2.0h-2.0zM533.7 397.0h2.0v2.0h-2.0zM424.4 444.5h2.0v2.0h-2.0zM496.9 464.1h2.0v2.0h-2.0zM425.7 446.4h2.0v2.0h-2.0zM465.3 489.2h2.0v2.0h-2.0zM473.2 464.0h2.0v2.0h-2.0zM463.2 472.0h2.0v2.0h-2.0zM423.8 445.8h2.0v2.0h-2.0zM479.7 443.4h2.0v2.0h-2.0zM530.5 380.8h2.0v2.0h-2.0zM387.7 498.6h2.0v2.0h-2.0zM576.1 372.1h2.0v2.0h-2.0zM490.8 484.4h2.0v2.0h-2.0zM452.7 433.7h2.0v2.0h-2.0zM487.4 404.0h2.0v2.0h-2.0zM438.6 462.9h2.0v2.0h-2.0zM532.3 493.4h2.0v2.0h-2.0zM535.9 403.0h2.0v2.0h-2.0zM502.2 428.5h2.0v2.0h-2.0zM446.1 433.0h2.0v2.0h-2.0zM480.1 451.1h2.0v2.0h-2.0zM549.8 467.1h2.0v2.0h-2.0zM454.7 474.5h2.0v2.0h-2.0zM420.2 443.8h2.0v2.0h-2.0zM584.2 408.5h2.0v2.0h-2.0zM506.3 443.2h2.0v2.0h-2.0zM481.4 401.3h2.0v2.0h-2.0zM412.4 488.5h2.0v2.0h-2.0zM457.1 456.5h2.0v2.0h-2.0zM505.2 426.5h2.0v2.0h-2.0zM579.5 405.6h2.0v2.0h-2.0zM505.3 371.1h2.0v2.0h-2.0zM492.3 475.1h2.0v2.0h-2.0zM533.9 434.1h2.0v2.0h-2.0zM388.8 485.8h2.0v2.0h-2.0zM453.7 474.5h2.0v2.0h-2.0zM578.4 383.6h2.0v2.0h-2.0zM430.1 410.9h2.0v2.0h-2.0zM482.4 500.0h2.0v2.0h-2.0zM522.4 408.9h2.0v2.0h-2.0zM516.7 420.0h2.0v2.0h-2.0zM459.3 432.9h2.0v2.0h-2.0zM514.5 405.3h2.0v2.0h-2.0zM535.5 457.5h2.0v2.0h-2.0zM497.6 472.7h2.0v2.0h-2.0zM434.7 466.3h2.0v2.0h-2.0zM501.2 418.8h2.0v2.0h-2.0zM434.1 488.1h2.0v2.0h-2.0zM455.6 460.2h2.0v2.0h-2.0zM529.9 410.8h2.0v2.0h-2.0zM494.4 465.5h2.0v2.0h-2.0zM396.0 469.9h2.0v2.0h-2.0zM536.6 414.3h2.0v2.0h-2.0zM559.2 429.5h2.0v2.0h-2.0zM509.9 460.6h2.0v2.0h-2.0zM488.6 490.0h2.0v2.0h-2.0zM530.8 460.6h2.0v2.0h-2.0zM491.1 432.0h2.0v2.0h-2.0zM528.9 435.0h2.0v2.0h-2.0zM471.7 459.1h2.0v2.0h-2.0zM610.6 462.2h2.0v2.0h-2.0zM555.6 412.5h2.0v2.0h-2.0zM517.8 458.8h2.0v2.0h-2.0zM558.2 400.4h2.0v2.0h-2.0zM585.9 346.8h2.0v2.0h-2.0zM585.4 457.6h2.0v2.0h-2.0zM399.2 478.0h2.0v2.0h-2.0zM534.8 487.3h2.0v2.0h-2.0zM454.5 470.7h2.0v2.0h-2.0zM452.7 429.4h2.0v2.0h-2.0zM479.3 430.6h2.0v2.0h-2.0zM414.3 537.0h2.0v2.0h-2.0zM436.7 430.5h2.0v2.0h-2.0zM445.1 455.2h2.0v2.0h-2.0zM461.6 486.2h2.0v2.0h-2.0zM419.3 472.1h2.0v2.0h-2.0zM496.8 436.8h2.0v2.0h-2.0zM442.3 463.2h2.0v2.0h-2.0zM503.6 418.7h2.0v2.0h-2.0zM508.5 446.0h2.0v2.0h-2.0zM520.6 383.5h2.0v2.0h-2.0zM488.7 434.9h2.0v2.0h-2.0zM431.3 461.6h2.0v2.0h-2.0zM448.9 431.7h2.0v2.0h-2.0zM455.7 436.3h2.0v2.0h-2.0zM483.1 445.8h2.0v2.0h-2.0zM545.6 436.9h2.0v2.0h-2.0zM462.6 451.2h2.0v2.0h-2.0zM521.7 386.5h2.0v2.0h-2.0zM511.9 453.9h2.0v2.0h-2.0zM588.5 424.8h2.0v2.0h-2.0zM453.7 431.9h2.0v2.0h-2.0zM490.3 376.8h2.0v2.0h-2.0zM498.0 399.4h2.0v2.0h-2.0zM491.5 481.7h2.0v2.0h-2.0zM410.0 399.3h2.0v2.0h-2.0zM527.8 455.6h2.0v2.0h-2.0zM479.3 434.0h2.0v2.0h-2.0zM544.8 418.4h2.0v2.0h-2.0zM510.3 415.4h2.0v2.0h-2.0zM451.6 475.5h2.0v2.0h-2.0zM497.1 470.6h2.0v2.0h-2.0zM552.5 442.7h2.0v2.0h-2.0zM471.2 409.1h2.0v2.0h-2.0zM586.5 374.0h2.0v2.0h-2.0zM506.3 414.0h2.0v2.0h-2.0zM430.6 499.5h2.0v2.0h-2.0zM550.6 445.4h2.0v2.0h-2.0zM552.2 431.0h2.0v2.0h-2.0zM411.0 449.9h2.0v2.0h-2.0zM418.3 456.0h2.0v2.0h-2.0zM407.2 508.1h2.0v2.0h-2.0zM564.8 401.9h2.0v2.0h-2.0zM543.5 441.4h2.0v2.0h-2.0zM553.7 442.2h2.0v2.0h-2.0zM567.0 400.3h2.0v2.0h-2.0zM492.2 530.9h2.0v2.0h-2.0zM517.3 507.6h2.0v2.0h-2.0zM467.8 417.0h2.0v2.0h-2.0zM482.0 459.1h2.0v2.0h-2.0zM435.0 427.2h2.0v2.0h-2.0zM391.0 433.7h2.0v2.0h-2.0zM554.2 450.6h2.0v2.0h-2.0zM517.5 418.4h2.0v2.0h-2.0zM495.1 477.7h2.0v2.0h-2.0zM532.7 392.0h2.0v2.0h-2.0zM479.6 432.6h2.0v2.0h-2.0zM573.7 412.6h2.0v2.0h-2.0zM523.5 446.1h2.0v2.0h-2.0zM505.3 463.4h2.0v2.0h-2.0zM525.2 413.0h2.0v2.0h-2.0zM555.9 416.2h2.0v2.0h-2.0zM466.1 513.0h2.0v2.0h-2.0zM522.1 422.4h2.0v2.0h-2.0zM509.1 433.5h2.0v2.0h-2.0zM467.1 444.4h2.0v2.0h-2.0zM513.2 364.1h2.0v2.0h-2.0zM566.6 394.3h2.0v2.0h-2.0zM486.0 526.8h2.0v2.0h-2.0zM470.0 418.4h2.0v2.0h-2.0zM475.0 475.2h2.0v2.0h-2.0zM497.2 475.8h2.0v2.0h-2.0zM562.6 417.6h2.0v2.0h-2.0zM533.9 439.2h2.0v2.0h-2.0zM463.1 483.3h2.0v2.0h-2.0zM488.9 451.1h2.0v2.0h-2.0zM478.1 466.5h2.0v2.0h-2.0zM507.6 479.0h2.0v2.0h-2.0zM519.4 406.0h2.0v2.0h-2.0zM451.0 446.9h2.0v2.0h-2.0zM540.0 458.6h2.0v2.0h-2.0zM405.3 477.3h2.0v2.0h-2.0zM486.5 409.6h2.0v2.0h-2.0zM479.1 425.4h2.0v2.0h-2.0zM410.8 522.5h2.0v2.0h-2.0zM477.4 460.6h2.0v2.0h-2.0zM494.5 452.2h2.0v2.0h-2.0zM443.0 456.5h2.0v2.0h-2.0zM506.7 419.5h2.0v2.0h-2.0zM421.0 466.6h2.0v2.0h-2.0zM540.8 461.8h2.0v2.0h-2.0zM607.7 453.1h2.0v2.0h-2.0zM512.2 437.1h2.0v2.0h-2.0zM454.7 462.5h2.0v2.0h-2.0zM494.1 480.2h2.0v2.0h-2.0zM497.6 441.1h2.0v2.0h-2.0zM550.6 415.6h2.0v2.0h-2.0zM577.1 352.9h2.0v2.0h-2.0zM552.0 453.4h2.0v2.0h-2.0zM526.5 463.4h2.0v2.0h-2.0zM427.4 415.9h2.0v2.0h-2.0zM508.5 398.7h2.0v2.0h-2.0zM499.8 432.1h2.0v2.0h-2.0zM517.8 460.7h2.0v2.0h-2.0zM515.6 400.4h2.0v2.0h-2.0zM551.5 398.9h2.0v2.0h-2.0zM477.3 530.1h2.0v2.0h-2.0zM471.3 474.5h2.0v2.0h-2.0zM458.7 438.8h2.0v2.0h-2.0zM464.9 425.1h2.0v2.0h-2.0zM485.8 390.7h2.0v2.0h-2.0zM560.9 432.7h2.0v2.0h-2.0zM472.7 402.4h2.0v2.0h-2.0zM520.2 428.7h2.0v2.0h-2.0zM504.4 441.6h2.0v2.0h-2.0zM399.7 478.4h2.0v2.0h-2.0zM536.5 403.7h2.0v2.0h-2.0zM486.5 416.7h2.0v2.0h-2.0zM513.4 382.6h2.0v2.0h-2.0zM523.7 433.3h2.0v2.0h-2.0zM445.6 502.1h2.0v2.0h-2.0zM461.9 403.8h2.0v2.0h-2.0zM510.5 448.0h2.0v2.0h-2.0zM539.7 451.5h2.0v2.0h-2.0zM579.9 381.4h2.0v2.0h-2.0zM437.7 472.5h2.0v2.0h-2.0zM539.8 399.5h2.0v2.0h-2.0zM543.1 416.3h2.0v2.0h-2.0zM467.6 503.9h2.0v2.0h-2.0zM587.0 412.2h2.0v2.0h-2.0zM508.7 469.6h2.0v2.0h-2.0zM585.6 382.9h2.0v2.0h-2.0zM429.3 428.7h2.0v2.0h-2.0zM548.3 430.8h2.0v2.0h-2.0zM482.2 459.1h2.0v2.0h-2.0zM408.6 478.2h2.0v2.0h-2.0zM541.4 385.2h2.0v2.0h-2.0zM477.3 457.2h2.0v2.0h-2.0zM470.2 409.8h2.0v2.0h-2.0zM567.7 431.7h2.0v2.0h-2.0zM570.3 392.3h2.0v2.0h-2.0zM438.6 490.1h2.0v2.0h-2.0zM456.2 417.5h2.0v2.0h-2.0zM488.4 462.4h2.0v2.0h-2.0zM566.9 393.3h2.0v2.0h-2.0zM531.1 415.9h2.0v2.0h-2.0zM590.2 431.3h2.0v2.0h-2.0zM471.2 479.2h2.0v2.0h-2.0zM478.0 381.1h2.0v2.0h-2.0zM532.7 426.1h2.0v2.0h-2.0zM425.8 511.1h2.0v2.0h-2.0zM448.2 446.2h2.0v2.0h-2.0zM543.4 395.0h2.0v2.0h-2.0zM519.2 442.3h2.0v2.0h-2.0zM538.0 450.2h2.0v2.0h-2.0zM547.8 425.3h2.0v2.0h-2.0zM445.0 468.3h2.0v2.0h-2.0zM519.7 449.3h2.0v2.0h-2.0zM518.1 437.6h2.0v2.0h-2.0zM466.3 442.4h2.0v2.0h-2.0zM411.9 425.4h2.0v2.0h-2.0zM556.1 384.6h2.0v2.0h-2.0zM537.4 460.4h2.0v2.0h-2.0zM498.3 448.3h2.0v2.0h-2.0zM574.2 379.8h2.0v2.0h-2.0zM499.3 457.4h2.0v2.0h-2.0zM409.1 459.4h2.0v2.0h-2.0zM547.3 419.7h2.0v2.0h-2.0zM559.1 425.5h2.0v2.0h-2.0zM426.6 459.4h2.0v2.0h-2.0zM540.2 452.1h2.0v2.0h-2.0zM435.7 533.2h2.0v2.0h-2.0zM427.6 462.2h2.0v2.0h-2.0zM533.9 409.7h2.0v2.0h-2.0zM562.8 456.3h2.0v2.0h-2.0zM535.8 481.9h2.0v2.0h-2.0zM453.5 430.8h2.0v2.0h-2.0zM527.3 456.2h2.0v2.0h-2.0zM523.2 471.8h2.0v2.0h-2.0zM454.1 424.1h2.0v2.0h-2.0zM544.0 430.5h2.0v2.0h-2.0zM457.5 441.1h2.0v2.0h-2.0zM471.4 445.9h2.0v2.0h-2.0zM551.7 431.4h2.0v2.0h-2.0zM516.6 367.0h2.0v2.0h-2.0zM485.7 447.4h2.0v2.0h-2.0zM523.2 450.9h2.0v2.0h-2.0zM382.7 475.5h2.0v2.0h-2.0zM479.9 481.8h2.0v2.0h-2.0zM471.4 457.2h2.0v2.0h-2.0zM460.9 498.0h2.0v2.0h-2.0zM507.3 396.5h2.0v2.0h-2.0zM504.4 446.4h2.0v2.0h-2.0zM457.7 501.9h2.0v2.0h-2.0zM508.3 468.5h2.0v2.0h-2.0zM454.1 476.4h2.0v2.0h-2.0zM479.5 434.7h2.0v2.0h-2.0zM403.4 445.3h2.0v2.0h-2.0zM584.5 372.3h2.0v2.0h-2.0zM582.3 433.2h2.0v2.0h-2.0zM495.3 425.2h2.0v2.0h-2.0zM397.9 505.3h2.0v2.0h-2.0zM427.4 495.0h2.0v2.0h-2.0zM466.2 437.6h2.0v2.0h-2.0zM506.3 412.6h2.0v2.0h-2.0zM493.9 372.9h2.0v2.0h-2.0zM543.5 385.5h2.0v2.0h-2.0zM473.3 477.5h2.0v2.0h-2.0zM467.8 435.8h2.0v2.0h-2.0zM598.1 446.5h2.0v2.0h-2.0zM563.4 407.2h2.0v2.0h-2.0zM502.4 413.8h2.0v2.0h-2.0zM522.2 412.4h2.0v2.0h-2.0zM468.1 451.5h2.0v2.0h-2.0zM430.0 452.2h2.0v2.0h-2.0zM412.5 443.2h2.0v2.0h-2.0zM511.0 416.8h2.0v2.0h-2.0zM440.7 472.2h2.0v2.0h-2.0zM500.8 473.6h2.0v2.0h-2.0zM448.8 441.6h2.0v2.0h-2.0zM495.2 458.9h2.0v2.0h-2.0zM481.5 455.1h2.0v2.0h-2.0zM575.3 417.8h2.0v2.0h-2.0zM460.7 477.6h2.0v2.0h-2.0zM412.1 453.3h2.0v2.0h-2.0zM573.0 422.6h2.0v2.0h-2.0zM526.2 423.4h2.0v2.0h-2.0zM456.9 461.6h2.0v2.0h-2.0zM516.6 461.4h2.0v2.0h-2.0zM496.0 459.7h2.0v2.0h-2.0zM490.3 467.9h2.0v2.0h-2.0zM506.2 412.3h2.0v2.0h-2.0zM402.4 453.0h2.0v2.0h-2.0zM569.7 382.4h2.0v2.0h-2.0zM465.0 494.1h2.0v2.0h-2.0zM506.7 361.7h2.0v2.0h-2.0zM542.4 392.7h2.0v2.0h-2.0zM520.5 369.4h2.0v2.0h-2.0zM435.9 414.2h2.0v2.0h-2.0zM467.3 466.2h2.0v2.0h-2.0zM442.3 465.3h2.0v2.0h-2.0zM526.3 411.0h2.0v2.0h-2.0zM428.0 479.0h2.0v2.0h-2.0zM413.7 490.2h2.0v2.0h-2.0zM471.0 458.9h2.0v2.0h-2.0zM483.0 476.1h2.0v2.0h-2.0zM547.1 365.6h2.0v2.0h-2.0zM461.8 462.6h2.0v2.0h-2.0zM576.9 382.9h2.0v2.0h-2.0zM545.6 407.6h2.0v2.0h-2.0zM482.8 447.3h2.0v2.0h-2.0zM538.3 442.6h2.0v2.0h-2.0zM479.7 453.2h2.0v2.0h-2.0zM412.3 392.3h2.0v2.0h-2.0zM454.0 444.6h2.0v2.0h-2.0zM415.9 479.1h2.0v2.0h-2.0zM508.6 431.1h2.0v2.0h-2.0zM537.6 389.9h2.0v2.0h-2.0zM447.6 457.1h2.0v2.0h-2.0zM578.6 452.2h2.0v2.0h-2.0zM531.7 419.3h2.0v2.0h-2.0zM447.1 505.7h2.0v2.0h-2.0zM495.9 459.8h2.0v2.0h-2.0zM468.2 389.8h2.0v2.0h-2.0zM465.5 440.4h2.0v2.0h-2.0zM508.6 416.5h2.0v2.0h-2.0zM488.0 455.8h2.0v2.0h-2.0zM529.6 477.0h2.0v2.0h-2.0zM525.5 500.0h2.0v2.0h-2.0zM384.1 512.6h2.0v2.0h-2.0zM555.8 459.3h2.0v2.0h-2.0zM423.4 481.9h2.0v2.0h-2.0zM539.4 374.9h2.0v2.0h-2.0zM479.5 473.9h2.0v2.0h-2.0zM546.9 419.4h2.0v2.0h-2.0zM455.2 449.7h2.0v2.0h-2.0zM487.5 416.5h2.0v2.0h-2.0zM570.8 456.6h2.0v2.0h-2.0zM575.4 455.4h2.0v2.0h-2.0zM463.0 425.5h2.0v2.0h-2.0zM512.4 518.6h2.0v2.0h-2.0zM490.9 388.1h2.0v2.0h-2.0zM475.3 419.3h2.0v2.0h-2.0zM392.7 520.2h2.0v2.0h-2.0zM534.2 459.4h2.0v2.0h-2.0zM467.0 428.3h2.0v2.0h-2.0zM410.6 487.1h2.0v2.0h-2.0zM527.9 353.4h2.0v2.0h-2.0zM417.8 496.1h2.0v2.0h-2.0zM529.2 444.3h2.0v2.0h-2.0zM433.7 475.3h2.0v2.0h-2.0zM427.4 415.4h2.0v2.0h-2.0zM555.8 404.0h2.0v2.0h-2.0zM485.5 418.5h2.0v2.0h-2.0zM535.7 465.3h2.0v2.0h-2.0zM534.3 375.0h2.0v2.0h-2.0zM455.9 504.9h2.0v2.0h-2.0zM443.6 469.2h2.0v2.0h-2.0zM403.9 466.0h2.0v2.0h-2.0zM468.7 425.5h2.0v2.0h-2.0zM521.8 406.2h2.0v2.0h-2.0zM506.3 413.8h2.0v2.0h-2.0zM479.8 435.5h2.0v2.0h-2.0zM474.4 408.4h2.0v2.0h-2.0zM482.0 441.2h2.0v2.0h-2.0zM481.4 358.4h2.0v2.0h-2.0zM477.4 440.7h2.0v2.0h-2.0zM555.7 452.6h2.0v2.0h-2.0zM444.9 482.4h2.0v2.0h-2.0zM463.9 412.8h2.0v2.0h-2.0zM387.6 499.7h2.0v2.0h-2.0zM475.5 408.9h2.0v2.0h-2.0zM499.6 476.5h2.0v2.0h-2.0zM448.6 391.9h2.0v2.0h-2.0zM414.5 457.5h2.0v2.0h-2.0zM472.0 484.3h2.0v2.0h-2.0zM524.7 432.3h2.0v2.0h-2.0zM501.0 405.5h2.0v2.0h-2.0zM504.5 469.8h2.0v2.0h-2.0zM493.3 492.1h2.0v2.0h-2.0zM529.1 425.0h2.0v2.0h-2.0zM484.1 432.4h2.0v2.0h-2.0zM432.2 468.1h2.0v2.0h-2.0zM531.8 419.0h2.0v2.0h-2.0zM439.8 494.5h2.0v2.0h-2.0zM455.8 421.0h2.0v2.0h-2.0zM487.0 469.6h2.0v2.0h-2.0zM480.9 503.2h2.0v2.0h-2.0zM476.9 402.3h2.0v2.0h-2.0zM527.6 414.4h2.0v2.0h-2.0zM442.7 423.7h2.0v2.0h-2.0zM461.6 430.2h2.0v2.0h-2.0zM424.0 469.7h2.0v2.0h-2.0zM478.0 488.1h2.0v2.0h-2.0zM482.9 420.7h2.0v2.0h-2.0zM532.4 471.0h2.0v2.0h-2.0zM528.6 451.9h2.0v2.0h-2.0zM422.8 483.0h2.0v2.0h-2.0zM481.8 455.3h2.0v2.0h-2.0zM497.5 434.3h2.0v2.0h-2.0zM441.0 451.3h2.0v2.0h-2.0zM458.7 397.1h2.0v2.0h-2.0zM443.7 470.8h2.0v2.0h-2.0zM462.0 467.7h2.0v2.0h-2.0zM465.7 495.9h2.0v2.0h-2.0zM576.2 435.2h2.0v2.0h-2.0zM537.2 425.4h2.0v2.0h-2.0zM421.3 471.4h2.0v2.0h-2.0zM483.9 414.0h2.0v2.0h-2.0zM434.8 443.7h2.0v2.0h-2.0zM521.0 463.8h2.0v2.0h-2.0zM495.6 425.5h2.0v2.0h-2.0zM545.6 421.1h2.0v2.0h-2.0zM505.8 401.7h2.0v2.0h-2.0zM476.9 481.5h2.0v2.0h-2.0zM495.8 406.3h2.0v2.0h-2.0zM470.4 378.9h2.0v2.0h-2.0zM417.7 456.1h2.0v2.0h-2.0zM570.0 445.0h2.0v2.0h-2.0zM540.8 462.4h2.0v2.0h-2.0zM409.7 496.3h2.0v2.0h-2.0zM493.0 399.2h2.0v2.0h-2.0zM397.9 487.2h2.0v2.0h-2.0zM545.3 429.7h2.0v2.0h-2.0zM465.7 456.3h2.0v2.0h-2.0zM525.0 444.3h2.0v2.0h-2.0zM496.4 481.3h2.0v2.0h-2.0zM418.8 454.3h2.0v2.0h-2.0zM430.0 467.0h2.0v2.0h-2.0zM544.8 425.9h2.0v2.0h-2.0zM584.9 457.1h2.0v2.0h-2.0zM499.9 455.1h2.0v2.0h-2.0zM482.7 458.5h2.0v2.0h-2.0zM493.0 443.3h2.0v2.0h-2.0zM430.4 410.5h2.0v2.0h-2.0zM488.6 480.6h2.0v2.0h-2.0zM460.2 444.4h2.0v2.0h-2.0zM448.4 460.7h2.0v2.0h-2.0zM389.7 445.3h2.0v2.0h-2.0zM511.4 435.9h2.0v2.0h-2.0zM485.8 382.2h2.0v2.0h-2.0zM510.2 457.9h2.0v2.0h-2.0zM544.0 456.9h2.0v2.0h-2.0zM554.5 520.2h2.0v2.0h-2.0zM482.4 439.3h2.0v2.0h-2.0zM585.1 406.3h2.0v2.0h-2.0zM420.8 416.0h2.0v2.0h-2.0zM481.7 409.9h2.0v2.0h-2.0zM556.3 409.1h2.0v2.0h-2.0zM478.3 497.7h2.0v2.0h-2.0zM449.7 435.8h2.0v2.0h-2.0zM522.1 400.9h2.0v2.0h-2.0zM430.3 491.3h2.0v2.0h-2.0zM554.0 374.5h2.0v2.0h-2.0zM485.5 451.6h2.0v2.0h-2.0zM542.2 450.7h2.0v2.0h-2.0zM530.2 360.3h2.0v2.0h-2.0zM498.0 421.8h2.0v2.0h-2.0zM506.7 456.7h2.0v2.0h-2.0zM526.2 419.3h2.0v2.0h-2.0zM516.7 385.2h2.0v2.0h-2.0zM460.3 443.5h2.0v2.0h-2.0zM549.2 371.6h2.0v2.0h-2.0zM447.6 402.7h2.0v2.0h-2.0zM463.3 439.8h2.0v2.0h-2.0zM511.1 505.8h2.0v2.0h-2.0zM441.7 385.4h2.0v2.0h-2.0zM518.7 483.3h2.0v2.0h-2.0zM453.5 484.5h2.0v2.0h-2.0zM528.1 397.6h2.0v2.0h-2.0zM441.9 404.8h2.0v2.0h-2.0zM499.1 435.9h2.0v2.0h-2.0zM560.7 424.5h2.0v2.0h-2.0zM456.6 433.1h2.0v2.0h-2.0zM559.2 423.3h2.0v2.0h-2.0zM498.4 422.2h2.0v2.0h-2.0zM477.5 426.5h2.0v2.0h-2.0zM528.5 438.1h2.0v2.0h-2.0zM412.9 448.8h2.0v2.0h-2.0zM544.5 416.5h2.0v2.0h-2.0zM518.3 387.5h2.0v2.0h-2.0zM478.7 514.6h2.0v2.0h-2.0zM575.0 431.0h2.0v2.0h-2.0zM377.9 507.0h2.0v2.0h-2.0zM490.9 397.9h2.0v2.0h-2.0zM541.6 450.4h2.0v2.0h-2.0zM563.0 401.8h2.0v2.0h-2.0zM542.4 422.5h2.0v2.0h-2.0zM383.3 487.5h2.0v2.0h-2.0zM480.3 384.9h2.0v2.0h-2.0zM490.5 478.1h2.0v2.0h-2.0zM528.1 449.1h2.0v2.0h-2.0zM408.7 469.7h2.0v2.0h-2.0zM533.6 403.1h2.0v2.0h-2.0zM439.7 454.4h2.0v2.0h-2.0zM435.7 482.6h2.0v2.0h-2.0zM462.2 493.9h2.0v2.0h-2.0zM514.9 495.6h2.0v2.0h-2.0zM436.8 530.0h2.0v2.0h-2.0zM470.0 475.9h2.0v2.0h-2.0zM541.8 407.2h2.0v2.0h-2.0zM495.6 399.1h2.0v2.0h-2.0zM594.9 360.9h2.0v2.0h-2.0zM538.1 378.2h2.0v2.0h-2.0zM549.3 424.4h2.0v2.0h-2.0zM525.3 418.3h2.0v2.0h-2.0zM511.8 442.3h2.0v2.0h-2.0zM426.7 446.9h2.0v2.0h-2.0zM607.5 438.9h2.0v2.0h-2.0zM423.9 457.0h2.0v2.0h-2.0zM520.8 443.0h2.0v2.0h-2.0zM586.8 360.6h2.0v2.0h-2.0zM532.6 430.1h2.0v2.0h-2.0zM503.0 445.7h2.0v2.0h-2.0zM451.3 469.9h2.0v2.0h-2.0zM398.8 488.5h2.0v2.0h-2.0zM610.4 440.9h2.0v2.0h-2.0zM522.4 393.1h2.0v2.0h-2.0zM383.9 502.8h2.0v2.0h-2.0zM493.5 430.0h2.0v2.0h-2.0zM589.7 446.3h2.0v2.0h-2.0zM569.6 396.0h2.0v2.0h-2.0zM489.2 384.8h2.0v2.0h-2.0zM439.7 448.9h2.0v2.0h-2.0zM548.1 410.0h2.0v2.0h-2.0zM569.9 423.8h2.0v2.0h-2.0zM537.4 353.7h2.0v2.0h-2.0zM503.0 485.8h2.0v2.0h-2.0zM467.3 480.6h2.0v2.0h-2.0zM516.8 410.2h2.0v2.0h-2.0zM437.9 444.4h2.0v2.0h-2.0zM566.0 418.3h2.0v2.0h-2.0zM558.7 455.0h2.0v2.0h-2.0zM428.1 435.5h2.0v2.0h-2.0zM466.8 462.0h2.0v2.0h-2.0zM555.1 420.8h2.0v2.0h-2.0zM510.7 402.5h2.0v2.0h-2.0zM536.0 464.4h2.0v2.0h-2.0zM446.6 466.7h2.0v2.0h-2.0zM446.2 499.6h2.0v2.0h-2.0zM554.0 424.2h2.0v2.0h-2.0zM417.2 442.5h2.0v2.0h-2.0zM529.2 407.5h2.0v2.0h-2.0zM401.6 446.6h2.0v2.0h-2.0zM468.3 483.0h2.0v2.0h-2.0zM445.8 450.7h2.0v2.0h-2.0zM511.3 466.1h2.0v2.0h-2.0zM433.4 472.7h2.0v2.0h-2.0zM513.6 465.3h2.0v2.0h-2.0zM486.2 439.0h2.0v2.0h-2.0zM518.0 427.1h2.0v2.0h-2.0zM456.3 469.4h2.0v2.0h-2.0zM532.5 440.6h2.0v2.0h-2.0zM464.8 458.5h2.0v2.0h-2.0zM500.1 454.6h2.0v2.0h-2.0zM385.7 449.0h2.0v2.0h-2.0zM423.7 495.4h2.0v2.0h-2.0zM515.8 459.8h2.0v2.0h-2.0zM529.1 480.4h2.0v2.0h-2.0zM589.4 448.3h2.0v2.0h-2.0zM554.8 432.3h2.0v2.0h-2.0zM533.1 502.6h2.0v2.0h-2.0zM546.8 378.0h2.0v2.0h-2.0zM562.3 482.9h2.0v2.0h-2.0zM620.8 447.9h2.0v2.0h-2.0zM523.6 422.0h2.0v2.0h-2.0zM504.6 379.4h2.0v2.0h-2.0zM533.1 434.2h2.0v2.0h-2.0zM489.5 369.9h2.0v2.0h-2.0zM483.0 464.6h2.0v2.0h-2.0zM429.1 496.3h2.0v2.0h-2.0zM519.6 373.7h2.0v2.0h-2.0zM507.9 410.4h2.0v2.0h-2.0zM461.7 394.7h2.0v2.0h-2.0zM437.7 364.1h2.0v2.0h-2.0zM475.0 461.5h2.0v2.0h-2.0zM501.7 466.5h2.0v2.0h-2.0zM497.1 457.5h2.0v2.0h-2.0zM532.4 355.3h2.0v2.0h-2.0zM479.4 445.7h2.0v2.0h-2.0zM427.9 438.3h2.0v2.0h-2.0zM514.4 469.7h2.0v2.0h-2.0zM474.8 411.9h2.0v2.0h-2.0zM473.2 371.5h2.0v2.0h-2.0zM517.2 432.7h2.0v2.0h-2.0zM527.7 447.0h2.0v2.0h-2.0zM392.2 441.0h2.0v2.0h-2.0zM505.7 446.5h2.0v2.0h-2.0zM480.2 522.8h2.0v2.0h-2.0zM453.5 434.0h2.0v2.0h-2.0zM546.3 393.1h2.0v2.0h-2.0zM547.2 455.9h2.0v2.0h-2.0zM521.3 447.3h2.0v2.0h-2.0zM511.7 412.5h2.0v2.0h-2.0zM417.9 432.8h2.0v2.0h-2.0zM422.6 435.1h2.0v2.0h-2.0zM520.2 457.2h2.0v2.0h-2.0zM482.8 388.8h2.0v2.0h-2.0zM556.7 511.0h2.0v2.0h-2.0zM562.0 393.4h2.0v2.0h-2.0zM451.3 420.0h2.0v2.0h-2.0zM499.1 453.0h2.0v2.0h-2.0zM506.4 436.3h2.0v2.0h-2.0zM450.2 475.3h2.0v2.0h-2.0zM494.5 419.8h2.0v2.0h-2.0zM567.8 399.4h2.0v2.0h-2.0zM455.3 447.8h2.0v2.0h-2.0zM485.6 434.1h2.0v2.0h-2.0zM492.7 407.6h2.0v2.0h-2.0zM562.0 452.3h2.0v2.0h-2.0zM455.5 433.7h2.0v2.0h-2.0zM550.9 469.4h2.0v2.0h-2.0zM445.1 472.9h2.0v2.0h-2.0zM481.7 489.2h2.0v2.0h-2.0zM474.1 500.3h2.0v2.0h-2.0zM469.7 433.3h2.0v2.0h-2.0zM407.9 497.0h2.0v2.0h-2.0zM504.1 387.2h2.0v2.0h-2.0zM417.3 487.4h2.0v2.0h-2.0zM498.8 449.3h2.0v2.0h-2.0zM570.8 451.5h2.0v2.0h-2.0zM502.1 453.9h2.0v2.0h-2.0zM427.7 453.5h2.0v2.0h-2.0zM522.0 414.8h2.0v2.0h-2.0zM506.6 450.6h2.0v2.0h-2.0zM606.1 411.4h2.0v2.0h-2.0zM569.5 394.8h2.0v2.0h-2.0zM590.4 394.2h2.0v2.0h-2.0zM489.2 410.4h2.0v2.0h-2.0zM424.0 503.4h2.0v2.0h-2.0zM500.9 462.0h2.0v2.0h-2.0zM450.5 487.1h2.0v2.0h-2.0zM577.5 470.4h2.0v2.0h-2.0zM519.4 416.1h2.0v2.0h-2.0zM520.9 409.8h2.0v2.0h-2.0zM477.2 420.7h2.0v2.0h-2.0zM517.5 407.6h2.0v2.0h-2.0zM485.3 457.9h2.0v2.0h-2.0zM479.9 490.5h2.0v2.0h-2.0zM510.1 458.6h2.0v2.0h-2.0zM586.5 389.5h2.0v2.0h-2.0zM479.0 461.6h2.0v2.0h-2.0zM472.7 404.7h2.0v2.0h-2.0zM392.6 464.2h2.0v2.0h-2.0zM426.6 431.1h2.0v2.0h-2.0zM451.4 408.2h2.0v2.0h-2.0zM584.2 419.7h2.0v2.0h-2.0zM480.4 386.8h2.0v2.0h-2.0zM483.5 410.4h2.0v2.0h-2.0zM479.9 433.3h2.0v2.0h-2.0zM418.0 436.7h2.0v2.0h-2.0zM469.0 444.4h2.0v2.0h-2.0zM577.1 423.3h2.0v2.0h-2.0zM493.7 448.0h2.0v2.0h-2.0zM421.7 462.1h2.0v2.0h-2.0zM442.4 463.1h2.0v2.0h-2.0zM452.9 450.4h2.0v2.0h-2.0zM605.0 412.6h2.0v2.0h-2.0zM502.9 425.8h2.0v2.0h-2.0zM476.7 387.1h2.0v2.0h-2.0zM475.8 411.8h2.0v2.0h-2.0zM440.9 477.0h2.0v2.0h-2.0zM589.6 423.5h2.0v2.0h-2.0zM493.3 452.3h2.0v2.0h-2.0zM524.6 453.8h2.0v2.0h-2.0zM560.0 410.5h2.0v2.0h-2.0zM511.7 421.1h2.0v2.0h-2.0zM502.3 404.5h2.0v2.0h-2.0zM408.8 461.6h2.0v2.0h-2.0zM513.9 462.8h2.0v2.0h-2.0zM478.7 417.8h2.0v2.0h-2.0zM568.5 418.7h2.0v2.0h-2.0zM592.3 445.8h2.0v2.0h-2.0zM420.8 410.4h2.0v2.0h-2.0zM570.2 462.3h2.0v2.0h-2.0zM619.5 474.1h2.0v2.0h-2.0zM559.3 409.5h2.0v2.0h-2.0zM424.9 490.0h2.0v2.0h-2.0zM453.3 441.8h2.0v2.0h-2.0zM460.9 430.4h2.0v2.0h-2.0zM443.0 498.3h2.0v2.0h-2.0zM528.8 383.3h2.0v2.0h-2.0zM443.5 535.1h2.0v2.0h-2.0zM550.5 453.7h2.0v2.0h-2.0zM498.6 458.0h2.0v2.0h-2.0zM542.7 391.9h2.0v2.0h-2.0zM533.1 421.3h2.0v2.0h-2.0zM470.8 411.4h2.0v2.0h-2.0zM500.9 414.8h2.0v2.0h-2.0zM539.0 416.1h2.0v2.0h-2.0zM552.3 392.6h2.0v2.0h-2.0zM525.0 414.4h2.0v2.0h-2.0zM609.1 447.9h2.0v2.0h-2.0zM486.1 423.0h2.0v2.0h-2.0zM448.3 412.6h2.0v2.0h-2.0zM553.9 478.2h2.0v2.0h-2.0zM414.6 493.9h2.0v2.0h-2.0zM410.5 501.8h2.0v2.0h-2.0zM559.2 473.0h2.0v2.0h-2.0zM558.3 398.9h2.0v2.0h-2.0zM508.1 358.1h2.0v2.0h-2.0zM522.1 483.3h2.0v2.0h-2.0zM415.2 510.9h2.0v2.0h-2.0zM544.3 409.6h2.0v2.0h-2.0zM435.7 415.3h2.0v2.0h-2.0zM425.3 504.3h2.0v2.0h-2.0zM431.2 489.3h2.0v2.0h-2.0zM426.6 462.0h2.0v2.0h-2.0zM490.4 451.1h2.0v2.0h-2.0zM504.9 469.0h2.0v2.0h-2.0zM516.7 445.3h2.0v2.0h-2.0zM571.7 408.6h2.0v2.0h-2.0zM508.2 356.9h2.0v2.0h-2.0zM454.0 501.8h2.0v2.0h-2.0zM407.3 500.9h2.0v2.0h-2.0zM536.4 438.0h2.0v2.0h-2.0zM505.8 458.5h2.0v2.0h-2.0zM398.7 462.2h2.0v2.0h-2.0zM422.3 444.7h2.0v2.0h-2.0zM512.8 469.4h2.0v2.0h-2.0zM438.0 483.0h2.0v2.0h-2.0zM470.0 430.8h2.0v2.0h-2.0zM436.6 454.1h2.0v2.0h-2.0zM567.1 435.5h2.0v2.0h-2.0zM512.3 427.3h2.0v2.0h-2.0zM526.4 460.9h2.0v2.0h-2.0zM491.7 407.3h2.0v2.0h-2.0zM522.2 389.4h2.0v2.0h-2.0zM427.1 500.3h2.0v2.0h-2.0zM468.4 447.8h2.0v2.0h-2.0zM469.2 438.4h2.0v2.0h-2.0zM553.8 427.5h2.0v2.0h-2.0zM514.2 348.6h2.0v2.0h-2.0zM505.4 436.5h2.0v2.0h-2.0zM472.0 448.7h2.0v2.0h-2.0zM482.9 452.7h2.0v2.0h-2.0zM538.9 439.5h2.0v2.0h-2.0zM511.1 413.6h2.0v2.0h-2.0zM461.9 532.3h2.0v2.0h-2.0zM501.8 474.9h2.0v2.0h-2.0zM479.4 465.0h2.0v2.0h-2.0zM576.3 408.4h2.0v2.0h-2.0zM531.5 359.2h2.0v2.0h-2.0zM459.9 479.6h2.0v2.0h-2.0zM401.3 450.6h2.0v2.0h-2.0zM490.1 446.7h2.0v2.0h-2.0zM474.4 390.5h2.0v2.0h-2.0zM547.8 465.3h2.0v2.0h-2.0zM521.5 360.1h2.0v2.0h-2.0zM581.4 455.7h2.0v2.0h-2.0zM461.8 410.7h2.0v2.0h-2.0zM490.6 468.9h2.0v2.0h-2.0zM554.9 388.7h2.0v2.0h-2.0zM452.6 526.8h2.0v2.0h-2.0zM393.9 422.4h2.0v2.0h-2.0zM460.0 424.1h2.0v2.0h-2.0zM406.5 493.8h2.0v2.0h-2.0zM452.3 454.4h2.0v2.0h-2.0zM569.2 480.0h2.0v2.0h-2.0zM489.9 428.9h2.0v2.0h-2.0zM519.8 494.0h2.0v2.0h-2.0zM567.9 369.1h2.0v2.0h-2.0zM554.7 438.0h2.0v2.0h-2.0zM564.9 494.9h2.0v2.0h-2.0zM504.1 414.9h2.0v2.0h-2.0zM493.2 483.7h2.0v2.0h-2.0zM490.9 445.5h2.0v2.0h-2.0zM547.0 411.1h2.0v2.0h-2.0zM525.0 435.6h2.0v2.0h-2.0zM461.8 453.5h2.0v2.0h-2.0zM516.6 433.8h2.0v2.0h-2.0zM485.8 396.0h2.0v2.0h-2.0zM470.8 402.4h2.0v2.0h-2.0zM532.1 392.4h2.0v2.0h-2.0zM497.4 421.2h2.0v2.0h-2.0zM503.4 418.6h2.0v2.0h-2.0zM412.4 501.4h2.0v2.0h-2.0zM459.4 472.4h2.0v2.0h-2.0zM444.1 463.1h2.0v2.0h-2.0zM410.3 454.3h2.0v2.0h-2.0zM490.5 428.5h2.0v2.0h-2.0zM413.0 461.4h2.0v2.0h-2.0zM443.7 532.5h2.0v2.0h-2.0zM518.7 380.3h2.0v2.0h-2.0zM486.7 399.6h2.0v2.0h-2.0zM521.6 455.6h2.0v2.0h-2.0zM422.4 478.2h2.0v2.0h-2.0zM451.0 438.1h2.0v2.0h-2.0zM484.3 423.1h2.0v2.0h-2.0zM571.7 400.2h2.0v2.0h-2.0zM484.6 406.6h2.0v2.0h-2.0zM385.9 469.8h2.0v2.0h-2.0zM503.2 379.4h2.0v2.0h-2.0zM456.5 472.9h2.0v2.0h-2.0zM465.0 456.7h2.0v2.0h-2.0zM469.9 404.0h2.0v2.0h-2.0zM533.0 384.9h2.0v2.0h-2.0zM548.8 375.1h2.0v2.0h-2.0zM486.6 422.4h2.0v2.0h-2.0zM435.2 517.7h2.0v2.0h-2.0zM499.8 400.6h2.0v2.0h-2.0zM437.0 454.1h2.0v2.0h-2.0zM471.6 441.1h2.0v2.0h-2.0zM466.8 457.1h2.0v2.0h-2.0zM442.3 436.8h2.0v2.0h-2.0zM468.7 476.6h2.0v2.0h-2.0zM574.3 424.4h2.0v2.0h-2.0zM523.4 381.3h2.0v2.0h-2.0zM408.8 472.1h2.0v2.0h-2.0zM539.2 396.6h2.0v2.0h-2.0zM536.7 404.5h2.0v2.0h-2.0zM481.6 486.0h2.0v2.0h-2.0zM490.4 490.8h2.0v2.0h-2.0zM550.5 426.2h2.0v2.0h-2.0zM495.8 491.9h2.0v2.0h-2.0zM506.6 446.2h2.0v2.0h-2.0zM498.2 427.1h2.0v2.0h-2.0zM512.0 447.8h2.0v2.0h-2.0zM429.8 461.2h2.0v2.0h-2.0zM570.1 397.7h2.0v2.0h-2.0zM502.4 475.0h2.0v2.0h-2.0zM502.0 415.8h2.0v2.0h-2.0zM479.8 430.9h2.0v2.0h-2.0zM402.1 342.5h2.0v2.0h-2.0zM546.8 460.3h2.0v2.0h-2.0zM455.5 481.6h2.0v2.0h-2.0zM455.0 450.9h2.0v2.0h-2.0zM471.8 474.7h2.0v2.0h-2.0zM625.2 463.3h2.0v2.0h-2.0zM431.3 425.9h2.0v2.0h-2.0zM439.6 497.3h2.0v2.0h-2.0zM488.3 499.3h2.0v2.0h-2.0zM389.8 477.3h2.0v2.0h-2.0zM433.1 425.4h2.0v2.0h-2.0zM457.5 473.5h2.0v2.0h-2.0zM449.3 517.7h2.0v2.0h-2.0zM490.5 430.8h2.0v2.0h-2.0zM526.0 460.9h2.0v2.0h-2.0zM424.3 447.5h2.0v2.0h-2.0zM490.8 438.3h2.0v2.0h-2.0zM501.1 485.2h2.0v2.0h-2.0zM490.5 404.0h2.0v2.0h-2.0zM401.4 535.3h2.0v2.0h-2.0zM466.5 436.2h2.0v2.0h-2.0zM471.7 463.7h2.0v2.0h-2.0zM532.9 445.1h2.0v2.0h-2.0zM457.7 372.9h2.0v2.0h-2.0zM402.3 446.2h2.0v2.0h-2.0zM438.1 444.6h2.0v2.0h-2.0zM477.5 376.5h2.0v2.0h-2.0zM495.6 474.6h2.0v2.0h-2.0zM515.5 452.8h2.0v2.0h-2.0zM544.8 404.6h2.0v2.0h-2.0zM532.8 452.8h2.0v2.0h-2.0zM431.8 487.5h2.0v2.0h-2.0zM600.9 402.0h2.0v2.0h-2.0zM408.7 473.1h2.0v2.0h-2.0zM567.7 393.4h2.0v2.0h-2.0zM415.7 452.1h2.0v2.0h-2.0zM448.7 428.9h2.0v2.0h-2.0zM507.6 440.4h2.0v2.0h-2.0zM543.9 442.8h2.0v2.0h-2.0zM440.7 402.6h2.0v2.0h-2.0zM454.9 447.7h2.0v2.0h-2.0zM484.6 414.9h2.0v2.0h-2.0zM463.3 400.5h2.0v2.0h-2.0zM511.5 446.4h2.0v2.0h-2.0zM465.2 481.5h2.0v2.0h-2.0zM469.0 515.7h2.0v2.0h-2.0zM563.6 455.2h2.0v2.0h-2.0zM496.6 414.7h2.0v2.0h-2.0zM483.4 468.1h2.0v2.0h-2.0zM442.3 444.7h2.0v2.0h-2.0zM391.2 454.2h2.0v2.0h-2.0zM544.7 405.6h2.0v2.0h-2.0zM466.0 474.3h2.0v2.0h-2.0zM487.7 419.6h2.0v2.0h-2.0zM480.4 414.8h2.0v2.0h-2.0zM508.9 439.7h2.0v2.0h-2.0zM416.3 464.6h2.0v2.0h-2.0zM557.7 484.5h2.0v2.0h-2.0zM482.7 397.4h2.0v2.0h-2.0zM501.3 443.1h2.0v2.0h-2.0zM523.5 425.0h2.0v2.0h-2.0zM516.2 358.5h2.0v2.0h-2.0zM502.2 372.7h2.0v2.0h-2.0zM505.2 419.8h2.0v2.0h-2.0zM554.7 508.7h2.0v2.0h-2.0zM407.9 469.5h2.0v2.0h-2.0zM541.6 470.8h2.0v2.0h-2.0zM434.9 456.9h2.0v2.0h-2.0zM499.3 464.5h2.0v2.0h-2.0zM455.9 472.2h2.0v2.0h-2.0zM375.5 487.7h2.0v2.0h-2.0zM546.2 419.0h2.0v2.0h-2.0zM473.2 433.4h2.0v2.0h-2.0zM450.5 438.9h2.0v2.0h-2.0zM483.4 497.1h2.0v2.0h-2.0zM526.5 403.9h2.0v2.0h-2.0zM451.1 477.8h2.0v2.0h-2.0zM472.7 443.2h2.0v2.0h-2.0zM482.2 475.4h2.0v2.0h-2.0zM480.1 454.6h2.0v2.0h-2.0zM476.6 432.3h2.0v2.0h-2.0zM446.6 450.9h2.0v2.0h-2.0zM502.6 432.6h2.0v2.0h-2.0zM477.3 397.2h2.0v2.0h-2.0zM388.9 422.6h2.0v2.0h-2.0zM492.0 447.2h2.0v2.0h-2.0zM474.7 444.0h2.0v2.0h-2.0zM556.5 394.1h2.0v2.0h-2.0zM495.0 385.5h2.0v2.0h-2.0zM480.9 437.2h2.0v2.0h-2.0zM504.7 376.4h2.0v2.0h-2.0zM483.5 473.9h2.0v2.0h-2.0zM578.1 381.0h2.0v2.0h-2.0zM445.4 490.5h2.0v2.0h-2.0zM430.0 457.3h2.0v2.0h-2.0zM490.0 457.3h2.0v2.0h-2.0zM526.3 430.6h2.0v2.0h-2.0zM503.4 448.1h2.0v2.0h-2.0zM455.3 372.9h2.0v2.0h-2.0zM485.2 430.3h2.0v2.0h-2.0zM455.8 477.4h2.0v2.0h-2.0zM450.9 498.5h2.0v2.0h-2.0zM443.0 430.6h2.0v2.0h-2.0zM499.5 436.3h2.0v2.0h-2.0zM507.4 449.9h2.0v2.0h-2.0zM569.8 421.7h2.0v2.0h-2.0zM492.9 459.5h2.0v2.0h-2.0zM508.8 437.8h2.0v2.0h-2.0zM467.2 501.9h2.0v2.0h-2.0zM530.4 414.8h2.0v2.0h-2.0zM542.8 443.6h2.0v2.0h-2.0zM465.0 397.3h2.0v2.0h-2.0zM433.8 497.4h2.0v2.0h-2.0zM500.9 439.8h2.0v2.0h-2.0zM470.9 469.2h2.0v2.0h-2.0zM484.0 468.3h2.0v2.0h-2.0zM597.1 473.4h2.0v2.0h-2.0zM468.1 418.6h2.0v2.0h-2.0zM579.2 369.4h2.0v2.0h-2.0zM516.5 454.0h2.0v2.0h-2.0zM525.3 439.1h2.0v2.0h-2.0zM535.7 459.4h2.0v2.0h-2.0zM458.6 474.1h2.0v2.0h-2.0zM557.4 397.6h2.0v2.0h-2.0zM407.5 451.9h2.0v2.0h-2.0zM530.3 440.4h2.0v2.0h-2.0zM519.9 440.4h2.0v2.0h-2.0zM505.7 439.3h2.0v2.0h-2.0zM444.0 465.8h2.0v2.0h-2.0zM461.4 458.0h2.0v2.0h-2.0zM602.5 432.6h2.0v2.0h-2.0zM454.2 469.7h2.0v2.0h-2.0zM542.0 460.6h2.0v2.0h-2.0zM435.9 438.2h2.0v2.0h-2.0zM582.0 412.3h2.0v2.0h-2.0zM608.3 411.7h2.0v2.0h-2.0zM467.1 449.6h2.0v2.0h-2.0zM457.3 401.3h2.0v2.0h-2.0zM448.6 453.7h2.0v2.0h-2.0zM511.1 471.1h2.0v2.0h-2.0zM463.1 485.1h2.0v2.0h-2.0zM522.4 479.7h2.0v2.0h-2.0zM492.4 456.1h2.0v2.0h-2.0zM526.3 438.8h2.0v2.0h-2.0zM490.4 427.2h2.0v2.0h-2.0zM441.9 431.0h2.0v2.0h-2.0zM512.9 432.6h2.0v2.0h-2.0zM391.0 474.3h2.0v2.0h-2.0zM411.2 466.3h2.0v2.0h-2.0zM567.2 475.8h2.0v2.0h-2.0zM436.4 474.1h2.0v2.0h-2.0zM485.9 427.9h2.0v2.0h-2.0zM553.0 413.8h2.0v2.0h-2.0zM542.8 397.9h2.0v2.0h-2.0zM502.7 424.2h2.0v2.0h-2.0zM589.3 471.4h2.0v2.0h-2.0zM524.2 448.2h2.0v2.0h-2.0zM443.7 499.2h2.0v2.0h-2.0zM410.8 513.0h2.0v2.0h-2.0zM494.5 477.4h2.0v2.0h-2.0zM457.8 401.5h2.0v2.0h-2.0zM396.2 444.3h2.0v2.0h-2.0zM462.0 428.0h2.0v2.0h-2.0zM436.7 461.5h2.0v2.0h-2.0zM397.7 496.9h2.0v2.0h-2.0zM422.9 457.4h2.0v2.0h-2.0zM549.7 417.2h2.0v2.0h-2.0zM443.1 436.5h2.0v2.0h-2.0zM540.9 416.2h2.0v2.0h-2.0zM468.8 545.7h2.0v2.0h-2.0zM557.7 398.5h2.0v2.0h-2.0zM557.2 444.2h2.0v2.0h-2.0zM485.6 419.0h2.0v2.0h-2.0zM596.0 427.9h2.0v2.0h-2.0zM386.6 507.4h2.0v2.0h-2.0zM562.1 466.9h2.0v2.0h-2.0zM524.3 469.8h2.0v2.0h-2.0zM562.3 403.5h2.0v2.0h-2.0zM464.6 399.7h2.0v2.0h-2.0zM529.9 418.4h2.0v2.0h-2.0zM412.4 449.3h2.0v2.0h-2.0zM536.8 365.6h2.0v2.0h-2.0zM464.4 429.0h2.0v2.0h-2.0zM456.9 409.4h2.0v2.0h-2.0zM457.0 404.7h2.0v2.0h-2.0zM456.6 429.2h2.0v2.0h-2.0zM427.6 486.1h2.0v2.0h-2.0zM502.5 456.1h2.0v2.0h-2.0zM559.5 433.4h2.0v2.0h-2.0zM411.4 459.3h2.0v2.0h-2.0zM432.2 448.5h2.0v2.0h-2.0zM590.9 404.5h2.0v2.0h-2.0zM543.9 452.6h2.0v2.0h-2.0zM508.7 399.3h2.0v2.0h-2.0zM441.6 448.5h2.0v2.0h-2.0zM511.1 443.6h2.0v2.0h-2.0zM415.3 484.0h2.0v2.0h-2.0zM415.5 502.8h2.0v2.0h-2.0zM443.1 474.5h2.0v2.0h-2.0zM435.5 483.3h2.0v2.0h-2.0zM451.5 440.7h2.0v2.0h-2.0zM419.8 436.2h2.0v2.0h-2.0zM485.9 563.1h2.0v2.0h-2.0zM433.8 425.1h2.0v2.0h-2.0zM420.7 451.0h2.0v2.0h-2.0zM461.5 467.4h2.0v2.0h-2.0zM425.5 481.0h2.0v2.0h-2.0zM451.2 506.4h2.0v2.0h-2.0zM408.7 486.8h2.0v2.0h-2.0zM550.0 392.2h2.0v2.0h-2.0zM441.6 478.7h2.0v2.0h-2.0zM468.1 473.8h2.0v2.0h-2.0zM481.7 458.3h2.0v2.0h-2.0zM609.9 399.0h2.0v2.0h-2.0zM515.9 419.5h2.0v2.0h-2.0zM516.0 366.0h2.0v2.0h-2.0zM464.6 472.7h2.0v2.0h-2.0zM503.0 464.0h2.0v2.0h-2.0zM500.2 424.6h2.0v2.0h-2.0zM444.4 478.2h2.0v2.0h-2.0zM479.2 425.4h2.0v2.0h-2.0zM485.7 449.1h2.0v2.0h-2.0zM540.0 420.4h2.0v2.0h-2.0zM533.0 433.1h2.0v2.0h-2.0zM508.7 464.0h2.0v2.0h-2.0zM439.5 398.6h2.0v2.0h-2.0zM501.7 429.5h2.0v2.0h-2.0zM592.1 397.5h2.0v2.0h-2.0zM480.9 445.1h2.0v2.0h-2.0zM536.0 414.1h2.0v2.0h-2.0zM470.3 485.6h2.0v2.0h-2.0zM440.3 471.6h2.0v2.0h-2.0zM528.6 446.2h2.0v2.0h-2.0zM474.6 476.0h2.0v2.0h-2.0zM478.6 455.0h2.0v2.0h-2.0zM426.0 458.7h2.0v2.0h-2.0zM540.4 417.2h2.0v2.0h-2.0zM460.9 448.2h2.0v2.0h-2.0zM490.2 395.0h2.0v2.0h-2.0zM548.2 467.7h2.0v2.0h-2.0zM522.8 457.5h2.0v2.0h-2.0zM552.9 416.0h2.0v2.0h-2.0zM430.5 541.9h2.0v2.0h-2.0zM447.3 432.2h2.0v2.0h-2.0zM514.2 415.7h2.0v2.0h-2.0zM421.0 463.4h2.0v2.0h-2.0zM461.6 468.8h2.0v2.0h-2.0zM588.9 438.9h2.0v2.0h-2.0zM584.6 414.0h2.0v2.0h-2.0zM460.6 398.2h2.0v2.0h-2.0zM523.1 443.4h2.0v2.0h-2.0zM484.0 435.6h2.0v2.0h-2.0zM477.6 390.7h2.0v2.0h-2.0zM527.0 452.8h2.0v2.0h-2.0zM547.5 397.7h2.0v2.0h-2.0zM506.0 467.9h2.0v2.0h-2.0zM480.1 484.5h2.0v2.0h-2.0zM502.0 392.3h2.0v2.0h-2.0zM523.7 417.3h2.0v2.0h-2.0zM461.5 439.2h2.0v2.0h-2.0zM514.3 395.1h2.0v2.0h-2.0zM405.0 470.0h2.0v2.0h-2.0zM531.7 435.9h2.0v2.0h-2.0zM529.2 393.9h2.0v2.0h-2.0zM488.5 389.1h2.0v2.0h-2.0zM398.9 439.3h2.0v2.0h-2.0zM437.8 417.9h2.0v2.0h-2.0zM485.2 450.1h2.0v2.0h-2.0zM416.5 530.6h2.0v2.0h-2.0zM517.3 462.8h2.0v2.0h-2.0zM493.6 449.6h2.0v2.0h-2.0zM449.3 508.7h2.0v2.0h-2.0zM465.7 487.7h2.0v2.0h-2.0zM449.0 466.9h2.0v2.0h-2.0zM518.6 411.6h2.0v2.0h-2.0zM405.2 471.0h2.0v2.0h-2.0zM553.6 391.1h2.0v2.0h-2.0zM540.8 424.0h2.0v2.0h-2.0zM614.6 398.8h2.0v2.0h-2.0zM437.5 462.2h2.0v2.0h-2.0zM513.2 490.2h2.0v2.0h-2.0zM527.7 438.3h2.0v2.0h-2.0zM463.6 410.6h2.0v2.0h-2.0zM514.9 444.2h2.0v2.0h-2.0zM528.1 387.9h2.0v2.0h-2.0zM422.5 461.9h2.0v2.0h-2.0zM442.9 447.2h2.0v2.0h-2.0zM491.0 410.2h2.0v2.0h-2.0zM426.7 472.0h2.0v2.0h-2.0zM549.8 428.3h2.0v2.0h-2.0zM551.7 366.9h2.0v2.0h-2.0zM429.8 459.2h2.0v2.0h-2.0zM535.1 354.4h2.0v2.0h-2.0zM574.9 437.3h2.0v2.0h-2.0zM437.0 456.7h2.0v2.0h-2.0zM464.6 409.5h2.0v2.0h-2.0zM419.2 402.2h2.0v2.0h-2.0zM509.7 454.7h2.0v2.0h-2.0zM473.9 457.5h2.0v2.0h-2.0zM451.2 412.6h2.0v2.0h-2.0zM518.0 450.7h2.0v2.0h-2.0zM559.1 415.8h2.0v2.0h-2.0zM469.1 483.4h2.0v2.0h-2.0zM480.0 418.6h2.0v2.0h-2.0zM474.9 425.0h2.0v2.0h-2.0zM466.1 412.4h2.0v2.0h-2.0zM420.0 456.4h2.0v2.0h-2.0zM531.7 493.7h2.0v2.0h-2.0zM580.6 387.9h2.0v2.0h-2.0zM492.0 449.1h2.0v2.0h-2.0zM522.0 490.3h2.0v2.0h-2.0zM575.9 442.7h2.0v2.0h-2.0zM413.4 494.4h2.0v2.0h-2.0zM489.0 460.9h2.0v2.0h-2.0zM416.5 477.9h2.0v2.0h-2.0zM560.4 441.4h2.0v2.0h-2.0zM569.5 440.5h2.0v2.0h-2.0zM436.5 452.7h2.0v2.0h-2.0zM446.8 451.8h2.0v2.0h-2.0zM455.7 401.1h2.0v2.0h-2.0zM452.0 420.3h2.0v2.0h-2.0zM455.5 423.5h2.0v2.0h-2.0zM487.6 447.9h2.0v2.0h-2.0zM394.6 476.3h2.0v2.0h-2.0zM453.1 511.1h2.0v2.0h-2.0zM519.5 419.0h2.0v2.0h-2.0zM516.6 407.3h2.0v2.0h-2.0zM484.9 381.1h2.0v2.0h-2.0zM510.8 368.7h2.0v2.0h-2.0zM556.9 398.7h2.0v2.0h-2.0zM563.0 399.5h2.0v2.0h-2.0zM504.0 459.8h2.0v2.0h-2.0zM411.0 484.4h2.0v2.0h-2.0zM453.8 511.6h2.0v2.0h-2.0zM518.7 440.4h2.0v2.0h-2.0zM479.7 436.0h2.0v2.0h-2.0zM405.8 468.0h2.0v2.0h-2.0zM474.8 422.6h2.0v2.0h-2.0zM446.6 485.4h2.0v2.0h-2.0zM397.4 427.3h2.0v2.0h-2.0zM535.3 427.7h2.0v2.0h-2.0z" fill="#cc7af4"/><path d="M432.0 471.1h2.0v2.0h-2.0zM515.9 438.7h2.0v2.0h-2.0zM488.8 419.6h2.0v2.0h-2.0zM504.8 408.6h2.0v2.0h-2.0zM469.2 413.6h2.0v2.0h-2.0zM476.2 451.1h2.0v2.0h-2.0zM473.6 569.2h2.0v2.0h-2.0zM554.9 471.1h2.0v2.0h-2.0zM482.5 407.2h2.0v2.0h-2.0zM536.0 516.6h2.0v2.0h-2.0zM444.4 411.0h2.0v2.0h-2.0zM511.7 456.2h2.0v2.0h-2.0zM570.9 499.7h2.0v2.0h-2.0zM483.1 482.1h2.0v2.0h-2.0zM540.9 526.5h2.0v2.0h-2.0zM584.1 473.1h2.0v2.0h-2.0zM610.0 427.9h2.0v2.0h-2.0zM468.5 412.6h2.0v2.0h-2.0zM501.4 451.6h2.0v2.0h-2.0zM421.5 465.3h2.0v2.0h-2.0zM530.3 506.0h2.0v2.0h-2.0zM437.7 489.4h2.0v2.0h-2.0zM457.9 459.6h2.0v2.0h-2.0zM548.8 490.6h2.0v2.0h-2.0zM479.7 417.9h2.0v2.0h-2.0zM471.6 520.8h2.0v2.0h-2.0zM470.4 434.0h2.0v2.0h-2.0zM480.4 487.0h2.0v2.0h-2.0zM447.4 530.1h2.0v2.0h-2.0zM536.0 509.1h2.0v2.0h-2.0zM559.7 514.5h2.0v2.0h-2.0zM534.2 519.5h2.0v2.0h-2.0zM497.0 495.8h2.0v2.0h-2.0zM485.7 460.2h2.0v2.0h-2.0zM498.1 512.9h2.0v2.0h-2.0zM504.9 499.9h2.0v2.0h-2.0zM509.9 481.8h2.0v2.0h-2.0zM444.7 414.4h2.0v2.0h-2.0zM537.4 502.9h2.0v2.0h-2.0zM425.6 490.3h2.0v2.0h-2.0zM535.1 468.6h2.0v2.0h-2.0zM545.2 525.5h2.0v2.0h-2.0zM501.6 489.4h2.0v2.0h-2.0zM471.0 463.2h2.0v2.0h-2.0zM547.9 465.4h2.0v2.0h-2.0zM474.0 406.8h2.0v2.0h-2.0zM454.7 421.7h2.0v2.0h-2.0zM462.9 416.0h2.0v2.0h-2.0zM460.9 406.5h2.0v2.0h-2.0zM536.6 517.5h2.0v2.0h-2.0zM501.5 488.3h2.0v2.0h-2.0zM466.0 528.0h2.0v2.0h-2.0zM466.3 416.5h2.0v2.0h-2.0zM512.5 479.2h2.0v2.0h-2.0zM429.9 427.6h2.0v2.0h-2.0zM480.5 529.1h2.0v2.0h-2.0zM527.3 441.7h2.0v2.0h-2.0zM532.8 460.5h2.0v2.0h-2.0zM513.1 422.5h2.0v2.0h-2.0zM458.9 521.9h2.0v2.0h-2.0zM446.2 414.8h2.0v2.0h-2.0zM488.3 486.4h2.0v2.0h-2.0zM477.6 407.3h2.0v2.0h-2.0zM448.0 379.3h2.0v2.0h-2.0zM476.1 460.2h2.0v2.0h-2.0zM506.6 440.4h2.0v2.0h-2.0zM450.2 384.6h2.0v2.0h-2.0zM562.3 485.7h2.0v2.0h-2.0zM458.0 488.6h2.0v2.0h-2.0zM496.4 501.1h2.0v2.0h-2.0zM490.3 455.9h2.0v2.0h-2.0zM415.0 522.9h2.0v2.0h-2.0zM543.9 488.8h2.0v2.0h-2.0zM510.5 475.9h2.0v2.0h-2.0zM496.3 457.4h2.0v2.0h-2.0zM464.5 540.5h2.0v2.0h-2.0zM488.0 475.4h2.0v2.0h-2.0zM440.3 415.8h2.0v2.0h-2.0zM462.8 538.8h2.0v2.0h-2.0zM543.3 500.2h2.0v2.0h-2.0zM475.3 466.9h2.0v2.0h-2.0zM509.4 486.6h2.0v2.0h-2.0zM514.1 511.1h2.0v2.0h-2.0zM502.2 522.6h2.0v2.0h-2.0zM549.7 446.4h2.0v2.0h-2.0zM500.7 537.9h2.0v2.0h-2.0zM595.6 489.8h2.0v2.0h-2.0zM453.1 530.7h2.0v2.0h-2.0zM472.5 447.4h2.0v2.0h-2.0zM459.9 426.2h2.0v2.0h-2.0zM584.5 472.0h2.0v2.0h-2.0zM493.3 429.2h2.0v2.0h-2.0zM550.7 458.4h2.0v2.0h-2.0zM457.1 410.7h2.0v2.0h-2.0zM494.6 450.4h2.0v2.0h-2.0zM415.4 424.0h2.0v2.0h-2.0zM444.7 408.0h2.0v2.0h-2.0zM508.8 446.5h2.0v2.0h-2.0zM528.0 486.7h2.0v2.0h-2.0zM534.4 462.9h2.0v2.0h-2.0zM526.6 422.7h2.0v2.0h-2.0zM518.0 505.5h2.0v2.0h-2.0zM436.8 533.2h2.0v2.0h-2.0zM443.9 445.0h2.0v2.0h-2.0zM519.2 462.4h2.0v2.0h-2.0zM552.5 468.3h2.0v2.0h-2.0zM417.0 536.6h2.0v2.0h-2.0zM457.4 403.7h2.0v2.0h-2.0zM426.0 423.7h2.0v2.0h-2.0zM400.8 508.4h2.0v2.0h-2.0zM504.7 510.6h2.0v2.0h-2.0zM518.2 459.3h2.0v2.0h-2.0zM537.2 487.3h2.0v2.0h-2.0zM499.4 509.0h2.0v2.0h-2.0zM519.4 493.6h2.0v2.0h-2.0zM472.1 406.0h2.0v2.0h-2.0zM481.0 497.8h2.0v2.0h-2.0zM475.3 459.8h2.0v2.0h-2.0zM560.0 549.3h2.0v2.0h-2.0zM494.4 398.0h2.0v2.0h-2.0zM439.0 402.9h2.0v2.0h-2.0zM550.9 459.1h2.0v2.0h-2.0zM517.0 448.3h2.0v2.0h-2.0zM448.0 387.6h2.0v2.0h-2.0zM512.6 439.2h2.0v2.0h-2.0zM473.0 515.5h2.0v2.0h-2.0zM451.3 402.3h2.0v2.0h-2.0zM508.6 449.6h2.0v2.0h-2.0zM503.8 409.5h2.0v2.0h-2.0zM466.2 433.5h2.0v2.0h-2.0zM479.2 446.3h2.0v2.0h-2.0zM586.5 498.1h2.0v2.0h-2.0zM501.3 506.1h2.0v2.0h-2.0zM488.0 444.7h2.0v2.0h-2.0zM523.5 425.1h2.0v2.0h-2.0zM473.3 505.0h2.0v2.0h-2.0zM447.8 461.1h2.0v2.0h-2.0zM434.6 423.3h2.0v2.0h-2.0zM462.5 372.4h2.0v2.0h-2.0zM495.3 492.3h2.0v2.0h-2.0zM583.4 448.9h2.0v2.0h-2.0zM542.1 504.5h2.0v2.0h-2.0zM541.9 505.7h2.0v2.0h-2.0zM516.1 465.9h2.0v2.0h-2.0zM486.6 462.0h2.0v2.0h-2.0zM467.0 415.4h2.0v2.0h-2.0zM449.9 399.9h2.0v2.0h-2.0zM440.4 473.3h2.0v2.0h-2.0zM521.6 442.0h2.0v2.0h-2.0zM489.8 483.2h2.0v2.0h-2.0zM450.8 462.3h2.0v2.0h-2.0zM495.2 460.1h2.0v2.0h-2.0zM466.6 463.3h2.0v2.0h-2.0zM506.6 486.4h2.0v2.0h-2.0zM475.0 392.8h2.0v2.0h-2.0zM454.1 453.7h2.0v2.0h-2.0zM436.7 426.1h2.0v2.0h-2.0zM492.3 501.5h2.0v2.0h-2.0zM566.0 446.1h2.0v2.0h-2.0zM462.7 419.8h2.0v2.0h-2.0zM420.5 421.9h2.0v2.0h-2.0zM427.6 436.6h2.0v2.0h-2.0zM502.1 466.3h2.0v2.0h-2.0zM441.9 430.1h2.0v2.0h-2.0zM474.4 408.7h2.0v2.0h-2.0zM532.2 475.4h2.0v2.0h-2.0zM585.6 428.1h2.0v2.0h-2.0zM603.0 506.4h2.0v2.0h-2.0zM516.4 469.9h2.0v2.0h-2.0zM504.4 475.9h2.0v2.0h-2.0zM492.9 434.3h2.0v2.0h-2.0zM537.2 527.0h2.0v2.0h-2.0zM529.3 477.0h2.0v2.0h-2.0zM489.1 481.4h2.0v2.0h-2.0zM520.4 477.1h2.0v2.0h-2.0zM514.8 523.0h2.0v2.0h-2.0zM490.8 481.8h2.0v2.0h-2.0zM420.9 388.1h2.0v2.0h-2.0zM504.2 492.8h2.0v2.0h-2.0zM452.9 431.6h2.0v2.0h-2.0zM485.4 421.5h2.0v2.0h-2.0zM435.3 392.0h2.0v2.0h-2.0zM590.5 501.2h2.0v2.0h-2.0zM450.9 542.4h2.0v2.0h-2.0zM532.8 434.4h2.0v2.0h-2.0zM471.8 412.6h2.0v2.0h-2.0zM519.0 476.4h2.0v2.0h-2.0zM464.8 485.6h2.0v2.0h-2.0zM491.4 488.7h2.0v2.0h-2.0zM442.1 411.9h2.0v2.0h-2.0zM418.7 424.4h2.0v2.0h-2.0zM490.8 427.1h2.0v2.0h-2.0zM531.3 502.1h2.0v2.0h-2.0zM549.5 432.8h2.0v2.0h-2.0zM432.3 402.7h2.0v2.0h-2.0zM458.4 453.4h2.0v2.0h-2.0zM444.1 458.4h2.0v2.0h-2.0zM448.2 526.9h2.0v2.0h-2.0zM482.4 483.4h2.0v2.0h-2.0zM491.9 441.4h2.0v2.0h-2.0zM466.1 421.4h2.0v2.0h-2.0zM469.8 504.7h2.0v2.0h-2.0zM406.1 414.9h2.0v2.0h-2.0zM492.1 543.3h2.0v2.0h-2.0zM588.3 457.1h2.0v2.0h-2.0zM547.1 528.1h2.0v2.0h-2.0zM530.2 472.5h2.0v2.0h-2.0zM462.8 454.3h2.0v2.0h-2.0zM544.6 530.7h2.0v2.0h-2.0zM494.4 474.8h2.0v2.0h-2.0zM501.3 479.8h2.0v2.0h-2.0zM537.8 447.0h2.0v2.0h-2.0zM448.9 403.3h2.0v2.0h-2.0zM518.2 485.6h2.0v2.0h-2.0zM439.8 416.2h2.0v2.0h-2.0zM506.3 475.5h2.0v2.0h-2.0zM471.0 427.4h2.0v2.0h-2.0zM597.9 450.1h2.0v2.0h-2.0zM467.9 423.5h2.0v2.0h-2.0zM473.5 493.3h2.0v2.0h-2.0zM572.0 502.2h2.0v2.0h-2.0zM497.6 497.6h2.0v2.0h-2.0zM483.4 471.2h2.0v2.0h-2.0zM444.8 415.0h2.0v2.0h-2.0zM449.5 475.8h2.0v2.0h-2.0zM463.5 421.4h2.0v2.0h-2.0zM442.8 412.8h2.0v2.0h-2.0zM480.3 406.3h2.0v2.0h-2.0zM460.2 382.2h2.0v2.0h-2.0zM426.2 392.2h2.0v2.0h-2.0zM478.6 433.5h2.0v2.0h-2.0zM417.8 534.1h2.0v2.0h-2.0zM514.5 479.0h2.0v2.0h-2.0zM495.3 476.4h2.0v2.0h-2.0zM454.3 443.8h2.0v2.0h-2.0zM445.3 412.0h2.0v2.0h-2.0zM506.1 474.1h2.0v2.0h-2.0zM561.2 506.9h2.0v2.0h-2.0zM465.9 468.1h2.0v2.0h-2.0zM502.1 473.5h2.0v2.0h-2.0zM548.8 461.6h2.0v2.0h-2.0zM516.4 461.7h2.0v2.0h-2.0zM389.7 522.7h2.0v2.0h-2.0zM473.9 481.2h2.0v2.0h-2.0zM454.4 529.7h2.0v2.0h-2.0zM475.2 379.6h2.0v2.0h-2.0zM525.4 447.9h2.0v2.0h-2.0zM576.8 496.8h2.0v2.0h-2.0zM487.8 414.3h2.0v2.0h-2.0zM571.2 494.0h2.0v2.0h-2.0zM455.2 548.4h2.0v2.0h-2.0zM488.4 434.0h2.0v2.0h-2.0zM505.5 493.3h2.0v2.0h-2.0zM438.6 434.7h2.0v2.0h-2.0zM503.7 446.9h2.0v2.0h-2.0zM455.1 435.4h2.0v2.0h-2.0zM564.6 484.4h2.0v2.0h-2.0zM534.6 476.6h2.0v2.0h-2.0zM471.8 461.3h2.0v2.0h-2.0zM480.9 450.4h2.0v2.0h-2.0zM529.4 491.3h2.0v2.0h-2.0zM505.0 452.5h2.0v2.0h-2.0zM529.6 474.5h2.0v2.0h-2.0zM504.9 446.3h2.0v2.0h-2.0zM504.0 436.7h2.0v2.0h-2.0zM439.1 405.4h2.0v2.0h-2.0zM558.6 501.7h2.0v2.0h-2.0zM481.8 411.5h2.0v2.0h-2.0zM489.5 558.5h2.0v2.0h-2.0zM468.2 464.8h2.0v2.0h-2.0zM406.4 387.2h2.0v2.0h-2.0zM483.0 441.7h2.0v2.0h-2.0zM492.1 471.7h2.0v2.0h-2.0zM496.9 515.9h2.0v2.0h-2.0zM520.0 446.5h2.0v2.0h-2.0zM557.4 535.6h2.0v2.0h-2.0zM534.3 438.5h2.0v2.0h-2.0zM420.5 393.0h2.0v2.0h-2.0zM464.9 492.6h2.0v2.0h-2.0zM454.6 509.5h2.0v2.0h-2.0zM552.2 552.2h2.0v2.0h-2.0zM478.6 513.3h2.0v2.0h-2.0zM408.6 420.5h2.0v2.0h-2.0zM440.6 402.9h2.0v2.0h-2.0zM523.5 416.7h2.0v2.0h-2.0zM546.9 505.2h2.0v2.0h-2.0zM540.4 508.8h2.0v2.0h-2.0zM461.0 419.3h2.0v2.0h-2.0zM501.3 549.5h2.0v2.0h-2.0zM562.5 489.9h2.0v2.0h-2.0zM464.4 439.7h2.0v2.0h-2.0zM481.0 515.0h2.0v2.0h-2.0zM463.1 396.9h2.0v2.0h-2.0zM531.9 502.0h2.0v2.0h-2.0zM493.6 424.9h2.0v2.0h-2.0zM563.5 504.5h2.0v2.0h-2.0zM457.1 512.2h2.0v2.0h-2.0zM428.9 422.3h2.0v2.0h-2.0zM485.1 451.5h2.0v2.0h-2.0zM515.3 521.2h2.0v2.0h-2.0zM460.3 437.8h2.0v2.0h-2.0zM442.1 420.4h2.0v2.0h-2.0zM567.1 441.3h2.0v2.0h-2.0zM447.3 403.9h2.0v2.0h-2.0zM470.5 430.7h2.0v2.0h-2.0zM471.5 421.6h2.0v2.0h-2.0zM486.1 402.5h2.0v2.0h-2.0zM515.8 508.3h2.0v2.0h-2.0zM491.2 423.6h2.0v2.0h-2.0zM494.3 478.1h2.0v2.0h-2.0zM554.9 492.2h2.0v2.0h-2.0zM492.1 515.3h2.0v2.0h-2.0zM556.4 523.2h2.0v2.0h-2.0zM521.0 533.8h2.0v2.0h-2.0zM475.1 505.4h2.0v2.0h-2.0zM443.9 436.0h2.0v2.0h-2.0zM562.0 508.3h2.0v2.0h-2.0zM449.9 409.7h2.0v2.0h-2.0zM491.3 402.3h2.0v2.0h-2.0zM419.1 398.1h2.0v2.0h-2.0zM481.3 453.4h2.0v2.0h-2.0zM495.9 450.5h2.0v2.0h-2.0zM491.9 533.4h2.0v2.0h-2.0zM467.0 432.5h2.0v2.0h-2.0zM477.0 446.5h2.0v2.0h-2.0zM519.6 466.1h2.0v2.0h-2.0zM446.5 412.4h2.0v2.0h-2.0zM433.3 398.7h2.0v2.0h-2.0zM503.3 395.4h2.0v2.0h-2.0zM587.6 462.0h2.0v2.0h-2.0zM441.0 397.9h2.0v2.0h-2.0zM573.8 522.9h2.0v2.0h-2.0zM569.0 497.2h2.0v2.0h-2.0zM523.6 436.7h2.0v2.0h-2.0zM531.6 427.0h2.0v2.0h-2.0zM404.0 395.1h2.0v2.0h-2.0zM553.9 472.5h2.0v2.0h-2.0zM437.6 401.0h2.0v2.0h-2.0zM512.2 463.4h2.0v2.0h-2.0zM498.1 466.2h2.0v2.0h-2.0zM469.0 441.4h2.0v2.0h-2.0zM510.3 506.6h2.0v2.0h-2.0zM465.0 511.7h2.0v2.0h-2.0zM552.3 485.2h2.0v2.0h-2.0zM466.9 405.1h2.0v2.0h-2.0zM458.6 501.6h2.0v2.0h-2.0zM462.8 397.2h2.0v2.0h-2.0zM503.6 437.8h2.0v2.0h-2.0zM426.1 477.8h2.0v2.0h-2.0zM576.8 433.8h2.0v2.0h-2.0zM392.2 418.5h2.0v2.0h-2.0zM450.3 418.9h2.0v2.0h-2.0zM430.4 513.7h2.0v2.0h-2.0zM518.4 516.4h2.0v2.0h-2.0zM501.4 530.1h2.0v2.0h-2.0zM574.3 452.0h2.0v2.0h-2.0zM464.8 416.6h2.0v2.0h-2.0zM573.2 476.7h2.0v2.0h-2.0zM573.0 501.0h2.0v2.0h-2.0zM566.1 500.5h2.0v2.0h-2.0zM417.5 435.3h2.0v2.0h-2.0zM442.8 399.1h2.0v2.0h-2.0zM543.6 515.5h2.0v2.0h-2.0zM478.6 446.3h2.0v2.0h-2.0zM464.7 412.7h2.0v2.0h-2.0zM461.3 430.6h2.0v2.0h-2.0zM445.4 448.6h2.0v2.0h-2.0zM568.8 497.7h2.0v2.0h-2.0zM476.8 508.4h2.0v2.0h-2.0zM555.2 499.3h2.0v2.0h-2.0zM532.5 509.0h2.0v2.0h-2.0zM487.9 481.8h2.0v2.0h-2.0zM523.3 519.2h2.0v2.0h-2.0zM432.9 394.9h2.0v2.0h-2.0zM552.1 529.4h2.0v2.0h-2.0zM470.3 408.4h2.0v2.0h-2.0zM566.8 532.7h2.0v2.0h-2.0zM493.8 523.6h2.0v2.0h-2.0zM432.4 404.0h2.0v2.0h-2.0zM488.2 391.4h2.0v2.0h-2.0zM604.9 451.7h2.0v2.0h-2.0zM513.9 442.5h2.0v2.0h-2.0zM432.8 391.3h2.0v2.0h-2.0zM541.5 491.6h2.0v2.0h-2.0zM464.4 487.0h2.0v2.0h-2.0zM553.4 505.7h2.0v2.0h-2.0zM573.7 503.6h2.0v2.0h-2.0zM485.5 425.7h2.0v2.0h-2.0zM541.4 419.9h2.0v2.0h-2.0zM516.2 461.6h2.0v2.0h-2.0zM524.2 470.4h2.0v2.0h-2.0zM472.7 410.8h2.0v2.0h-2.0zM420.6 519.7h2.0v2.0h-2.0zM549.0 495.3h2.0v2.0h-2.0zM451.6 421.0h2.0v2.0h-2.0zM453.8 415.0h2.0v2.0h-2.0zM537.4 476.2h2.0v2.0h-2.0zM551.8 453.5h2.0v2.0h-2.0zM443.7 405.9h2.0v2.0h-2.0zM463.9 435.9h2.0v2.0h-2.0zM508.3 445.8h2.0v2.0h-2.0zM561.6 489.7h2.0v2.0h-2.0zM507.9 425.0h2.0v2.0h-2.0zM512.9 409.6h2.0v2.0h-2.0zM428.3 381.2h2.0v2.0h-2.0zM486.8 407.0h2.0v2.0h-2.0zM545.9 492.9h2.0v2.0h-2.0zM450.0 406.6h2.0v2.0h-2.0zM534.1 481.2h2.0v2.0h-2.0zM476.9 475.1h2.0v2.0h-2.0zM436.6 410.1h2.0v2.0h-2.0zM525.0 420.9h2.0v2.0h-2.0zM448.6 419.0h2.0v2.0h-2.0zM482.5 463.5h2.0v2.0h-2.0zM500.3 492.6h2.0v2.0h-2.0zM464.9 400.7h2.0v2.0h-2.0zM458.3 491.0h2.0v2.0h-2.0zM461.2 439.0h2.0v2.0h-2.0zM416.6 514.2h2.0v2.0h-2.0zM513.4 520.4h2.0v2.0h-2.0zM518.1 473.7h2.0v2.0h-2.0zM485.9 455.7h2.0v2.0h-2.0zM514.3 538.8h2.0v2.0h-2.0zM526.2 445.4h2.0v2.0h-2.0zM488.5 398.9h2.0v2.0h-2.0zM482.0 493.9h2.0v2.0h-2.0zM456.5 428.2h2.0v2.0h-2.0zM495.1 500.1h2.0v2.0h-2.0zM519.2 493.0h2.0v2.0h-2.0zM449.0 459.4h2.0v2.0h-2.0zM503.2 444.4h2.0v2.0h-2.0zM449.2 439.5h2.0v2.0h-2.0zM541.6 507.8h2.0v2.0h-2.0zM460.6 406.2h2.0v2.0h-2.0zM510.6 399.3h2.0v2.0h-2.0zM507.0 498.9h2.0v2.0h-2.0zM450.1 422.5h2.0v2.0h-2.0zM491.1 427.1h2.0v2.0h-2.0zM529.5 497.5h2.0v2.0h-2.0zM477.5 401.6h2.0v2.0h-2.0zM454.5 494.3h2.0v2.0h-2.0zM435.5 419.4h2.0v2.0h-2.0zM501.2 525.3h2.0v2.0h-2.0zM457.6 482.5h2.0v2.0h-2.0zM430.0 422.9h2.0v2.0h-2.0zM496.3 409.1h2.0v2.0h-2.0zM578.2 471.9h2.0v2.0h-2.0zM452.3 392.5h2.0v2.0h-2.0zM500.3 538.7h2.0v2.0h-2.0zM492.4 464.6h2.0v2.0h-2.0zM520.1 527.5h2.0v2.0h-2.0zM417.9 459.4h2.0v2.0h-2.0zM484.1 450.4h2.0v2.0h-2.0zM455.5 407.2h2.0v2.0h-2.0zM511.4 413.2h2.0v2.0h-2.0zM474.7 443.4h2.0v2.0h-2.0zM494.1 533.5h2.0v2.0h-2.0zM484.7 444.2h2.0v2.0h-2.0zM568.0 459.2h2.0v2.0h-2.0zM476.3 393.5h2.0v2.0h-2.0zM512.5 470.1h2.0v2.0h-2.0zM501.6 469.3h2.0v2.0h-2.0zM485.3 448.8h2.0v2.0h-2.0zM594.4 467.5h2.0v2.0h-2.0zM435.5 414.1h2.0v2.0h-2.0zM447.1 463.2h2.0v2.0h-2.0zM519.1 460.4h2.0v2.0h-2.0zM451.5 464.3h2.0v2.0h-2.0zM428.1 455.7h2.0v2.0h-2.0zM432.1 405.7h2.0v2.0h-2.0zM480.2 385.5h2.0v2.0h-2.0zM487.6 533.8h2.0v2.0h-2.0zM476.0 422.0h2.0v2.0h-2.0zM453.6 502.0h2.0v2.0h-2.0zM574.9 461.7h2.0v2.0h-2.0zM462.7 448.7h2.0v2.0h-2.0zM481.9 430.3h2.0v2.0h-2.0zM487.3 444.7h2.0v2.0h-2.0zM534.3 505.4h2.0v2.0h-2.0zM410.3 477.3h2.0v2.0h-2.0zM484.6 421.4h2.0v2.0h-2.0zM531.4 496.5h2.0v2.0h-2.0zM550.9 514.5h2.0v2.0h-2.0zM558.2 452.6h2.0v2.0h-2.0zM512.7 460.2h2.0v2.0h-2.0zM532.2 432.2h2.0v2.0h-2.0zM526.5 528.6h2.0v2.0h-2.0zM448.5 384.8h2.0v2.0h-2.0zM474.1 510.6h2.0v2.0h-2.0zM497.7 460.5h2.0v2.0h-2.0zM571.6 432.8h2.0v2.0h-2.0zM452.2 447.0h2.0v2.0h-2.0zM456.6 492.9h2.0v2.0h-2.0zM410.0 389.7h2.0v2.0h-2.0zM496.1 522.8h2.0v2.0h-2.0zM469.4 499.6h2.0v2.0h-2.0zM535.9 459.9h2.0v2.0h-2.0zM435.2 578.8h2.0v2.0h-2.0zM597.8 495.1h2.0v2.0h-2.0zM536.0 489.3h2.0v2.0h-2.0zM449.5 414.8h2.0v2.0h-2.0zM419.2 453.4h2.0v2.0h-2.0zM486.3 526.3h2.0v2.0h-2.0zM469.0 435.6h2.0v2.0h-2.0zM454.0 369.6h2.0v2.0h-2.0zM528.2 440.5h2.0v2.0h-2.0zM458.7 419.2h2.0v2.0h-2.0zM567.1 492.4h2.0v2.0h-2.0zM546.0 455.8h2.0v2.0h-2.0zM460.5 422.0h2.0v2.0h-2.0zM401.3 438.3h2.0v2.0h-2.0zM461.1 399.6h2.0v2.0h-2.0zM526.1 498.2h2.0v2.0h-2.0zM531.6 507.7h2.0v2.0h-2.0zM469.4 467.9h2.0v2.0h-2.0zM490.9 546.5h2.0v2.0h-2.0zM530.2 488.7h2.0v2.0h-2.0zM466.2 486.9h2.0v2.0h-2.0zM484.2 390.5h2.0v2.0h-2.0zM545.2 507.2h2.0v2.0h-2.0zM457.7 451.4h2.0v2.0h-2.0zM555.6 516.7h2.0v2.0h-2.0zM530.7 486.7h2.0v2.0h-2.0zM559.8 476.6h2.0v2.0h-2.0zM492.9 498.9h2.0v2.0h-2.0zM517.9 508.7h2.0v2.0h-2.0zM560.8 539.3h2.0v2.0h-2.0zM543.6 548.8h2.0v2.0h-2.0zM569.8 458.3h2.0v2.0h-2.0zM416.9 400.8h2.0v2.0h-2.0zM528.4 479.2h2.0v2.0h-2.0zM438.5 555.7h2.0v2.0h-2.0zM468.5 538.3h2.0v2.0h-2.0zM438.9 549.0h2.0v2.0h-2.0zM466.6 432.0h2.0v2.0h-2.0zM588.4 457.3h2.0v2.0h-2.0zM463.2 504.9h2.0v2.0h-2.0zM471.9 522.2h2.0v2.0h-2.0zM425.9 410.7h2.0v2.0h-2.0zM543.0 444.9h2.0v2.0h-2.0zM469.5 542.4h2.0v2.0h-2.0zM557.5 473.5h2.0v2.0h-2.0zM474.1 488.3h2.0v2.0h-2.0zM487.7 447.2h2.0v2.0h-2.0zM436.6 393.4h2.0v2.0h-2.0zM432.5 449.2h2.0v2.0h-2.0zM458.2 516.0h2.0v2.0h-2.0zM530.0 478.2h2.0v2.0h-2.0zM494.4 470.3h2.0v2.0h-2.0zM451.2 424.8h2.0v2.0h-2.0zM541.3 443.8h2.0v2.0h-2.0zM559.2 458.1h2.0v2.0h-2.0zM473.9 427.3h2.0v2.0h-2.0zM507.8 475.7h2.0v2.0h-2.0zM478.2 456.4h2.0v2.0h-2.0zM476.0 444.0h2.0v2.0h-2.0zM464.4 421.7h2.0v2.0h-2.0zM479.1 485.8h2.0v2.0h-2.0zM576.5 465.9h2.0v2.0h-2.0zM498.8 503.6h2.0v2.0h-2.0zM583.8 498.0h2.0v2.0h-2.0zM470.1 468.1h2.0v2.0h-2.0zM518.4 441.8h2.0v2.0h-2.0zM555.1 469.6h2.0v2.0h-2.0zM536.9 491.0h2.0v2.0h-2.0zM494.9 422.3h2.0v2.0h-2.0zM550.5 490.0h2.0v2.0h-2.0zM408.8 457.7h2.0v2.0h-2.0zM514.9 446.0h2.0v2.0h-2.0zM531.7 463.8h2.0v2.0h-2.0zM530.9 488.0h2.0v2.0h-2.0zM463.4 547.2h2.0v2.0h-2.0zM417.8 411.5h2.0v2.0h-2.0zM452.9 410.0h2.0v2.0h-2.0zM497.0 463.6h2.0v2.0h-2.0zM538.9 486.7h2.0v2.0h-2.0zM603.0 439.4h2.0v2.0h-2.0zM501.0 446.1h2.0v2.0h-2.0zM447.5 395.8h2.0v2.0h-2.0zM467.9 420.1h2.0v2.0h-2.0zM480.0 457.5h2.0v2.0h-2.0zM459.8 405.6h2.0v2.0h-2.0zM473.9 470.7h2.0v2.0h-2.0zM459.3 499.7h2.0v2.0h-2.0zM524.6 479.0h2.0v2.0h-2.0zM472.5 420.3h2.0v2.0h-2.0zM523.8 463.4h2.0v2.0h-2.0zM498.7 428.1h2.0v2.0h-2.0zM474.6 458.8h2.0v2.0h-2.0zM502.0 473.4h2.0v2.0h-2.0zM463.0 492.3h2.0v2.0h-2.0zM490.4 472.7h2.0v2.0h-2.0zM437.8 474.6h2.0v2.0h-2.0zM519.2 505.2h2.0v2.0h-2.0zM474.5 381.2h2.0v2.0h-2.0zM439.9 490.7h2.0v2.0h-2.0zM555.3 464.8h2.0v2.0h-2.0zM469.2 496.1h2.0v2.0h-2.0zM483.3 470.9h2.0v2.0h-2.0zM431.2 503.5h2.0v2.0h-2.0zM428.6 383.2h2.0v2.0h-2.0zM459.0 540.9h2.0v2.0h-2.0zM543.7 510.6h2.0v2.0h-2.0zM561.5 451.3h2.0v2.0h-2.0zM454.5 455.7h2.0v2.0h-2.0zM473.7 389.4h2.0v2.0h-2.0zM548.2 510.4h2.0v2.0h-2.0zM542.8 453.7h2.0v2.0h-2.0zM462.8 429.9h2.0v2.0h-2.0zM469.4 439.8h2.0v2.0h-2.0zM533.6 436.1h2.0v2.0h-2.0zM480.6 452.5h2.0v2.0h-2.0zM538.5 529.2h2.0v2.0h-2.0zM496.4 506.8h2.0v2.0h-2.0zM590.3 433.0h2.0v2.0h-2.0zM434.8 417.7h2.0v2.0h-2.0zM520.9 497.6h2.0v2.0h-2.0zM440.7 419.2h2.0v2.0h-2.0zM551.6 458.6h2.0v2.0h-2.0zM432.3 504.5h2.0v2.0h-2.0zM522.6 423.0h2.0v2.0h-2.0zM465.2 473.6h2.0v2.0h-2.0zM459.5 545.9h2.0v2.0h-2.0zM479.0 436.7h2.0v2.0h-2.0zM413.4 390.6h2.0v2.0h-2.0zM428.1 419.6h2.0v2.0h-2.0zM540.8 502.9h2.0v2.0h-2.0zM488.5 463.0h2.0v2.0h-2.0zM518.4 463.4h2.0v2.0h-2.0zM413.4 400.6h2.0v2.0h-2.0zM518.3 520.5h2.0v2.0h-2.0zM515.8 506.5h2.0v2.0h-2.0zM498.9 420.5h2.0v2.0h-2.0zM496.9 483.1h2.0v2.0h-2.0zM564.3 480.3h2.0v2.0h-2.0zM484.2 448.7h2.0v2.0h-2.0zM574.3 490.6h2.0v2.0h-2.0zM545.7 479.1h2.0v2.0h-2.0zM433.1 421.3h2.0v2.0h-2.0zM445.3 529.4h2.0v2.0h-2.0zM487.7 490.0h2.0v2.0h-2.0zM449.6 465.0h2.0v2.0h-2.0zM534.6 468.2h2.0v2.0h-2.0zM494.7 478.9h2.0v2.0h-2.0zM464.4 471.0h2.0v2.0h-2.0zM446.2 429.0h2.0v2.0h-2.0zM469.0 491.1h2.0v2.0h-2.0zM493.6 465.1h2.0v2.0h-2.0zM540.7 473.1h2.0v2.0h-2.0zM548.3 491.9h2.0v2.0h-2.0zM526.8 497.1h2.0v2.0h-2.0zM515.3 499.4h2.0v2.0h-2.0zM522.9 487.6h2.0v2.0h-2.0zM501.5 415.4h2.0v2.0h-2.0zM426.4 421.8h2.0v2.0h-2.0zM506.0 475.5h2.0v2.0h-2.0zM409.5 553.7h2.0v2.0h-2.0zM520.1 477.6h2.0v2.0h-2.0zM548.9 454.3h2.0v2.0h-2.0zM398.5 518.9h2.0v2.0h-2.0zM474.9 498.1h2.0v2.0h-2.0zM443.1 433.8h2.0v2.0h-2.0zM512.2 484.9h2.0v2.0h-2.0zM414.5 437.7h2.0v2.0h-2.0zM497.6 408.6h2.0v2.0h-2.0zM535.6 487.0h2.0v2.0h-2.0zM560.6 472.7h2.0v2.0h-2.0zM486.0 483.7h2.0v2.0h-2.0zM548.1 462.6h2.0v2.0h-2.0zM447.2 487.2h2.0v2.0h-2.0zM478.8 488.1h2.0v2.0h-2.0zM466.7 420.5h2.0v2.0h-2.0zM523.1 492.5h2.0v2.0h-2.0zM545.0 498.4h2.0v2.0h-2.0zM451.1 440.2h2.0v2.0h-2.0zM481.6 441.3h2.0v2.0h-2.0zM549.3 536.9h2.0v2.0h-2.0zM513.0 466.3h2.0v2.0h-2.0zM547.0 485.2h2.0v2.0h-2.0zM441.9 403.0h2.0v2.0h-2.0zM473.2 409.4h2.0v2.0h-2.0zM452.6 445.5h2.0v2.0h-2.0zM492.6 502.5h2.0v2.0h-2.0zM443.4 401.9h2.0v2.0h-2.0zM545.1 492.9h2.0v2.0h-2.0zM436.3 417.8h2.0v2.0h-2.0zM551.6 528.7h2.0v2.0h-2.0zM470.4 433.3h2.0v2.0h-2.0zM471.7 470.3h2.0v2.0h-2.0zM440.8 431.5h2.0v2.0h-2.0zM477.2 533.5h2.0v2.0h-2.0zM441.6 406.2h2.0v2.0h-2.0zM540.1 533.7h2.0v2.0h-2.0zM509.6 480.3h2.0v2.0h-2.0zM457.9 427.3h2.0v2.0h-2.0zM440.3 396.9h2.0v2.0h-2.0zM525.0 429.8h2.0v2.0h-2.0zM456.3 493.0h2.0v2.0h-2.0zM525.2 532.5h2.0v2.0h-2.0zM503.4 479.5h2.0v2.0h-2.0zM464.4 544.4h2.0v2.0h-2.0zM575.7 436.2h2.0v2.0h-2.0zM463.8 471.6h2.0v2.0h-2.0zM465.2 484.0h2.0v2.0h-2.0zM454.5 463.7h2.0v2.0h-2.0zM443.3 429.7h2.0v2.0h-2.0zM499.8 495.6h2.0v2.0h-2.0zM463.4 420.7h2.0v2.0h-2.0zM546.0 521.2h2.0v2.0h-2.0zM431.7 513.1h2.0v2.0h-2.0zM471.4 402.7h2.0v2.0h-2.0zM466.2 417.9h2.0v2.0h-2.0zM513.4 530.7h2.0v2.0h-2.0zM515.3 467.6h2.0v2.0h-2.0zM555.3 491.2h2.0v2.0h-2.0zM426.4 378.4h2.0v2.0h-2.0zM516.8 523.6h2.0v2.0h-2.0zM550.9 517.0h2.0v2.0h-2.0zM456.8 399.2h2.0v2.0h-2.0zM518.5 509.7h2.0v2.0h-2.0zM575.0 518.2h2.0v2.0h-2.0zM497.0 461.1h2.0v2.0h-2.0zM457.1 436.3h2.0v2.0h-2.0zM433.9 413.6h2.0v2.0h-2.0zM516.7 492.3h2.0v2.0h-2.0zM457.2 425.4h2.0v2.0h-2.0zM526.7 486.8h2.0v2.0h-2.0zM464.2 425.1h2.0v2.0h-2.0zM479.9 450.0h2.0v2.0h-2.0zM517.9 485.0h2.0v2.0h-2.0zM490.4 418.0h2.0v2.0h-2.0zM562.0 474.8h2.0v2.0h-2.0zM524.4 480.5h2.0v2.0h-2.0zM514.2 503.1h2.0v2.0h-2.0zM540.0 490.3h2.0v2.0h-2.0zM501.4 485.6h2.0v2.0h-2.0zM475.4 444.9h2.0v2.0h-2.0zM538.7 469.8h2.0v2.0h-2.0zM543.9 466.9h2.0v2.0h-2.0zM604.4 475.4h2.0v2.0h-2.0zM486.4 488.1h2.0v2.0h-2.0zM526.5 489.9h2.0v2.0h-2.0zM436.0 400.4h2.0v2.0h-2.0zM476.9 470.0h2.0v2.0h-2.0zM464.7 525.8h2.0v2.0h-2.0zM501.8 426.0h2.0v2.0h-2.0zM539.3 413.8h2.0v2.0h-2.0zM518.5 476.3h2.0v2.0h-2.0zM516.0 406.0h2.0v2.0h-2.0zM459.0 401.3h2.0v2.0h-2.0zM535.7 525.6h2.0v2.0h-2.0zM452.2 458.7h2.0v2.0h-2.0zM568.6 455.6h2.0v2.0h-2.0zM560.6 505.3h2.0v2.0h-2.0zM516.6 507.8h2.0v2.0h-2.0zM541.6 515.3h2.0v2.0h-2.0zM486.4 451.3h2.0v2.0h-2.0zM543.8 447.3h2.0v2.0h-2.0zM446.7 527.2h2.0v2.0h-2.0zM465.4 429.6h2.0v2.0h-2.0zM575.9 511.0h2.0v2.0h-2.0zM580.3 431.2h2.0v2.0h-2.0zM430.1 395.8h2.0v2.0h-2.0zM444.5 439.1h2.0v2.0h-2.0zM471.1 474.8h2.0v2.0h-2.0zM451.2 372.7h2.0v2.0h-2.0zM526.4 426.5h2.0v2.0h-2.0zM507.2 461.7h2.0v2.0h-2.0zM546.4 504.9h2.0v2.0h-2.0zM430.5 386.8h2.0v2.0h-2.0zM502.3 426.4h2.0v2.0h-2.0zM492.8 495.4h2.0v2.0h-2.0zM425.8 395.6h2.0v2.0h-2.0zM473.3 429.9h2.0v2.0h-2.0zM559.8 497.5h2.0v2.0h-2.0zM423.1 396.8h2.0v2.0h-2.0zM440.5 383.5h2.0v2.0h-2.0zM463.9 395.5h2.0v2.0h-2.0zM511.9 433.9h2.0v2.0h-2.0zM449.0 445.0h2.0v2.0h-2.0zM436.8 448.5h2.0v2.0h-2.0zM464.8 413.9h2.0v2.0h-2.0zM576.3 487.8h2.0v2.0h-2.0zM495.3 457.5h2.0v2.0h-2.0zM502.5 459.2h2.0v2.0h-2.0zM568.2 512.3h2.0v2.0h-2.0zM429.4 412.9h2.0v2.0h-2.0zM457.8 464.2h2.0v2.0h-2.0zM500.6 419.0h2.0v2.0h-2.0zM506.3 482.6h2.0v2.0h-2.0zM421.3 569.1h2.0v2.0h-2.0zM555.0 496.3h2.0v2.0h-2.0zM514.8 546.4h2.0v2.0h-2.0zM430.1 395.3h2.0v2.0h-2.0zM492.5 395.5h2.0v2.0h-2.0zM470.4 443.3h2.0v2.0h-2.0zM516.8 513.3h2.0v2.0h-2.0zM525.6 450.5h2.0v2.0h-2.0zM462.3 401.0h2.0v2.0h-2.0zM423.0 404.7h2.0v2.0h-2.0zM449.9 426.0h2.0v2.0h-2.0zM411.7 398.9h2.0v2.0h-2.0zM452.7 463.4h2.0v2.0h-2.0zM600.1 481.0h2.0v2.0h-2.0zM440.7 385.3h2.0v2.0h-2.0zM484.0 425.1h2.0v2.0h-2.0zM488.0 430.3h2.0v2.0h-2.0zM512.4 447.4h2.0v2.0h-2.0zM557.3 464.5h2.0v2.0h-2.0zM497.7 437.4h2.0v2.0h-2.0zM562.0 488.7h2.0v2.0h-2.0zM547.0 473.8h2.0v2.0h-2.0zM479.3 446.9h2.0v2.0h-2.0zM488.4 429.7h2.0v2.0h-2.0zM441.8 494.7h2.0v2.0h-2.0zM438.0 531.5h2.0v2.0h-2.0zM593.8 481.2h2.0v2.0h-2.0zM528.8 463.9h2.0v2.0h-2.0zM445.8 444.2h2.0v2.0h-2.0zM409.7 442.2h2.0v2.0h-2.0zM422.4 548.6h2.0v2.0h-2.0zM515.3 477.4h2.0v2.0h-2.0zM497.7 442.9h2.0v2.0h-2.0zM555.6 493.9h2.0v2.0h-2.0zM494.6 413.6h2.0v2.0h-2.0zM466.0 447.0h2.0v2.0h-2.0zM492.2 434.3h2.0v2.0h-2.0zM477.9 506.4h2.0v2.0h-2.0zM460.1 521.5h2.0v2.0h-2.0zM391.8 444.4h2.0v2.0h-2.0zM498.6 464.8h2.0v2.0h-2.0zM428.3 442.4h2.0v2.0h-2.0zM451.6 403.8h2.0v2.0h-2.0zM458.3 455.2h2.0v2.0h-2.0zM517.0 497.6h2.0v2.0h-2.0zM476.5 447.8h2.0v2.0h-2.0zM479.2 469.6h2.0v2.0h-2.0zM521.4 449.7h2.0v2.0h-2.0zM463.9 442.8h2.0v2.0h-2.0zM537.4 510.7h2.0v2.0h-2.0zM487.8 517.5h2.0v2.0h-2.0zM457.6 394.7h2.0v2.0h-2.0zM440.2 425.7h2.0v2.0h-2.0z" fill="#f77189"/><path d="M481.9 494.2h2.0v2.0h-2.0zM513.3 474.9h2.0v2.0h-2.0zM502.0 490.4h2.0v2.0h-2.0zM474.2 415.0h2.0v2.0h-2.0zM478.5 512.1h2.0v2.0h-2.0zM505.3 505.0h2.0v2.0h-2.0zM482.0 445.2h2.0v2.0h-2.0zM531.5 474.3h2.0v2.0h-2.0zM496.0 473.5h2.0v2.0h-2.0zM509.7 458.7h2.0v2.0h-2.0zM496.1 536.8h2.0v2.0h-2.0zM484.0 464.4h2.0v2.0h-2.0zM528.0 481.4h2.0v2.0h-2.0zM541.7 444.6h2.0v2.0h-2.0zM487.2 490.8h2.0v2.0h-2.0zM498.4 476.5h2.0v2.0h-2.0zM494.3 500.4h2.0v2.0h-2.0zM503.8 454.6h2.0v2.0h-2.0zM511.5 479.6h2.0v2.0h-2.0zM507.0 445.3h2.0v2.0h-2.0zM496.3 527.5h2.0v2.0h-2.0zM518.5 448.0h2.0v2.0h-2.0zM540.0 516.7h2.0v2.0h-2.0zM425.4 525.0h2.0v2.0h-2.0zM517.8 438.4h2.0v2.0h-2.0zM447.2 513.8h2.0v2.0h-2.0zM520.7 481.5h2.0v2.0h-2.0zM430.6 535.0h2.0v2.0h-2.0zM511.9 416.7h2.0v2.0h-2.0zM527.6 499.3h2.0v2.0h-2.0zM497.2 404.1h2.0v2.0h-2.0zM507.1 427.7h2.0v2.0h-2.0zM537.0 447.9h2.0v2.0h-2.0zM514.3 423.9h2.0v2.0h-2.0zM438.9 529.6h2.0v2.0h-2.0zM518.0 505.1h2.0v2.0h-2.0zM479.5 455.1h2.0v2.0h-2.0zM512.8 494.8h2.0v2.0h-2.0zM490.2 462.6h2.0v2.0h-2.0zM413.1 517.0h2.0v2.0h-2.0zM535.7 392.9h2.0v2.0h-2.0zM506.8 492.9h2.0v2.0h-2.0zM577.0 459.5h2.0v2.0h-2.0zM527.5 422.8h2.0v2.0h-2.0zM489.1 468.6h2.0v2.0h-2.0zM506.8 493.4h2.0v2.0h-2.0zM446.7 525.9h2.0v2.0h-2.0zM471.5 513.0h2.0v2.0h-2.0zM529.2 521.4h2.0v2.0h-2.0zM495.3 502.1h2.0v2.0h-2.0zM523.4 484.9h2.0v2.0h-2.0zM476.2 375.7h2.0v2.0h-2.0zM524.9 507.3h2.0v2.0h-2.0zM476.1 506.2h2.0v2.0h-2.0zM474.6 492.9h2.0v2.0h-2.0zM473.1 522.7h2.0v2.0h-2.0zM441.5 537.9h2.0v2.0h-2.0zM502.4 400.8h2.0v2.0h-2.0zM516.8 441.6h2.0v2.0h-2.0zM506.3 479.3h2.0v2.0h-2.0zM470.1 535.4h2.0v2.0h-2.0zM523.8 500.2h2.0v2.0h-2.0zM465.8 370.0h2.0v2.0h-2.0zM496.9 452.9h2.0v2.0h-2.0zM521.4 425.3h2.0v2.0h-2.0zM457.9 517.4h2.0v2.0h-2.0zM528.7 428.1h2.0v2.0h-2.0zM514.2 417.6h2.0v2.0h-2.0zM486.2 450.9h2.0v2.0h-2.0zM498.5 501.2h2.0v2.0h-2.0zM473.7 441.7h2.0v2.0h-2.0zM514.8 490.0h2.0v2.0h-2.0zM506.2 552.6h2.0v2.0h-2.0zM496.7 434.4h2.0v2.0h-2.0zM488.8 515.5h2.0v2.0h-2.0zM431.7 539.5h2.0v2.0h-2.0zM504.9 450.3h2.0v2.0h-2.0zM510.1 405.8h2.0v2.0h-2.0zM497.7 504.6h2.0v2.0h-2.0zM507.4 456.2h2.0v2.0h-2.0zM487.6 451.5h2.0v2.0h-2.0zM439.2 535.7h2.0v2.0h-2.0zM528.8 456.2h2.0v2.0h-2.0zM538.0 493.6h2.0v2.0h-2.0zM516.6 498.4h2.0v2.0h-2.0zM483.9 447.3h2.0v2.0h-2.0zM510.7 480.1h2.0v2.0h-2.0zM493.3 431.7h2.0v2.0h-2.0zM480.4 505.9h2.0v2.0h-2.0zM468.1 514.3h2.0v2.0h-2.0zM490.8 473.6h2.0v2.0h-2.0zM496.8 509.0h2.0v2.0h-2.0zM494.4 455.0h2.0v2.0h-2.0zM476.8 445.2h2.0v2.0h-2.0zM539.4 503.2h2.0v2.0h-2.0zM492.3 447.0h2.0v2.0h-2.0zM454.5 501.3h2.0v2.0h-2.0zM490.1 462.1h2.0v2.0h-2.0zM446.9 525.7h2.0v2.0h-2.0zM522.3 444.7h2.0v2.0h-2.0zM487.9 504.2h2.0v2.0h-2.0zM484.0 446.5h2.0v2.0h-2.0zM531.5 413.1h2.0v2.0h-2.0zM546.5 488.4h2.0v2.0h-2.0zM560.3 431.4h2.0v2.0h-2.0zM495.1 438.2h2.0v2.0h-2.0zM502.8 491.7h2.0v2.0h-2.0zM478.3 405.2h2.0v2.0h-2.0zM508.9 401.4h2.0v2.0h-2.0zM495.2 441.7h2.0v2.0h-2.0zM509.4 414.0h2.0v2.0h-2.0zM525.6 421.8h2.0v2.0h-2.0zM514.6 469.6h2.0v2.0h-2.0zM517.5 486.0h2.0v2.0h-2.0zM498.5 412.5h2.0v2.0h-2.0zM484.1 441.0h2.0v2.0h-2.0zM489.0 516.8h2.0v2.0h-2.0zM398.5 535.8h2.0v2.0h-2.0zM522.1 406.0h2.0v2.0h-2.0zM443.1 502.9h2.0v2.0h-2.0zM479.3 503.7h2.0v2.0h-2.0zM499.7 491.8h2.0v2.0h-2.0zM523.4 448.6h2.0v2.0h-2.0zM500.8 389.8h2.0v2.0h-2.0zM490.9 459.9h2.0v2.0h-2.0zM487.4 519.0h2.0v2.0h-2.0zM483.9 478.1h2.0v2.0h-2.0zM477.5 542.7h2.0v2.0h-2.0zM531.3 510.6h2.0v2.0h-2.0zM481.7 506.8h2.0v2.0h-2.0zM450.6 572.1h2.0v2.0h-2.0zM495.1 442.9h2.0v2.0h-2.0zM507.4 397.4h2.0v2.0h-2.0zM507.8 498.4h2.0v2.0h-2.0zM484.0 481.4h2.0v2.0h-2.0zM501.9 539.4h2.0v2.0h-2.0zM593.5 444.4h2.0v2.0h-2.0zM520.7 464.4h2.0v2.0h-2.0zM540.4 478.5h2.0v2.0h-2.0zM477.1 514.1h2.0v2.0h-2.0zM519.2 473.2h2.0v2.0h-2.0zM479.9 537.1h2.0v2.0h-2.0zM493.9 541.5h2.0v2.0h-2.0zM493.6 417.0h2.0v2.0h-2.0zM480.0 382.9h2.0v2.0h-2.0zM498.2 479.9h2.0v2.0h-2.0zM476.2 525.2h2.0v2.0h-2.0zM481.4 432.8h2.0v2.0h-2.0zM531.1 526.6h2.0v2.0h-2.0zM494.5 473.0h2.0v2.0h-2.0zM519.3 508.7h2.0v2.0h-2.0zM442.9 535.0h2.0v2.0h-2.0zM532.6 482.2h2.0v2.0h-2.0zM492.1 483.1h2.0v2.0h-2.0zM490.7 401.3h2.0v2.0h-2.0zM430.6 515.3h2.0v2.0h-2.0zM501.9 406.4h2.0v2.0h-2.0zM522.1 450.2h2.0v2.0h-2.0zM455.1 531.7h2.0v2.0h-2.0zM515.9 471.2h2.0v2.0h-2.0zM500.1 489.3h2.0v2.0h-2.0zM481.0 377.0h2.0v2.0h-2.0zM519.0 421.2h2.0v2.0h-2.0zM527.3 439.4h2.0v2.0h-2.0zM504.8 503.4h2.0v2.0h-2.0zM533.0 416.2h2.0v2.0h-2.0zM492.6 469.8h2.0v2.0h-2.0zM512.2 515.7h2.0v2.0h-2.0zM510.7 516.4h2.0v2.0h-2.0zM459.3 519.3h2.0v2.0h-2.0zM396.5 533.4h2.0v2.0h-2.0zM432.2 529.2h2.0v2.0h-2.0zM489.8 391.2h2.0v2.0h-2.0zM476.9 423.6h2.0v2.0h-2.0zM492.7 471.1h2.0v2.0h-2.0zM495.0 511.6h2.0v2.0h-2.0zM515.4 446.4h2.0v2.0h-2.0zM514.9 461.7h2.0v2.0h-2.0zM470.5 564.2h2.0v2.0h-2.0zM503.4 472.3h2.0v2.0h-2.0zM475.9 459.9h2.0v2.0h-2.0zM503.4 442.9h2.0v2.0h-2.0zM492.4 396.2h2.0v2.0h-2.0zM530.9 439.2h2.0v2.0h-2.0zM480.8 485.4h2.0v2.0h-2.0zM521.5 449.8h2.0v2.0h-2.0zM486.8 433.4h2.0v2.0h-2.0zM491.0 401.0h2.0v2.0h-2.0zM475.5 481.5h2.0v2.0h-2.0zM545.8 567.7h2.0v2.0h-2.0zM513.1 476.4h2.0v2.0h-2.0zM386.4 521.2h2.0v2.0h-2.0zM490.3 482.7h2.0v2.0h-2.0zM493.1 461.7h2.0v2.0h-2.0zM539.7 472.1h2.0v2.0h-2.0zM439.0 555.6h2.0v2.0h-2.0zM425.9 538.2h2.0v2.0h-2.0zM500.9 534.3h2.0v2.0h-2.0zM471.5 436.2h2.0v2.0h-2.0zM533.1 436.8h2.0v2.0h-2.0zM476.8 471.7h2.0v2.0h-2.0zM513.1 439.0h2.0v2.0h-2.0zM488.1 506.1h2.0v2.0h-2.0zM473.0 516.2h2.0v2.0h-2.0zM451.2 531.9h2.0v2.0h-2.0zM405.7 510.7h2.0v2.0h-2.0zM478.2 470.3h2.0v2.0h-2.0zM473.1 396.2h2.0v2.0h-2.0zM431.9 501.1h2.0v2.0h-2.0zM422.2 524.9h2.0v2.0h-2.0zM568.5 444.5h2.0v2.0h-2.0zM569.4 451.8h2.0v2.0h-2.0zM523.3 480.7h2.0v2.0h-2.0zM443.1 523.2h2.0v2.0h-2.0zM430.3 540.5h2.0v2.0h-2.0zM515.5 511.1h2.0v2.0h-2.0zM495.9 377.3h2.0v2.0h-2.0zM538.9 511.7h2.0v2.0h-2.0zM412.2 536.3h2.0v2.0h-2.0zM473.4 469.0h2.0v2.0h-2.0zM524.5 461.7h2.0v2.0h-2.0zM499.7 440.0h2.0v2.0h-2.0zM485.0 490.1h2.0v2.0h-2.0zM490.9 505.2h2.0v2.0h-2.0zM497.1 502.3h2.0v2.0h-2.0zM551.8 447.7h2.0v2.0h-2.0zM511.6 443.5h2.0v2.0h-2.0zM427.6 542.0h2.0v2.0h-2.0zM491.9 439.2h2.0v2.0h-2.0zM474.2 424.9h2.0v2.0h-2.0zM514.9 476.3h2.0v2.0h-2.0zM500.5 471.7h2.0v2.0h-2.0zM500.7 382.7h2.0v2.0h-2.0zM519.7 440.5h2.0v2.0h-2.0zM475.8 450.3h2.0v2.0h-2.0zM500.5 505.1h2.0v2.0h-2.0zM453.4 502.9h2.0v2.0h-2.0zM515.9 454.2h2.0v2.0h-2.0zM511.6 457.4h2.0v2.0h-2.0zM495.8 530.4h2.0v2.0h-2.0zM458.9 412.8h2.0v2.0h-2.0zM481.4 478.0h2.0v2.0h-2.0zM485.8 410.3h2.0v2.0h-2.0zM504.7 467.4h2.0v2.0h-2.0zM471.7 529.8h2.0v2.0h-2.0zM493.9 439.3h2.0v2.0h-2.0zM493.6 474.4h2.0v2.0h-2.0zM522.9 488.7h2.0v2.0h-2.0zM458.5 519.4h2.0v2.0h-2.0zM451.6 547.7h2.0v2.0h-2.0zM428.9 521.3h2.0v2.0h-2.0zM479.8 503.9h2.0v2.0h-2.0zM442.1 519.8h2.0v2.0h-2.0zM478.2 468.7h2.0v2.0h-2.0zM503.8 462.9h2.0v2.0h-2.0zM506.7 453.9h2.0v2.0h-2.0zM537.6 465.3h2.0v2.0h-2.0zM487.5 434.8h2.0v2.0h-2.0zM505.9 417.9h2.0v2.0h-2.0zM505.7 411.3h2.0v2.0h-2.0zM501.9 411.9h2.0v2.0h-2.0zM480.4 419.0h2.0v2.0h-2.0zM494.5 409.8h2.0v2.0h-2.0zM499.8 425.8h2.0v2.0h-2.0zM492.3 540.3h2.0v2.0h-2.0zM497.3 400.4h2.0v2.0h-2.0zM504.6 495.2h2.0v2.0h-2.0zM521.1 493.6h2.0v2.0h-2.0zM530.2 531.1h2.0v2.0h-2.0zM523.2 496.0h2.0v2.0h-2.0zM517.7 460.2h2.0v2.0h-2.0zM507.8 429.1h2.0v2.0h-2.0zM495.6 422.9h2.0v2.0h-2.0zM531.9 402.9h2.0v2.0h-2.0zM422.6 530.6h2.0v2.0h-2.0zM512.0 421.9h2.0v2.0h-2.0zM509.3 534.1h2.0v2.0h-2.0zM436.7 548.0h2.0v2.0h-2.0zM502.2 451.8h2.0v2.0h-2.0zM523.0 467.2h2.0v2.0h-2.0zM460.2 499.9h2.0v2.0h-2.0zM548.6 457.1h2.0v2.0h-2.0zM564.5 433.0h2.0v2.0h-2.0zM510.7 411.6h2.0v2.0h-2.0zM478.7 483.1h2.0v2.0h-2.0zM506.5 429.5h2.0v2.0h-2.0zM421.2 519.2h2.0v2.0h-2.0zM487.5 501.0h2.0v2.0h-2.0zM496.1 379.2h2.0v2.0h-2.0zM464.3 521.8h2.0v2.0h-2.0zM510.2 510.8h2.0v2.0h-2.0zM502.8 436.4h2.0v2.0h-2.0zM588.1 455.0h2.0v2.0h-2.0zM477.7 492.2h2.0v2.0h-2.0zM509.5 483.2h2.0v2.0h-2.0zM520.8 436.2h2.0v2.0h-2.0zM526.3 466.5h2.0v2.0h-2.0zM488.4 482.4h2.0v2.0h-2.0zM519.6 407.7h2.0v2.0h-2.0zM511.1 424.5h2.0v2.0h-2.0zM478.8 490.3h2.0v2.0h-2.0zM403.7 520.1h2.0v2.0h-2.0zM465.8 464.9h2.0v2.0h-2.0zM495.7 507.0h2.0v2.0h-2.0zM451.8 514.2h2.0v2.0h-2.0zM510.2 492.3h2.0v2.0h-2.0zM480.1 510.2h2.0v2.0h-2.0zM500.1 420.3h2.0v2.0h-2.0zM504.2 486.3h2.0v2.0h-2.0zM482.7 488.9h2.0v2.0h-2.0zM411.7 518.1h2.0v2.0h-2.0zM520.6 490.2h2.0v2.0h-2.0zM496.1 504.5h2.0v2.0h-2.0zM493.3 412.6h2.0v2.0h-2.0zM487.9 471.0h2.0v2.0h-2.0zM516.6 526.7h2.0v2.0h-2.0zM490.0 402.3h2.0v2.0h-2.0zM471.4 538.6h2.0v2.0h-2.0zM487.1 420.9h2.0v2.0h-2.0zM527.0 474.4h2.0v2.0h-2.0zM499.9 507.1h2.0v2.0h-2.0zM512.6 402.7h2.0v2.0h-2.0zM406.1 524.6h2.0v2.0h-2.0zM511.5 513.7h2.0v2.0h-2.0zM454.8 555.5h2.0v2.0h-2.0zM589.3 430.2h2.0v2.0h-2.0zM443.8 511.0h2.0v2.0h-2.0zM490.1 396.4h2.0v2.0h-2.0zM497.8 423.8h2.0v2.0h-2.0zM478.1 564.4h2.0v2.0h-2.0zM495.4 490.5h2.0v2.0h-2.0zM515.3 376.2h2.0v2.0h-2.0zM572.0 458.0h2.0v2.0h-2.0zM541.8 461.1h2.0v2.0h-2.0zM507.3 481.1h2.0v2.0h-2.0zM494.1 410.1h2.0v2.0h-2.0zM452.5 540.5h2.0v2.0h-2.0zM501.4 478.5h2.0v2.0h-2.0zM492.1 521.0h2.0v2.0h-2.0zM476.0 441.1h2.0v2.0h-2.0zM573.2 457.2h2.0v2.0h-2.0zM523.1 458.8h2.0v2.0h-2.0zM425.4 554.8h2.0v2.0h-2.0zM484.9 453.5h2.0v2.0h-2.0zM517.6 434.9h2.0v2.0h-2.0zM522.2 416.2h2.0v2.0h-2.0zM526.0 466.5h2.0v2.0h-2.0zM523.6 413.0h2.0v2.0h-2.0zM437.4 561.2h2.0v2.0h-2.0zM510.9 495.2h2.0v2.0h-2.0zM492.9 463.9h2.0v2.0h-2.0zM479.7 432.5h2.0v2.0h-2.0zM523.9 509.4h2.0v2.0h-2.0zM450.1 533.0h2.0v2.0h-2.0zM513.7 450.5h2.0v2.0h-2.0zM474.9 502.7h2.0v2.0h-2.0zM494.6 424.9h2.0v2.0h-2.0zM487.5 458.2h2.0v2.0h-2.0zM509.2 481.0h2.0v2.0h-2.0zM529.2 482.8h2.0v2.0h-2.0zM411.8 510.3h2.0v2.0h-2.0zM489.7 482.1h2.0v2.0h-2.0zM586.7 443.2h2.0v2.0h-2.0zM451.6 530.2h2.0v2.0h-2.0zM553.0 468.9h2.0v2.0h-2.0zM524.5 551.3h2.0v2.0h-2.0zM473.1 465.0h2.0v2.0h-2.0zM473.0 518.8h2.0v2.0h-2.0zM506.5 501.2h2.0v2.0h-2.0zM598.3 448.4h2.0v2.0h-2.0zM500.5 462.8h2.0v2.0h-2.0zM439.1 513.7h2.0v2.0h-2.0zM565.3 431.1h2.0v2.0h-2.0zM545.2 435.4h2.0v2.0h-2.0zM532.7 520.8h2.0v2.0h-2.0zM519.5 472.1h2.0v2.0h-2.0zM487.0 482.6h2.0v2.0h-2.0zM518.6 505.6h2.0v2.0h-2.0zM503.7 430.2h2.0v2.0h-2.0zM502.7 381.5h2.0v2.0h-2.0zM513.3 479.9h2.0v2.0h-2.0zM429.0 502.4h2.0v2.0h-2.0zM525.9 520.4h2.0v2.0h-2.0zM486.3 445.6h2.0v2.0h-2.0zM481.7 412.7h2.0v2.0h-2.0zM450.2 552.0h2.0v2.0h-2.0zM491.0 523.7h2.0v2.0h-2.0zM492.0 473.2h2.0v2.0h-2.0zM384.3 512.5h2.0v2.0h-2.0zM516.0 465.0h2.0v2.0h-2.0zM534.8 402.1h2.0v2.0h-2.0zM482.6 397.6h2.0v2.0h-2.0zM495.4 460.8h2.0v2.0h-2.0zM419.4 501.9h2.0v2.0h-2.0zM519.3 419.9h2.0v2.0h-2.0zM508.3 495.6h2.0v2.0h-2.0zM479.5 513.3h2.0v2.0h-2.0zM516.1 493.1h2.0v2.0h-2.0zM500.9 436.3h2.0v2.0h-2.0zM532.7 417.4h2.0v2.0h-2.0zM527.7 513.1h2.0v2.0h-2.0zM522.5 430.3h2.0v2.0h-2.0zM489.6 450.3h2.0v2.0h-2.0zM494.6 476.6h2.0v2.0h-2.0zM435.8 538.3h2.0v2.0h-2.0zM484.5 431.7h2.0v2.0h-2.0zM524.8 466.4h2.0v2.0h-2.0zM528.2 488.5h2.0v2.0h-2.0zM495.1 388.4h2.0v2.0h-2.0zM547.0 491.7h2.0v2.0h-2.0zM491.9 409.4h2.0v2.0h-2.0zM528.3 461.3h2.0v2.0h-2.0zM491.4 381.9h2.0v2.0h-2.0zM587.5 433.4h2.0v2.0h-2.0zM516.5 505.0h2.0v2.0h-2.0zM525.1 454.8h2.0v2.0h-2.0zM488.6 458.1h2.0v2.0h-2.0zM506.2 483.8h2.0v2.0h-2.0zM468.3 511.5h2.0v2.0h-2.0zM470.7 537.6h2.0v2.0h-2.0zM509.1 422.1h2.0v2.0h-2.0zM504.4 418.0h2.0v2.0h-2.0zM402.1 505.4h2.0v2.0h-2.0zM497.6 496.4h2.0v2.0h-2.0zM465.8 504.5h2.0v2.0h-2.0zM439.4 548.9h2.0v2.0h-2.0zM516.3 420.8h2.0v2.0h-2.0zM534.3 476.0h2.0v2.0h-2.0zM583.5 437.3h2.0v2.0h-2.0zM519.4 457.7h2.0v2.0h-2.0zM522.5 516.3h2.0v2.0h-2.0zM520.5 445.4h2.0v2.0h-2.0zM511.0 503.7h2.0v2.0h-2.0zM505.9 495.8h2.0v2.0h-2.0zM572.8 459.2h2.0v2.0h-2.0zM508.0 483.2h2.0v2.0h-2.0zM538.1 506.0h2.0v2.0h-2.0zM510.5 461.0h2.0v2.0h-2.0zM511.1 414.1h2.0v2.0h-2.0zM520.3 396.3h2.0v2.0h-2.0zM441.9 535.1h2.0v2.0h-2.0zM500.2 447.3h2.0v2.0h-2.0zM489.9 449.5h2.0v2.0h-2.0zM498.2 388.4h2.0v2.0h-2.0zM581.1 477.7h2.0v2.0h-2.0zM499.9 414.5h2.0v2.0h-2.0zM460.0 443.6h2.0v2.0h-2.0zM530.7 417.5h2.0v2.0h-2.0zM492.3 522.5h2.0v2.0h-2.0zM515.7 404.6h2.0v2.0h-2.0zM512.9 509.1h2.0v2.0h-2.0zM487.5 410.3h2.0v2.0h-2.0zM518.4 492.6h2.0v2.0h-2.0zM493.0 409.3h2.0v2.0h-2.0zM493.5 515.8h2.0v2.0h-2.0zM444.9 531.3h2.0v2.0h-2.0zM472.6 481.8h2.0v2.0h-2.0zM416.3 508.8h2.0v2.0h-2.0zM482.6 512.2h2.0v2.0h-2.0zM495.5 514.0h2.0v2.0h-2.0zM512.9 463.3h2.0v2.0h-2.0zM476.5 455.6h2.0v2.0h-2.0zM443.6 535.5h2.0v2.0h-2.0zM495.4 400.3h2.0v2.0h-2.0zM508.7 409.3h2.0v2.0h-2.0zM538.2 462.8h2.0v2.0h-2.0zM465.1 382.6h2.0v2.0h-2.0zM517.3 499.7h2.0v2.0h-2.0zM451.7 519.3h2.0v2.0h-2.0zM507.1 447.9h2.0v2.0h-2.0zM458.1 530.8h2.0v2.0h-2.0zM530.6 469.1h2.0v2.0h-2.0zM585.0 460.3h2.0v2.0h-2.0zM490.6 485.9h2.0v2.0h-2.0zM497.2 380.6h2.0v2.0h-2.0zM442.8 519.9h2.0v2.0h-2.0zM529.0 378.3h2.0v2.0h-2.0zM471.8 411.3h2.0v2.0h-2.0zM476.8 372.0h2.0v2.0h-2.0zM515.9 468.1h2.0v2.0h-2.0zM505.6 475.3h2.0v2.0h-2.0zM575.1 449.8h2.0v2.0h-2.0zM440.1 549.0h2.0v2.0h-2.0zM476.7 427.3h2.0v2.0h-2.0zM478.8 469.4h2.0v2.0h-2.0zM495.3 428.2h2.0v2.0h-2.0zM481.5 398.6h2.0v2.0h-2.0zM504.5 401.4h2.0v2.0h-2.0zM495.7 430.5h2.0v2.0h-2.0zM503.0 426.4h2.0v2.0h-2.0zM529.2 449.0h2.0v2.0h-2.0zM523.6 457.9h2.0v2.0h-2.0zM467.0 509.5h2.0v2.0h-2.0zM481.7 394.2h2.0v2.0h-2.0zM451.6 526.3h2.0v2.0h-2.0zM410.7 522.6h2.0v2.0h-2.0zM509.8 498.2h2.0v2.0h-2.0zM476.0 387.4h2.0v2.0h-2.0zM532.7 510.7h2.0v2.0h-2.0zM469.1 546.7h2.0v2.0h-2.0zM522.5 410.4h2.0v2.0h-2.0zM500.7 458.5h2.0v2.0h-2.0zM530.4 485.6h2.0v2.0h-2.0zM537.0 448.2h2.0v2.0h-2.0zM392.3 520.6h2.0v2.0h-2.0zM483.8 390.3h2.0v2.0h-2.0zM515.3 462.5h2.0v2.0h-2.0zM526.4 467.8h2.0v2.0h-2.0zM520.6 435.8h2.0v2.0h-2.0zM512.9 476.2h2.0v2.0h-2.0zM511.4 459.6h2.0v2.0h-2.0zM455.7 538.2h2.0v2.0h-2.0zM568.0 416.7h2.0v2.0h-2.0zM530.4 436.3h2.0v2.0h-2.0zM466.2 381.2h2.0v2.0h-2.0zM406.9 539.2h2.0v2.0h-2.0zM439.3 547.4h2.0v2.0h-2.0zM511.8 400.0h2.0v2.0h-2.0zM444.0 501.6h2.0v2.0h-2.0zM498.5 500.4h2.0v2.0h-2.0zM511.9 434.5h2.0v2.0h-2.0zM515.7 456.3h2.0v2.0h-2.0zM490.3 490.8h2.0v2.0h-2.0zM491.8 464.0h2.0v2.0h-2.0zM472.8 393.2h2.0v2.0h-2.0zM500.8 513.9h2.0v2.0h-2.0zM493.6 461.7h2.0v2.0h-2.0zM483.2 475.4h2.0v2.0h-2.0zM493.4 437.9h2.0v2.0h-2.0zM511.9 499.7h2.0v2.0h-2.0zM525.0 481.8h2.0v2.0h-2.0zM497.2 512.4h2.0v2.0h-2.0zM522.8 392.2h2.0v2.0h-2.0zM495.1 440.4h2.0v2.0h-2.0zM495.4 481.0h2.0v2.0h-2.0zM492.8 405.9h2.0v2.0h-2.0zM508.5 508.5h2.0v2.0h-2.0zM496.2 414.6h2.0v2.0h-2.0zM510.2 467.4h2.0v2.0h-2.0zM447.1 559.6h2.0v2.0h-2.0zM465.8 516.0h2.0v2.0h-2.0zM488.7 448.9h2.0v2.0h-2.0zM502.3 367.3h2.0v2.0h-2.0zM483.3 422.1h2.0v2.0h-2.0zM476.2 445.8h2.0v2.0h-2.0zM497.4 460.3h2.0v2.0h-2.0zM451.3 554.8h2.0v2.0h-2.0zM507.1 483.6h2.0v2.0h-2.0zM540.9 468.7h2.0v2.0h-2.0zM514.3 500.9h2.0v2.0h-2.0zM487.1 458.9h2.0v2.0h-2.0zM491.7 369.5h2.0v2.0h-2.0zM528.3 508.8h2.0v2.0h-2.0zM525.3 443.5h2.0v2.0h-2.0zM515.4 461.1h2.0v2.0h-2.0zM495.7 376.2h2.0v2.0h-2.0zM482.3 529.9h2.0v2.0h-2.0zM504.7 429.2h2.0v2.0h-2.0zM468.5 516.2h2.0v2.0h-2.0zM531.5 561.3h2.0v2.0h-2.0zM539.0 434.6h2.0v2.0h-2.0zM585.2 457.1h2.0v2.0h-2.0zM512.7 449.2h2.0v2.0h-2.0zM491.9 562.3h2.0v2.0h-2.0zM506.9 508.3h2.0v2.0h-2.0zM495.9 498.1h2.0v2.0h-2.0zM580.0 459.1h2.0v2.0h-2.0zM506.6 410.5h2.0v2.0h-2.0z" fill="#38a9c5"/><path d="M466.7 535.5h2.0v2.0h-2.0zM491.6 490.8h2.0v2.0h-2.0zM489.9 387.9h2.0v2.0h-2.0zM589.4 462.6h2.0v2.0h-2.0zM512.3 440.1h2.0v2.0h-2.0zM476.1 433.2h2.0v2.0h-2.0zM443.0 522.0h2.0v2.0h-2.0zM387.7 534.0h2.0v2.0h-2.0zM505.6 511.2h2.0v2.0h-2.0zM440.2 499.7h2.0v2.0h-2.0zM506.6 470.6h2.0v2.0h-2.0zM508.6 441.3h2.0v2.0h-2.0zM516.7 425.6h2.0v2.0h-2.0zM473.8 423.1h2.0v2.0h-2.0zM388.3 528.6h2.0v2.0h-2.0zM507.1 542.0h2.0v2.0h-2.0zM503.9 456.6h2.0v2.0h-2.0zM522.4 394.7h2.0v2.0h-2.0zM519.4 473.9h2.0v2.0h-2.0zM463.9 509.6h2.0v2.0h-2.0zM446.5 556.3h2.0v2.0h-2.0zM532.1 433.6h2.0v2.0h-2.0zM472.1 514.2h2.0v2.0h-2.0zM462.6 461.2h2.0v2.0h-2.0zM473.8 517.0h2.0v2.0h-2.0zM511.6 476.7h2.0v2.0h-2.0zM468.4 501.1h2.0v2.0h-2.0zM442.2 555.2h2.0v2.0h-2.0zM506.7 541.6h2.0v2.0h-2.0zM491.4 501.8h2.0v2.0h-2.0zM487.5 467.9h2.0v2.0h-2.0zM493.9 533.8h2.0v2.0h-2.0zM515.1 471.3h2.0v2.0h-2.0zM497.6 479.2h2.0v2.0h-2.0zM488.2 384.7h2.0v2.0h-2.0zM374.8 530.7h2.0v2.0h-2.0zM474.5 493.6h2.0v2.0h-2.0zM487.0 519.3h2.0v2.0h-2.0zM462.5 530.6h2.0v2.0h-2.0zM486.4 460.3h2.0v2.0h-2.0zM512.7 476.5h2.0v2.0h-2.0zM561.9 438.8h2.0v2.0h-2.0zM501.8 535.4h2.0v2.0h-2.0zM456.9 551.4h2.0v2.0h-2.0zM463.8 458.7h2.0v2.0h-2.0zM492.2 443.4h2.0v2.0h-2.0zM589.0 441.0h2.0v2.0h-2.0zM537.8 528.4h2.0v2.0h-2.0zM431.1 518.4h2.0v2.0h-2.0zM482.6 425.3h2.0v2.0h-2.0zM470.4 429.9h2.0v2.0h-2.0zM504.8 451.9h2.0v2.0h-2.0zM522.9 456.0h2.0v2.0h-2.0zM512.6 516.0h2.0v2.0h-2.0zM507.9 534.1h2.0v2.0h-2.0zM501.6 426.8h2.0v2.0h-2.0zM536.1 529.5h2.0v2.0h-2.0zM528.5 490.4h2.0v2.0h-2.0zM471.5 531.6h2.0v2.0h-2.0zM579.8 442.4h2.0v2.0h-2.0zM504.9 417.7h2.0v2.0h-2.0zM446.7 513.3h2.0v2.0h-2.0zM527.9 513.0h2.0v2.0h-2.0zM528.9 507.1h2.0v2.0h-2.0zM488.4 539.4h2.0v2.0h-2.0zM462.4 554.4h2.0v2.0h-2.0zM493.6 493.0h2.0v2.0h-2.0zM566.1 433.0h2.0v2.0h-2.0zM479.9 518.5h2.0v2.0h-2.0zM508.0 390.4h2.0v2.0h-2.0zM443.8 499.6h2.0v2.0h-2.0zM444.9 566.6h2.0v2.0h-2.0zM584.9 462.4h2.0v2.0h-2.0zM469.1 444.9h2.0v2.0h-2.0zM485.2 411.5h2.0v2.0h-2.0zM472.5 495.7h2.0v2.0h-2.0zM475.5 375.5h2.0v2.0h-2.0zM467.7 461.3h2.0v2.0h-2.0zM469.3 511.2h2.0v2.0h-2.0zM516.5 419.9h2.0v2.0h-2.0zM470.0 447.5h2.0v2.0h-2.0zM497.1 526.8h2.0v2.0h-2.0zM460.6 448.1h2.0v2.0h-2.0zM512.6 477.3h2.0v2.0h-2.0zM490.7 471.2h2.0v2.0h-2.0zM602.2 453.8h2.0v2.0h-2.0zM496.3 377.2h2.0v2.0h-2.0zM521.8 446.5h2.0v2.0h-2.0zM552.5 498.2h2.0v2.0h-2.0zM497.1 512.1h2.0v2.0h-2.0zM608.5 474.1h2.0v2.0h-2.0zM481.9 412.1h2.0v2.0h-2.0zM539.1 495.2h2.0v2.0h-2.0zM510.9 430.5h2.0v2.0h-2.0zM474.4 450.4h2.0v2.0h-2.0zM494.5 510.3h2.0v2.0h-2.0zM535.5 474.5h2.0v2.0h-2.0zM507.3 490.4h2.0v2.0h-2.0zM514.4 546.9h2.0v2.0h-2.0zM495.4 380.9h2.0v2.0h-2.0zM524.3 503.8h2.0v2.0h-2.0zM473.9 378.5h2.0v2.0h-2.0zM495.3 521.0h2.0v2.0h-2.0zM514.2 408.9h2.0v2.0h-2.0zM507.7 484.9h2.0v2.0h-2.0zM508.0 424.4h2.0v2.0h-2.0zM453.5 435.1h2.0v2.0h-2.0zM487.1 508.1h2.0v2.0h-2.0zM538.4 407.1h2.0v2.0h-2.0zM596.4 457.9h2.0v2.0h-2.0zM506.4 504.1h2.0v2.0h-2.0zM459.9 548.1h2.0v2.0h-2.0zM475.1 427.3h2.0v2.0h-2.0zM492.7 496.8h2.0v2.0h-2.0zM449.5 489.9h2.0v2.0h-2.0zM507.8 555.3h2.0v2.0h-2.0zM514.9 503.3h2.0v2.0h-2.0zM502.7 523.9h2.0v2.0h-2.0zM415.2 511.2h2.0v2.0h-2.0zM525.1 498.7h2.0v2.0h-2.0zM509.5 535.7h2.0v2.0h-2.0zM462.4 452.5h2.0v2.0h-2.0zM489.7 416.5h2.0v2.0h-2.0zM458.2 539.5h2.0v2.0h-2.0zM522.2 507.8h2.0v2.0h-2.0zM460.3 465.2h2.0v2.0h-2.0zM504.5 451.4h2.0v2.0h-2.0zM509.7 451.7h2.0v2.0h-2.0zM414.6 535.1h2.0v2.0h-2.0zM510.2 518.0h2.0v2.0h-2.0zM516.4 503.0h2.0v2.0h-2.0zM476.2 545.3h2.0v2.0h-2.0zM483.1 451.6h2.0v2.0h-2.0zM504.8 387.5h2.0v2.0h-2.0zM507.1 506.0h2.0v2.0h-2.0zM497.7 382.0h2.0v2.0h-2.0zM507.3 434.9h2.0v2.0h-2.0zM486.5 443.9h2.0v2.0h-2.0zM527.3 583.7h2.0v2.0h-2.0zM518.2 522.7h2.0v2.0h-2.0zM472.2 554.6h2.0v2.0h-2.0zM498.2 505.9h2.0v2.0h-2.0zM477.0 516.8h2.0v2.0h-2.0zM500.7 536.4h2.0v2.0h-2.0zM490.4 480.2h2.0v2.0h-2.0zM433.9 543.2h2.0v2.0h-2.0zM507.8 460.4h2.0v2.0h-2.0zM490.3 381.5h2.0v2.0h-2.0zM483.2 522.6h2.0v2.0h-2.0zM474.0 513.8h2.0v2.0h-2.0zM509.7 372.4h2.0v2.0h-2.0zM518.2 524.1h2.0v2.0h-2.0zM507.9 487.8h2.0v2.0h-2.0zM505.1 428.3h2.0v2.0h-2.0zM514.4 434.8h2.0v2.0h-2.0zM524.5 493.9h2.0v2.0h-2.0zM526.8 492.9h2.0v2.0h-2.0zM499.4 540.5h2.0v2.0h-2.0zM503.0 455.7h2.0v2.0h-2.0zM496.6 534.9h2.0v2.0h-2.0zM452.0 538.9h2.0v2.0h-2.0zM419.4 543.9h2.0v2.0h-2.0zM474.4 516.3h2.0v2.0h-2.0zM467.0 524.9h2.0v2.0h-2.0zM574.4 442.0h2.0v2.0h-2.0zM528.5 455.0h2.0v2.0h-2.0zM618.3 448.7h2.0v2.0h-2.0zM493.1 532.7h2.0v2.0h-2.0zM486.5 498.9h2.0v2.0h-2.0zM489.1 528.0h2.0v2.0h-2.0zM444.8 548.2h2.0v2.0h-2.0zM494.6 481.1h2.0v2.0h-2.0zM479.4 539.9h2.0v2.0h-2.0zM441.3 515.4h2.0v2.0h-2.0zM585.0 445.9h2.0v2.0h-2.0zM503.2 498.1h2.0v2.0h-2.0zM474.0 475.5h2.0v2.0h-2.0zM497.0 535.6h2.0v2.0h-2.0zM501.3 519.1h2.0v2.0h-2.0zM539.3 413.7h2.0v2.0h-2.0zM496.4 562.4h2.0v2.0h-2.0zM555.0 475.9h2.0v2.0h-2.0zM471.3 525.7h2.0v2.0h-2.0zM496.1 451.0h2.0v2.0h-2.0zM498.1 500.3h2.0v2.0h-2.0zM485.4 465.0h2.0v2.0h-2.0zM474.9 380.8h2.0v2.0h-2.0zM516.1 508.1h2.0v2.0h-2.0zM515.5 411.5h2.0v2.0h-2.0zM524.3 451.7h2.0v2.0h-2.0zM507.7 530.5h2.0v2.0h-2.0zM505.4 519.5h2.0v2.0h-2.0zM481.6 519.1h2.0v2.0h-2.0zM499.1 410.5h2.0v2.0h-2.0zM489.7 436.9h2.0v2.0h-2.0zM517.0 511.1h2.0v2.0h-2.0zM590.6 470.3h2.0v2.0h-2.0zM484.4 408.4h2.0v2.0h-2.0zM450.7 541.2h2.0v2.0h-2.0zM473.3 487.0h2.0v2.0h-2.0zM464.9 534.0h2.0v2.0h-2.0zM427.5 505.7h2.0v2.0h-2.0zM498.3 473.5h2.0v2.0h-2.0zM486.0 412.9h2.0v2.0h-2.0zM507.6 402.8h2.0v2.0h-2.0zM489.5 431.3h2.0v2.0h-2.0zM465.0 530.3h2.0v2.0h-2.0zM521.3 384.4h2.0v2.0h-2.0zM509.8 493.1h2.0v2.0h-2.0zM514.2 450.0h2.0v2.0h-2.0zM507.2 450.7h2.0v2.0h-2.0zM530.1 508.1h2.0v2.0h-2.0zM509.9 483.1h2.0v2.0h-2.0zM479.1 538.8h2.0v2.0h-2.0zM479.5 496.4h2.0v2.0h-2.0zM496.0 490.5h2.0v2.0h-2.0zM468.0 537.0h2.0v2.0h-2.0zM470.0 432.1h2.0v2.0h-2.0zM521.0 409.0h2.0v2.0h-2.0zM470.5 471.0h2.0v2.0h-2.0zM473.0 516.1h2.0v2.0h-2.0zM512.1 470.4h2.0v2.0h-2.0zM495.6 519.5h2.0v2.0h-2.0zM498.0 487.8h2.0v2.0h-2.0zM476.7 386.3h2.0v2.0h-2.0zM478.2 431.7h2.0v2.0h-2.0zM586.4 458.3h2.0v2.0h-2.0zM475.3 529.7h2.0v2.0h-2.0zM483.7 478.9h2.0v2.0h-2.0zM515.7 433.2h2.0v2.0h-2.0zM507.3 428.8h2.0v2.0h-2.0zM517.5 472.2h2.0v2.0h-2.0zM522.6 469.9h2.0v2.0h-2.0zM469.0 522.8h2.0v2.0h-2.0zM480.7 509.6h2.0v2.0h-2.0zM477.5 480.2h2.0v2.0h-2.0zM491.6 447.5h2.0v2.0h-2.0zM469.8 531.6h2.0v2.0h-2.0zM471.5 497.4h2.0v2.0h-2.0zM470.1 500.6h2.0v2.0h-2.0zM497.3 505.1h2.0v2.0h-2.0zM492.6 473.7h2.0v2.0h-2.0zM504.4 433.4h2.0v2.0h-2.0zM507.4 529.9h2.0v2.0h-2.0zM473.6 521.4h2.0v2.0h-2.0zM524.4 500.3h2.0v2.0h-2.0zM494.4 373.3h2.0v2.0h-2.0zM561.9 447.5h2.0v2.0h-2.0zM467.5 512.3h2.0v2.0h-2.0zM499.6 457.8h2.0v2.0h-2.0zM416.8 535.7h2.0v2.0h-2.0zM422.4 524.7h2.0v2.0h-2.0zM574.3 445.0h2.0v2.0h-2.0zM500.5 484.8h2.0v2.0h-2.0zM491.8 549.2h2.0v2.0h-2.0zM499.2 491.9h2.0v2.0h-2.0zM595.6 446.5h2.0v2.0h-2.0zM476.6 401.3h2.0v2.0h-2.0zM494.3 455.6h2.0v2.0h-2.0zM460.3 543.4h2.0v2.0h-2.0zM485.3 454.8h2.0v2.0h-2.0zM517.4 420.4h2.0v2.0h-2.0zM493.8 493.6h2.0v2.0h-2.0zM504.1 383.9h2.0v2.0h-2.0zM521.2 457.3h2.0v2.0h-2.0zM478.5 507.9h2.0v2.0h-2.0zM519.3 533.5h2.0v2.0h-2.0zM496.9 504.7h2.0v2.0h-2.0zM468.7 461.5h2.0v2.0h-2.0zM508.2 402.8h2.0v2.0h-2.0zM460.1 484.4h2.0v2.0h-2.0zM515.9 518.5h2.0v2.0h-2.0zM585.5 438.0h2.0v2.0h-2.0zM449.5 540.1h2.0v2.0h-2.0zM437.9 526.4h2.0v2.0h-2.0zM482.0 535.5h2.0v2.0h-2.0zM482.3 507.9h2.0v2.0h-2.0zM439.0 538.1h2.0v2.0h-2.0zM458.1 511.1h2.0v2.0h-2.0zM517.1 498.9h2.0v2.0h-2.0zM481.1 544.9h2.0v2.0h-2.0zM510.4 497.6h2.0v2.0h-2.0zM494.9 481.6h2.0v2.0h-2.0zM509.5 421.1h2.0v2.0h-2.0zM449.2 571.5h2.0v2.0h-2.0zM494.1 379.2h2.0v2.0h-2.0zM494.0 553.4h2.0v2.0h-2.0zM511.8 528.9h2.0v2.0h-2.0zM423.1 525.8h2.0v2.0h-2.0zM499.3 449.7h2.0v2.0h-2.0zM498.2 426.2h2.0v2.0h-2.0zM477.9 520.0h2.0v2.0h-2.0zM476.8 427.4h2.0v2.0h-2.0zM493.3 511.3h2.0v2.0h-2.0zM532.9 492.8h2.0v2.0h-2.0zM503.3 474.6h2.0v2.0h-2.0zM487.7 485.6h2.0v2.0h-2.0zM504.5 475.2h2.0v2.0h-2.0zM451.5 525.0h2.0v2.0h-2.0zM487.1 556.6h2.0v2.0h-2.0zM502.0 524.3h2.0v2.0h-2.0zM482.3 482.2h2.0v2.0h-2.0zM487.2 429.0h2.0v2.0h-2.0zM427.4 533.4h2.0v2.0h-2.0zM499.6 496.9h2.0v2.0h-2.0zM465.4 472.9h2.0v2.0h-2.0zM561.9 443.5h2.0v2.0h-2.0zM483.1 545.0h2.0v2.0h-2.0zM493.6 378.3h2.0v2.0h-2.0zM521.3 520.7h2.0v2.0h-2.0zM492.5 415.2h2.0v2.0h-2.0zM512.0 451.3h2.0v2.0h-2.0zM487.1 491.2h2.0v2.0h-2.0zM431.4 533.3h2.0v2.0h-2.0zM495.6 391.5h2.0v2.0h-2.0zM492.1 489.8h2.0v2.0h-2.0zM420.5 539.4h2.0v2.0h-2.0zM498.0 493.5h2.0v2.0h-2.0zM457.7 553.2h2.0v2.0h-2.0zM471.1 514.5h2.0v2.0h-2.0zM392.5 517.8h2.0v2.0h-2.0zM456.1 486.8h2.0v2.0h-2.0zM482.6 494.9h2.0v2.0h-2.0zM463.7 499.2h2.0v2.0h-2.0zM456.4 505.8h2.0v2.0h-2.0zM486.8 371.8h2.0v2.0h-2.0zM469.9 522.0h2.0v2.0h-2.0zM487.2 390.5h2.0v2.0h-2.0zM517.7 438.7h2.0v2.0h-2.0zM461.0 533.4h2.0v2.0h-2.0zM502.1 521.7h2.0v2.0h-2.0zM543.0 500.4h2.0v2.0h-2.0zM480.0 514.4h2.0v2.0h-2.0zM462.6 484.5h2.0v2.0h-2.0zM477.1 543.2h2.0v2.0h-2.0zM493.0 463.3h2.0v2.0h-2.0zM498.3 416.6h2.0v2.0h-2.0zM453.5 553.2h2.0v2.0h-2.0zM446.3 549.1h2.0v2.0h-2.0zM500.0 485.5h2.0v2.0h-2.0zM484.6 549.7h2.0v2.0h-2.0zM510.3 507.0h2.0v2.0h-2.0zM458.2 527.9h2.0v2.0h-2.0zM493.9 505.9h2.0v2.0h-2.0zM490.4 405.6h2.0v2.0h-2.0zM489.7 471.3h2.0v2.0h-2.0zM489.5 406.0h2.0v2.0h-2.0zM499.8 410.6h2.0v2.0h-2.0zM565.3 451.2h2.0v2.0h-2.0zM516.7 533.2h2.0v2.0h-2.0zM513.3 378.4h2.0v2.0h-2.0zM514.6 434.7h2.0v2.0h-2.0zM506.4 419.2h2.0v2.0h-2.0zM527.2 492.7h2.0v2.0h-2.0zM510.5 450.3h2.0v2.0h-2.0zM533.5 444.8h2.0v2.0h-2.0zM454.9 500.7h2.0v2.0h-2.0zM470.4 522.1h2.0v2.0h-2.0zM503.9 537.3h2.0v2.0h-2.0zM479.9 486.4h2.0v2.0h-2.0zM480.7 526.9h2.0v2.0h-2.0zM507.2 380.6h2.0v2.0h-2.0zM497.1 451.2h2.0v2.0h-2.0zM419.0 527.4h2.0v2.0h-2.0zM522.8 505.1h2.0v2.0h-2.0zM475.2 493.5h2.0v2.0h-2.0zM482.2 471.9h2.0v2.0h-2.0zM449.6 533.9h2.0v2.0h-2.0zM528.5 491.3h2.0v2.0h-2.0zM517.5 436.4h2.0v2.0h-2.0zM504.1 511.8h2.0v2.0h-2.0zM504.9 438.1h2.0v2.0h-2.0zM490.3 476.3h2.0v2.0h-2.0zM477.0 378.6h2.0v2.0h-2.0zM468.7 545.6h2.0v2.0h-2.0zM497.1 381.6h2.0v2.0h-2.0zM498.9 422.8h2.0v2.0h-2.0zM461.4 495.5h2.0v2.0h-2.0zM464.6 528.8h2.0v2.0h-2.0zM509.9 428.5h2.0v2.0h-2.0zM491.6 540.2h2.0v2.0h-2.0zM452.6 520.3h2.0v2.0h-2.0zM494.7 473.1h2.0v2.0h-2.0zM414.5 535.0h2.0v2.0h-2.0zM495.7 543.3h2.0v2.0h-2.0zM457.5 519.2h2.0v2.0h-2.0zM503.9 524.0h2.0v2.0h-2.0zM459.0 537.4h2.0v2.0h-2.0zM511.8 424.4h2.0v2.0h-2.0zM536.4 488.0h2.0v2.0h-2.0zM527.4 461.3h2.0v2.0h-2.0zM436.4 516.3h2.0v2.0h-2.0zM488.4 432.9h2.0v2.0h-2.0zM492.4 448.0h2.0v2.0h-2.0zM482.7 437.1h2.0v2.0h-2.0zM506.1 429.1h2.0v2.0h-2.0zM527.9 498.0h2.0v2.0h-2.0zM504.5 507.2h2.0v2.0h-2.0zM455.2 539.1h2.0v2.0h-2.0zM418.9 539.2h2.0v2.0h-2.0zM515.4 500.8h2.0v2.0h-2.0zM496.6 536.9h2.0v2.0h-2.0zM507.4 493.9h2.0v2.0h-2.0zM471.6 527.0h2.0v2.0h-2.0zM484.0 503.1h2.0v2.0h-2.0zM488.0 536.7h2.0v2.0h-2.0zM534.7 508.6h2.0v2.0h-2.0zM498.9 519.7h2.0v2.0h-2.0zM471.5 499.3h2.0v2.0h-2.0zM435.1 571.2h2.0v2.0h-2.0zM532.6 486.2h2.0v2.0h-2.0zM521.2 469.1h2.0v2.0h-2.0zM505.4 427.7h2.0v2.0h-2.0zM459.0 500.6h2.0v2.0h-2.0zM484.9 475.6h2.0v2.0h-2.0zM396.7 554.7h2.0v2.0h-2.0zM458.5 435.9h2.0v2.0h-2.0zM516.4 499.9h2.0v2.0h-2.0zM495.4 484.5h2.0v2.0h-2.0zM452.1 539.9h2.0v2.0h-2.0zM502.5 493.4h2.0v2.0h-2.0zM478.0 513.3h2.0v2.0h-2.0zM505.2 416.6h2.0v2.0h-2.0zM481.1 474.4h2.0v2.0h-2.0zM451.4 499.8h2.0v2.0h-2.0zM483.4 520.0h2.0v2.0h-2.0zM489.2 445.1h2.0v2.0h-2.0zM501.4 517.6h2.0v2.0h-2.0zM410.7 508.9h2.0v2.0h-2.0zM531.6 483.2h2.0v2.0h-2.0zM463.7 511.6h2.0v2.0h-2.0zM406.6 519.6h2.0v2.0h-2.0zM475.2 430.4h2.0v2.0h-2.0zM472.8 523.7h2.0v2.0h-2.0zM494.1 524.5h2.0v2.0h-2.0zM434.5 570.0h2.0v2.0h-2.0zM491.1 535.7h2.0v2.0h-2.0zM499.6 459.1h2.0v2.0h-2.0zM461.4 497.1h2.0v2.0h-2.0zM508.2 470.1h2.0v2.0h-2.0zM464.4 541.8h2.0v2.0h-2.0zM437.6 515.5h2.0v2.0h-2.0zM518.6 463.4h2.0v2.0h-2.0zM464.6 493.0h2.0v2.0h-2.0zM498.7 542.9h2.0v2.0h-2.0zM476.0 486.8h2.0v2.0h-2.0zM465.6 490.9h2.0v2.0h-2.0zM537.9 507.8h2.0v2.0h-2.0zM482.6 395.5h2.0v2.0h-2.0zM448.0 518.0h2.0v2.0h-2.0zM441.7 523.6h2.0v2.0h-2.0zM475.8 512.5h2.0v2.0h-2.0zM486.3 488.6h2.0v2.0h-2.0zM491.4 371.9h2.0v2.0h-2.0zM464.8 506.7h2.0v2.0h-2.0zM407.2 555.2h2.0v2.0h-2.0zM497.8 462.4h2.0v2.0h-2.0zM505.4 512.1h2.0v2.0h-2.0zM507.1 518.3h2.0v2.0h-2.0zM474.4 543.0h2.0v2.0h-2.0zM485.3 388.8h2.0v2.0h-2.0zM515.3 493.8h2.0v2.0h-2.0zM503.8 489.2h2.0v2.0h-2.0zM502.6 516.4h2.0v2.0h-2.0zM479.2 422.4h2.0v2.0h-2.0zM461.9 541.7h2.0v2.0h-2.0zM555.6 453.6h2.0v2.0h-2.0zM480.2 504.7h2.0v2.0h-2.0zM516.0 448.2h2.0v2.0h-2.0zM460.9 536.1h2.0v2.0h-2.0zM441.5 514.4h2.0v2.0h-2.0zM491.4 518.8h2.0v2.0h-2.0zM482.8 508.8h2.0v2.0h-2.0zM495.5 542.3h2.0v2.0h-2.0zM522.8 416.9h2.0v2.0h-2.0zM539.1 466.0h2.0v2.0h-2.0zM500.5 414.8h2.0v2.0h-2.0zM457.9 555.3h2.0v2.0h-2.0zM489.1 448.4h2.0v2.0h-2.0zM500.8 438.3h2.0v2.0h-2.0zM510.8 392.8h2.0v2.0h-2.0zM459.1 451.7h2.0v2.0h-2.0zM506.3 461.0h2.0v2.0h-2.0zM394.3 488.3h2.0v2.0h-2.0zM430.6 542.6h2.0v2.0h-2.0zM478.1 380.7h2.0v2.0h-2.0zM539.0 476.1h2.0v2.0h-2.0zM462.2 526.3h2.0v2.0h-2.0zM494.9 456.8h2.0v2.0h-2.0zM512.5 506.7h2.0v2.0h-2.0zM531.1 398.1h2.0v2.0h-2.0zM423.9 533.7h2.0v2.0h-2.0zM495.6 515.3h2.0v2.0h-2.0zM458.7 513.0h2.0v2.0h-2.0zM545.1 445.3h2.0v2.0h-2.0zM432.9 534.1h2.0v2.0h-2.0zM509.2 533.3h2.0v2.0h-2.0zM526.7 438.1h2.0v2.0h-2.0zM498.5 503.9h2.0v2.0h-2.0zM403.3 510.7h2.0v2.0h-2.0zM524.4 497.3h2.0v2.0h-2.0zM521.7 534.7h2.0v2.0h-2.0zM452.2 514.6h2.0v2.0h-2.0zM531.3 432.0h2.0v2.0h-2.0zM506.8 457.1h2.0v2.0h-2.0zM468.6 517.4h2.0v2.0h-2.0zM495.3 526.9h2.0v2.0h-2.0zM487.1 469.1h2.0v2.0h-2.0zM488.9 430.8h2.0v2.0h-2.0zM465.9 539.4h2.0v2.0h-2.0zM461.8 510.1h2.0v2.0h-2.0zM510.4 435.3h2.0v2.0h-2.0zM423.5 547.5h2.0v2.0h-2.0zM505.5 419.6h2.0v2.0h-2.0zM625.3 462.8h2.0v2.0h-2.0zM524.5 503.6h2.0v2.0h-2.0zM483.3 432.9h2.0v2.0h-2.0zM459.3 461.2h2.0v2.0h-2.0zM540.1 457.7h2.0v2.0h-2.0zM528.3 492.2h2.0v2.0h-2.0zM492.1 544.8h2.0v2.0h-2.0zM480.1 523.9h2.0v2.0h-2.0zM506.6 446.1h2.0v2.0h-2.0zM507.6 501.6h2.0v2.0h-2.0zM493.8 436.7h2.0v2.0h-2.0zM526.5 486.6h2.0v2.0h-2.0zM448.4 530.3h2.0v2.0h-2.0zM473.7 536.6h2.0v2.0h-2.0zM483.9 498.1h2.0v2.0h-2.0zM463.6 518.6h2.0v2.0h-2.0zM492.4 546.0h2.0v2.0h-2.0zM522.4 465.8h2.0v2.0h-2.0zM494.3 516.3h2.0v2.0h-2.0zM504.3 530.9h2.0v2.0h-2.0zM478.3 565.5h2.0v2.0h-2.0zM516.1 539.4h2.0v2.0h-2.0zM521.5 497.3h2.0v2.0h-2.0zM477.1 483.6h2.0v2.0h-2.0zM465.5 478.1h2.0v2.0h-2.0zM477.8 510.7h2.0v2.0h-2.0zM508.2 441.8h2.0v2.0h-2.0zM458.5 508.0h2.0v2.0h-2.0zM484.3 442.4h2.0v2.0h-2.0zM497.5 435.9h2.0v2.0h-2.0zM516.6 528.2h2.0v2.0h-2.0zM493.1 475.6h2.0v2.0h-2.0zM458.9 447.5h2.0v2.0h-2.0zM508.6 366.3h2.0v2.0h-2.0zM466.4 538.5h2.0v2.0h-2.0zM464.8 490.1h2.0v2.0h-2.0zM512.4 378.6h2.0v2.0h-2.0zM480.5 414.9h2.0v2.0h-2.0zM481.5 437.0h2.0v2.0h-2.0zM503.4 392.9h2.0v2.0h-2.0zM507.1 454.5h2.0v2.0h-2.0zM543.1 487.0h2.0v2.0h-2.0zM494.4 522.7h2.0v2.0h-2.0zM516.4 472.7h2.0v2.0h-2.0zM492.0 439.0h2.0v2.0h-2.0zM516.8 479.0h2.0v2.0h-2.0zM501.1 506.4h2.0v2.0h-2.0zM518.4 453.6h2.0v2.0h-2.0zM480.2 504.9h2.0v2.0h-2.0zM494.0 483.1h2.0v2.0h-2.0zM478.9 479.3h2.0v2.0h-2.0zM497.7 464.9h2.0v2.0h-2.0zM507.5 412.2h2.0v2.0h-2.0zM519.9 516.0h2.0v2.0h-2.0zM525.1 479.2h2.0v2.0h-2.0zM490.0 447.2h2.0v2.0h-2.0zM524.6 481.9h2.0v2.0h-2.0zM477.1 530.8h2.0v2.0h-2.0zM475.6 469.6h2.0v2.0h-2.0zM500.1 462.8h2.0v2.0h-2.0zM441.6 530.6h2.0v2.0h-2.0zM497.0 466.8h2.0v2.0h-2.0zM493.7 445.4h2.0v2.0h-2.0zM513.8 478.4h2.0v2.0h-2.0zM506.5 548.5h2.0v2.0h-2.0zM463.4 485.6h2.0v2.0h-2.0zM449.4 532.8h2.0v2.0h-2.0zM472.7 502.4h2.0v2.0h-2.0zM460.8 503.7h2.0v2.0h-2.0zM490.0 424.2h2.0v2.0h-2.0zM507.8 529.7h2.0v2.0h-2.0zM518.9 445.5h2.0v2.0h-2.0zM503.9 511.2h2.0v2.0h-2.0z" fill="#ad9d31"/><path d="M521.0 447.1h2.0v2.0h-2.0zM486.8 474.1h2.0v2.0h-2.0zM504.5 463.2h2.0v2.0h-2.0zM506.6 461.2h2.0v2.0h-2.0zM496.8 384.3h2.0v2.0h-2.0zM476.6 381.5h2.0v2.0h-2.0zM459.2 473.9h2.0v2.0h-2.0zM510.8 390.0h2.0v2.0h-2.0zM488.8 481.6h2.0v2.0h-2.0zM462.6 554.0h2.0v2.0h-2.0zM445.5 539.6h2.0v2.0h-2.0zM425.5 503.4h2.0v2.0h-2.0zM540.0 397.1h2.0v2.0h-2.0zM486.2 428.3h2.0v2.0h-2.0zM539.9 472.6h2.0v2.0h-2.0zM501.2 375.5h2.0v2.0h-2.0zM486.3 409.2h2.0v2.0h-2.0zM535.9 506.4h2.0v2.0h-2.0zM542.9 456.4h2.0v2.0h-2.0zM493.3 496.2h2.0v2.0h-2.0zM461.2 382.0h2.0v2.0h-2.0zM469.4 403.8h2.0v2.0h-2.0zM538.6 440.0h2.0v2.0h-2.0zM535.4 430.2h2.0v2.0h-2.0zM470.6 459.4h2.0v2.0h-2.0zM535.3 414.1h2.0v2.0h-2.0zM480.1 488.3h2.0v2.0h-2.0zM502.5 390.8h2.0v2.0h-2.0zM521.6 435.9h2.0v2.0h-2.0zM548.1 409.1h2.0v2.0h-2.0zM464.4 505.6h2.0v2.0h-2.0zM433.5 544.0h2.0v2.0h-2.0zM523.5 482.3h2.0v2.0h-2.0zM503.6 454.9h2.0v2.0h-2.0zM468.5 379.8h2.0v2.0h-2.0zM490.2 393.7h2.0v2.0h-2.0zM493.1 484.4h2.0v2.0h-2.0zM481.6 445.7h2.0v2.0h-2.0zM469.9 551.1h2.0v2.0h-2.0zM488.6 429.1h2.0v2.0h-2.0zM516.6 512.8h2.0v2.0h-2.0zM574.9 465.7h2.0v2.0h-2.0zM494.1 390.8h2.0v2.0h-2.0zM502.9 436.9h2.0v2.0h-2.0zM480.3 372.6h2.0v2.0h-2.0zM468.0 534.4h2.0v2.0h-2.0zM528.9 478.1h2.0v2.0h-2.0zM474.7 476.0h2.0v2.0h-2.0zM459.3 505.4h2.0v2.0h-2.0zM488.0 527.8h2.0v2.0h-2.0zM482.8 484.4h2.0v2.0h-2.0zM468.5 527.2h2.0v2.0h-2.0zM505.1 412.9h2.0v2.0h-2.0zM486.1 488.4h2.0v2.0h-2.0zM546.0 452.6h2.0v2.0h-2.0zM555.6 428.7h2.0v2.0h-2.0zM480.7 390.9h2.0v2.0h-2.0zM479.9 400.3h2.0v2.0h-2.0zM537.2 452.2h2.0v2.0h-2.0zM543.0 474.2h2.0v2.0h-2.0zM511.2 433.3h2.0v2.0h-2.0zM503.1 452.6h2.0v2.0h-2.0zM454.0 491.2h2.0v2.0h-2.0zM505.0 490.2h2.0v2.0h-2.0zM473.6 526.9h2.0v2.0h-2.0zM548.3 418.8h2.0v2.0h-2.0zM500.4 489.0h2.0v2.0h-2.0zM421.3 517.4h2.0v2.0h-2.0zM588.9 432.3h2.0v2.0h-2.0zM551.8 435.0h2.0v2.0h-2.0zM515.3 468.2h2.0v2.0h-2.0zM523.4 464.5h2.0v2.0h-2.0zM537.8 448.1h2.0v2.0h-2.0zM428.8 533.9h2.0v2.0h-2.0zM459.3 498.4h2.0v2.0h-2.0zM492.7 493.3h2.0v2.0h-2.0zM479.1 463.6h2.0v2.0h-2.0zM580.2 431.7h2.0v2.0h-2.0zM452.4 498.9h2.0v2.0h-2.0zM506.9 382.3h2.0v2.0h-2.0zM594.3 469.2h2.0v2.0h-2.0zM532.7 429.4h2.0v2.0h-2.0zM482.9 451.5h2.0v2.0h-2.0zM396.0 507.3h2.0v2.0h-2.0zM553.0 408.9h2.0v2.0h-2.0zM558.5 485.1h2.0v2.0h-2.0zM594.7 461.2h2.0v2.0h-2.0zM491.6 383.5h2.0v2.0h-2.0zM545.5 461.0h2.0v2.0h-2.0zM504.2 412.4h2.0v2.0h-2.0zM485.3 400.0h2.0v2.0h-2.0zM476.5 514.8h2.0v2.0h-2.0zM469.7 512.7h2.0v2.0h-2.0zM490.1 375.1h2.0v2.0h-2.0zM489.8 377.9h2.0v2.0h-2.0zM542.4 490.1h2.0v2.0h-2.0zM490.4 394.5h2.0v2.0h-2.0zM516.8 480.9h2.0v2.0h-2.0zM476.3 445.7h2.0v2.0h-2.0zM499.8 381.7h2.0v2.0h-2.0zM527.9 470.4h2.0v2.0h-2.0zM465.9 528.5h2.0v2.0h-2.0zM509.9 444.5h2.0v2.0h-2.0zM522.7 475.4h2.0v2.0h-2.0zM539.2 493.6h2.0v2.0h-2.0zM573.6 455.3h2.0v2.0h-2.0zM483.6 488.9h2.0v2.0h-2.0zM557.8 424.2h2.0v2.0h-2.0zM493.4 446.2h2.0v2.0h-2.0zM592.9 451.6h2.0v2.0h-2.0zM523.4 499.7h2.0v2.0h-2.0zM505.9 470.7h2.0v2.0h-2.0zM414.2 529.1h2.0v2.0h-2.0zM472.7 481.6h2.0v2.0h-2.0zM463.2 534.3h2.0v2.0h-2.0zM488.6 434.8h2.0v2.0h-2.0zM484.7 375.7h2.0v2.0h-2.0zM481.6 383.5h2.0v2.0h-2.0zM582.7 454.4h2.0v2.0h-2.0zM471.8 494.4h2.0v2.0h-2.0zM562.1 436.1h2.0v2.0h-2.0zM480.6 501.9h2.0v2.0h-2.0zM543.3 399.1h2.0v2.0h-2.0zM542.1 467.8h2.0v2.0h-2.0zM509.8 495.6h2.0v2.0h-2.0zM505.9 513.2h2.0v2.0h-2.0zM502.2 486.2h2.0v2.0h-2.0zM511.4 496.4h2.0v2.0h-2.0zM489.8 531.0h2.0v2.0h-2.0zM493.6 521.4h2.0v2.0h-2.0zM503.0 369.6h2.0v2.0h-2.0zM498.1 448.7h2.0v2.0h-2.0zM563.9 434.6h2.0v2.0h-2.0zM484.7 354.3h2.0v2.0h-2.0zM504.9 461.4h2.0v2.0h-2.0zM529.8 417.6h2.0v2.0h-2.0zM492.3 396.1h2.0v2.0h-2.0zM515.1 434.1h2.0v2.0h-2.0zM482.1 428.2h2.0v2.0h-2.0zM494.5 392.4h2.0v2.0h-2.0zM494.0 490.6h2.0v2.0h-2.0zM509.6 389.2h2.0v2.0h-2.0zM505.6 425.6h2.0v2.0h-2.0zM498.4 398.2h2.0v2.0h-2.0zM561.3 443.5h2.0v2.0h-2.0zM484.5 491.6h2.0v2.0h-2.0zM489.6 421.8h2.0v2.0h-2.0zM471.5 520.0h2.0v2.0h-2.0zM540.1 521.4h2.0v2.0h-2.0zM543.6 429.6h2.0v2.0h-2.0zM472.6 455.9h2.0v2.0h-2.0zM556.7 442.9h2.0v2.0h-2.0zM537.5 425.7h2.0v2.0h-2.0zM476.3 363.8h2.0v2.0h-2.0zM526.0 398.7h2.0v2.0h-2.0zM540.7 458.6h2.0v2.0h-2.0zM543.9 508.0h2.0v2.0h-2.0zM534.9 501.8h2.0v2.0h-2.0zM502.8 442.9h2.0v2.0h-2.0zM527.0 479.1h2.0v2.0h-2.0zM493.3 382.1h2.0v2.0h-2.0zM406.4 534.2h2.0v2.0h-2.0zM461.7 531.8h2.0v2.0h-2.0zM558.7 495.7h2.0v2.0h-2.0zM523.4 503.0h2.0v2.0h-2.0zM460.6 501.3h2.0v2.0h-2.0zM576.6 432.8h2.0v2.0h-2.0zM550.1 427.9h2.0v2.0h-2.0zM486.3 482.6h2.0v2.0h-2.0zM535.6 400.2h2.0v2.0h-2.0zM491.9 501.7h2.0v2.0h-2.0zM452.5 505.3h2.0v2.0h-2.0zM503.7 515.1h2.0v2.0h-2.0zM472.5 524.7h2.0v2.0h-2.0zM508.4 419.7h2.0v2.0h-2.0zM452.8 552.8h2.0v2.0h-2.0zM526.1 447.8h2.0v2.0h-2.0zM499.7 445.3h2.0v2.0h-2.0zM538.4 458.0h2.0v2.0h-2.0zM496.4 475.7h2.0v2.0h-2.0zM554.2 455.9h2.0v2.0h-2.0zM479.0 410.5h2.0v2.0h-2.0zM469.1 399.4h2.0v2.0h-2.0zM544.5 456.4h2.0v2.0h-2.0zM576.4 446.7h2.0v2.0h-2.0zM531.8 385.8h2.0v2.0h-2.0zM535.5 380.3h2.0v2.0h-2.0zM506.4 503.8h2.0v2.0h-2.0zM466.5 490.8h2.0v2.0h-2.0zM481.5 522.9h2.0v2.0h-2.0zM531.9 488.7h2.0v2.0h-2.0zM524.6 501.2h2.0v2.0h-2.0zM494.5 528.1h2.0v2.0h-2.0zM581.0 455.5h2.0v2.0h-2.0zM488.7 506.5h2.0v2.0h-2.0zM457.4 380.5h2.0v2.0h-2.0zM526.5 485.0h2.0v2.0h-2.0zM493.9 457.5h2.0v2.0h-2.0zM528.8 486.1h2.0v2.0h-2.0zM511.5 449.4h2.0v2.0h-2.0zM475.2 559.2h2.0v2.0h-2.0zM529.0 450.3h2.0v2.0h-2.0zM493.5 387.9h2.0v2.0h-2.0zM520.7 457.8h2.0v2.0h-2.0zM528.4 419.5h2.0v2.0h-2.0zM494.9 378.8h2.0v2.0h-2.0zM483.2 385.9h2.0v2.0h-2.0zM494.6 440.9h2.0v2.0h-2.0zM485.5 394.3h2.0v2.0h-2.0zM575.2 461.0h2.0v2.0h-2.0zM559.0 431.4h2.0v2.0h-2.0zM514.2 500.3h2.0v2.0h-2.0zM509.8 474.4h2.0v2.0h-2.0zM476.7 557.4h2.0v2.0h-2.0zM505.1 499.5h2.0v2.0h-2.0zM513.2 365.9h2.0v2.0h-2.0zM510.1 368.7h2.0v2.0h-2.0zM585.6 465.0h2.0v2.0h-2.0zM560.1 438.8h2.0v2.0h-2.0zM483.0 406.8h2.0v2.0h-2.0zM497.0 379.8h2.0v2.0h-2.0zM477.6 449.0h2.0v2.0h-2.0zM545.8 469.0h2.0v2.0h-2.0zM497.2 391.6h2.0v2.0h-2.0zM467.1 501.5h2.0v2.0h-2.0zM569.0 455.5h2.0v2.0h-2.0zM464.8 378.8h2.0v2.0h-2.0zM512.2 521.0h2.0v2.0h-2.0zM518.2 518.0h2.0v2.0h-2.0zM468.0 375.7h2.0v2.0h-2.0zM442.1 511.2h2.0v2.0h-2.0zM511.8 387.2h2.0v2.0h-2.0zM518.6 417.7h2.0v2.0h-2.0zM562.4 511.8h2.0v2.0h-2.0zM600.2 419.5h2.0v2.0h-2.0zM510.6 363.0h2.0v2.0h-2.0zM476.1 547.7h2.0v2.0h-2.0zM513.6 498.0h2.0v2.0h-2.0zM489.0 479.8h2.0v2.0h-2.0zM487.7 492.0h2.0v2.0h-2.0zM482.1 372.3h2.0v2.0h-2.0zM559.8 466.4h2.0v2.0h-2.0zM471.6 544.4h2.0v2.0h-2.0zM537.3 494.9h2.0v2.0h-2.0zM554.5 468.3h2.0v2.0h-2.0zM496.9 504.1h2.0v2.0h-2.0zM525.2 515.1h2.0v2.0h-2.0zM577.5 407.3h2.0v2.0h-2.0zM499.5 525.3h2.0v2.0h-2.0zM493.2 526.7h2.0v2.0h-2.0zM510.1 466.5h2.0v2.0h-2.0zM506.9 388.1h2.0v2.0h-2.0zM489.4 425.5h2.0v2.0h-2.0zM537.4 455.2h2.0v2.0h-2.0zM502.3 413.4h2.0v2.0h-2.0zM439.8 517.5h2.0v2.0h-2.0zM494.4 384.3h2.0v2.0h-2.0zM544.1 477.4h2.0v2.0h-2.0zM520.5 375.3h2.0v2.0h-2.0zM498.3 519.7h2.0v2.0h-2.0zM478.9 496.2h2.0v2.0h-2.0zM580.1 452.4h2.0v2.0h-2.0zM493.7 443.2h2.0v2.0h-2.0zM484.2 421.4h2.0v2.0h-2.0zM512.7 395.9h2.0v2.0h-2.0zM539.6 496.3h2.0v2.0h-2.0zM530.2 514.6h2.0v2.0h-2.0zM511.6 532.6h2.0v2.0h-2.0zM558.2 455.4h2.0v2.0h-2.0zM512.4 433.3h2.0v2.0h-2.0zM563.7 448.9h2.0v2.0h-2.0zM505.7 384.4h2.0v2.0h-2.0zM461.9 520.6h2.0v2.0h-2.0zM533.3 420.8h2.0v2.0h-2.0zM522.5 380.8h2.0v2.0h-2.0zM563.7 417.6h2.0v2.0h-2.0zM499.1 375.3h2.0v2.0h-2.0zM470.6 547.3h2.0v2.0h-2.0zM491.9 474.7h2.0v2.0h-2.0zM442.6 546.9h2.0v2.0h-2.0zM540.1 472.2h2.0v2.0h-2.0zM481.3 495.5h2.0v2.0h-2.0zM528.8 466.5h2.0v2.0h-2.0zM481.8 385.4h2.0v2.0h-2.0zM469.8 496.7h2.0v2.0h-2.0zM501.2 506.0h2.0v2.0h-2.0zM564.7 433.0h2.0v2.0h-2.0zM552.4 442.1h2.0v2.0h-2.0zM480.9 537.9h2.0v2.0h-2.0zM524.3 502.2h2.0v2.0h-2.0zM547.9 437.4h2.0v2.0h-2.0zM519.1 488.9h2.0v2.0h-2.0zM468.4 559.9h2.0v2.0h-2.0zM493.2 378.4h2.0v2.0h-2.0zM428.7 520.1h2.0v2.0h-2.0zM528.7 492.1h2.0v2.0h-2.0zM505.8 477.3h2.0v2.0h-2.0zM542.0 475.8h2.0v2.0h-2.0zM502.6 385.7h2.0v2.0h-2.0zM420.3 506.4h2.0v2.0h-2.0zM500.4 458.3h2.0v2.0h-2.0zM591.9 466.0h2.0v2.0h-2.0zM548.8 415.0h2.0v2.0h-2.0zM532.6 479.5h2.0v2.0h-2.0zM482.1 448.3h2.0v2.0h-2.0zM523.9 498.0h2.0v2.0h-2.0zM518.0 455.9h2.0v2.0h-2.0zM498.4 438.3h2.0v2.0h-2.0zM487.6 472.4h2.0v2.0h-2.0zM523.9 403.2h2.0v2.0h-2.0zM480.0 384.8h2.0v2.0h-2.0zM515.7 386.7h2.0v2.0h-2.0zM548.3 473.5h2.0v2.0h-2.0zM482.9 509.9h2.0v2.0h-2.0zM561.0 448.4h2.0v2.0h-2.0zM565.8 485.9h2.0v2.0h-2.0zM554.4 422.5h2.0v2.0h-2.0zM483.6 486.4h2.0v2.0h-2.0zM561.6 471.8h2.0v2.0h-2.0zM435.3 551.5h2.0v2.0h-2.0zM511.3 466.7h2.0v2.0h-2.0zM465.7 473.1h2.0v2.0h-2.0zM574.4 418.7h2.0v2.0h-2.0zM550.2 507.9h2.0v2.0h-2.0zM474.2 530.4h2.0v2.0h-2.0zM561.7 471.5h2.0v2.0h-2.0zM524.7 520.5h2.0v2.0h-2.0zM485.2 443.6h2.0v2.0h-2.0zM492.7 411.7h2.0v2.0h-2.0zM525.8 397.5h2.0v2.0h-2.0zM485.0 396.9h2.0v2.0h-2.0zM486.3 382.8h2.0v2.0h-2.0zM548.3 417.3h2.0v2.0h-2.0zM523.9 394.4h2.0v2.0h-2.0zM557.2 432.9h2.0v2.0h-2.0zM493.6 493.8h2.0v2.0h-2.0zM480.4 417.6h2.0v2.0h-2.0zM419.2 542.4h2.0v2.0h-2.0zM529.8 451.6h2.0v2.0h-2.0zM601.1 448.0h2.0v2.0h-2.0zM537.4 461.8h2.0v2.0h-2.0zM505.2 444.9h2.0v2.0h-2.0zM460.2 538.5h2.0v2.0h-2.0zM506.5 505.2h2.0v2.0h-2.0zM489.6 475.9h2.0v2.0h-2.0zM590.6 446.9h2.0v2.0h-2.0zM488.7 384.1h2.0v2.0h-2.0zM562.5 449.0h2.0v2.0h-2.0zM524.9 458.6h2.0v2.0h-2.0zM516.3 424.6h2.0v2.0h-2.0zM536.5 467.6h2.0v2.0h-2.0zM457.8 523.8h2.0v2.0h-2.0zM482.6 370.9h2.0v2.0h-2.0zM530.1 460.8h2.0v2.0h-2.0zM518.8 487.6h2.0v2.0h-2.0zM524.6 512.6h2.0v2.0h-2.0zM539.8 443.4h2.0v2.0h-2.0zM511.7 366.5h2.0v2.0h-2.0zM493.5 473.5h2.0v2.0h-2.0zM496.7 441.2h2.0v2.0h-2.0zM547.6 455.5h2.0v2.0h-2.0zM503.5 395.1h2.0v2.0h-2.0zM552.8 520.2h2.0v2.0h-2.0zM465.5 481.1h2.0v2.0h-2.0zM490.7 388.8h2.0v2.0h-2.0zM526.5 447.9h2.0v2.0h-2.0zM594.9 460.1h2.0v2.0h-2.0zM492.5 482.9h2.0v2.0h-2.0zM543.7 482.9h2.0v2.0h-2.0zM527.4 397.3h2.0v2.0h-2.0zM530.0 484.8h2.0v2.0h-2.0zM515.0 450.8h2.0v2.0h-2.0zM477.3 545.6h2.0v2.0h-2.0zM464.7 374.6h2.0v2.0h-2.0zM492.6 393.2h2.0v2.0h-2.0zM451.5 540.1h2.0v2.0h-2.0zM494.2 453.1h2.0v2.0h-2.0zM518.0 440.6h2.0v2.0h-2.0zM526.4 448.3h2.0v2.0h-2.0zM496.0 439.6h2.0v2.0h-2.0zM527.7 520.3h2.0v2.0h-2.0zM500.5 516.3h2.0v2.0h-2.0zM588.8 457.5h2.0v2.0h-2.0zM528.5 498.8h2.0v2.0h-2.0zM519.5 517.0h2.0v2.0h-2.0zM512.7 439.3h2.0v2.0h-2.0zM504.0 395.3h2.0v2.0h-2.0zM519.7 402.5h2.0v2.0h-2.0zM488.0 458.9h2.0v2.0h-2.0zM535.2 494.9h2.0v2.0h-2.0zM509.5 386.2h2.0v2.0h-2.0zM516.8 500.4h2.0v2.0h-2.0zM533.2 446.5h2.0v2.0h-2.0zM474.1 453.8h2.0v2.0h-2.0zM476.8 434.7h2.0v2.0h-2.0zM510.2 379.3h2.0v2.0h-2.0zM562.5 470.9h2.0v2.0h-2.0zM516.7 390.4h2.0v2.0h-2.0zM465.0 537.6h2.0v2.0h-2.0zM468.9 506.5h2.0v2.0h-2.0zM544.6 383.9h2.0v2.0h-2.0zM516.8 456.8h2.0v2.0h-2.0zM561.0 452.8h2.0v2.0h-2.0zM598.0 448.8h2.0v2.0h-2.0zM575.9 449.1h2.0v2.0h-2.0zM588.3 433.1h2.0v2.0h-2.0zM491.2 436.4h2.0v2.0h-2.0zM473.6 477.9h2.0v2.0h-2.0zM597.5 471.7h2.0v2.0h-2.0zM541.6 415.6h2.0v2.0h-2.0zM501.6 508.8h2.0v2.0h-2.0zM503.4 475.5h2.0v2.0h-2.0zM471.2 512.2h2.0v2.0h-2.0zM486.5 377.4h2.0v2.0h-2.0zM509.2 480.9h2.0v2.0h-2.0zM528.7 418.0h2.0v2.0h-2.0zM497.8 388.0h2.0v2.0h-2.0zM558.9 423.5h2.0v2.0h-2.0zM526.6 410.4h2.0v2.0h-2.0zM543.2 466.2h2.0v2.0h-2.0zM513.0 466.3h2.0v2.0h-2.0zM466.2 516.1h2.0v2.0h-2.0zM506.7 420.3h2.0v2.0h-2.0zM502.8 537.7h2.0v2.0h-2.0zM483.1 428.7h2.0v2.0h-2.0zM502.5 382.4h2.0v2.0h-2.0zM521.3 468.1h2.0v2.0h-2.0zM469.6 511.1h2.0v2.0h-2.0zM563.4 490.0h2.0v2.0h-2.0zM512.4 388.5h2.0v2.0h-2.0zM530.9 506.3h2.0v2.0h-2.0zM500.5 484.7h2.0v2.0h-2.0zM509.2 484.9h2.0v2.0h-2.0zM555.7 462.0h2.0v2.0h-2.0zM488.9 522.1h2.0v2.0h-2.0zM524.7 415.5h2.0v2.0h-2.0zM484.4 441.2h2.0v2.0h-2.0zM495.7 487.0h2.0v2.0h-2.0zM586.8 439.1h2.0v2.0h-2.0zM545.8 462.7h2.0v2.0h-2.0zM475.7 387.6h2.0v2.0h-2.0zM570.4 441.7h2.0v2.0h-2.0zM474.1 508.2h2.0v2.0h-2.0zM520.3 457.9h2.0v2.0h-2.0zM519.7 491.4h2.0v2.0h-2.0zM505.2 456.9h2.0v2.0h-2.0zM571.8 488.3h2.0v2.0h-2.0zM529.6 434.6h2.0v2.0h-2.0zM455.2 534.1h2.0v2.0h-2.0zM476.9 438.7h2.0v2.0h-2.0zM503.8 383.7h2.0v2.0h-2.0zM472.8 457.5h2.0v2.0h-2.0zM522.7 477.6h2.0v2.0h-2.0zM494.8 441.3h2.0v2.0h-2.0zM499.7 432.2h2.0v2.0h-2.0zM522.3 465.0h2.0v2.0h-2.0zM504.6 389.9h2.0v2.0h-2.0zM488.3 393.0h2.0v2.0h-2.0zM524.2 534.4h2.0v2.0h-2.0zM512.7 483.8h2.0v2.0h-2.0zM489.7 471.8h2.0v2.0h-2.0zM409.1 519.8h2.0v2.0h-2.0zM429.1 528.4h2.0v2.0h-2.0zM472.6 516.8h2.0v2.0h-2.0zM507.8 526.2h2.0v2.0h-2.0zM516.1 439.2h2.0v2.0h-2.0zM580.4 461.1h2.0v2.0h-2.0zM515.1 444.3h2.0v2.0h-2.0zM528.0 428.1h2.0v2.0h-2.0zM577.4 437.0h2.0v2.0h-2.0zM494.1 467.0h2.0v2.0h-2.0zM528.1 479.3h2.0v2.0h-2.0zM541.8 430.5h2.0v2.0h-2.0zM502.8 527.9h2.0v2.0h-2.0zM478.0 385.8h2.0v2.0h-2.0zM542.3 508.6h2.0v2.0h-2.0zM486.1 502.7h2.0v2.0h-2.0zM461.2 522.2h2.0v2.0h-2.0zM569.3 458.4h2.0v2.0h-2.0zM570.6 461.1h2.0v2.0h-2.0zM528.8 438.1h2.0v2.0h-2.0zM482.3 431.1h2.0v2.0h-2.0zM524.7 375.2h2.0v2.0h-2.0zM553.3 401.3h2.0v2.0h-2.0zM467.9 379.4h2.0v2.0h-2.0zM511.2 464.5h2.0v2.0h-2.0zM454.5 530.9h2.0v2.0h-2.0zM533.7 420.6h2.0v2.0h-2.0zM472.9 492.8h2.0v2.0h-2.0zM481.6 406.3h2.0v2.0h-2.0zM522.7 407.5h2.0v2.0h-2.0zM541.6 495.2h2.0v2.0h-2.0zM511.0 425.4h2.0v2.0h-2.0zM500.9 416.3h2.0v2.0h-2.0zM508.2 506.7h2.0v2.0h-2.0zM486.0 386.1h2.0v2.0h-2.0zM539.0 430.5h2.0v2.0h-2.0zM496.4 501.1h2.0v2.0h-2.0zM478.4 375.5h2.0v2.0h-2.0zM466.5 511.1h2.0v2.0h-2.0zM533.4 497.1h2.0v2.0h-2.0zM495.5 377.5h2.0v2.0h-2.0zM494.9 371.6h2.0v2.0h-2.0zM494.0 403.4h2.0v2.0h-2.0zM594.7 456.2h2.0v2.0h-2.0zM536.9 442.5h2.0v2.0h-2.0zM458.3 519.1h2.0v2.0h-2.0zM526.2 428.4h2.0v2.0h-2.0zM530.0 493.2h2.0v2.0h-2.0zM551.4 463.4h2.0v2.0h-2.0zM520.2 409.9h2.0v2.0h-2.0zM481.6 453.1h2.0v2.0h-2.0zM506.4 467.3h2.0v2.0h-2.0zM478.4 400.7h2.0v2.0h-2.0zM506.6 367.6h2.0v2.0h-2.0zM486.1 523.8h2.0v2.0h-2.0zM572.1 449.2h2.0v2.0h-2.0zM535.0 501.8h2.0v2.0h-2.0zM467.8 498.1h2.0v2.0h-2.0zM521.5 473.9h2.0v2.0h-2.0zM506.7 408.5h2.0v2.0h-2.0zM509.0 410.0h2.0v2.0h-2.0zM546.6 442.7h2.0v2.0h-2.0zM539.5 461.0h2.0v2.0h-2.0zM472.5 378.7h2.0v2.0h-2.0zM464.9 392.8h2.0v2.0h-2.0zM480.2 370.1h2.0v2.0h-2.0zM527.5 477.6h2.0v2.0h-2.0zM485.7 385.3h2.0v2.0h-2.0zM463.1 504.9h2.0v2.0h-2.0zM555.3 510.0h2.0v2.0h-2.0zM541.8 442.7h2.0v2.0h-2.0zM587.3 442.3h2.0v2.0h-2.0zM498.0 521.7h2.0v2.0h-2.0zM565.7 462.8h2.0v2.0h-2.0zM485.3 427.2h2.0v2.0h-2.0zM481.4 407.5h2.0v2.0h-2.0zM585.7 439.3h2.0v2.0h-2.0zM550.5 453.5h2.0v2.0h-2.0zM494.4 458.4h2.0v2.0h-2.0zM507.8 520.7h2.0v2.0h-2.0zM482.7 391.3h2.0v2.0h-2.0zM451.7 502.9h2.0v2.0h-2.0zM514.8 468.8h2.0v2.0h-2.0zM509.6 524.7h2.0v2.0h-2.0zM530.2 470.5h2.0v2.0h-2.0zM522.8 475.9h2.0v2.0h-2.0zM595.5 441.3h2.0v2.0h-2.0zM528.5 436.3h2.0v2.0h-2.0zM552.3 466.5h2.0v2.0h-2.0zM518.4 472.4h2.0v2.0h-2.0zM546.6 415.8h2.0v2.0h-2.0zM486.1 473.8h2.0v2.0h-2.0zM496.7 429.6h2.0v2.0h-2.0zM491.6 385.8h2.0v2.0h-2.0zM490.3 453.0h2.0v2.0h-2.0zM477.5 397.4h2.0v2.0h-2.0zM536.4 469.5h2.0v2.0h-2.0zM482.0 526.3h2.0v2.0h-2.0zM561.7 464.2h2.0v2.0h-2.0zM478.9 535.4h2.0v2.0h-2.0z" fill="#33b07a"/></g><path d="M443.5,406.0 C443.8,403.7 446.2,403.2 448.0,402.5 C449.8,401.8 451.3,401.9 454.4,402.0 C457.5,402.1 462.9,402.4 466.6,403.0 C470.3,403.6 473.7,404.5 476.8,405.5 C479.9,406.5 482.0,407.2 485.0,409.0 C488.0,410.8 491.3,413.0 495.0,416.0 C498.7,419.0 502.8,423.0 507.0,427.0 C511.2,431.0 515.8,435.8 520.0,440.0 C524.2,444.2 527.8,448.6 532.0,452.0 C536.2,455.4 541.0,458.4 545.0,460.5 C549.0,462.6 552.5,463.1 556.0,464.5 C559.5,465.9 563.0,467.2 566.0,469.0 C569.0,470.8 571.6,473.0 574.0,475.0 C576.4,477.0 578.8,478.5 580.4,481.2 C582.0,483.9 583.2,488.0 583.6,491.4 C584.0,494.8 583.5,498.9 582.6,501.6 C581.7,504.3 580.4,505.8 578.3,507.7 C576.2,509.6 573.2,511.4 570.2,512.8 C567.2,514.1 563.4,514.8 560.0,515.8 C556.6,516.8 553.2,518.0 549.8,518.9 C546.4,519.8 542.8,520.2 539.7,520.9 C536.7,521.6 534.2,522.3 531.5,523.0 C528.8,523.7 526.1,524.4 523.4,525.0 C520.7,525.6 517.6,526.0 515.2,526.5 C512.8,527.0 511.4,528.3 509.0,528.0 C506.6,527.7 504.2,526.3 501.0,524.5 C497.8,522.7 493.8,519.8 490.0,517.0 C486.2,514.2 481.6,510.3 478.0,508.0 C474.4,505.7 471.6,504.2 468.6,503.0 C465.6,501.8 462.8,502.2 460.0,501.0 C457.2,499.8 454.3,498.2 452.0,496.0 C449.7,493.8 447.4,491.0 446.0,488.0 C444.6,485.0 444.0,481.7 443.5,478.0 C443.0,474.3 443.2,469.8 443.2,466.0 C443.2,462.2 443.2,458.5 443.4,455.0 C443.6,451.5 443.9,448.3 444.5,444.8 C445.1,441.3 446.1,437.5 446.8,434.0 C447.5,430.5 448.6,426.9 448.5,424.0 C448.4,421.1 447.1,419.3 446.3,416.3 C445.5,413.3 443.2,408.3 443.5,406.0 Z" fill="#f77189" fill-opacity="0.82"/><path d="M501.0,401.5 C502.8,400.9 508.1,400.8 511.2,401.1 C514.2,401.4 517.4,401.7 519.3,403.5 C521.2,405.3 522.1,408.4 522.6,412.0 C523.1,415.6 522.2,420.8 522.0,425.0 C521.8,429.2 521.2,432.8 521.5,437.0 C521.8,441.2 522.6,446.2 523.5,450.0 C524.4,453.8 525.6,456.7 527.0,460.0 C528.4,463.3 530.5,466.7 532.0,470.0 C533.5,473.3 535.0,476.7 536.0,480.0 C537.0,483.3 537.6,486.2 537.8,490.0 C538.0,493.8 537.8,499.2 537.0,503.0 C536.2,506.8 534.7,510.2 533.0,513.0 C531.3,515.8 528.9,517.8 527.0,520.0 C525.1,522.2 523.0,524.3 521.4,526.0 C519.8,527.7 519.3,528.7 517.3,530.1 C515.2,531.5 511.8,532.7 509.1,534.2 C506.4,535.7 503.3,537.9 501.0,539.2 C498.7,540.6 497.8,540.9 495.1,542.3 C492.4,543.7 488.3,546.5 484.9,547.4 C481.5,548.2 478.2,547.9 474.8,547.4 C471.4,546.9 467.2,545.5 464.6,544.3 C462.1,543.1 460.7,542.3 459.5,540.3 C458.3,538.3 457.7,535.5 457.5,532.1 C457.3,528.7 457.7,524.0 458.5,519.9 C459.3,515.8 461.4,511.8 462.5,507.7 C463.6,503.6 464.5,499.6 465.0,495.0 C465.5,490.4 465.3,484.7 465.5,480.0 C465.7,475.3 465.8,472.0 466.0,467.0 C466.2,462.0 466.4,455.8 466.6,450.0 C466.9,444.2 465.9,437.2 467.5,432.5 C469.1,427.8 472.7,425.5 476.2,422.0 C479.7,418.5 484.4,414.4 488.5,411.5 C492.6,408.6 498.6,406.2 500.7,404.5 C502.8,402.8 499.2,402.1 501.0,401.5 Z" fill="#ad9d31" fill-opacity="0.7"/><path d="M490.0,394.0 C492.3,391.8 495.5,388.8 499.0,387.0 C502.5,385.2 507.1,384.1 511.2,383.5 C515.3,382.9 520.0,382.9 523.5,383.5 C527.0,384.1 529.6,385.0 532.2,387.0 C534.8,389.0 536.9,392.2 539.2,395.7 C541.5,399.2 543.9,403.9 546.2,408.0 C548.5,412.1 551.2,416.7 553.2,420.2 C555.2,423.7 556.8,426.2 558.4,429.0 C560.0,431.8 561.7,434.0 563.0,437.0 C564.3,440.0 565.3,443.0 566.0,447.0 C566.7,451.0 567.3,456.8 567.0,461.0 C566.7,465.2 565.2,469.0 564.0,472.0 C562.8,475.0 561.7,475.6 560.0,479.2 C558.3,482.8 556.3,489.1 553.9,493.5 C551.5,497.9 548.5,502.3 545.8,505.7 C543.1,509.1 540.6,511.4 537.6,513.8 C534.6,516.2 530.6,518.2 527.5,519.9 C524.4,521.6 521.9,522.9 519.0,524.0 C516.1,525.1 513.0,525.8 510.0,526.5 C507.0,527.2 504.2,526.8 501.0,528.1 C497.8,529.4 494.4,532.5 491.0,534.2 C487.6,535.9 484.3,537.5 480.9,538.2 C477.5,538.9 473.8,538.9 470.7,538.2 C467.6,537.5 464.4,535.9 462.5,534.2 C460.6,532.5 459.8,531.2 459.5,528.1 C459.2,525.0 459.6,519.9 460.5,515.8 C461.4,511.7 463.0,507.9 464.6,503.6 C466.2,499.3 468.4,495.6 470.0,490.0 C471.6,484.4 473.0,476.7 474.0,470.0 C475.0,463.3 475.3,456.7 476.0,450.0 C476.7,443.3 477.2,436.7 478.0,430.0 C478.8,423.3 479.8,415.0 481.0,410.0 C482.2,405.0 483.5,402.7 485.0,400.0 C486.5,397.3 487.7,396.2 490.0,394.0 Z" fill="#2aa070" fill-opacity="0.6"/><path d="M485.0,402.7 C488.2,399.6 491.7,397.8 495.5,396.6 C499.3,395.4 503.6,395.3 507.7,395.7 C511.8,396.1 516.8,397.4 520.0,399.2 C523.2,400.9 525.3,402.1 527.0,406.2 C528.7,410.3 529.5,417.9 530.4,423.7 C531.3,429.5 531.3,435.4 532.2,441.2 C533.1,447.0 534.8,452.6 535.7,458.7 C536.6,464.8 536.9,472.2 537.4,478.0 C537.9,483.8 538.9,488.9 538.6,493.5 C538.3,498.1 537.1,502.0 535.6,505.7 C534.1,509.4 531.9,513.3 529.5,515.8 C527.1,518.3 524.4,519.5 521.4,520.9 C518.4,522.3 514.6,523.3 511.2,524.0 C507.8,524.7 504.5,525.7 501.0,525.0 C497.5,524.3 493.2,523.3 490.0,520.0 C486.8,516.7 484.0,510.0 482.0,505.0 C480.0,500.0 478.8,495.8 478.0,490.0 C477.2,484.2 477.4,476.7 477.1,470.0 C476.8,463.3 476.6,456.8 476.2,450.0 C475.8,443.2 474.5,434.8 474.5,429.0 C474.5,423.2 474.4,419.4 476.2,415.0 C477.9,410.6 481.8,405.8 485.0,402.7 Z" fill="#1e8c98" fill-opacity="0.7"/><path d="M470.0,470.0 C472.0,466.0 475.0,467.3 480.0,466.0 C485.0,464.7 493.3,463.3 500.0,462.0 C506.7,460.7 514.2,458.7 520.0,458.0 C525.8,457.3 530.3,456.0 535.0,458.0 C539.7,460.0 545.5,465.5 548.0,470.0 C550.5,474.5 550.5,480.0 550.0,485.0 C549.5,490.0 547.2,495.8 545.0,500.0 C542.8,504.2 540.0,507.0 537.0,510.0 C534.0,513.0 530.7,515.8 527.0,518.0 C523.3,520.2 519.3,522.0 515.0,523.5 C510.7,525.0 505.2,525.3 501.0,527.0 C496.8,528.7 493.7,531.8 490.0,533.5 C486.3,535.2 482.5,536.4 479.0,537.0 C475.5,537.6 471.8,537.7 469.0,537.0 C466.2,536.3 463.6,534.8 462.0,533.0 C460.4,531.2 459.8,529.0 459.5,526.0 C459.2,523.0 459.7,518.8 460.5,515.0 C461.3,511.2 463.2,507.2 464.5,503.0 C465.8,498.8 467.1,495.5 468.0,490.0 C468.9,484.5 468.0,474.0 470.0,470.0 Z" fill="#2a8c8c" fill-opacity="0.6"/><path d="M416.3,462.0 C416.7,459.3 417.6,455.7 419.0,453.0 C420.4,450.3 422.7,448.5 425.0,446.0 C427.3,443.5 430.0,440.5 433.0,438.0 C436.0,435.5 439.3,433.5 443.0,431.0 C446.7,428.5 451.2,425.8 455.0,423.0 C458.8,420.2 462.3,417.0 466.0,414.0 C469.7,411.0 473.5,407.3 477.0,405.0 C480.5,402.7 483.8,401.2 487.0,400.0 C490.2,398.8 492.7,398.5 496.0,397.5 C499.3,396.5 503.3,395.4 507.0,394.0 C510.7,392.6 513.9,390.5 518.0,389.0 C522.1,387.5 527.5,385.5 531.5,384.8 C535.5,384.1 538.3,384.5 541.7,384.8 C545.1,385.1 548.9,385.8 551.9,386.8 C554.9,387.8 557.8,389.4 560.0,390.9 C562.2,392.4 563.9,393.8 565.1,396.0 C566.3,398.2 566.6,401.4 567.1,404.1 C567.6,406.8 567.5,409.9 568.2,412.3 C568.9,414.7 569.9,416.7 571.2,418.4 C572.6,420.1 574.9,420.7 576.3,422.4 C577.6,424.1 579.1,426.5 579.3,428.5 C579.5,430.5 578.3,432.9 577.3,434.6 C576.3,436.3 574.7,437.3 573.2,438.7 C571.7,440.1 569.7,441.4 568.2,442.8 C566.7,444.2 565.8,445.5 564.1,446.9 C562.4,448.2 560.4,449.5 558.0,450.9 C555.6,452.2 552.5,453.6 549.8,455.0 C547.1,456.4 544.8,457.8 541.7,459.1 C538.7,460.5 534.9,461.8 531.5,463.1 C528.1,464.4 525.0,465.5 521.4,467.0 C517.8,468.5 513.6,470.5 510.0,472.0 C506.4,473.5 503.3,474.5 500.0,476.0 C496.7,477.5 493.5,479.4 490.0,481.0 C486.5,482.6 482.4,483.9 478.8,485.3 C475.2,486.7 472.0,488.0 468.6,489.4 C465.2,490.8 462.2,492.6 458.5,493.5 C454.8,494.4 450.4,494.7 446.3,495.0 C442.2,495.3 438.1,495.5 434.0,495.5 C429.9,495.5 424.2,496.6 422.0,495.0 C419.8,493.4 421.5,489.2 421.0,486.0 C420.5,482.8 419.8,478.8 419.0,476.0 C418.2,473.2 416.9,471.3 416.5,469.0 C416.1,466.7 415.9,464.7 416.3,462.0 Z" fill="#c070ec" fill-opacity="0.7"/><path d="M443.5,406.0 C443.8,403.7 446.2,403.2 448.0,402.5 C449.8,401.8 451.3,401.9 454.4,402.0 C457.5,402.1 462.9,402.4 466.6,403.0 C470.3,403.6 473.7,404.5 476.8,405.5 C479.9,406.5 482.0,407.2 485.0,409.0 C488.0,410.8 491.3,413.0 495.0,416.0 C498.7,419.0 502.8,423.0 507.0,427.0 C511.2,431.0 515.8,435.8 520.0,440.0 C524.2,444.2 527.8,448.6 532.0,452.0 C536.2,455.4 541.0,458.4 545.0,460.5 C549.0,462.6 552.5,463.1 556.0,464.5 C559.5,465.9 563.0,467.2 566.0,469.0 C569.0,470.8 571.6,473.0 574.0,475.0 C576.4,477.0 578.8,478.5 580.4,481.2 C582.0,483.9 583.2,488.0 583.6,491.4 C584.0,494.8 583.5,498.9 582.6,501.6 C581.7,504.3 580.4,505.8 578.3,507.7 C576.2,509.6 573.2,511.4 570.2,512.8 C567.2,514.1 563.4,514.8 560.0,515.8 C556.6,516.8 553.2,518.0 549.8,518.9 C546.4,519.8 542.8,520.2 539.7,520.9 C536.7,521.6 534.2,522.3 531.5,523.0 C528.8,523.7 526.1,524.4 523.4,525.0 C520.7,525.6 517.6,526.0 515.2,526.5 C512.8,527.0 511.4,528.3 509.0,528.0 C506.6,527.7 504.2,526.3 501.0,524.5 C497.8,522.7 493.8,519.8 490.0,517.0 C486.2,514.2 481.6,510.3 478.0,508.0 C474.4,505.7 471.6,504.2 468.6,503.0 C465.6,501.8 462.8,502.2 460.0,501.0 C457.2,499.8 454.3,498.2 452.0,496.0 C449.7,493.8 447.4,491.0 446.0,488.0 C444.6,485.0 444.0,481.7 443.5,478.0 C443.0,474.3 443.2,469.8 443.2,466.0 C443.2,462.2 443.2,458.5 443.4,455.0 C443.6,451.5 443.9,448.3 444.5,444.8 C445.1,441.3 446.1,437.5 446.8,434.0 C447.5,430.5 448.6,426.9 448.5,424.0 C448.4,421.1 447.1,419.3 446.3,416.3 C445.5,413.3 443.2,408.3 443.5,406.0 Z" fill="none" stroke="#f77189" stroke-width="0.9" stroke-opacity="0.8"/><path d="M501.0,401.5 C502.8,400.9 508.1,400.8 511.2,401.1 C514.2,401.4 517.4,401.7 519.3,403.5 C521.2,405.3 522.1,408.4 522.6,412.0 C523.1,415.6 522.2,420.8 522.0,425.0 C521.8,429.2 521.2,432.8 521.5,437.0 C521.8,441.2 522.6,446.2 523.5,450.0 C524.4,453.8 525.6,456.7 527.0,460.0 C528.4,463.3 530.5,466.7 532.0,470.0 C533.5,473.3 535.0,476.7 536.0,480.0 C537.0,483.3 537.6,486.2 537.8,490.0 C538.0,493.8 537.8,499.2 537.0,503.0 C536.2,506.8 534.7,510.2 533.0,513.0 C531.3,515.8 528.9,517.8 527.0,520.0 C525.1,522.2 523.0,524.3 521.4,526.0 C519.8,527.7 519.3,528.7 517.3,530.1 C515.2,531.5 511.8,532.7 509.1,534.2 C506.4,535.7 503.3,537.9 501.0,539.2 C498.7,540.6 497.8,540.9 495.1,542.3 C492.4,543.7 488.3,546.5 484.9,547.4 C481.5,548.2 478.2,547.9 474.8,547.4 C471.4,546.9 467.2,545.5 464.6,544.3 C462.1,543.1 460.7,542.3 459.5,540.3 C458.3,538.3 457.7,535.5 457.5,532.1 C457.3,528.7 457.7,524.0 458.5,519.9 C459.3,515.8 461.4,511.8 462.5,507.7 C463.6,503.6 464.5,499.6 465.0,495.0 C465.5,490.4 465.3,484.7 465.5,480.0 C465.7,475.3 465.8,472.0 466.0,467.0 C466.2,462.0 466.4,455.8 466.6,450.0 C466.9,444.2 465.9,437.2 467.5,432.5 C469.1,427.8 472.7,425.5 476.2,422.0 C479.7,418.5 484.4,414.4 488.5,411.5 C492.6,408.6 498.6,406.2 500.7,404.5 C502.8,402.8 499.2,402.1 501.0,401.5 Z" fill="none" stroke="#ad9d31" stroke-width="0.9" stroke-opacity="0.8"/><path d="M490.0,394.0 C492.3,391.8 495.5,388.8 499.0,387.0 C502.5,385.2 507.1,384.1 511.2,383.5 C515.3,382.9 520.0,382.9 523.5,383.5 C527.0,384.1 529.6,385.0 532.2,387.0 C534.8,389.0 536.9,392.2 539.2,395.7 C541.5,399.2 543.9,403.9 546.2,408.0 C548.5,412.1 551.2,416.7 553.2,420.2 C555.2,423.7 556.8,426.2 558.4,429.0 C560.0,431.8 561.7,434.0 563.0,437.0 C564.3,440.0 565.3,443.0 566.0,447.0 C566.7,451.0 567.3,456.8 567.0,461.0 C566.7,465.2 565.2,469.0 564.0,472.0 C562.8,475.0 561.7,475.6 560.0,479.2 C558.3,482.8 556.3,489.1 553.9,493.5 C551.5,497.9 548.5,502.3 545.8,505.7 C543.1,509.1 540.6,511.4 537.6,513.8 C534.6,516.2 530.6,518.2 527.5,519.9 C524.4,521.6 521.9,522.9 519.0,524.0 C516.1,525.1 513.0,525.8 510.0,526.5 C507.0,527.2 504.2,526.8 501.0,528.1 C497.8,529.4 494.4,532.5 491.0,534.2 C487.6,535.9 484.3,537.5 480.9,538.2 C477.5,538.9 473.8,538.9 470.7,538.2 C467.6,537.5 464.4,535.9 462.5,534.2 C460.6,532.5 459.8,531.2 459.5,528.1 C459.2,525.0 459.6,519.9 460.5,515.8 C461.4,511.7 463.0,507.9 464.6,503.6 C466.2,499.3 468.4,495.6 470.0,490.0 C471.6,484.4 473.0,476.7 474.0,470.0 C475.0,463.3 475.3,456.7 476.0,450.0 C476.7,443.3 477.2,436.7 478.0,430.0 C478.8,423.3 479.8,415.0 481.0,410.0 C482.2,405.0 483.5,402.7 485.0,400.0 C486.5,397.3 487.7,396.2 490.0,394.0 Z" fill="none" stroke="#33b07a" stroke-width="0.9" stroke-opacity="0.8"/><path d="M485.0,402.7 C488.2,399.6 491.7,397.8 495.5,396.6 C499.3,395.4 503.6,395.3 507.7,395.7 C511.8,396.1 516.8,397.4 520.0,399.2 C523.2,400.9 525.3,402.1 527.0,406.2 C528.7,410.3 529.5,417.9 530.4,423.7 C531.3,429.5 531.3,435.4 532.2,441.2 C533.1,447.0 534.8,452.6 535.7,458.7 C536.6,464.8 536.9,472.2 537.4,478.0 C537.9,483.8 538.9,488.9 538.6,493.5 C538.3,498.1 537.1,502.0 535.6,505.7 C534.1,509.4 531.9,513.3 529.5,515.8 C527.1,518.3 524.4,519.5 521.4,520.9 C518.4,522.3 514.6,523.3 511.2,524.0 C507.8,524.7 504.5,525.7 501.0,525.0 C497.5,524.3 493.2,523.3 490.0,520.0 C486.8,516.7 484.0,510.0 482.0,505.0 C480.0,500.0 478.8,495.8 478.0,490.0 C477.2,484.2 477.4,476.7 477.1,470.0 C476.8,463.3 476.6,456.8 476.2,450.0 C475.8,443.2 474.5,434.8 474.5,429.0 C474.5,423.2 474.4,419.4 476.2,415.0 C477.9,410.6 481.8,405.8 485.0,402.7 Z" fill="none" stroke="#38a9c5" stroke-width="0.9" stroke-opacity="0.8"/><path d="M416.3,462.0 C416.7,459.3 417.6,455.7 419.0,453.0 C420.4,450.3 422.7,448.5 425.0,446.0 C427.3,443.5 430.0,440.5 433.0,438.0 C436.0,435.5 439.3,433.5 443.0,431.0 C446.7,428.5 451.2,425.8 455.0,423.0 C458.8,420.2 462.3,417.0 466.0,414.0 C469.7,411.0 473.5,407.3 477.0,405.0 C480.5,402.7 483.8,401.2 487.0,400.0 C490.2,398.8 492.7,398.5 496.0,397.5 C499.3,396.5 503.3,395.4 507.0,394.0 C510.7,392.6 513.9,390.5 518.0,389.0 C522.1,387.5 527.5,385.5 531.5,384.8 C535.5,384.1 538.3,384.5 541.7,384.8 C545.1,385.1 548.9,385.8 551.9,386.8 C554.9,387.8 557.8,389.4 560.0,390.9 C562.2,392.4 563.9,393.8 565.1,396.0 C566.3,398.2 566.6,401.4 567.1,404.1 C567.6,406.8 567.5,409.9 568.2,412.3 C568.9,414.7 569.9,416.7 571.2,418.4 C572.6,420.1 574.9,420.7 576.3,422.4 C577.6,424.1 579.1,426.5 579.3,428.5 C579.5,430.5 578.3,432.9 577.3,434.6 C576.3,436.3 574.7,437.3 573.2,438.7 C571.7,440.1 569.7,441.4 568.2,442.8 C566.7,444.2 565.8,445.5 564.1,446.9 C562.4,448.2 560.4,449.5 558.0,450.9 C555.6,452.2 552.5,453.6 549.8,455.0 C547.1,456.4 544.8,457.8 541.7,459.1 C538.7,460.5 534.9,461.8 531.5,463.1 C528.1,464.4 525.0,465.5 521.4,467.0 C517.8,468.5 513.6,470.5 510.0,472.0 C506.4,473.5 503.3,474.5 500.0,476.0 C496.7,477.5 493.5,479.4 490.0,481.0 C486.5,482.6 482.4,483.9 478.8,485.3 C475.2,486.7 472.0,488.0 468.6,489.4 C465.2,490.8 462.2,492.6 458.5,493.5 C454.8,494.4 450.4,494.7 446.3,495.0 C442.2,495.3 438.1,495.5 434.0,495.5 C429.9,495.5 424.2,496.6 422.0,495.0 C419.8,493.4 421.5,489.2 421.0,486.0 C420.5,482.8 419.8,478.8 419.0,476.0 C418.2,473.2 416.9,471.3 416.5,469.0 C416.1,466.7 415.9,464.7 416.3,462.0 Z" fill="none" stroke="#cc7af4" stroke-width="0.9" stroke-opacity="0.8"/><line x1="373.0" y1="339.3" x2="628.8" y2="595.2" stroke="#5a3a6a" stroke-opacity="0.45" stroke-width="0.7" stroke-dasharray="1.2 1.6"/><line x1="373.0" y1="595.2" x2="628.8" y2="339.3" stroke="#5a3a6a" stroke-opacity="0.45" stroke-width="0.7" stroke-dasharray="1.2 1.6"/></g>
<line x1="500.90" y1="339.3" x2="500.90" y2="595.2" stroke="#7a7a7a" stroke-opacity="0.3" stroke-width="0.8" stroke-dasharray="2.5 1.5"/>
<line x1="373.0" y1="467.25" x2="628.8" y2="467.25" stroke="#7a7a7a" stroke-opacity="0.3" stroke-width="0.8" stroke-dasharray="2.5 1.5"/>
<rect x="373.0" y="339.3" width="255.79999999999995" height="255.90000000000003" fill="none" stroke="#0f2d40" stroke-width="2"/>
<g font-size="8.9" fill="#1a1a1a" stroke="#1a1a1a" stroke-width="0.18"><text x="371.10" y="607.00" text-anchor="middle">−1.00</text><text x="369.40" y="597.60" text-anchor="end">−1.00</text><text x="402.60" y="607.00" text-anchor="middle">−0.75</text><text x="369.40" y="568.70" text-anchor="end">−0.75</text><text x="432.70" y="607.00" text-anchor="middle">−0.50</text><text x="369.40" y="536.10" text-anchor="end">−0.50</text><text x="466.20" y="607.00" text-anchor="middle">−0.25</text><text x="369.40" y="503.50" text-anchor="end">−0.25</text><text x="498.90" y="607.00" text-anchor="middle">0.00</text><text x="369.40" y="470.90" text-anchor="end">0.00</text><text x="532.00" y="607.00" text-anchor="middle">0.25</text><text x="369.40" y="438.40" text-anchor="end">0.25</text><text x="565.00" y="607.00" text-anchor="middle">0.50</text><text x="369.40" y="406.30" text-anchor="end">0.50</text><text x="597.60" y="607.00" text-anchor="middle">0.75</text><text x="369.40" y="374.10" text-anchor="end">0.75</text><text x="627.20" y="607.00" text-anchor="middle">1.00</text><text x="369.40" y="342.80" text-anchor="end">1.00</text></g>
<text x="503.40" y="335.4" font-size="8.8" text-anchor="middle" fill="#1a1a1a" stroke="#1a1a1a" stroke-width="0.18">ISOPleasant</text>
<text x="344.2" y="462.6" font-size="8.9" text-anchor="middle" fill="#1a1a1a" stroke="#1a1a1a" stroke-width="0.18" transform="rotate(-90 344.2 462.6)">ISOEventful</text>
<text x="493.8" y="626.1" font-size="11.8" text-anchor="middle" fill="#111">China and Other non-European countries</text>
<g font-size="7" fill="#1a1a1a" stroke="#1a1a1a" stroke-width="0.15"><rect x="632" y="339.20" width="16.8" height="7" fill="#f77189"/><text x="632.2" y="355.80">Arabic(n=810)</text><rect x="632" y="360.27" width="16.8" height="7" fill="#ad9d31"/><text x="632.2" y="376.87">Turkish(n=918)</text><rect x="632" y="381.34" width="16.8" height="7" fill="#33b07a"/><text x="632.2" y="397.94">Korean(n=810)</text><rect x="632" y="402.41" width="16.8" height="7" fill="#38a9c5"/><text x="632.2" y="419.01">Indonesian(n=891)</text><rect x="632" y="423.48" width="16.8" height="7" fill="#cc7af4"/><text x="632.2" y="440.08">Chinese(n=1832)</text></g>
</svg></body></html>
